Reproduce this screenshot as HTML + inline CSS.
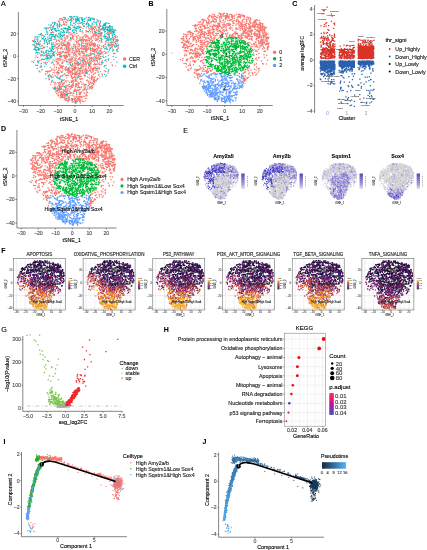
<!DOCTYPE html>
<html><head><meta charset="utf-8"><style>
html,body{margin:0;padding:0;background:#fff;}
svg{display:block;will-change:transform;filter:blur(0.25px);font-family:"Liberation Sans",sans-serif;}
</style></head><body>
<svg width="427" height="550" viewBox="0 0 427 550">
<rect width="427" height="550" fill="#fff"/>
<text x="1.1" y="6.0" font-size="7.2" fill="#000" stroke="#000" stroke-width="0.12">A</text><path transform="scale(.1)" d="M895 175h0m-299 15h0m4 13h0m7-17h0m16 5h0m0 13h0m15-6h0m9-2h0m2-6h0m13 4h0m11 11h0m9 3h0m30-23h0m2 11h0m7 11h0m17-26h0m22 9h0m0 4h0m33 5h0m28-1h0m118-5h0m5-7h0m147 48h0m-89-4h0m-7 7h0m-15-13h0m-96 10h0m-11-7h0m-112-14h0m-45 0h0m-47 15h0m-8-8h0m-3 3h0m-3-5h0m-10 20h0m-7-22h0m-40 7h0m-1 13h0m-3-15h0m0 18h0m0-14h0m-6-12h0m-5-3h0m-58 20h0m2 36h0m64-8h0m4-13h0m3 22h0m16-14h0m14-7h0m8-5h0m7 6h0m5 0h0m20 0h0m36 11h0m50-10h0m17 20h0m19-5h0m14 6h0m24-27h0m4 16h0m1 3h0m7-1h0m3 4h0m28 0h0m15-15h0m3 4h0m13 3h0m5 13h0m13-4h0m0-9h0m20-7h0m14 17h0m10-8h0m14 4h0m20-5h0m5 5h0m5-5h0m51 5h0m63 15h0m-16 14h0m-1-2h0m-79 3h0m-3-6h0m-1 8h0m-16-3h0m-14-14h0m-4 14h0m-23 0h0m-9-12h0m-4-2h0m-5 22h0m-4-29h0m-16 22h0m-8-3h0m0-10h0m-3 1h0m-1 12h0m-1 3h0m-9-4h0m-11-8h0m-5 4h0m-59-4h0m-20-8h0m-13 6h0m-6-8h0m-51 23h0m-32-15h0m-1 9h0m-13-14h0m-11 19h0m-44-16h0m-42-9h0m-114 12h0m24 41h0m14 4h0m6-11h0m25-11h0m14-2h0m20-1h0m50 17h0m31 6h0m1-11h0m19-4h0m19 16h0m31-2h0m30-8h0m29-6h0m12 5h0m20 12h0m32-7h0m2-16h0m4 9h0m3-2h0m7 5h0m20-13h0m7 12h0m19-15h0m1 11h0m0 8h0m2 7h0m18-12h0m8 7h0m16-19h0m20 11h0m11-12h0m0 14h0m11 11h0m1-26h0m7 25h0m58 0h0m26 3h0m4-18h0m0 16h0m16-19h0m21 10h0m13-16h0m4 55h0m-22-26h0m-13 26h0m-20-23h0m-4-3h0m-6 24h0m-1-16h0m-7-8h0m-5 14h0m-8-3h0m-10-8h0m-45 6h0m-2-3h0m-6 15h0m-1 6h0m-2-17h0m-2 2h0m-3 6h0m0-6h0m-4-9h0m0 7h0m-1-6h0m-8 24h0m-3-23h0m-1 5h0m-5 19h0m-7-22h0m-5 17h0m-3-7h0m-7 8h0m-4-18h0m-6 18h0m-1-12h0m-1 4h0m0 0h0m-12 1h0m-3-7h0m-30-10h0m-37 28h0m-1-11h0m-13-2h0m-2 11h0m-66-2h0m-1 3h0m-20-26h0m-14 10h0m-16-12h0m-6 23h0m-2 2h0m-6-15h0m-9 6h0m-3 2h0m-8-18h0m-7 29h0m-2-18h0m-18 16h0m-23-10h0m-3-2h0m-3 9h0m-6 4h0m-4-3h0m-27-9h0m-8 4h0m-33-5h0m-12 4h0m-22 5h0m-15-24h0m-38 14h0m-44 10h0m-2 2h0m-8-6h0m-21-6h0m-49 45h0m23-19h0m5 8h0m33-9h0m22 5h0m38-3h0m43 8h0m9-10h0m18-2h0m74 22h0m24-9h0m4-9h0m15 9h0m7-18h0m8 0h0m1 13h0m0 5h0m29-5h0m15 2h0m2 7h0m2-22h0m4 24h0m3-12h0m3-13h0m3 0h0m24 3h0m0-3h0m5 1h0m3 14h0m3 8h0m27-13h0m2 10h0m1-3h0m0 4h0m20-13h0m1 11h0m8-2h0m5-15h0m20 9h0m7-9h0m11-3h0m6 1h0m1 14h0m4 7h0m8-1h0m2 0h0m15-11h0m0 16h0m3-8h0m1-3h0m8-15h0m6 3h0m5-1h0m1 16h0m18 4h0m6-17h0m7 23h0m11 0h0m4-10h0m1-11h0m11 4h0m4-1h0m5 16h0m8-1h0m5-17h0m17-2h0m12-5h0m13 18h0m4-17h0m1 2h0m10 4h0m7 4h0m14-9h0m1 0h0m32 11h0m6 15h0m6-9h0m5-2h0m5-14h0m6 2h0m5 7h0m26 30h0m-20 11h0m-1-13h0m-8-2h0m-6-6h0m-38 23h0m-20-26h0m-7 15h0m-2-5h0m-1 4h0m-10 0h0m-13 9h0m-45 5h0m-4-1h0m-13-11h0m-12-15h0m-11 4h0m-4 9h0m-2-10h0m-11 10h0m-8-13h0m-25 12h0m0 3h0m-8 7h0m-2-21h0m-5 2h0m-10 16h0m-3-1h0m-1-10h0m-11 3h0m-8-3h0m-5 11h0m-4-10h0m0 5h0m-4-5h0m-6 9h0m-1 5h0m0-9h0m-4-9h0m-6 0h0m-6-5h0m-3 15h0m0 4h0m-2 4h0m-4-18h0m-3 4h0m-1-5h0m0-2h0m-7 0h0m-1 3h0m-1 23h0m0-21h0m-1 8h0m-2-10h0m-6 13h0m-10-19h0m-2 13h0m-5-2h0m-4 5h0m-4 12h0m-3-12h0m0 1h0m-15 5h0m0-19h0m-14 17h0m-14-16h0m-25-2h0m-3 15h0m-10-11h0m-11 11h0m-15 12h0m-17-25h0m-2 17h0m0-20h0m-1 18h0m-6 2h0m-5-9h0m-17 6h0m-1-17h0m-11 5h0m0-3h0m-4 1h0m-18 11h0m-3-1h0m-8-3h0m-13 1h0m-1-1h0m-1 14h0m0 0h0m-15-18h0m-1 0h0m-35 7h0m-12 1h0m-8 6h0m-36-13h0m-12 10h0m-27-17h0m-20 24h0m-21-9h0m-32-15h0m-20 16h0m43 35h0m21-16h0m15 15h0m59-20h0m57 20h0m12-15h0m16 23h0m2-23h0m5 22h0m5-3h0m7-3h0m8-2h0m2-4h0m14 2h0m4 11h0m15-20h0m0 13h0m2-19h0m1 0h0m10 9h0m11 12h0m0-15h0m4 19h0m7-5h0m6-4h0m19-9h0m3 18h0m2-1h0m4-13h0m1 6h0m1 3h0m1-9h0m0-6h0m1 12h0m2 4h0m0-17h0m7 7h0m1 15h0m5-18h0m51 13h0m16-5h0m1-14h0m11-2h0m2 25h0m8-5h0m2-6h0m24 6h0m4-8h0m1 3h0m7-9h0m11 3h0m18 3h0m5 13h0m2-13h0m3-1h0m5 0h0m3 0h0m2 11h0m1-3h0m7-16h0m9 16h0m6-5h0m3-8h0m2 17h0m2 3h0m5-28h0m5 20h0m0 3h0m3-9h0m4-6h0m2 4h0m6 14h0m3 1h0m0-16h0m4 13h0m5-5h0m4-7h0m3 13h0m5-8h0m34-18h0m33 0h0m31 22h0m9-20h0m1-1h0m16 7h0m5 2h0m17 9h0m12-15h0m10 24h0m1-2h0m3-3h0m0-19h0m6 19h0m0 3h0m2-26h0m3 25h0m9-23h0m37 35h0m-2 17h0m-2-20h0m0 3h0m-7 2h0m-5-9h0m0 5h0m-5 10h0m-1-10h0m-10 17h0m-27-10h0m0-2h0m-4-7h0m-5-2h0m-4 23h0m0-5h0m-6-17h0m-7 3h0m-8 12h0m-7-14h0m-43 8h0m-3 13h0m-3-15h0m-17 6h0m-19-14h0m-1 27h0m-1-26h0m-4 25h0m-10-12h0m-1 5h0m-3 8h0m-1-28h0m-4 10h0m-1-5h0m-18-4h0m0 10h0m-2 1h0m-4 5h0m-2-9h0m-4-8h0m0 9h0m-5 1h0m-10-8h0m0 26h0m-16-22h0m-3 5h0m-12-5h0m-2-6h0m-5 27h0m-1 0h0m0-6h0m-11-13h0m-5 10h0m-7-4h0m-2 0h0m-3 13h0m-3-5h0m0-15h0m-8 16h0m-1 3h0m-5-21h0m-4 7h0m-2-3h0m-12 1h0m-6 15h0m-3-13h0m-20-2h0m-10 9h0m-14-6h0m-3 4h0m-14 6h0m-2 1h0m-1-17h0m-13 2h0m-6 8h0m-16 2h0m-17-19h0m-4 4h0m-7 22h0m0-7h0m-1 1h0m-8-11h0m-3-9h0m-3 21h0m-8-16h0m-1 13h0m-2-16h0m-1 22h0m-1-24h0m-5 11h0m-3-10h0m-3 1h0m-7 4h0m-13 3h0m-1-8h0m-3 4h0m-6 24h0m-2-6h0m-1-19h0m-1 19h0m0 6h0m-21-22h0m-9 6h0m-2-3h0m-7 11h0m-15 2h0m-11-8h0m-11-5h0m-8 8h0m-10 3h0m-5-5h0m-69 4h0m-10 9h0m-14-24h0m-7 5h0m-51 12h0m-20-12h0m-8 34h0m49 3h0m3 9h0m7-18h0m27-3h0m1-3h0m94 3h0m30-2h0m21 5h0m1-8h0m1 11h0m3 0h0m13-7h0m17 6h0m1-10h0m7 6h0m14 7h0m18-12h0m2 10h0m13 7h0m1 3h0m3-21h0m6 7h0m6 11h0m2 11h0m2-2h0m2-8h0m0-18h0m1 20h0m0-19h0m5-1h0m1 16h0m5-16h0m2 27h0m6-9h0m2-10h0m15-6h0m2 19h0m4-14h0m8-5h0m6 22h0m16-20h0m2-5h0m2 15h0m6 3h0m11-14h0m3 16h0m2-13h0m2 11h0m7 7h0m6-9h0m4-10h0m5-5h0m7 6h0m16-1h0m0 6h0m8-11h0m3 14h0m4-3h0m3 0h0m7 3h0m2-1h0m0 15h0m1-24h0m1 23h0m2-6h0m3-17h0m0-5h0m3 23h0m1-6h0m2 8h0m0-4h0m0-5h0m2-7h0m7 6h0m1 1h0m2-9h0m2-4h0m4 5h0m1 2h0m1-5h0m0 6h0m1-8h0m16 15h0m0-18h0m0 22h0m1-8h0m2 11h0m11-20h0m5 13h0m0 3h0m1-11h0m3 13h0m8-1h0m1-12h0m8 4h0m1 3h0m0-2h0m5 14h0m4-12h0m2 9h0m5 2h0m1-21h0m9 1h0m2 8h0m4 6h0m8-22h0m15 24h0m1 4h0m3-18h0m0 18h0m4-4h0m45-22h0m9-2h0m63 8h0m6 6h0m4 4h0m0 4h0m39-4h0m1-10h0m4-1h0m-3 28h0m-6 3h0m-22 14h0m-10 5h0m-6-4h0m-63-4h0m-12-7h0m-16-8h0m-15 11h0m-9 4h0m-2-11h0m0 9h0m-4 10h0m-8-2h0m-1-20h0m-2 19h0m-5-2h0m-7-16h0m-6 22h0m-5-3h0m-3 4h0m-6-12h0m-2-12h0m-1 11h0m-4 0h0m-14-15h0m-4 19h0m-2-15h0m-5 24h0m-6-29h0m-3 4h0m-3-3h0m-1 25h0m-13 3h0m-3-18h0m-1 11h0m-5 4h0m-37-16h0m-4-9h0m-4 5h0m-12 18h0m-5-21h0m-3 5h0m-3 16h0m-7-20h0m-2 11h0m-1 3h0m-1-6h0m-3 0h0m-6-10h0m-7 19h0m-9 1h0m-3 7h0m-6-22h0m-5 18h0m-8-19h0m-8 7h0m-2-12h0m-7 8h0m-2-7h0m-4 23h0m-1 0h0m-5-7h0m-1 0h0m-4-10h0m-1 18h0m-1-4h0m-14-12h0m-5 11h0m-10-7h0m-19-8h0m-1 21h0m-6-23h0m-1 15h0m-2-7h0m-11 5h0m-5 2h0m-2-7h0m-5-9h0m0 12h0m-9 4h0m-4-2h0m-8-3h0m-4-9h0m-15 17h0m-12-12h0m0 12h0m-2 6h0m-4-12h0m-8-4h0m-12 2h0m-17 9h0m-12-22h0m-14 21h0m-79-12h0m-21 14h0m-20-8h0m-57 33h0m43-9h0m5 10h0m54-5h0m4 4h0m1-14h0m51 16h0m17-7h0m8-4h0m29 0h0m0 4h0m6-10h0m2-4h0m8 4h0m7-3h0m3 24h0m1-21h0m0 10h0m1 12h0m0-4h0m1-1h0m1-10h0m4 14h0m6-3h0m1-3h0m4 3h0m13-9h0m0 3h0m1 1h0m11 10h0m1-11h0m3-4h0m2 13h0m2-8h0m6 0h0m4-9h0m8 10h0m0-5h0m2 10h0m2 5h0m12-25h0m4 11h0m5-9h0m6 2h0m35-4h0m6 11h0m20 0h0m4-4h0m7 13h0m20-18h0m6 6h0m4 1h0m28 4h0m5 2h0m1 0h0m6-11h0m8 12h0m11-2h0m2 9h0m15-5h0m0-12h0m10 8h0m5-16h0m7 16h0m11-9h0m4-3h0m21-5h0m8 26h0m10-8h0m8 0h0m8-5h0m13 7h0m3-3h0m5-16h0m2 10h0m3-3h0m3 15h0m7 3h0m2-25h0m23 9h0m3 18h0m52-14h0m54 42h0m-55-5h0m-46-17h0m-5-4h0m-32 14h0m-8 9h0m-11-13h0m-2 9h0m0-15h0m-1 8h0m-1 3h0m-2 4h0m-5-3h0m-6-15h0m-4 11h0m-8-9h0m-3 26h0m-17-7h0m0 5h0m-2-24h0m-6 12h0m-1-1h0m-3 4h0m-8 2h0m-1-13h0m-2 8h0m-1 6h0m-6-4h0m-5-2h0m-1-12h0m-1 16h0m-6 6h0m-19-7h0m-8-9h0m-3 12h0m-13-15h0m-3 16h0m0 0h0m-7 0h0m0 1h0m-1-6h0m-5-17h0m-4 22h0m-8-9h0m-1-12h0m-17 5h0m0-5h0m-5 21h0m0-16h0m0-3h0m-3 9h0m-10 5h0m-1 8h0m-20-13h0m-5-12h0m-5 25h0m-4-9h0m-10-13h0m-9 24h0m-1-27h0m-5 13h0m-3 4h0m-5 8h0m-2-25h0m-4 19h0m-7 9h0m0-6h0m-6-22h0m-7 19h0m-24-13h0m-1-5h0m-2-1h0m-3 5h0m-2 5h0m-2 6h0m-5-13h0m-4 7h0m-24 19h0m-11-25h0m-4 21h0m-2-5h0m-4-2h0m-8-5h0m-6 11h0m-2-4h0m-8 3h0m-5-8h0m-12 6h0m-1 5h0m-83-16h0m-17-9h0m-22 27h0m-60-27h0m-3 2h0m-19 3h0m-14 27h0m50 4h0m19-5h0m28 22h0m3 4h0m13-5h0m3 5h0m16-2h0m16-16h0m52-1h0m18 2h0m3 3h0m5-1h0m1 2h0m3 11h0m3 1h0m2-5h0m9 6h0m2-25h0m12 3h0m23 13h0m0 6h0m9-3h0m6-21h0m11 6h0m14 3h0m6 5h0m3 1h0m10 4h0m14 7h0m0-21h0m3 5h0m2 15h0m9-15h0m2 12h0m1-13h0m14 5h0m19-9h0m1 21h0m5-18h0m7 2h0m9 4h0m3-4h0m4 1h0m4 9h0m2 3h0m22-15h0m1-9h0m17 9h0m6 13h0m1-14h0m2 11h0m0 2h0m2-2h0m1-13h0m9 1h0m4 8h0m1-9h0m9 20h0m0-12h0m6 6h0m14-1h0m8 9h0m10-18h0m3 19h0m0-15h0m1-1h0m0 3h0m4-1h0m12 4h0m1-15h0m13 10h0m6-8h0m2-2h0m8 4h0m17 0h0m1-8h0m10 8h0m4 10h0m17 8h0m6-26h0m15 23h0m2 0h0m9-19h0m42 10h0m43 12h0m48 32h0m-33 0h0m-3-8h0m-61 2h0m-41-19h0m-4 11h0m-16 3h0m-8-5h0m-1 3h0m-10-8h0m-4 3h0m-13 2h0m-10 5h0m-5-6h0m-2-1h0m-2-7h0m-2-3h0m-8 16h0m-25-14h0m-1 8h0m-5-6h0m-6 15h0m-6-4h0m-5-6h0m-2-5h0m-15-2h0m-8 16h0m0-4h0m-8-4h0m0-9h0m-8 17h0m-9-17h0m-5 18h0m-1-16h0m-3 10h0m-6 7h0m-11 2h0m-4-21h0m-6 16h0m-5-11h0m-2 6h0m-4-10h0m-3 15h0m-2 0h0m-1 7h0m-3-7h0m0 0h0m-2 11h0m-5-7h0m-1-19h0m-2 12h0m-8-5h0m-4-7h0m-1 4h0m-3 15h0m-2 2h0m0-19h0m-4 24h0m-4-19h0m-1-6h0m-12 25h0m-5-12h0m-2-5h0m-7 14h0m-12-5h0m-3-14h0m-2 12h0m-75-15h0m-5 26h0m-4-28h0m-1 22h0m-17-10h0m-4 11h0m-12-16h0m-12 4h0m-27 8h0m-134 5h0m4 16h0m88 5h0m16 13h0m21 0h0m5-18h0m17-3h0m6 8h0m20 3h0m5 6h0m2-4h0m10-19h0m0 17h0m5-14h0m1-2h0m6-1h0m0 15h0m4 4h0m2-3h0m3-2h0m4 12h0m1-23h0m4-1h0m4-1h0m12 18h0m7-5h0m2 7h0m4-16h0m16 11h0m3 9h0m3-9h0m8 11h0m2-18h0m15 8h0m3 3h0m1-22h0m12 3h0m0 1h0m6 18h0m1-3h0m6 5h0m2-5h0m0 10h0m2-10h0m2 4h0m1-13h0m5 17h0m2-24h0m4 13h0m4-2h0m1 10h0m17 5h0m2-13h0m5 13h0m16-5h0m6-11h0m5 13h0m1-24h0m3 16h0m2-17h0m1 15h0m12-7h0m1-1h0m2-7h0m17 7h0m2 16h0m2 4h0m6-26h0m23 10h0m3 11h0m3-22h0m5-1h0m5 6h0m2-2h0m1 24h0m2-26h0m6 10h0m7 11h0m7 2h0m1 4h0m10-4h0m1-8h0m3 10h0m3-6h0m1-20h0m11 19h0m0-7h0m11 10h0m5-17h0m4 21h0m14-12h0m0 7h0m3-3h0m91 35h0m-41-7h0m-38 9h0m-14-20h0m-11 22h0m-13-14h0m-13 2h0m-20-6h0m-2 10h0m-6-6h0m-5-9h0m-12 20h0m-4-10h0m-5-8h0m-6 7h0m-8 9h0m-12-11h0m-9 0h0m-1-12h0m-5 4h0m-8 11h0m-2-5h0m-1 3h0m-1 3h0m-2 12h0m-12-26h0m-4 10h0m-2 11h0m-1-9h0m-1 14h0m-6-13h0m-13 7h0m-3-12h0m-5 5h0m-8-11h0m0 15h0m-2-18h0m-12 16h0m-5 9h0m-3-5h0m-14-13h0m-8 11h0m-5-16h0m-9 9h0m-3 2h0m0-7h0m-5-7h0m-2 8h0m0 19h0m-1-15h0m-10 11h0m-2 2h0m-2 1h0m-2-6h0m-3 4h0m-7-1h0m-1-22h0m0 14h0m-5-7h0m-5 4h0m-4 9h0m-6-5h0m-2-8h0m-11-1h0m0-3h0m-11 3h0m-21 11h0m-13 8h0m-3 2h0m-12-15h0m-16-4h0m-1 7h0m-11 13h0m-10-27h0m-16 12h0m-6-1h0m-21-2h0m-9 3h0m-10 8h0m-10-4h0m-1 10h0m-12-5h0m-1 4h0m-4-2h0m-10-3h0m-6 1h0m-34-19h0m-8 7h0m-21 7h0m-4 3h0m10 9h0m54 18h0m4 8h0m15-15h0m23 16h0m30 1h0m6-25h0m15 5h0m18-5h0m7 13h0m3-12h0m1 25h0m11-11h0m0-13h0m6 4h0m21-5h0m24 24h0m2-2h0m6-10h0m13 13h0m13-25h0m0-3h0m14 13h0m3-14h0m0 11h0m4-7h0m8-3h0m2 23h0m1-20h0m9 5h0m12 2h0m1 1h0m0 3h0m0 9h0m1-5h0m4-6h0m6 3h0m7 4h0m4-11h0m1 16h0m3 4h0m1-17h0m1-11h0m5 26h0m0-9h0m0-14h0m1 4h0m1 16h0m1 3h0m4-3h0m2-21h0m2 16h0m9-4h0m2 1h0m8 12h0m2-18h0m2 16h0m2-2h0m3-7h0m1-16h0m1 7h0m1 7h0m0 12h0m16-15h0m1 2h0m10-7h0m8 3h0m1 1h0m15 7h0m4-18h0m4 12h0m6-6h0m5-2h0m1 6h0m3 8h0m18 9h0m16-26h0m4 8h0m14-9h0m5 28h0m2-3h0m7-7h0m10-11h0m2 6h0m37 12h0m30-8h0m3 10h0m58-17h0m-25 33h0m-58 6h0m-15-17h0m-31 17h0m-5 5h0m-15-1h0m-3 1h0m-3-10h0m-10-8h0m-1 13h0m-1 10h0m-22-5h0m-16-7h0m-22-14h0m-4 11h0m-2-8h0m-2-5h0m-4 0h0m-2 2h0m-28 12h0m-11-1h0m-12 7h0m-1-11h0m-1 3h0m-1-8h0m-5 19h0m-9-14h0m0-2h0m-23 4h0m-5 8h0m-9 8h0m-7-2h0m-10-13h0m-3 6h0m0 3h0m-1-21h0m-2 11h0m-1-10h0m-28 1h0m-6-1h0m-7 3h0m-2 23h0m-9-26h0m0 6h0m-37-5h0m-3 3h0m-12 6h0m-8 8h0m-22 7h0m-6-3h0m-15-16h0m-8-5h0m-13 15h0m-13 5h0m-6-3h0m-8-8h0m-23-8h0m-3 16h0m-1-17h0m7 37h0m7 7h0m89-13h0m14 0h0m0 12h0m1-1h0m18 6h0m10-3h0m8 3h0m10-3h0m14 9h0m21 0h0m38-26h0m4 24h0m3-16h0m10 15h0m16-10h0m2-14h0m1 18h0m14-1h0m27-9h0m8 5h0m0 2h0m5-12h0m9 8h0m7-5h0m42 20h0m8-7h0m7 9h0m16-26h0m16 15h0m2-12h0m3-5h0m4 8h0m10 19h0m2-15h0m3 1h0m2 2h0m4 1h0m0-7h0m0 5h0m6 11h0m13-1h0m9-10h0m2-9h0m9 1h0m-36 39h0m-3-8h0m-3-5h0m-6 6h0m-1 16h0m-9-5h0m-2 2h0m-6 7h0m-8-14h0m-5-2h0m-3-11h0m0 28h0m-8-6h0m-7-12h0m-3 1h0m-49 14h0m-13-18h0m-14-1h0m-1 1h0m-11 17h0m-9 2h0m-1-9h0m-5-8h0m-13 18h0m0-28h0m-2 28h0m-4-28h0m-3 0h0m-8 1h0m-11 10h0m-8 12h0m0-13h0m0-1h0m-3-5h0m-2-1h0m-10 11h0m-1-12h0m-17 9h0m-1 3h0m-33-6h0m-2-1h0m-1-5h0m-17 10h0m-2 12h0m-12-3h0m0 5h0m-12-18h0m-4 1h0m-1 12h0m-1-2h0m-15-4h0m-2-1h0m-8 9h0m-1 3h0m-2-5h0m-5-8h0m-18 14h0m-9-16h0m-1 10h0m-13-8h0m-19-13h0m-5 12h0m-7 24h0m39 3h0m5 19h0m5 1h0m22-1h0m10-13h0m8 3h0m3-15h0m0 4h0m3 15h0m2 3h0m2-23h0m2 23h0m10 1h0m8-22h0m2 13h0m4 5h0m2 0h0m2-22h0m19 28h0m4-2h0m2-10h0m1 7h0m0-6h0m6 11h0m8-12h0m6-5h0m1 4h0m9 12h0m2-25h0m2 21h0m3 5h0m4-4h0m8-5h0m1 3h0m1 2h0m4-11h0m4-3h0m2-6h0m3 9h0m1 2h0m3 6h0m0-6h0m1 8h0m4-7h0m1-14h0m20-2h0m0 9h0m5 1h0m2 13h0m7-12h0m5-8h0m9-3h0m0 17h0m5 8h0m25 2h0m5-25h0m1 2h0m19 24h0m3-23h0m3 6h0m5 5h0m6-12h0m5 3h0m31-5h0m1 4h0m8 20h0m13 3h0m7-5h0m2-9h0m0 6h0m5-2h0m8-13h0m3 0h0m-11 29h0m-7 13h0m-4-4h0m-5-14h0m-8 10h0m-3-3h0m-6 14h0m-15-3h0m-3 0h0m-3-17h0m-9 28h0m0-4h0m-8-4h0m-2-20h0m-1-1h0m-1 5h0m-5 24h0m-2-16h0m-2 6h0m-1-2h0m-2 6h0m-12 5h0m-14-21h0m-1-4h0m-12 22h0m-2-3h0m-1-18h0m-8-2h0m-6 1h0m-4 4h0m-5-1h0m-22 16h0m-1-21h0m-7 20h0m-20-17h0m-7-3h0m-5 6h0m-7 13h0m-2-3h0m-24-3h0m-7 7h0m-1 2h0m-13-2h0m0-14h0m-3 4h0m-4-5h0m0 3h0m-1-4h0m0 23h0m0-21h0m-19 19h0m-3-3h0m-15-6h0m-3-11h0m0 2h0m-1 16h0m-2-23h0m-9 17h0m-1-18h0m-4 9h0m-1 3h0m-1-8h0m0 16h0m-6 7h0m-2-5h0m-6 0h0m0-4h0m-2-3h0m-3-13h0m-11 12h0m-3 13h0m-1-16h0m-3-3h0m0 11h0m-5 1h0m-3-16h0m-2 22h0m-4-10h0m-7-1h0m-3-8h0m23 43h0m14-13h0m3 12h0m5-1h0m1-15h0m1 1h0m13 19h0m3-21h0m0-2h0m1 13h0m11 14h0m3-13h0m10 6h0m10 9h0m3-26h0m3 19h0m0-12h0m9-3h0m7 10h0m5 4h0m3-18h0m6 26h0m1-16h0m7 2h0m1-6h0m1-1h0m16-8h0m6 15h0m11 9h0m5 3h0m23-8h0m4-15h0m6 11h0m2-6h0m1-2h0m6 7h0m6-5h0m4-4h0m0-3h0m7-2h0m9 4h0m5 1h0m0 2h0m6 20h0m10-3h0m4-2h0m8-2h0m17-10h0m33 11h0m7-1h0m4 6h0m-4 30h0m-7-16h0m-2 9h0m-8 2h0m-7-21h0m-8 1h0m-32 8h0m-2-6h0m-1-2h0m-3 0h0m-1 13h0m-8 2h0m-1-14h0m-24 15h0m-2-8h0m-1 0h0m-29-4h0m-4 24h0m-9-8h0m-1-20h0m-14 3h0m-5 19h0m-7-18h0m-7-1h0m-6 2h0m-5-4h0m-1 11h0m-1 12h0m-1-14h0m-4 9h0m-5-3h0m-3 7h0m-4-14h0m-11 0h0m0 16h0m-3-8h0m-1-15h0m-1 4h0m-2-3h0m-1 0h0m-3 12h0m-7 0h0m-1 0h0m-1 1h0m0 1h0m-3 7h0m-3-5h0m-3-11h0m-5-6h0m-2 7h0m-1 12h0m0-20h0m-2 22h0m-7-4h0m-16 6h0m-2-16h0m-3 14h0m-12-17h0m-3-4h0m20 28h0m16 17h0m6-17h0m3 11h0m1-11h0m5 1h0m4 13h0m5-1h0m3-1h0m3-13h0m14 15h0m1 6h0m1-13h0m0 7h0m4 14h0m0-25h0m3 21h0m6-24h0m4 22h0m4 2h0m9-24h0m4 7h0m5 11h0m4-7h0m1 10h0m5-11h0m20 13h0m10 3h0m19-17h0m2 19h0m8-5h0m3-2h0m2-5h0m3-10h0m12 20h0m0-1h0m1-1h0m1-18h0m5 16h0m3-13h0m7-6h0m1 25h0m4-21h0m1-5h0m3 13h0m0-11h0m10-1h0m8 8h0m1-5h0m0 10h0m14-16h0m14 4h0m5 19h0m14-1h0m1-23h0m-11 48h0m-19 6h0m-11-2h0m-5-4h0m-12-10h0m-7 13h0m-2 6h0m-1-12h0m-1 8h0m-1-23h0m-1 24h0m-7-10h0m0-14h0m-4 6h0m-8 17h0m-6-4h0m-1-13h0m-5 4h0m-4 17h0m-3-1h0m-4-9h0m-4-10h0m-5 10h0m-7-16h0m-2 5h0m-1 23h0m-12-15h0m-6-7h0m0-1h0m-1 11h0m-19-12h0m-9 7h0m-2-9h0m-2 4h0m-4 13h0m-1 7h0m-6-14h0m-11-1h0m-3-5h0m-3 5h0m-7-4h0m74 22h0m27 10h0m1 0h0m0 0h0m5-10h0m3 6h0m1 5h0m42-3h0m1 3h0" stroke="#F8766D" stroke-width="13.5" stroke-linecap="round" fill="none"/><path transform="scale(.1)" d="M885 175h0m-20-2h0m-55 4h0m-16 2h0m-17-10h0m-10-1h0m-17-5h0m-9 1h0m-2 2h0m-15 12h0m-6-9h0m-7-6h0m-1 5h0m-1 2h0m-12-1h0m-1-3h0m-45 9h0m-14 0h0m-20 13h0m6 9h0m28-15h0m31 7h0m13 17h0m6-6h0m2 2h0m8-5h0m6-9h0m19 7h0m19-6h0m0-1h0m3 16h0m8-5h0m1-6h0m2-5h0m3 8h0m1 0h0m1 4h0m0 2h0m0-20h0m1 17h0m3 6h0m5-16h0m0 9h0m7 7h0m27-7h0m3-14h0m1-4h0m3 11h0m1 13h0m7-8h0m12-5h0m5-7h0m32 11h0m1 5h0m6 4h0m8-5h0m3-7h0m6-9h0m1 21h0m1-4h0m11-20h0m8 10h0m7-1h0m5-3h0m3 10h0m30 1h0m7 11h0m21 0h0m89 26h0m-18-1h0m-8-6h0m-4 2h0m-10 7h0m-42-18h0m-1-3h0m-21-4h0m-20 7h0m-6 11h0m-18-5h0m0-13h0m-17 20h0m-49-20h0m-5 28h0m-3-6h0m-20-19h0m-5 19h0m-12-20h0m-2 26h0m-7-15h0m-6 4h0m-10 1h0m-6 4h0m-6-18h0m-11 20h0m-16-19h0m-7 11h0m-2-17h0m-16 20h0m-1 4h0m-2 1h0m-31-12h0m-1 15h0m-69-12h0m-64 13h0m-13-8h0m-7-5h0m-6 12h0m-1-1h0m-5-16h0m-13 7h0m0 0h0m-38 21h0m19 6h0m5-8h0m22 20h0m2-14h0m9-7h0m24 9h0m3 5h0m1-14h0m17 13h0m2-11h0m6-1h0m15 10h0m46-6h0m24 11h0m5 3h0m20-22h0m14 12h0m18 3h0m30 11h0m11-7h0m60 0h0m18-20h0m3 2h0m22 25h0m1-28h0m2 16h0m2-11h0m21 19h0m10-22h0m1-2h0m43 1h0m1 0h0m30 0h0m3 17h0m26 3h0m10-8h0m2-2h0m1-11h0m2 18h0m3-5h0m1-9h0m1-4h0m10 11h0m1-9h0m22 26h0m13 0h0m2 0h0m2-13h0m1-1h0m4 7h0m0-6h0m2 9h0m16 2h0m4-4h0m15 31h0m-13 4h0m-2-14h0m-6 13h0m-10-1h0m-2-6h0m-3-17h0m-3 3h0m-1 18h0m-9-17h0m-11 1h0m-1 15h0m-1-11h0m-9 15h0m-5-25h0m-5-1h0m-3 8h0m-2 15h0m-1-9h0m-9 9h0m-1 4h0m0 0h0m-2-25h0m-1 13h0m-10-12h0m-2 14h0m-9 0h0m-23-9h0m-5 19h0m-5-24h0m-38 22h0m-10-11h0m-7-11h0m-66 4h0m-57 21h0m-1-6h0m-9-21h0m-14 13h0m-16 0h0m-2 0h0m-7-5h0m-11-8h0m0 6h0m-10 21h0m-3-26h0m-29 16h0m-2 4h0m-1-20h0m-7 20h0m-1-21h0m-3 20h0m-4-15h0m-2 16h0m-10-8h0m-7 3h0m-9 2h0m0-11h0m-11 6h0m-1 1h0m-18 4h0m-13-2h0m-3 4h0m-31-9h0m-4-12h0m-18 12h0m-4 6h0m-7-4h0m-6 1h0m-1 7h0m-12-16h0m-4 15h0m-13-1h0m-2-19h0m-3 18h0m-12-17h0m-23 6h0m-5 6h0m-5 9h0m-5-14h0m-12 1h0m22 32h0m3 15h0m3-20h0m1 21h0m19-23h0m21 18h0m2-22h0m22 21h0m16-20h0m6 3h0m3 10h0m4-8h0m16-3h0m11 1h0m15 21h0m1-11h0m16 10h0m8-19h0m4-4h0m0 14h0m1 8h0m8-2h0m0-2h0m22 5h0m1-15h0m7-10h0m6 25h0m41-23h0m3 8h0m18 11h0m8-22h0m10 3h0m61 7h0m62 7h0m67 10h0m1-11h0m10 9h0m15-17h0m7 11h0m34 10h0m18-27h0m6 4h0m2 14h0m11-4h0m19-9h0m4-5h0m2 6h0m7 2h0m3-10h0m2 8h0m2 4h0m0 4h0m5-13h0m7 10h0m12-11h0m2 26h0m1-14h0m7 3h0m3 3h0m8-10h0m2 14h0m0-22h0m14 2h0m-9 41h0m-5 2h0m-8-12h0m-9 19h0m-3-7h0m-9-17h0m-25 19h0m-2-2h0m-8-1h0m-30-2h0m-6 14h0m-32-5h0m-5-19h0m-66 2h0m-168-3h0m-141 17h0m-14 4h0m-7-17h0m-5 11h0m-12-16h0m-4 9h0m0-6h0m-14 24h0m-15-9h0m-4 9h0m-21-15h0m-9 0h0m-5 2h0m-8-3h0m-6 2h0m-9 3h0m-18-17h0m-20 12h0m-46-8h0m-2 15h0m-2-12h0m-3 7h0m-17-2h0m-38 27h0m11-1h0m30-3h0m31 20h0m9-4h0m10-16h0m4-5h0m10 26h0m34-5h0m2-22h0m8 20h0m9 6h0m4-5h0m2-18h0m4 3h0m15-3h0m12 1h0m1 13h0m5-13h0m4 19h0m17-15h0m16 10h0m0-14h0m4 17h0m12-16h0m5 8h0m0 6h0m16-13h0m80 18h0m303 0h0m34-16h0m5 15h0m0-17h0m6-2h0m11 23h0m2-5h0m14 7h0m9-17h0m5 0h0m5 12h0m16 3h0m12-19h0m28 10h0m18-9h0m5 29h0m-3 12h0m-7-13h0m-16 16h0m-19-11h0m-2-6h0m-4 2h0m-19 1h0m0 1h0m-3-1h0m-18 6h0m0-11h0m-9 1h0m-3-4h0m-14 17h0m-41-17h0m-3 6h0m-5 9h0m-205-6h0m-211 15h0m-60-22h0m-25-1h0m-10 11h0m-13 12h0m-2-16h0m-13-8h0m-11 27h0m0-11h0m0 0h0m-18 11h0m-2-14h0m0-11h0m-4 3h0m-32 14h0m-28-20h0m-2 22h0m-8-19h0m-15 22h0m-11-12h0m-4 9h0m-6 3h0m-4 34h0m12-1h0m1-1h0m5-19h0m14 4h0m8 3h0m9 8h0m0-1h0m7-9h0m3 13h0m3-4h0m4 5h0m46-10h0m4-16h0m29 23h0m0-15h0m2 3h0m15 4h0m5-7h0m17 20h0m4-19h0m6 16h0m11-5h0m106-20h0m96 22h0m62 2h0m258 0h0m25 2h0m10 1h0m9-22h0m15 15h0m5-13h0m35 5h0m1 6h0m2-7h0m14-1h0m13 18h0m-23 15h0m-18-2h0m-4-12h0m-20 23h0m-29-22h0m-30 15h0m-25-9h0m-197 3h0m-23-4h0m-62 13h0m-214-2h0m-13-2h0m-7 4h0m-23 9h0m-25-11h0m-36 5h0m-35-11h0m-24 14h0m-14-14h0m-3-4h0m-1 18h0m-7-4h0m-4 10h0m0 11h0m4-12h0m4 20h0m5 4h0m7-7h0m14 0h0m3-15h0m7 7h0m17-7h0m2 3h0m53 21h0m2-3h0m1 4h0m14-6h0m19-17h0m6 15h0m9 3h0m5-6h0m5-14h0m9 10h0m42 17h0m90-20h0m64-1h0m176-2h0m113 0h0m28 2h0m17 2h0m10 2h0m21 8h0m4-18h0m7 1h0m61 22h0m0-9h0m-43 14h0m-41 8h0m-31 14h0m-64-6h0m-192-11h0m-173 2h0m-82 5h0m-7 9h0m0 0h0m-1-13h0m-10 19h0m0-26h0m-1 0h0m-10 8h0m-12 20h0m-1-26h0m-14 3h0m-2 18h0m-16-3h0m-4-21h0m-6 13h0m-17 6h0m-7-11h0m-13-7h0m-7 5h0m-1-4h0m-15 19h0m-16-8h0m-13-1h0m-2 3h0m-10 4h0m21 12h0m41 6h0m4 5h0m1-4h0m12 10h0m13-6h0m2-4h0m13 11h0m11 8h0m3-15h0m3-2h0m4 1h0m8 4h0m3 2h0m7 11h0m2-6h0m8-5h0m9 4h0m10-18h0m1 10h0m5-5h0m4 3h0m2 8h0m59 7h0m75-2h0m75-18h0m112 3h0m41 4h0m41-7h0m63-6h0m12 26h0m37 1h0m74-2h0m27 8h0m-75 19h0m-25 4h0m-50-12h0m-16-2h0m-44 3h0m-36-11h0m-225 23h0m-19-4h0m-139 3h0m-15-19h0m-11-5h0m-5 15h0m-11 1h0m-2-12h0m-12 3h0m-2 8h0m-4 12h0m-9-14h0m-13 8h0m-17-4h0m-10 6h0m-99 18h0m16 11h0m41-14h0m1 11h0m3-7h0m1 13h0m140-7h0m5 1h0m140-3h0m119 10h0m21 1h0m14-24h0m56 1h0m96 2h0m44 14h0m10-1h0m3 5h0m20-21h0m33-5h0m86 20h0m-120 37h0m-93-13h0m-70 7h0m-2-12h0m-45-1h0m-66-3h0m-46 4h0m-21 11h0m-25-9h0m-146-1h0m-20-9h0m-54 11h0m-5-6h0m-43-1h0m-36 18h0m-5 0h0m-14-1h0m14 32h0m29-12h0m12-7h0m35 1h0m305 11h0m46 7h0m161 3h0m81-22h0m20 18h0m27 16h0m-6 0h0m-25 16h0m-76 4h0m-8-29h0m-105 24h0m-123-16h0m-57-4h0m-10-4h0m-20 11h0m-80 19h0m42 1h0m240 5h0m2-1h0m183 18h0m20 8h0m-42 10h0m-235 7h0m-30 9h0m-136-16h0m-57 9h0m-53-5h0m-12-11h0m-2 24h0m-13-12h0m-25 20h0m128-4h0m12 0h0m15 18h0m14 6h0m144-26h0m188 31h0m-343 6h0m-5 1h0m-87-8h0m118 55h0m114-4h0m103-15h0m21 9h0m11 14h0m-99 30h0m-186-9h0m-19 0h0m-43-7h0m26 26h0m196 13h0m-102 25h0m-8 1h0m-40-11h0m16 35h0m36 12h0m56 8h0m27 30h0m7 0h0" stroke="#00BFC4" stroke-width="13.5" stroke-linecap="round" fill="none"/><line x1="18.40" y1="12.00" x2="18.40" y2="105.50" stroke="#333333" stroke-width="0.6"/><line x1="18.40" y1="105.50" x2="123.70" y2="105.50" stroke="#333333" stroke-width="0.6"/><line x1="16.90" y1="33.70" x2="18.40" y2="33.70" stroke="#333333" stroke-width="0.55"/><text x="16.2" y="35.6" font-size="5.2" fill="#4D4D4D" stroke="#4D4D4D" stroke-width="0.12" text-anchor="end">20</text><line x1="16.90" y1="56.20" x2="18.40" y2="56.20" stroke="#333333" stroke-width="0.55"/><text x="16.2" y="58.1" font-size="5.2" fill="#4D4D4D" stroke="#4D4D4D" stroke-width="0.12" text-anchor="end">0</text><line x1="16.90" y1="78.70" x2="18.40" y2="78.70" stroke="#333333" stroke-width="0.55"/><text x="16.2" y="80.5" font-size="5.2" fill="#4D4D4D" stroke="#4D4D4D" stroke-width="0.12" text-anchor="end">−20</text><line x1="16.90" y1="101.20" x2="18.40" y2="101.20" stroke="#333333" stroke-width="0.55"/><text x="16.2" y="103.0" font-size="5.2" fill="#4D4D4D" stroke="#4D4D4D" stroke-width="0.12" text-anchor="end">−40</text><line x1="23.40" y1="105.50" x2="23.40" y2="107.00" stroke="#333333" stroke-width="0.55"/><text x="23.4" y="112.9" font-size="5.2" fill="#4D4D4D" stroke="#4D4D4D" stroke-width="0.12" text-anchor="middle">−30</text><line x1="40.60" y1="105.50" x2="40.60" y2="107.00" stroke="#333333" stroke-width="0.55"/><text x="40.6" y="112.9" font-size="5.2" fill="#4D4D4D" stroke="#4D4D4D" stroke-width="0.12" text-anchor="middle">−20</text><line x1="57.80" y1="105.50" x2="57.80" y2="107.00" stroke="#333333" stroke-width="0.55"/><text x="57.8" y="112.9" font-size="5.2" fill="#4D4D4D" stroke="#4D4D4D" stroke-width="0.12" text-anchor="middle">−10</text><line x1="75.00" y1="105.50" x2="75.00" y2="107.00" stroke="#333333" stroke-width="0.55"/><text x="75.0" y="112.9" font-size="5.2" fill="#4D4D4D" stroke="#4D4D4D" stroke-width="0.12" text-anchor="middle">0</text><line x1="92.20" y1="105.50" x2="92.20" y2="107.00" stroke="#333333" stroke-width="0.55"/><text x="92.2" y="112.9" font-size="5.2" fill="#4D4D4D" stroke="#4D4D4D" stroke-width="0.12" text-anchor="middle">10</text><line x1="109.40" y1="105.50" x2="109.40" y2="107.00" stroke="#333333" stroke-width="0.55"/><text x="109.4" y="112.9" font-size="5.2" fill="#4D4D4D" stroke="#4D4D4D" stroke-width="0.12" text-anchor="middle">20</text><text x="69.0" y="121.2" font-size="5.3" fill="#000" stroke="#000" stroke-width="0.12" text-anchor="middle">tSNE_1</text><text x="7.2" y="58.0" font-size="5.3" fill="#000" stroke="#000" stroke-width="0.12" text-anchor="middle" transform="rotate(-90 7.2 58.0)">tSNE_2</text><circle cx="124.60" cy="59.10" r="1.75" fill="#F8766D"/><circle cx="124.60" cy="66.20" r="1.75" fill="#00BFC4"/><text x="129.0" y="61.0" font-size="5.3" fill="#1a1a1a" stroke="#1a1a1a" stroke-width="0.12">CER</text><text x="129.0" y="68.1" font-size="5.3" fill="#1a1a1a" stroke="#1a1a1a" stroke-width="0.12">Ctrl</text><text x="148.6" y="6.4" font-size="7.0" fill="#000" stroke="#000" stroke-width="0.08" font-weight="bold">B</text><path transform="scale(.1)" d="M2127 142h0m18 4h0m46-13h0m1 3h0m11 6h0m4-8h0m0 0h0m5 7h0m10 4h0m15-10h0m2-1h0m5-1h0m23 4h0m10 1h0m17 10h0m15-2h0m11 3h0m45-7h0m20 3h0m11-2h0m23 5h0m81 30h0m-19-2h0m-12-7h0m-25-12h0m0 9h0m-2 13h0m-1-18h0m-5-7h0m-1 5h0m-9 1h0m-18-8h0m-2 16h0m0 9h0m-11-16h0m0 6h0m-8 6h0m-6-6h0m-1-4h0m-33-7h0m-3 3h0m-14 4h0m-6-3h0m-2 12h0m-3-7h0m-2-12h0m-4 16h0m-22-2h0m-1 11h0m-8-13h0m-4-8h0m-4 13h0m0 5h0m-3-23h0m-1 20h0m-1-8h0m0 6h0m0-6h0m-3-8h0m-2 7h0m-4 6h0m-1-5h0m-5-7h0m0 18h0m-3-17h0m-2 1h0m-15-9h0m-2 13h0m-14 13h0m-6-11h0m-2-6h0m-3-5h0m-2 10h0m-9 7h0m-2-1h0m-2 7h0m-12-22h0m-7 22h0m-6-5h0m-12-8h0m-11-14h0m-2 11h0m-1 3h0m-10 6h0m-13-7h0m-1 11h0m-1-7h0m-6-7h0m-14-8h0m-2 18h0m-7-8h0m-68 38h0m0 2h0m1-1h0m8-9h0m8 17h0m6-13h0m6 3h0m14 9h0m15-28h0m2 4h0m6 9h0m1 0h0m3 16h0m1-15h0m2 14h0m37-10h0m1-12h0m7 23h0m9-21h0m5 4h0m6-1h0m6 10h0m34 8h0m2-15h0m13-12h0m18 23h0m4 0h0m2-4h0m17-20h0m3 15h0m1-12h0m5 2h0m16 19h0m10-20h0m7 19h0m10-7h0m5 0h0m9-3h0m6-11h0m16 22h0m1-22h0m22 20h0m6-6h0m2-16h0m11 25h0m39 3h0m3-10h0m14-3h0m23 3h0m3-9h0m16 4h0m4-12h0m11 25h0m7-7h0m5-11h0m1-2h0m43 18h0m9-4h0m7-4h0m6 6h0m18 5h0m2-4h0m33 34h0m-5 0h0m-13-1h0m-4-2h0m-2-7h0m-3 1h0m-2-2h0m-35 7h0m-4-8h0m0-8h0m-9-5h0m-2 3h0m-1 12h0m-2 1h0m-4-19h0m-1 12h0m-2 6h0m-11 4h0m-18-5h0m-2 6h0m-6-2h0m-1-15h0m-2 12h0m-16 6h0m-13-22h0m-2 2h0m-2 18h0m-10 7h0m-12-19h0m-22 6h0m-1-8h0m-3 16h0m-7 3h0m-8-12h0m-12-9h0m-1 12h0m-1-6h0m-3-3h0m-2-9h0m-14 28h0m-3-26h0m-2 3h0m-3-2h0m-21 23h0m-3-1h0m-1-4h0m-4-4h0m-3 3h0m-1-14h0m-4-4h0m-36 23h0m-6 0h0m-11 4h0m-20-21h0m-12 11h0m-21-4h0m-13-11h0m-7 15h0m-12 7h0m-8-3h0m-15-18h0m-8 5h0m-13 0h0m-5-3h0m-9-4h0m-10 2h0m-8 13h0m-2-6h0m-15 15h0m-3-19h0m0 21h0m-2-24h0m-1 5h0m-5 11h0m-1-6h0m-13 4h0m-1-10h0m-2 6h0m-29-13h0m0 4h0m-8 9h0m-24-7h0m-6 7h0m-15-5h0m-52 36h0m16-3h0m1 14h0m11-7h0m0-12h0m15 7h0m10-10h0m16 19h0m0 0h0m1-19h0m11 23h0m6-27h0m2 7h0m9-8h0m1 20h0m1 2h0m10-5h0m2 7h0m6-8h0m21-14h0m4 12h0m28 10h0m5-4h0m16 5h0m9-15h0m6 10h0m2-2h0m10-7h0m1 11h0m11-2h0m6-5h0m9 11h0m2-15h0m4 12h0m2-16h0m1-4h0m3 22h0m5 0h0m0-19h0m3 17h0m3-10h0m4 11h0m24-17h0m4 21h0m8-17h0m2-8h0m5 26h0m6-16h0m5 1h0m5 3h0m2-16h0m15 17h0m9-11h0m4-1h0m1 6h0m6-11h0m4 5h0m0 23h0m25-13h0m30-7h0m25-9h0m7 19h0m2-6h0m12-12h0m0 21h0m9-11h0m1 16h0m0-1h0m2-17h0m2 14h0m6-17h0m3 20h0m6-9h0m9-13h0m3 23h0m10-15h0m1-1h0m8 10h0m20-15h0m7 18h0m3-14h0m2-1h0m10 14h0m13-2h0m4 6h0m1-5h0m3-14h0m0 13h0m4 5h0m5-9h0m6 9h0m0-23h0m10 15h0m1 9h0m2-17h0m5-5h0m5-1h0m4 25h0m8-4h0m1-23h0m0 5h0m1 6h0m11-4h0m3-8h0m5 2h0m3 8h0m0-5h0m2 21h0m2-4h0m1 5h0m2-7h0m2 5h0m9 2h0m7-19h0m1 9h0m12 6h0m23 12h0m-4-2h0m-11 18h0m-1-20h0m0 12h0m-9 9h0m-4-2h0m-5-2h0m0-17h0m-1 9h0m-3-6h0m-14 8h0m0 14h0m0-11h0m-6-6h0m-6 7h0m-1-9h0m-1 6h0m-1-11h0m-2 11h0m-9-5h0m-3-1h0m-1 0h0m-4 19h0m-20-7h0m-9 6h0m-4-20h0m-2-6h0m-2 5h0m0-3h0m-23 25h0m-6-23h0m-9 13h0m-3-14h0m-8-1h0m-2 13h0m0 8h0m-11-11h0m-11-5h0m-4 21h0m-10-6h0m0-2h0m-3-18h0m-8 16h0m-16 8h0m-1-23h0m-1 13h0m-1 6h0m-18-6h0m-9-9h0m-14 14h0m-9 0h0m-6-7h0m-1-2h0m-6-5h0m-2 16h0m-39-12h0m-14 9h0m-3-18h0m-9 10h0m-29 8h0m-6-14h0m-17 22h0m-7 1h0m-3-27h0m-12 12h0m-1-9h0m-33 8h0m-8-13h0m-2 28h0m-3-24h0m-8 8h0m-1 4h0m-1 13h0m-19-5h0m-3 4h0m-6-8h0m-4 0h0m-1-14h0m0 23h0m-6-21h0m-4 19h0m-20-7h0m-13-12h0m-9-1h0m0 2h0m-17-6h0m-1 9h0m-9 5h0m0-10h0m-5 0h0m-1 3h0m-19 18h0m-6-7h0m-15-17h0m-3 24h0m-4 0h0m-12-16h0m-21 1h0m-5 16h0m-4-13h0m-80 33h0m11-1h0m5 1h0m9-9h0m0 4h0m1 14h0m10-4h0m11 5h0m26-14h0m14-13h0m5 14h0m4-8h0m15 13h0m12-2h0m1 4h0m3-19h0m11-2h0m1 21h0m3-7h0m1 11h0m8-9h0m18 2h0m7 6h0m3-4h0m24-14h0m2 8h0m6-12h0m0 20h0m9-3h0m2-18h0m1 20h0m2-14h0m8 20h0m13-6h0m5 6h0m6-1h0m5-10h0m3 0h0m23-17h0m17 14h0m11-11h0m8 17h0m2-19h0m3 18h0m7-4h0m12 10h0m5-23h0m15 13h0m15-11h0m10 1h0m58-3h0m22 18h0m13-2h0m40-17h0m30 10h0m4 12h0m5-16h0m5 13h0m4 1h0m0-8h0m3-14h0m2 9h0m13 13h0m2 7h0m8-18h0m7 1h0m3-2h0m9-1h0m2-2h0m3 4h0m2 8h0m2-4h0m2 0h0m1-7h0m1 8h0m2 7h0m1-22h0m1 27h0m7-17h0m3 0h0m0-8h0m27 17h0m16-16h0m9 11h0m8 6h0m2-3h0m1 2h0m1-17h0m5 18h0m6-8h0m1 14h0m3-21h0m3-5h0m2 7h0m9-3h0m10 15h0m1-19h0m14 9h0m3 12h0m0-18h0m2-3h0m5 18h0m29 22h0m-14 7h0m-1-18h0m-2 22h0m-5-10h0m-7-4h0m-3 15h0m-6 1h0m-10-14h0m-1 10h0m-1-20h0m-2 0h0m-25 29h0m-3-11h0m-3-7h0m-3 8h0m-2-12h0m-12 11h0m-5-5h0m-4 13h0m-7-19h0m-1 0h0m-3 16h0m-4-10h0m-5-1h0m-3 15h0m-2-20h0m-1-6h0m-3 9h0m-7 0h0m-17 3h0m-7-12h0m-14 16h0m-4 0h0m-3-15h0m-5 22h0m-4-22h0m-1 12h0m-19-13h0m0 9h0m-10 17h0m-1-26h0m-15 6h0m-1 16h0m-5-13h0m-7-8h0m-6 22h0m-4-4h0m-1-8h0m-1 15h0m-17-2h0m0 2h0m-8 2h0m-6-6h0m-1-18h0m-3-1h0m-12-1h0m-2 8h0m-6 7h0m-7-16h0m-14 5h0m-6 15h0m-6-8h0m-3 11h0m-18-2h0m-1 0h0m0 4h0m-5-10h0m-18-15h0m-1-2h0m-8 22h0m-8-15h0m-4 4h0m-1-6h0m-22 2h0m-2-4h0m-4 15h0m-8-18h0m0 6h0m-3 19h0m0 3h0m-14 1h0m-3-7h0m-16-18h0m-13 17h0m0 3h0m-1-19h0m-3-1h0m-8 0h0m-5 24h0m-16-10h0m-2 5h0m-5-20h0m-9 8h0m-19 9h0m0 2h0m-5-15h0m-12 16h0m-3-18h0m-4 22h0m-11-23h0m-3 11h0m-17 13h0m-1-26h0m-2 7h0m-4 12h0m-1-14h0m-7 5h0m-4-4h0m-12 6h0m-8-3h0m-1 13h0m-2-15h0m-1 14h0m-14 3h0m-9-21h0m-20 12h0m-27-10h0m-6 4h0m-2 9h0m-5 8h0m-1-26h0m-16 11h0m-23-1h0m-12 14h0m-9-11h0m-10 0h0m-14-4h0m-23 44h0m18-5h0m2-14h0m4-2h0m22 4h0m6 20h0m1-25h0m1 16h0m23 10h0m5-1h0m12-18h0m2-8h0m21 8h0m2 10h0m2-11h0m3 17h0m9-21h0m3 9h0m2 10h0m2 1h0m9-20h0m15-4h0m1 14h0m7 13h0m5-7h0m2 2h0m8-19h0m3 7h0m2 9h0m23-13h0m14 6h0m2-1h0m12 7h0m3-1h0m16 2h0m5 3h0m5-3h0m17-11h0m2 3h0m4-8h0m0 3h0m7 3h0m3 15h0m18-4h0m5 7h0m4 1h0m2-3h0m1-17h0m0-2h0m32 15h0m17-12h0m10-5h0m14-2h0m11 7h0m31-3h0m4-7h0m28 5h0m17 5h0m3 3h0m0 1h0m2-5h0m2-1h0m6 4h0m3 0h0m10-6h0m7 6h0m4-1h0m14 7h0m5-4h0m8 1h0m7 1h0m11 0h0m2 10h0m2-2h0m11-14h0m5 0h0m2 16h0m7-4h0m1-6h0m25-8h0m9 9h0m6-15h0m2 6h0m6 16h0m2-12h0m3-11h0m11 4h0m10 19h0m3-23h0m9 2h0m2 0h0m5 19h0m3-9h0m2-6h0m39 22h0m5-5h0m2-21h0m6 17h0m5-10h0m3 3h0m2 7h0m0-12h0m1 15h0m3-8h0m1-7h0m4 9h0m2-12h0m15 10h0m3-1h0m2 3h0m4-16h0m15 12h0m1 2h0m1-12h0m2 17h0m13-12h0m9 20h0m0-16h0m10 5h0m0 12h0m5-18h0m8 15h0m0-12h0m5 4h0m-13 32h0m-11 1h0m-2 5h0m-2-8h0m-5-7h0m-10 18h0m-6-19h0m-3 19h0m-7-22h0m-8 10h0m-2 9h0m-1-23h0m-1 9h0m-11 14h0m-1-16h0m-20 7h0m-3-2h0m-18-8h0m-1-1h0m-39 3h0m-11-4h0m-2-2h0m-21 1h0m-35 21h0m-10-4h0m-313-12h0m-5 8h0m-7 1h0m-10-9h0m-2-2h0m-5 9h0m-1 13h0m-10-28h0m-10 24h0m-12 3h0m0-7h0m-11-21h0m0 29h0m-2-28h0m-14 11h0m-22 3h0m-11 12h0m-4-12h0m-17 1h0m-6 8h0m-5-23h0m-13 18h0m-2-6h0m-12-5h0m-1-6h0m-17 5h0m-3-4h0m0 18h0m-38 4h0m-14-12h0m-6 8h0m-8 6h0m-5 2h0m-1-7h0m-10-2h0m-9-19h0m-6 14h0m-9-15h0m-7 1h0m-1 34h0m11 1h0m2-2h0m8 15h0m2 10h0m7-14h0m2 5h0m19-19h0m8 2h0m4-3h0m6 2h0m4 16h0m15 2h0m7-8h0m26 14h0m25-24h0m1 24h0m39-21h0m7 19h0m1 4h0m1-24h0m0 21h0m7 0h0m4-24h0m3 25h0m4 1h0m0-10h0m8-11h0m7 15h0m4-18h0m3-1h0m1 26h0m24-9h0m3 1h0m7-3h0m5-9h0m390 0h0m18 1h0m1 0h0m19 16h0m17-9h0m1 2h0m8 3h0m7-21h0m7 2h0m2 20h0m27-10h0m0-11h0m3 28h0m4-20h0m1-4h0m6 8h0m6-1h0m10-1h0m0 15h0m4-18h0m5-5h0m0 15h0m2 2h0m0-18h0m1-2h0m7 7h0m5-3h0m7 14h0m17-4h0m1 9h0m0 0h0m4-11h0m1-3h0m4 8h0m7 2h0m2-4h0m4-6h0m0 2h0m-2 20h0m0 16h0m-7-3h0m-1 10h0m-5-1h0m-17-22h0m-15 28h0m-3-3h0m-6-10h0m-6-15h0m-11-1h0m-8 10h0m-5-1h0m-5 19h0m-20-6h0m-9-4h0m-1-11h0m-11 6h0m-5 4h0m-11-16h0m-19 14h0m-17 4h0m-8-13h0m-427-5h0m-4 20h0m-2-10h0m-1 9h0m-2-4h0m-21-3h0m-15 10h0m-6-11h0m-9 12h0m-2-9h0m-20-3h0m-2-4h0m-59 0h0m-4-8h0m-7 12h0m-2 3h0m-15-3h0m-2 0h0m-11 5h0m-7 0h0m-3 9h0m-6-19h0m-1 18h0m-3-24h0m-12 25h0m-2-26h0m-6 4h0m-4 25h0m-4-18h0m-5 2h0m-1 7h0m-7 3h0m17 35h0m9-26h0m3 22h0m1 2h0m12 0h0m9-22h0m25 8h0m2 2h0m4 11h0m4-11h0m10 3h0m7 12h0m18-9h0m0 4h0m5-13h0m1-8h0m3-1h0m1 26h0m0-23h0m13-2h0m6 13h0m15-3h0m5-12h0m9 18h0m1-17h0m6 10h0m3-1h0m8 7h0m1 11h0m11-8h0m6-14h0m490 17h0m15-9h0m17 9h0m24-8h0m41-6h0m16-8h0m29 0h0m5 15h0m2-4h0m-24 19h0m-8 4h0m-7-4h0m-51 23h0m-17-23h0m-17 1h0m-21 17h0m-477-15h0m-20 16h0m-1 8h0m-7-8h0m0-19h0m-1 16h0m-1 7h0m-2 0h0m0-25h0m-1 10h0m-8-4h0m-14 22h0m-13-16h0m-11 13h0m-5-5h0m-1-2h0m-1-12h0m-4 19h0m-7 4h0m-5-12h0m-4 10h0m-1 1h0m-11-9h0m-5 7h0m-4-25h0m-6 27h0m-12-10h0m-5 0h0m0 3h0m-13-1h0m-12-20h0m-17 8h0m-21 40h0m6-17h0m11 13h0m5-4h0m32-10h0m19 28h0m32-4h0m1-14h0m13 11h0m0 8h0m1-19h0m5 11h0m7-6h0m10-15h0m7 9h0m1 3h0m0-9h0m12 13h0m5-14h0m0 0h0m524 8h0m4 1h0m1 2h0m25-7h0m75 1h0m27 6h0m-22 23h0m-55-2h0m-2 3h0m0 2h0m-24 0h0m-11 11h0m-502 6h0m0-26h0m-3 8h0m-13 16h0m-16-19h0m-27-4h0m-10 23h0m-3-23h0m-20 6h0m-25 0h0m-10 4h0m-17-5h0m-7 9h0m-22 7h0m-8 5h0m-4-3h0m-37-9h0m-24 10h0m18 10h0m41-1h0m6 6h0m32 10h0m27-10h0m2 2h0m12-5h0m1 13h0m5 5h0m0-13h0m13-2h0m44 4h0m5-9h0m10-1h0m4 22h0m507-19h0m1 0h0m37-7h0m45 9h0m60-7h0m-10 37h0m-33 2h0m-7-6h0m-60 3h0m-16 4h0m-5 9h0m-488 5h0m-5-4h0m-13 5h0m0-22h0m-101 13h0m-34 8h0m-1-7h0m-3-10h0m-14 16h0m-20-16h0m-7-4h0m-17 1h0m21 33h0m52 11h0m79-20h0m13 13h0m5 14h0m17-13h0m28 2h0m19-13h0m2 20h0m8-16h0m12 19h0m393-5h0m76-12h0m16 15h0m9 1h0m-1 18h0m-7 16h0m-22-18h0m-16-9h0m-35 9h0m-27 3h0m-1 3h0m-31 3h0m-337-3h0m-7 6h0m-1-8h0m-3 0h0m-19 9h0m-6-4h0m-2-17h0m-8 15h0m-3 3h0m-1-7h0m-8 5h0m-16-17h0m0 20h0m-7-22h0m-9 19h0m-25-18h0m-9 6h0m-10-2h0m-2 10h0m-9-3h0m0-6h0m-5 8h0m-3 13h0m-10-21h0m-2 3h0m-46-9h0m-15 16h0m-6-11h0m-4 2h0m66 28h0m6 9h0m17 5h0m8 1h0m12-6h0m2 8h0m6 6h0m70-25h0m14 1h0m55 10h0m8-10h0m292 9h0m9-9h0m14-4h0m26 19h0m12-9h0m28-4h0m2 7h0m23-7h0m21 11h0m-11 13h0m-30 1h0m-27 6h0m-18 18h0m-10-1h0m-19-17h0m-4 2h0m-6 19h0m-13-15h0m-428-10h0m-12 15h0m-13-15h0m-1 22h0m-5-18h0m-23 16h0m35 14h0m448 10h0m2 10h0m0-27h0m5 5h0m0-2h0m0 0h0m5 21h0m0-3h0m0-18h0m5 11h0m11 6h0m0-9h0m14-9h0m-26 30h0m-9 24h0m-1 0h0m-6-12h0m-434 10h0" stroke="#F8766D" stroke-width="15" stroke-linecap="round" fill="none"/><path transform="scale(.1)" d="M2206 383h0m43 2h0m26-3h0m3-2h0m5-1h0m6-3h0m4 5h0m14 3h0m0-10h0m6 6h0m11-2h0m5 11h0m6-7h0m0 4h0m19 2h0m0-10h0m2 6h0m9-4h0m3 8h0m67 18h0m-11 4h0m-2-2h0m-4 4h0m-10-14h0m-10 7h0m-3 6h0m-13-11h0m-8 19h0m-2-7h0m-4-1h0m-3-2h0m-8 5h0m-2-1h0m-20-3h0m-14-6h0m-2 12h0m-2-6h0m-3-13h0m-4 20h0m-25-2h0m-3 3h0m-5-19h0m0-5h0m-12 25h0m-4-15h0m-1-14h0m-68 15h0m-3 7h0m-9 3h0m0-12h0m-3 10h0m-1 4h0m-1-6h0m0-5h0m0 12h0m-7-14h0m-1-9h0m-21 17h0m-6 7h0m-29 12h0m6 2h0m2-6h0m2 8h0m6-15h0m5 6h0m3 10h0m12-7h0m0 0h0m5 8h0m3-9h0m3 0h0m0 18h0m1-15h0m10-6h0m3 1h0m0 2h0m2 8h0m6-16h0m2 27h0m4 2h0m4-16h0m1-9h0m3 6h0m19 16h0m17 1h0m2-25h0m3 14h0m10-13h0m5 26h0m1-17h0m0 14h0m12 2h0m5-8h0m11-14h0m4 20h0m11-24h0m1 14h0m18-1h0m1 6h0m8-1h0m12-1h0m4 1h0m2-2h0m1-5h0m14 5h0m4-12h0m3 18h0m0-3h0m10 4h0m2-23h0m2 13h0m16-14h0m4 4h0m2 8h0m6-7h0m2 2h0m1 13h0m4-8h0m4-11h0m1-2h0m11 8h0m3-3h0m4 1h0m3 11h0m3-15h0m0-2h0m1 4h0m1 13h0m3 0h0m2-16h0m2 21h0m7-3h0m0 4h0m1-12h0m16 3h0m0 4h0m10 4h0m7 12h0m-4 4h0m-4-7h0m-2 7h0m-8 17h0m-3-7h0m-9-1h0m-7 8h0m-4 2h0m-2-4h0m0 1h0m-8-8h0m-12 11h0m-1-21h0m-1 11h0m-7-1h0m-9 7h0m-3 4h0m0-15h0m-2-5h0m-15 3h0m0 11h0m-1-15h0m-1 13h0m0-18h0m-1 3h0m0 6h0m-1 8h0m-5-5h0m-2 4h0m-2 7h0m0 0h0m-6-7h0m-3 12h0m0-5h0m-1 0h0m-2-14h0m-3 6h0m-3-9h0m-2 19h0m-1-25h0m0 15h0m-4 9h0m-5-5h0m-1-18h0m0 2h0m-5 16h0m-3 2h0m-3-14h0m-9 13h0m-1-5h0m-7-15h0m-8 14h0m-7-9h0m-5 8h0m-3 12h0m-12 2h0m-4 0h0m-2-13h0m-3-1h0m-12 15h0m-4-21h0m-5 17h0m-1-11h0m-5-14h0m-19 12h0m-3 3h0m-2 2h0m-6-1h0m-17 2h0m-4 10h0m-7-18h0m-1 16h0m-2-24h0m-2 8h0m-5-1h0m-1 20h0m0-18h0m-2 17h0m-6-3h0m-1-25h0m-4 14h0m-3 5h0m-2-12h0m-1-6h0m-1 27h0m-4 0h0m-13-19h0m0 11h0m-20 4h0m-9-23h0m0 9h0m-1-9h0m-2 10h0m-3 3h0m-6 4h0m-1-8h0m-18 5h0m-10 21h0m2 15h0m14 3h0m9 2h0m7-4h0m11-4h0m12-4h0m8 14h0m8 0h0m4 1h0m6-14h0m0 7h0m5 0h0m2 6h0m6-1h0m7-16h0m4 12h0m2-16h0m3 6h0m1 13h0m4-12h0m7-4h0m14 14h0m11-22h0m4 18h0m14-16h0m2 16h0m5 6h0m11-7h0m3-6h0m8 11h0m1-13h0m6 5h0m12-1h0m3-9h0m8 9h0m18-3h0m7 10h0m2-1h0m2 5h0m1-10h0m10 2h0m5-5h0m12-5h0m2 0h0m3 7h0m2-13h0m0 8h0m6-4h0m0 15h0m2-21h0m40 4h0m2 17h0m1-17h0m16-2h0m2 11h0m0-5h0m3 3h0m0-8h0m5-1h0m8 11h0m8 0h0m4-6h0m2 1h0m4 1h0m1 17h0m3 2h0m1-13h0m4 13h0m9-27h0m10 13h0m3 11h0m12-20h0m0 9h0m2-8h0m2-2h0m3-1h0m7 22h0m2 3h0m1-12h0m-7 21h0m-1 4h0m-1-1h0m-8-6h0m-1-1h0m-5-1h0m-1 16h0m0 5h0m-3-13h0m-5 16h0m-2-20h0m-7 1h0m-5 5h0m-2 13h0m-13 4h0m-12-9h0m-4-19h0m-6 9h0m-3 0h0m-9-6h0m-10 12h0m-3 0h0m-3-13h0m0 3h0m-6 15h0m-2-17h0m-4 20h0m-3-13h0m-8 13h0m-7-6h0m-18 4h0m-2 3h0m-13-21h0m-7 13h0m-6-10h0m-4 21h0m-4-3h0m-5-25h0m-19 0h0m-2 21h0m-4 3h0m-3-19h0m-2 5h0m-1 6h0m-9-10h0m-16 14h0m-6 8h0m-9-24h0m-2 13h0m-1-9h0m-4-8h0m-4 6h0m-3-6h0m0 24h0m-6-12h0m-13-11h0m-25 17h0m-2 0h0m-4-13h0m-2 19h0m-6-15h0m-14 16h0m-4 4h0m-5-10h0m-1 8h0m-9 0h0m-3-2h0m-3 1h0m-13-1h0m-1 2h0m0 2h0m-11-26h0m-6 25h0m-7-25h0m-3 4h0m-2 17h0m-3-8h0m-3 11h0m-2-17h0m-7 5h0m-7-9h0m-1 8h0m-8 7h0m-1 3h0m2 32h0m10 3h0m11-2h0m6-23h0m1-1h0m0 24h0m1-20h0m1 1h0m3-4h0m1 2h0m5 9h0m0-11h0m4 1h0m24 4h0m8-4h0m2 17h0m2-7h0m5 10h0m2-2h0m0-7h0m1-5h0m6 2h0m1 6h0m5-13h0m2 2h0m4-2h0m19 4h0m21 0h0m4 19h0m4-4h0m5-11h0m11 3h0m19-8h0m6 15h0m5-19h0m16 24h0m11-4h0m0-11h0m2 3h0m6-4h0m1 4h0m14-3h0m1 9h0m11-12h0m4-11h0m15 17h0m5-15h0m8 7h0m4 11h0m15-19h0m21 28h0m1-15h0m1 11h0m4 2h0m8-8h0m1 6h0m1-9h0m11 10h0m1-2h0m8-8h0m11-8h0m2 19h0m6-8h0m2-18h0m7 23h0m2-11h0m14 14h0m1-4h0m0-7h0m4 7h0m1-19h0m7 19h0m10-21h0m3 22h0m3-14h0m3 17h0m11-19h0m4 37h0m-28-4h0m-3-7h0m-15-1h0m0-3h0m-5 21h0m-2-19h0m-3 17h0m-5-4h0m-3 6h0m-10-10h0m-7 8h0m-9-9h0m0 7h0m-2-15h0m-2 13h0m-2 11h0m-11-26h0m-7 14h0m-1-12h0m-1 2h0m-7 22h0m-4 0h0m-1 3h0m-3-1h0m-1-6h0m-3-15h0m-15 22h0m-2-14h0m-2-15h0m-13 5h0m-4 20h0m-8-5h0m-1 7h0m-2-21h0m-2-1h0m-3 0h0m-1 14h0m-3-12h0m-2-6h0m-5 14h0m-2-13h0m0 18h0m-6-4h0m-1 3h0m-19-6h0m-1 11h0m-3-20h0m-15-1h0m-8 25h0m-5-8h0m-5 8h0m-11-4h0m-2 0h0m-3-18h0m-2-6h0m-4 19h0m-15-10h0m-2 17h0m-14-19h0m-1 14h0m-3 4h0m-2-24h0m-6 5h0m-1 6h0m-5 12h0m-1-6h0m-7-10h0m-1-8h0m-17 29h0m-1-1h0m0-24h0m-10 21h0m-13-4h0m-10-10h0m-17 1h0m-15-3h0m-1-5h0m-8 15h0m-8 0h0m-6-10h0m-7-5h0m-6 23h0m-2 0h0m-7 0h0m8 10h0m2 18h0m4-20h0m1 7h0m4 8h0m5-9h0m12 12h0m19-8h0m5 2h0m1-8h0m1-9h0m8 5h0m39-3h0m11-1h0m3 25h0m14-17h0m3-2h0m0 22h0m3-7h0m8-16h0m14 20h0m1-4h0m3 5h0m16-8h0m1 3h0m3-12h0m5 4h0m6 3h0m0 1h0m2 2h0m10 7h0m3-8h0m1-4h0m3-7h0m4-4h0m1 7h0m8 4h0m4 13h0m1-10h0m9-5h0m4 0h0m18-9h0m2-4h0m0 27h0m0-22h0m3-5h0m2 18h0m4-5h0m1 8h0m15-7h0m1 9h0m4-15h0m4 17h0m4-24h0m6 16h0m12 4h0m2-10h0m0 7h0m4 4h0m6 7h0m6-16h0m3 6h0m7 0h0m2 6h0m3-23h0m28 13h0m3 0h0m4 11h0m0-2h0m15 2h0m11-24h0m4 19h0m2-1h0m12 5h0m2 2h0m1-21h0m22-1h0m2-1h0m2 14h0m0-13h0m-2 25h0m-15 0h0m-13 29h0m-17-7h0m-18-22h0m0 3h0m-1 23h0m-10-9h0m-12-16h0m-22 26h0m-7-10h0m-4 1h0m-2 2h0m-2-17h0m-5 10h0m-5 2h0m-1 10h0m0-20h0m-26 8h0m-1-12h0m-10 21h0m-5-19h0m-12-1h0m-1 16h0m0 1h0m-1 6h0m-10-23h0m-2 17h0m-8-5h0m-2-6h0m-1 20h0m-7-28h0m-18 10h0m0-8h0m-1 2h0m-3-4h0m0 3h0m-4 10h0m-1-9h0m-12 22h0m-8-19h0m-3 21h0m-3-11h0m0-9h0m-3 5h0m-1 13h0m-15-15h0m-5 8h0m0-2h0m-9-9h0m-5 5h0m-9-10h0m0 1h0m-9 20h0m-15 5h0m-16-6h0m-8 5h0m-19-11h0m-4 0h0m-6 1h0m-8-5h0m-4 3h0m-4-9h0m-3 10h0m-2 5h0m-6-7h0m-11-9h0m0 30h0m15-4h0m9-1h0m1 5h0m6-4h0m1 3h0m4 7h0m22-6h0m1 16h0m7 0h0m2-16h0m0 21h0m1-8h0m10 3h0m11-3h0m1-6h0m2 14h0m3-24h0m1 17h0m3 4h0m1 5h0m2-17h0m3 6h0m16-16h0m2 6h0m8 8h0m0 10h0m0 3h0m7-1h0m2 1h0m1-4h0m1-19h0m1 0h0m6-3h0m2 13h0m0-7h0m3 7h0m1-14h0m0 21h0m1-14h0m3 3h0m4-9h0m3 23h0m4-15h0m18-1h0m4-10h0m7 18h0m0-6h0m3 10h0m6 6h0m1-22h0m1 2h0m2 13h0m12-10h0m2-6h0m6-3h0m7 25h0m7-11h0m12 11h0m3-4h0m5-12h0m4 3h0m1 4h0m5-5h0m2 16h0m10-1h0m13-18h0m14 12h0m0-7h0m4 14h0m12-19h0m4 10h0m3 8h0m5-12h0m0-6h0m8 12h0m1-10h0m2-11h0m3 11h0m2-9h0m15 3h0m1 4h0m6 1h0m5 18h0m4-14h0m5-3h0m12-9h0m0 2h0m-41 27h0m-21 6h0m-1 7h0m-18 6h0m-4-6h0m0-3h0m-17-12h0m-7 8h0m-15 10h0m-2 2h0m0-13h0m-5 13h0m-3 9h0m0-10h0m-5-3h0m-7-15h0m0 2h0m-5 9h0m-7 15h0m0 0h0m-5-5h0m-5-11h0m-2 1h0m-1-11h0m-5 27h0m-1 1h0m0-29h0m-14 6h0m-4 18h0m-3-8h0m-5 8h0m-4-17h0m-16-7h0m-4 11h0m-1-5h0m-2 12h0m-7 6h0m-1-7h0m-4 1h0m-4 9h0m-3-3h0m-4-19h0m-11 24h0m-9-1h0m-1-14h0m-9-8h0m-2 18h0m-4-14h0m-1-1h0m-3 9h0m-1-10h0m-2 8h0m-1-6h0m-6-2h0m-2 11h0m-4-4h0m-2 8h0m-1 4h0m-8-18h0m-6-9h0m-1 22h0m-1-3h0m-43-17h0m75 42h0m8 5h0m7-1h0m8-16h0m4-2h0m0 10h0m1-4h0m4-4h0m10 4h0m9 4h0m2 7h0m4-10h0m2 3h0m1 4h0m1-2h0m5-1h0m5-6h0m1 20h0m2 2h0m6-23h0m3-3h0m1 24h0m3-1h0m2-8h0m5-4h0m1-8h0m0 10h0m4-14h0m4 13h0m40 7h0m0 0h0m3-1h0m2 4h0m6-20h0m0 16h0m19-19h0m4 1h0m19 14h0" stroke="#00BA38" stroke-width="15" stroke-linecap="round" fill="none"/><path transform="scale(.1)" d="M2014 735h0m23 4h0m8 4h0m24-9h0m30 15h0m12-8h0m2-2h0m20-1h0m18 1h0m1 8h0m1-12h0m12 7h0m5-1h0m6 0h0m30 5h0m36 1h0m173-3h0m15-9h0m-1 26h0m-4-7h0m-3 25h0m-5-10h0m-1-16h0m-1 14h0m0 9h0m-18-6h0m-6-10h0m-19-6h0m-25-3h0m-24 22h0m-9 5h0m-3-24h0m-7 21h0m-3-22h0m-1 26h0m-8-4h0m-4-24h0m-1 4h0m-3-1h0m-6 8h0m-8 6h0m-16-7h0m-4 8h0m-11-10h0m-4 4h0m-12 14h0m0-12h0m-8 4h0m-3-7h0m-2-9h0m0 3h0m-49 12h0m-44-18h0m-24 20h0m-2 1h0m-2-16h0m-9 15h0m-4 1h0m-10-7h0m-1-2h0m-5-3h0m-33-4h0m-15 7h0m-7-2h0m4 38h0m7 1h0m73-17h0m3 2h0m13 21h0m3-19h0m3 20h0m0 1h0m0-21h0m9 9h0m0-6h0m8 0h0m11-3h0m14 17h0m0-8h0m1 7h0m0 7h0m22-10h0m36 3h0m5-7h0m1 7h0m5-1h0m2 5h0m0 2h0m8-18h0m13-8h0m2 19h0m5-11h0m2 11h0m4-3h0m6 0h0m0-15h0m7 23h0m28-21h0m2 19h0m4 4h0m12-4h0m48-11h0m7-4h0m4 5h0m22 4h0m15-15h0m10 35h0m-1 2h0m-7 9h0m-8-17h0m-6-2h0m-2 19h0m-10 2h0m-1 3h0m0-9h0m-4-12h0m-7-2h0m-19 24h0m-1 0h0m-6 0h0m-11 0h0m-10-11h0m-13 9h0m-2 1h0m-23-10h0m-11 2h0m0 5h0m-2-14h0m-8 17h0m-7-7h0m-1 12h0m-4-11h0m-5 9h0m-6-2h0m-1-4h0m-15-3h0m-2-18h0m-8 15h0m-7 9h0m-8-23h0m-16 0h0m-1 2h0m-5 17h0m-50-5h0m-1-11h0m-6 14h0m-6-1h0m-2-7h0m-2 12h0m-12-22h0m-2 10h0m0-1h0m-8 16h0m-7-3h0m-1 6h0m-3-24h0m-2 0h0m-4 12h0m-1-2h0m-7-5h0m-2-9h0m-17 18h0m-10-17h0m-1 9h0m-13-7h0m-25 0h0m18 53h0m13-3h0m0-22h0m4 16h0m8 1h0m3 10h0m12-4h0m6-6h0m11-14h0m3 18h0m4-16h0m5 18h0m2-13h0m5 3h0m2 4h0m1 4h0m4 5h0m4-10h0m9-6h0m3 0h0m8 0h0m11 6h0m5 7h0m1 1h0m0 2h0m0 1h0m3-11h0m2 10h0m0-22h0m1 11h0m1 2h0m1-10h0m5 12h0m9-14h0m8-5h0m1 6h0m10 13h0m3-8h0m1 5h0m6-1h0m7-6h0m3-1h0m2 7h0m2-14h0m1 20h0m3-20h0m5 2h0m1 23h0m1-24h0m2 2h0m1 8h0m0-1h0m7-6h0m16 15h0m5-9h0m6 2h0m11 13h0m9-2h0m0 3h0m3-22h0m4 17h0m2-10h0m8 13h0m12-5h0m3-3h0m26 0h0m5-18h0m5 6h0m3 18h0m2 0h0m2-5h0m16 4h0m10-19h0m12 11h0m7 3h0m0 11h0m11-6h0m1-2h0m10-5h0m2-6h0m2-6h0m1 5h0m2 14h0m-6 14h0m-5-3h0m-11-1h0m-13 10h0m-14-3h0m-6 0h0m-9 7h0m-1 2h0m-10-6h0m-4 6h0m-7-15h0m-3 5h0m-1-1h0m-2 9h0m-9 4h0m-16-19h0m-12 13h0m-1 4h0m-6 0h0m-14 8h0m-10-3h0m-4 0h0m-6 4h0m-8-17h0m-3 17h0m-6-15h0m-6 13h0m-24-26h0m-8 9h0m0 4h0m-19 7h0m-11-16h0m-4 24h0m-1-12h0m-3-3h0m-10 11h0m-3-14h0m-1-10h0m-5 19h0m-7 9h0m-11-5h0m-4-9h0m-1 1h0m-17-6h0m-1-9h0m-1 13h0m-2-2h0m-10 1h0m-6 11h0m0-21h0m0 8h0m0-6h0m-1 18h0m-3-13h0m-2 8h0m-2-4h0m-6-2h0m0 14h0m-3 1h0m0-17h0m-2-3h0m-8 22h0m-4-21h0m-5 14h0m-1-17h0m-3 8h0m-5-3h0m-3-7h0m-4 15h0m-4-7h0m-5-5h0m18 34h0m15 15h0m5-20h0m1 8h0m3-5h0m16 10h0m4-11h0m9 12h0m5 7h0m2-19h0m3 18h0m4-13h0m11 11h0m6-6h0m0-13h0m5 22h0m2 2h0m6 1h0m7-16h0m3 4h0m8 8h0m2-20h0m9-3h0m0 6h0m2 16h0m5 4h0m6-2h0m8 3h0m4-21h0m8 8h0m1 12h0m3-5h0m13 1h0m11-12h0m1 17h0m9-20h0m1-5h0m11 2h0m6-4h0m6 28h0m2-14h0m15-15h0m0 2h0m7 24h0m1-3h0m6-7h0m4 7h0m2 2h0m2 1h0m2-13h0m10-1h0m13-9h0m8 22h0m13 0h0m15-9h0m6-1h0m3 5h0m-2 26h0m-5 4h0m-3-7h0m-4-12h0m-6 15h0m-9 9h0m-14 2h0m-11 1h0m-10 1h0m-3-27h0m-7 26h0m-2-22h0m-4 20h0m-4-16h0m-2 14h0m-22-14h0m-2 19h0m-3-27h0m-34 24h0m-8-8h0m-19-3h0m-27 10h0m0-22h0m-1 15h0m-4-14h0m-2 6h0m-2 0h0m-5 3h0m-3-3h0m0 8h0m0 10h0m-3-23h0m-8 23h0m-2 0h0m0-7h0m-3-19h0m-2 7h0m-1-7h0m-5 10h0m-7-3h0m0 14h0m-2-12h0m-2-4h0m-2 4h0m-2 7h0m-3-7h0m-1-10h0m-2 26h0m0-24h0m-6 0h0m-3 21h0m0-5h0m0-2h0m-1 8h0m-7-10h0m-15 2h0m-2 7h0m-3-10h0m-1-14h0m-11 1h0m30 40h0m14-6h0m10 5h0m1-2h0m6-3h0m5-1h0m12 5h0m1 3h0m0-2h0m2 10h0m4 0h0m10-2h0m5 3h0m1-6h0m15-14h0m3 9h0m1 17h0m4-23h0m2 15h0m7 8h0m0-21h0m17 11h0m10 9h0m3-4h0m6 5h0m4-4h0m6-19h0m5 19h0m4-7h0m3 0h0m1-5h0m14 17h0m3-8h0m1-1h0m2-16h0m1 16h0m4-3h0m5-11h0m3 17h0m6-1h0m0-21h0m4 26h0m2-17h0m17-6h0m4 8h0m32 6h0m12 2h0m-6 23h0m-22 8h0m-10-2h0m-5-7h0m-12-10h0m-6 14h0m-2-4h0m-5 7h0m0-1h0m0 5h0m-6-13h0m-5-7h0m-10 17h0m-8-8h0m-1-8h0m-5 22h0m-2-5h0m-1 2h0m-3 3h0m-4-22h0m-1 10h0m-4 14h0m-1-18h0m-11 15h0m-12 1h0m-2-18h0m-3-2h0m-1-5h0m-2 14h0m-29-10h0m-5-4h0m-5 14h0m-1 10h0m-3-20h0m-14 0h0m-3 1h0m0-5h0m-8 4h0m103 33h0m1-3h0m0-1h0m6 3h0m2-5h0m44 4h0m2 1h0" stroke="#619CFF" stroke-width="15" stroke-linecap="round" fill="none"/><path transform="scale(.1)" d="M1718 531h0" stroke="#F8766D" stroke-width="12.5" stroke-linecap="round" fill="none"/><line x1="166.80" y1="9.00" x2="166.80" y2="105.50" stroke="#333333" stroke-width="0.6"/><line x1="166.80" y1="105.50" x2="272.70" y2="105.50" stroke="#333333" stroke-width="0.6"/><line x1="165.30" y1="31.10" x2="166.80" y2="31.10" stroke="#333333" stroke-width="0.55"/><text x="164.6" y="32.9" font-size="5.2" fill="#4D4D4D" stroke="#4D4D4D" stroke-width="0.12" text-anchor="end">20</text><line x1="165.30" y1="54.30" x2="166.80" y2="54.30" stroke="#333333" stroke-width="0.55"/><text x="164.6" y="56.1" font-size="5.2" fill="#4D4D4D" stroke="#4D4D4D" stroke-width="0.12" text-anchor="end">0</text><line x1="165.30" y1="77.50" x2="166.80" y2="77.50" stroke="#333333" stroke-width="0.55"/><text x="164.6" y="79.3" font-size="5.2" fill="#4D4D4D" stroke="#4D4D4D" stroke-width="0.12" text-anchor="end">−20</text><line x1="165.30" y1="100.70" x2="166.80" y2="100.70" stroke="#333333" stroke-width="0.55"/><text x="164.6" y="102.5" font-size="5.2" fill="#4D4D4D" stroke="#4D4D4D" stroke-width="0.12" text-anchor="end">−40</text><line x1="171.80" y1="105.50" x2="171.80" y2="107.00" stroke="#333333" stroke-width="0.55"/><text x="171.8" y="112.9" font-size="5.2" fill="#4D4D4D" stroke="#4D4D4D" stroke-width="0.12" text-anchor="middle">−30</text><line x1="189.40" y1="105.50" x2="189.40" y2="107.00" stroke="#333333" stroke-width="0.55"/><text x="189.4" y="112.9" font-size="5.2" fill="#4D4D4D" stroke="#4D4D4D" stroke-width="0.12" text-anchor="middle">−20</text><line x1="207.00" y1="105.50" x2="207.00" y2="107.00" stroke="#333333" stroke-width="0.55"/><text x="207.0" y="112.9" font-size="5.2" fill="#4D4D4D" stroke="#4D4D4D" stroke-width="0.12" text-anchor="middle">−10</text><line x1="224.60" y1="105.50" x2="224.60" y2="107.00" stroke="#333333" stroke-width="0.55"/><text x="224.6" y="112.9" font-size="5.2" fill="#4D4D4D" stroke="#4D4D4D" stroke-width="0.12" text-anchor="middle">0</text><line x1="242.20" y1="105.50" x2="242.20" y2="107.00" stroke="#333333" stroke-width="0.55"/><text x="242.2" y="112.9" font-size="5.2" fill="#4D4D4D" stroke="#4D4D4D" stroke-width="0.12" text-anchor="middle">10</text><line x1="259.80" y1="105.50" x2="259.80" y2="107.00" stroke="#333333" stroke-width="0.55"/><text x="259.8" y="112.9" font-size="5.2" fill="#4D4D4D" stroke="#4D4D4D" stroke-width="0.12" text-anchor="middle">20</text><text x="220.0" y="119.6" font-size="5.3" fill="#000" stroke="#000" stroke-width="0.12" text-anchor="middle">tSNE_1</text><text x="154.5" y="57.0" font-size="5.3" fill="#000" stroke="#000" stroke-width="0.12" text-anchor="middle" transform="rotate(-90 154.5 57.0)">tSNE_2</text><circle cx="274.60" cy="52.20" r="1.75" fill="#F8766D"/><text x="279.3" y="54.1" font-size="5.3" fill="#1a1a1a" stroke="#1a1a1a" stroke-width="0.12">0</text><circle cx="274.60" cy="58.80" r="1.75" fill="#00BA38"/><text x="279.3" y="60.7" font-size="5.3" fill="#1a1a1a" stroke="#1a1a1a" stroke-width="0.12">1</text><circle cx="274.60" cy="65.40" r="1.75" fill="#619CFF"/><text x="279.3" y="67.3" font-size="5.3" fill="#1a1a1a" stroke="#1a1a1a" stroke-width="0.12">2</text><text x="221.8" y="37.6" font-size="4.6" fill="#333" stroke="#333" stroke-width="0.12" text-anchor="middle">0</text><text x="226.9" y="56.7" font-size="4.6" fill="#222" stroke="#222" stroke-width="0.12" text-anchor="middle">1</text><text x="224.6" y="89.6" font-size="4.6" fill="#222" stroke="#222" stroke-width="0.12" text-anchor="middle">2</text><text x="1.0" y="130.8" font-size="7.0" fill="#000" stroke="#000" stroke-width="0.08" font-weight="bold">D</text><path transform="scale(.1)" d="M669 1343h0m2 0h0m14-1h0m2 2h0m1 5h0m26-4h0m2-4h0m7-2h0m20 9h0m10-1h0m186 32h0m-22-14h0m-2 10h0m-4-5h0m-3-6h0m-4 3h0m-5 1h0m-10-11h0m-10 3h0m-4 19h0m-6-3h0m-3-2h0m0-23h0m-7 4h0m-4 18h0m-2 3h0m-18-24h0m-15 11h0m-3 5h0m-11 7h0m-10-4h0m-1-13h0m0 15h0m-4-14h0m-2 19h0m-8-23h0m-12 1h0m-3 20h0m-9 2h0m-4-10h0m-3 11h0m-4-16h0m-1 12h0m-1-9h0m0 5h0m-7-1h0m-1 3h0m-6-6h0m-3 1h0m-1 0h0m-14-7h0m-5 12h0m-10-16h0m-7 11h0m-3-6h0m0 13h0m-4 0h0m-2-23h0m-6 26h0m-2 1h0m-17-14h0m-20 7h0m-8-17h0m-4 2h0m-3 17h0m-1-3h0m-7 7h0m-3-24h0m-10 16h0m-1 6h0m-8-6h0m-13-7h0m-8 7h0m-66 39h0m1-1h0m8-8h0m10 7h0m35-15h0m7 0h0m2 13h0m1-1h0m3-2h0m2-21h0m26 4h0m11 10h0m0 14h0m18-9h0m3 2h0m5 0h0m7 6h0m4-27h0m6 7h0m16-4h0m11 20h0m12-11h0m2-8h0m34 6h0m4-7h0m1 11h0m0 11h0m5-11h0m1-15h0m6 0h0m2 0h0m5 4h0m11 2h0m1 9h0m13 13h0m7 0h0m10-6h0m1-21h0m3 10h0m18 1h0m29 1h0m1 16h0m17-27h0m13 1h0m33 21h0m4-16h0m16 19h0m9-5h0m12-1h0m1-14h0m5 4h0m13-3h0m1 21h0m5-12h0m1-1h0m56 13h0m36 30h0m-2-2h0m-4-22h0m-3 1h0m-21-4h0m-9 2h0m-1 13h0m-4 6h0m-6-17h0m-3 6h0m-1 6h0m-1 11h0m-1-2h0m-4-15h0m0 12h0m-2 1h0m-38-11h0m-1 15h0m-4-22h0m-25 7h0m-2 0h0m-26 4h0m-14-17h0m-3 27h0m-1-17h0m-1 4h0m-15 14h0m-16-5h0m0-5h0m-1-1h0m-4-6h0m-3-7h0m-11 6h0m-3-9h0m0 13h0m-2 1h0m-22-11h0m-11 22h0m-1-12h0m-5-5h0m-26-5h0m-18 3h0m-26 10h0m-12-17h0m-2 4h0m-6 1h0m-12 22h0m-10-11h0m-6 10h0m-4-16h0m-31 5h0m-12 7h0m-8-2h0m-4-12h0m-3 7h0m-8-4h0m-9 6h0m-11 7h0m-1 2h0m-15-8h0m0-13h0m-2 6h0m0 5h0m-2 5h0m-4 7h0m-14-9h0m-2 9h0m-4-21h0m0 16h0m-13-22h0m-9 8h0m-2 7h0m-3-9h0m-4 19h0m-10-27h0m-17 17h0m-4 8h0m-15-3h0m-49 35h0m15-5h0m14-1h0m9 4h0m15-9h0m12 0h0m19-7h0m3 9h0m6-8h0m5 18h0m4-1h0m11 0h0m21-14h0m1 12h0m9-24h0m9 8h0m3-2h0m37 14h0m10 8h0m10-4h0m16 3h0m9-26h0m0 19h0m7-10h0m1 2h0m1 5h0m10-2h0m5 9h0m23-9h0m12 6h0m0-21h0m4 12h0m11 10h0m6 5h0m2-1h0m4-17h0m0 2h0m12 16h0m2-22h0m5 0h0m3 11h0m3 0h0m1 6h0m9-10h0m1 3h0m25 9h0m2-24h0m4 4h0m0-3h0m5 5h0m17 13h0m8-13h0m17 4h0m2-11h0m2 29h0m4-1h0m12-15h0m4-3h0m6 12h0m3-16h0m0 15h0m8-3h0m6 9h0m11-12h0m9-4h0m1 10h0m1 1h0m9-19h0m14 2h0m4 9h0m12 10h0m0-3h0m6-21h0m5 6h0m1-5h0m17 3h0m1 12h0m12 12h0m3-11h0m7 10h0m3-6h0m6-5h0m2-9h0m5 8h0m10 13h0m1-10h0m3-8h0m7 11h0m6-10h0m3-11h0m1 11h0m3-5h0m1 13h0m2 4h0m3-16h0m13 0h0m5 21h0m2-8h0m1-12h0m29 41h0m0-2h0m-13-1h0m-1 8h0m-5-17h0m-11 6h0m-2 9h0m-3-8h0m-6-5h0m-7 18h0m0 1h0m-1-15h0m0-7h0m-1-1h0m0 0h0m-4 3h0m-1 10h0m-5 10h0m0-7h0m0 7h0m-3-15h0m-1 11h0m-8-2h0m-1-5h0m-6 4h0m-1-13h0m-9 3h0m-14 0h0m-9 10h0m-1-12h0m-1-4h0m-2 9h0m0 1h0m-8-9h0m-3-5h0m-2 0h0m-2 7h0m-5-7h0m-7 16h0m-6-11h0m-5 23h0m-1-14h0m-7-3h0m-2 15h0m-2-19h0m-9 15h0m-12-4h0m-2-17h0m-13 10h0m-5-1h0m-4 18h0m-12-25h0m-5 25h0m-2-12h0m-5-17h0m-1 5h0m-2 4h0m-6-5h0m-2 25h0m-11-10h0m-26 4h0m-1 3h0m-4-7h0m-41 3h0m-15 6h0m-1-21h0m-2 6h0m-6 10h0m-36-5h0m-11-7h0m-13 0h0m-2 2h0m-10 12h0m-2-10h0m-14-10h0m-8 3h0m0-6h0m-7 4h0m-3-1h0m-3 17h0m-2-18h0m-3 5h0m-6 5h0m-5 10h0m-4 4h0m-3-27h0m-7 1h0m-13-2h0m-5 15h0m-9 6h0m0-16h0m-18-2h0m-3 3h0m-16 13h0m-6-3h0m-2 2h0m-16-1h0m0 3h0m-7 0h0m-6 1h0m-2-4h0m0-11h0m-14-1h0m-16 4h0m-6 6h0m-5-13h0m-4 4h0m-12 16h0m-20 3h0m-7-23h0m0 25h0m-5-19h0m-73 51h0m9-1h0m12-1h0m5-3h0m41 3h0m14-15h0m2 3h0m3 12h0m3-8h0m27-10h0m5 1h0m2 7h0m11-1h0m2 13h0m2-25h0m5 3h0m25-7h0m28 19h0m2 9h0m2-11h0m15-2h0m0-14h0m1 21h0m18-12h0m10-5h0m1 5h0m3-6h0m6 6h0m4-5h0m18 6h0m2 3h0m10-3h0m7 17h0m11-13h0m8 0h0m10 12h0m14-13h0m6-3h0m5-4h0m6 21h0m14-9h0m4-18h0m4 16h0m58-1h0m30-13h0m14-2h0m11 1h0m17 11h0m22-9h0m1 4h0m5 17h0m9-5h0m10-15h0m1 7h0m1 17h0m2-27h0m0 20h0m9-14h0m10 19h0m10-3h0m4-20h0m0 17h0m8 1h0m3-4h0m1 7h0m6-4h0m1 8h0m1-1h0m0-15h0m8-2h0m2 9h0m2 7h0m3-13h0m22-7h0m9-5h0m10 16h0m8 8h0m3-19h0m9 8h0m11 10h0m2-7h0m2-8h0m5 8h0m4-8h0m3 5h0m12-15h0m1 11h0m6-9h0m2 2h0m1 17h0m6-20h0m1 14h0m1-5h0m31 44h0m-12-13h0m-4 17h0m-6-4h0m-3-24h0m-3 18h0m-2-16h0m-12 23h0m-5-14h0m-3 0h0m-3-8h0m-24 6h0m-4 12h0m-1 0h0m-2 8h0m-1-25h0m-2-3h0m-4 3h0m0-4h0m-2 28h0m-7-7h0m-9 0h0m-4 0h0m-4 3h0m-6-22h0m-2 18h0m0 2h0m-4-5h0m-3 6h0m-8 2h0m-16 1h0m-4-13h0m-1-7h0m-3 5h0m-5-11h0m-1 4h0m-6 24h0m-1 1h0m-4-13h0m-8 9h0m-2-10h0m-10-6h0m-4-7h0m-4 11h0m-3 11h0m-9-12h0m-1-6h0m-4-2h0m-7-1h0m-2 19h0m-7-1h0m-2-6h0m-13 11h0m-32-7h0m-6-3h0m-10-4h0m-1 8h0m-3-18h0m-11 9h0m0-9h0m-11 16h0m-13 9h0m-41-16h0m-6 5h0m-12 4h0m-4 4h0m-1-5h0m-25-1h0m-3-1h0m-6-4h0m-1-5h0m-1 12h0m-16-18h0m-4 3h0m-13 9h0m-15 5h0m-6-6h0m-4 3h0m-20-15h0m0 3h0m-6 8h0m-5 3h0m-1-4h0m-6-6h0m-2 17h0m-10-12h0m-10 11h0m0-14h0m-1-4h0m-10 5h0m-3 12h0m-15-5h0m-2 11h0m-7-21h0m-8 1h0m-1 9h0m-4 6h0m-3-18h0m-3 18h0m-5 5h0m-7-3h0m-3-22h0m-4 6h0m-2 19h0m-5-20h0m-1 15h0m-5-2h0m-6-19h0m-3 3h0m-6 0h0m-7 15h0m-18 11h0m-26-9h0m-6 5h0m-7-14h0m-5 2h0m-6-9h0m-8 20h0m-6-16h0m-4-6h0m-11 23h0m-19 3h0m-23-4h0m-4 26h0m5-3h0m8-17h0m10 20h0m10-1h0m1-13h0m34 16h0m7-6h0m10-7h0m1-9h0m4 27h0m5-8h0m12-2h0m2 10h0m17-8h0m13-7h0m12-2h0m10 13h0m0-6h0m4-8h0m2-6h0m21 15h0m11-16h0m1 24h0m2 0h0m4-18h0m31 1h0m8-2h0m12 18h0m0-19h0m4-4h0m0 22h0m2-9h0m3 5h0m4 1h0m22-15h0m4-4h0m8 19h0m1 2h0m4-13h0m16-5h0m2 3h0m22 15h0m2-20h0m6 11h0m5 4h0m7-12h0m2 6h0m4 1h0m7-10h0m2 22h0m32-4h0m2-19h0m2 12h0m25-14h0m1 18h0m4-14h0m1 4h0m0 0h0m11 17h0m3 0h0m0 1h0m2-5h0m1-14h0m4 17h0m2 2h0m2-23h0m4 21h0m5-2h0m5 0h0m8 5h0m4-27h0m8 29h0m7-1h0m6-2h0m3-20h0m8 5h0m4-1h0m0 16h0m3-17h0m13 15h0m3-11h0m4-7h0m1 16h0m0-13h0m15-4h0m15 16h0m5-13h0m11 10h0m5 4h0m5 4h0m3-11h0m4-11h0m4 16h0m17-7h0m9 0h0m0 0h0m6 11h0m3-3h0m28-12h0m10-5h0m6 8h0m7-1h0m6 10h0m2 4h0m2 3h0m1-9h0m4 2h0m4-1h0m5-20h0m5 14h0m3 14h0m6 0h0m3 0h0m0-15h0m12-11h0m2 24h0m2-10h0m2 12h0m8-20h0m7-2h0m3 14h0m7 7h0m3-23h0m11 21h0m10 0h0m1 10h0m-3 6h0m-11 0h0m-3-8h0m-8 7h0m-8 15h0m-12-1h0m-3-23h0m-8 21h0m-8 5h0m-3-13h0m0 10h0m-14 0h0m-12-21h0m-4 2h0m-2-1h0m-5 25h0m-4-25h0m-10 18h0m-1-2h0m-1-15h0m0 8h0m-41 7h0m-6-15h0m0 12h0m-2 2h0m-15-11h0m-6 11h0m-18-13h0m-14-5h0m-31-1h0m-3 5h0m-3 4h0m-21-2h0m0 1h0m-13-8h0m-197 7h0m-31 2h0m-4 2h0m-3 2h0m-5-13h0m-2 19h0m-12-11h0m-13 15h0m-1 0h0m-1 5h0m-12-13h0m-9-11h0m-2 1h0m-7-5h0m-14 14h0m0-1h0m-1-11h0m-1-1h0m-15 25h0m-20 2h0m-13 0h0m-5-25h0m-8 4h0m-3-3h0m-7 6h0m-3 6h0m-4-16h0m-12 27h0m-11-20h0m0 15h0m-1-5h0m-1-13h0m-16 6h0m-1 10h0m0-3h0m0-12h0m-37 8h0m-8 0h0m-8 13h0m-14-13h0m0-11h0m-23 15h0m-8-17h0m-7 14h0m-6 3h0m-3-11h0m-2 42h0m13 1h0m4 1h0m3-18h0m14 27h0m3-25h0m6 3h0m1 5h0m6 1h0m1 1h0m7-10h0m3 7h0m1 7h0m8 0h0m4-8h0m21 15h0m17-17h0m32 5h0m5-7h0m14 0h0m7-6h0m12 20h0m10-6h0m2 5h0m9-5h0m15 6h0m11-1h0m2-5h0m7-2h0m10-7h0m1 9h0m11-7h0m4 22h0m4-9h0m13-8h0m13-10h0m8-1h0m307 2h0m8 3h0m28 14h0m17 0h0m1 5h0m37 4h0m15-15h0m6 3h0m27-17h0m0 25h0m1-7h0m5 3h0m0-4h0m10 9h0m1-1h0m0-18h0m12 16h0m2-11h0m1 11h0m4-3h0m4-4h0m4-4h0m2 6h0m2-4h0m6 5h0m0-5h0m15-8h0m2 2h0m2-3h0m5 21h0m4-3h0m2 2h0m3-23h0m9 24h0m2 2h0m3-6h0m-5 26h0m-4-16h0m-5-2h0m-11 8h0m0-3h0m-8 10h0m-7-12h0m-21 2h0m-1-3h0m-2 13h0m-7 1h0m-2-5h0m-6 14h0m-8-1h0m-9-12h0m-26 11h0m-1-17h0m-8 18h0m-13-19h0m-1 14h0m-4-17h0m-17 27h0m-3-23h0m-19 17h0m-406-18h0m-4-2h0m-1 14h0m-10 10h0m-9-14h0m-11 11h0m0-16h0m-9-4h0m-1 7h0m-6-1h0m-8-2h0m-1 18h0m-5-15h0m0 3h0m-1-8h0m-19 22h0m-3-7h0m-20-11h0m-30-1h0m-9 12h0m-3-4h0m-8 9h0m-11-23h0m-4 26h0m-1-2h0m-9-24h0m-14 22h0m-8-7h0m-9-4h0m-6-11h0m-1 14h0m-10-5h0m-1 12h0m-3-23h0m-1 24h0m-9 11h0m11 0h0m6 11h0m9 4h0m3-13h0m12 5h0m10 0h0m1-11h0m0 18h0m10-19h0m10 26h0m13-2h0m2-25h0m37 16h0m1 8h0m2-10h0m2 6h0m14-5h0m4 13h0m15-3h0m5-9h0m5-1h0m6-15h0m2 25h0m2-14h0m2 15h0m11-21h0m16 19h0m19-23h0m2 3h0m2 5h0m424-6h0m36 25h0m8-26h0m17 2h0m10 0h0m20 11h0m29 11h0m4-24h0m2 8h0m3 4h0m3 5h0m28-1h0m2-10h0m7 4h0m1-11h0m1 27h0m3-27h0m-6 31h0m-23 17h0m-10 3h0m-6-4h0m-53-16h0m-10 16h0m-10-9h0m-8 9h0m-27-7h0m-453 7h0m-23-9h0m-3 6h0m-2 4h0m-4-6h0m-2-7h0m-1 22h0m-6-7h0m-11-17h0m-14 22h0m-18-7h0m-15-5h0m-7-7h0m-1 0h0m-16 9h0m-1 4h0m-9-20h0m-13 11h0m-3-10h0m-17 16h0m-18 8h0m-1-17h0m-11-1h0m-2 4h0m-12 3h0m8 31h0m13 14h0m5-4h0m23-20h0m7 12h0m8-11h0m3 2h0m5-2h0m6 8h0m13-4h0m1-6h0m15 6h0m0 5h0m0 12h0m3-24h0m2 14h0m8 9h0m4-18h0m2-2h0m0 1h0m9 7h0m4 3h0m10 7h0m2-4h0m7-3h0m6-1h0m4 2h0m9-8h0m4-6h0m1 10h0m1-9h0m4 9h0m4-8h0m477 1h0m4 18h0m1 3h0m27-5h0m21-10h0m50 11h0m25 6h0m-18 25h0m-54 0h0m-1-4h0m0-3h0m-23 7h0m-21-25h0m-475 24h0m0-6h0m-33 4h0m-11-17h0m-11-5h0m-2 16h0m-12-1h0m-5-12h0m-9 5h0m0-1h0m-2 9h0m-8 8h0m-6-12h0m-14 11h0m-11 3h0m-7-9h0m-8 8h0m-62-19h0m-36 38h0m15 10h0m8-18h0m34 4h0m3 13h0m0-7h0m3 12h0m6-22h0m22-3h0m27 23h0m1 2h0m12-4h0m4 4h0m17 0h0m18-19h0m29 12h0m8 4h0m15-16h0m14 2h0m463 14h0m3-1h0m19-17h0m18 10h0m45 12h0m56-9h0m-13 36h0m-31 3h0m-3-6h0m-61 1h0m-15 3h0m-496-6h0m-8-7h0m-21-11h0m-54 11h0m-2-7h0m-44 0h0m-3 19h0m-33 0h0m-6-2h0m-13 0h0m16 32h0m26-13h0m14-6h0m2 8h0m31-9h0m56 12h0m39-5h0m15-4h0m8 8h0m17 2h0m7 7h0m446-19h0m19 21h0m25 15h0m-6-4h0m-37 10h0m-53-6h0m-384 5h0m-17-9h0m-1 13h0m-21-14h0m-13 13h0m-8-6h0m-2-11h0m-16 11h0m-7-14h0m-3 17h0m-13 6h0m-10-1h0m-13 2h0m-15 2h0m-3 2h0m-32-20h0m-8 7h0m-24 8h0m-1-1h0m6 12h0m53 15h0m20-3h0m2-15h0m5 0h0m11 1h0m43 5h0m13 4h0m20-3h0m3 11h0m2-11h0m1-5h0m4 3h0m10 16h0m0-15h0m8 5h0m14-8h0m4-4h0m1 12h0m4-5h0m27 13h0m291 4h0m8-15h0m7 7h0m23-13h0m3 1h0m27-4h0m13 24h0m22 0h0m13-25h0m24 17h0m3-15h0m-22 37h0m-9 13h0m-29-4h0m-1-18h0m-22 25h0m-8-25h0m-10 6h0m-32 21h0m-18-26h0m-288 1h0m-127 22h0m-7-5h0m-4-9h0m-4-6h0m-9 20h0m-4-14h0m-3 15h0m0-15h0m-21-5h0m3 35h0m26 6h0m5 10h0m5-22h0m426-2h0m7 19h0m0 3h0m2 0h0m2 1h0m0-7h0m2 2h0m7-19h0m22 19h0m1-9h0m10 4h0m-21 18h0m-4 6h0m-11-5h0m-1 20h0m-4-13h0m-2 4h0m-9-9h0m0 11h0m-418 30h0m419-14h0m3 17h0m2-2h0" stroke="#F8766D" stroke-width="15" stroke-linecap="round" fill="none"/><path transform="scale(.1)" d="M879 1612h0m-9 7h0m-17-3h0m-12-13h0m-5-10h0m-6 4h0m-2-3h0m-2 8h0m-15-9h0m-3 7h0m-2 4h0m-6-14h0m-4 29h0m-6-10h0m-1-13h0m-9 2h0m-1-8h0m-9 3h0m-6-3h0m-4 2h0m-5 17h0m-2 4h0m0-20h0m0 2h0m-15 20h0m-2-11h0m-11-4h0m-41-5h0m-9 24h0m-27-8h0m-57 34h0m11-1h0m8-8h0m5 1h0m0 12h0m3-14h0m7-6h0m2 16h0m0-3h0m10 1h0m1 4h0m2-4h0m4-23h0m3 17h0m2 1h0m1 1h0m4-12h0m1-4h0m0 9h0m1-1h0m1-10h0m1 8h0m1 3h0m0-12h0m7 7h0m2 17h0m1-3h0m4 0h0m37-7h0m11 2h0m5 13h0m12-18h0m15 7h0m5-5h0m3-5h0m12 7h0m13-2h0m1 13h0m5-21h0m2 5h0m15-6h0m5 24h0m13-21h0m1 22h0m3-22h0m2 12h0m5-16h0m2 2h0m6 0h0m0 8h0m4 0h0m14 1h0m2 5h0m3-12h0m2 18h0m5-6h0m2 3h0m1 6h0m6-15h0m3 1h0m2-8h0m3-4h0m3 3h0m4 19h0m1-6h0m2-16h0m1 17h0m6-2h0m2 1h0m0-6h0m7 2h0m7 8h0m16 7h0m1 0h0m19 18h0m-5 4h0m-4-9h0m-1-7h0m-2 18h0m-25-20h0m-1 3h0m-5 2h0m-1-8h0m-5 1h0m-6 3h0m-11 17h0m-15-16h0m-4 23h0m-2-6h0m-12 4h0m0-14h0m-1 6h0m-1-1h0m0 8h0m-9 2h0m-1 2h0m-6-28h0m-1 9h0m-6-6h0m-1 20h0m-3 4h0m0-18h0m-1 13h0m-5 5h0m-2-12h0m-5 0h0m-3 3h0m-4-13h0m0-1h0m-6-4h0m-2 24h0m-9-24h0m-5 15h0m-7-14h0m-3 27h0m-5-6h0m-5 3h0m-3-24h0m-7 9h0m-13 16h0m-4-25h0m-3 11h0m-11 10h0m-1-14h0m-4 7h0m0-2h0m-1 14h0m-14-26h0m-3 6h0m0 16h0m-15 3h0m-2-17h0m-25 13h0m-2-9h0m-1 1h0m-1 10h0m-2-14h0m0 11h0m-4 1h0m-3-22h0m-5 13h0m-6-5h0m-3 13h0m-1-3h0m-8-18h0m-11 22h0m-16-22h0m-6-1h0m-1 22h0m-3 2h0m-2-11h0m0 3h0m-3 12h0m-5-5h0m-31 31h0m12-23h0m16 5h0m23 2h0m19-4h0m11 8h0m0-2h0m8-6h0m1-2h0m8 9h0m3 13h0m1-12h0m2 0h0m0 9h0m10-12h0m0 20h0m4-6h0m7-10h0m3-10h0m14 14h0m4-15h0m7 0h0m9 14h0m15 10h0m0-16h0m9 5h0m2 11h0m8 3h0m5-28h0m1 12h0m5-3h0m3 10h0m8-12h0m15 20h0m14-27h0m0 28h0m1-22h0m12 2h0m2-3h0m5-1h0m6 2h0m2 18h0m0 1h0m2-10h0m1-6h0m0 15h0m7-4h0m1-12h0m1 5h0m0-5h0m2 6h0m1-12h0m5 4h0m2 3h0m8-7h0m1 0h0m1 2h0m18 12h0m1-7h0m1 1h0m0 6h0m11-16h0m4 13h0m2-2h0m2-9h0m0 23h0m0-4h0m2 3h0m0-7h0m6 1h0m4-18h0m3 10h0m0 17h0m5-16h0m1-2h0m0 18h0m5-16h0m2 13h0m1-3h0m4-22h0m1 24h0m5 4h0m2-28h0m4 11h0m4 7h0m9 11h0m15-9h0m0 7h0m1-7h0m4 2h0m2-5h0m13 26h0m-5-13h0m-2 12h0m-3 9h0m-1 8h0m-1-3h0m-6-6h0m-1-1h0m-6-4h0m-5 11h0m-1-12h0m-4 9h0m-4-3h0m-8 9h0m-6-19h0m0 2h0m-10 0h0m-10 2h0m-8 10h0m-5 2h0m-8-4h0m-15 2h0m-1-19h0m-1 12h0m-7 2h0m-5 6h0m-28-21h0m-14-4h0m-8 17h0m-9-17h0m-1 3h0m0 19h0m-12-11h0m0 5h0m-1-11h0m-4 4h0m-13 7h0m-8 4h0m-2-20h0m-2 26h0m-7-25h0m-3 20h0m-15-12h0m-11-6h0m-3 17h0m-2 0h0m-3-6h0m-2-1h0m-3-9h0m-2 14h0m-2 4h0m-5 7h0m-9-25h0m-1 10h0m-12-5h0m-19 11h0m-7-20h0m-2 12h0m-1-4h0m-2 18h0m-8-11h0m-10-1h0m-1-8h0m-3-6h0m-2 11h0m-8 4h0m-1-3h0m-7-2h0m-8-8h0m-11-1h0m-2 18h0m-11-13h0m-1 12h0m-1 6h0m-5-15h0m-4 16h0m-4-15h0m-13 13h0m-1-16h0m-1 22h0m-7 8h0m2 1h0m17-7h0m8 13h0m1 6h0m1-20h0m1 21h0m2 4h0m0-5h0m2-10h0m0 11h0m3 3h0m2-2h0m4-8h0m4 8h0m14-9h0m1-3h0m0 6h0m7 11h0m3-18h0m3 12h0m2-9h0m1 3h0m9-3h0m3-10h0m1 26h0m3-17h0m2 0h0m2 11h0m1-2h0m4-1h0m16-8h0m4-7h0m2 21h0m2-23h0m15 26h0m13 0h0m12-14h0m10-13h0m5 25h0m9-14h0m1-5h0m6 17h0m19-22h0m6 26h0m2-21h0m3 0h0m4 22h0m13-1h0m9-16h0m2 15h0m3-13h0m2-2h0m9-8h0m9 11h0m8 8h0m3-13h0m2-1h0m11 7h0m3-13h0m5 10h0m12-1h0m2 17h0m4-19h0m8-5h0m2-2h0m29 3h0m3 18h0m11-9h0m2-2h0m6 15h0m4-16h0m13 5h0m3-3h0m8-6h0m2-4h0m2 15h0m10 4h0m10 2h0m5 34h0m-14-17h0m-5 2h0m-7 9h0m-6-16h0m-9 4h0m-2 9h0m0-17h0m-1 4h0m0 8h0m0-2h0m-10 5h0m-5-8h0m-11-6h0m-2 24h0m-1-15h0m-12 13h0m-3-7h0m-2-19h0m-7 12h0m0 0h0m-5 2h0m-7 0h0m0 4h0m-1-12h0m-1-3h0m-3 17h0m-4-7h0m-3-2h0m-4 7h0m-4 5h0m-19-5h0m-9-11h0m-4 15h0m-14-18h0m-1 17h0m-3-2h0m-2 1h0m-3-3h0m-1 8h0m-9-6h0m-10-11h0m-15-5h0m-2 16h0m-3-15h0m-1 6h0m-10 5h0m-3 8h0m-22-10h0m-9 11h0m-1-6h0m-12-15h0m-9 22h0m-3-11h0m-7 4h0m-3 7h0m-6-10h0m-4 6h0m-1 7h0m-17 0h0m0-9h0m-18 0h0m-1-14h0m-3-5h0m-5 2h0m-3 5h0m-1 6h0m-7-11h0m0 5h0m-23 21h0m-13-25h0m-4 23h0m-2-9h0m-5-4h0m-5 0h0m-10 12h0m-3-9h0m-6 5h0m-4-10h0m-9 32h0m6 2h0m1-1h0m0 12h0m6 3h0m0-7h0m7 6h0m3-23h0m13 1h0m24 11h0m0 8h0m7-5h0m9-20h0m7 6h0m15 3h0m6 6h0m0 5h0m2-3h0m9 1h0m14-11h0m1 1h0m1 19h0m3-1h0m10-16h0m2 13h0m3-14h0m14 7h0m16-12h0m8 5h0m4 0h0m8 5h0m7-5h0m3 5h0m4 8h0m2 2h0m3 3h0m18-16h0m1-10h0m17-1h0m2 5h0m1 17h0m4-3h0m0-12h0m2 15h0m1-17h0m0 15h0m10-15h0m4 10h0m2-8h0m11 6h0m1 12h0m2-4h0m13-6h0m2-11h0m8 23h0m10-12h0m3 3h0m0-10h0m3 2h0m3 3h0m10-9h0m1 17h0m14-6h0m2-12h0m6-2h0m6 6h0m17 2h0m2-7h0m9 5h0m0 0h0m5 10h0m16 9h0m4-26h0m18 21h0m1 0h0m3 1h0m0 11h0m-2 15h0m-16-3h0m-8 0h0m-5 0h0m-9-5h0m-1-1h0m-14 6h0m-7 0h0m-2 3h0m-6-7h0m-1-9h0m0 12h0m-5-13h0m-9 17h0m-23-12h0m-2 4h0m-5-7h0m-4-3h0m-2 18h0m-2-3h0m-5-6h0m-2 0h0m0 13h0m-6-14h0m-10-3h0m-8 15h0m-2-6h0m-9-7h0m0-4h0m-7 16h0m-6-18h0m-3 7h0m-2 11h0m-1-15h0m-6 10h0m-2 7h0m-12 4h0m-6-22h0m-1-3h0m-6 16h0m-6-11h0m-2 9h0m-1-14h0m-6 20h0m-1 6h0m-1-6h0m-2-3h0m-1 1h0m-5 2h0m-1-16h0m-2 2h0m-2 9h0m-5-7h0m-3-3h0m-4 19h0m0-21h0m-2-1h0m-5 27h0m0-5h0m-5-18h0m0-6h0m0 11h0m-13 17h0m-4-12h0m-2-7h0m-1 4h0m-9 11h0m-9-2h0m-3-1h0m-1-13h0m-3 10h0m-20-5h0m-53-10h0m-8-2h0m-3 24h0m-16-14h0m-6 14h0m-7-16h0m-16 3h0m25 40h0m8-20h0m3 20h0m4-18h0m0 6h0m8 10h0m1 5h0m1-21h0m4-4h0m2 23h0m0-2h0m5-18h0m4 2h0m5 4h0m11 17h0m7-7h0m1 8h0m5-17h0m16 11h0m6 1h0m8-10h0m16 9h0m3-21h0m0 25h0m11-20h0m4 2h0m2 16h0m1 3h0m8 2h0m2-9h0m1 9h0m2-5h0m2-11h0m3-7h0m2 13h0m2-1h0m4 10h0m7-11h0m12-15h0m6 17h0m15 9h0m2-3h0m10-10h0m4-10h0m1 19h0m3-5h0m0-15h0m12 10h0m1-9h0m0 6h0m17-2h0m12-7h0m24 11h0m2-8h0m2 23h0m5-24h0m5 4h0m1 1h0m3-5h0m9 14h0m5 10h0m9-1h0m13 2h0m0-7h0m5 1h0m0-19h0m9 10h0m3 10h0m15-14h0m7 19h0m10-12h0m0 9h0m2-1h0m-19 8h0m-5 16h0m-2-18h0m-4 0h0m-9 20h0m-15-10h0m-3-10h0m-1 26h0m-5-22h0m-2 12h0m-5-8h0m-12 19h0m-4-7h0m-1-17h0m-5 6h0m-7 9h0m-5 9h0m-13-11h0m-5-1h0m-1 11h0m-7-21h0m0-3h0m-3 1h0m-4-3h0m-4 21h0m0-7h0m-2 4h0m0 2h0m-12-15h0m-7 23h0m0-14h0m-4 6h0m-5-3h0m-6-15h0m-7 24h0m-3-14h0m-4 6h0m-10-7h0m0 15h0m-1-20h0m-3-6h0m-8 0h0m-1 19h0m-5 10h0m-2-1h0m-15-15h0m-1-13h0m-5 24h0m-3-13h0m-2-7h0m-2 2h0m-8 10h0m0-2h0m-1 2h0m-7-13h0m-1 9h0m-1 2h0m-9 13h0m-2-1h0m-5-2h0m-8-18h0m-2-3h0m-4 18h0m-1-14h0m-2 4h0m-3 3h0m-3 10h0m-2-21h0m0 1h0m-8 15h0m-1-8h0m-12 1h0m0-3h0m-2 8h0m-5-8h0m-23 13h0m0-21h0m40 36h0m3 2h0m15 11h0m1-15h0m0 11h0m5-11h0m1-5h0m6 0h0m1 5h0m5 1h0m0-5h0m7 14h0m8-14h0m5 15h0m1 4h0m1-1h0m1 3h0m3-3h0m1 3h0m9 2h0m3-11h0m5 4h0m3-11h0m3 17h0m1-10h0m2 16h0m1-22h0m5 22h0m2-23h0m5 17h0m5-1h0m2-3h0m12-4h0m2-8h0m1 14h0m5-2h0m2-4h0m16 1h0m2 2h0m5-14h0m2 7h0m10 6h0m1-4h0m6-12h0m9 21h0m2-11h0m1-7h0m4 13h0m3-10h0m4 3h0m2 8h0m2-9h0m2 13h0m34-18h0m3 10h0m17-8h0m-33 28h0m-42 3h0m-6 5h0m-4-4h0m-1 0h0m-3 2h0m-39-7h0m-5 2h0m0-3h0m-5 3h0m-3 11h0m-1-2h0m-12 2h0m-3-2h0m-8-11h0m-1 0h0m-9-1h0m-3-2h0m-22 0h0m-11 7h0m-6-1h0m-6-3h0" stroke="#00BA38" stroke-width="15" stroke-linecap="round" fill="none"/><path transform="scale(.1)" d="M902 1954h0m-5 17h0m-8-10h0m-1 15h0m-26 2h0m-17-4h0m-23-3h0m-36-1h0m-11 4h0m-11 4h0m-3-1h0m0-7h0m-40-1h0m-5 9h0m-28-7h0m-2 5h0m-2-6h0m-30-10h0m-2-3h0m-7 2h0m-11 7h0m-2-5h0m0-7h0m-19 3h0m-15 10h0m-1-7h0m-1 2h0m-16 7h0m-6 7h0m-21-24h0m-10 25h0m-10-15h0m-12-4h0m-11 17h0m-9-21h0m-10 25h0m6 1h0m49 0h0m5 5h0m7 6h0m4-1h0m10 12h0m1-8h0m0 8h0m1-13h0m15 20h0m0-1h0m10-2h0m20-1h0m26-20h0m43-4h0m3 8h0m6 8h0m2-11h0m13-1h0m9 17h0m7-15h0m1 21h0m1-25h0m10 22h0m6-17h0m10-4h0m11 11h0m8 12h0m1-7h0m1-7h0m14 7h0m5-5h0m47 12h0m25-18h0m16-3h0m1 17h0m0-7h0m3-10h0m4 12h0m10-17h0m-6 57h0m-15-7h0m-8-14h0m0 14h0m-17 1h0m-4 2h0m-2-18h0m-12-2h0m-47 13h0m-10 2h0m-3-3h0m-20 12h0m-9-10h0m-9-7h0m-5 0h0m-4 1h0m-6-3h0m-15 11h0m-2-20h0m-6 20h0m-1-1h0m-1-10h0m-2-4h0m0 4h0m-9 14h0m0-9h0m-19 10h0m0-1h0m-17-14h0m-17 9h0m-1-3h0m-4-5h0m-1-4h0m-10 18h0m-10-24h0m-10 4h0m-8 13h0m-1-2h0m-2 4h0m-2-6h0m-15 11h0m-4 0h0m-12-1h0m-30 0h0m-3 6h0m-11-7h0m-10-14h0m-9 0h0m-2 14h0m27 27h0m20-9h0m18-7h0m5 3h0m1-1h0m0 21h0m10-8h0m1-4h0m7 2h0m6-16h0m1 0h0m11 13h0m3-10h0m2 26h0m3-23h0m6 3h0m2-5h0m20 24h0m0-1h0m13-1h0m7-1h0m3-4h0m10-10h0m20 14h0m6-10h0m1 6h0m3 3h0m2 4h0m3-23h0m0 20h0m7-16h0m16 3h0m1 6h0m7 0h0m1-9h0m6-3h0m1 15h0m6-9h0m9-5h0m0 21h0m2-20h0m8-1h0m24 8h0m0 0h0m13-10h0m9 8h0m2 9h0m7 5h0m3-12h0m8 2h0m2-3h0m17 11h0m11-14h0m2 6h0m0-14h0m8 7h0m16 0h0m4-9h0m1 24h0m3 20h0m-1-13h0m-2 5h0m-2-6h0m-3 28h0m-3-20h0m-2 5h0m-6 9h0m-5-3h0m-3-10h0m-5-1h0m-21 5h0m-17-5h0m-2 7h0m-1 2h0m-6 8h0m-10-18h0m-21 15h0m0-9h0m-1-5h0m-12 10h0m-10-15h0m-5 10h0m-2 2h0m-3 4h0m-7-1h0m-8-15h0m-10-2h0m-4 9h0m-15-11h0m-6 3h0m-2 3h0m-5 12h0m-6-4h0m-2 5h0m-4-14h0m0-2h0m0-1h0m-3 26h0m-6-21h0m-3 2h0m-6-4h0m-1 4h0m-11 14h0m-12-14h0m-8-1h0m-2 15h0m-2-6h0m-1-8h0m0 0h0m-2 10h0m-1-2h0m-1 3h0m0 1h0m-7-12h0m-9-7h0m-7 1h0m-11 5h0m-2 20h0m0-9h0m-4-8h0m-1 10h0m-3-12h0m-3-5h0m-3-4h0m-3 13h0m-1 10h0m-2 6h0m0-4h0m-2-25h0m-3 15h0m-10 14h0m-2-19h0m-3 17h0m-1-12h0m-10 12h0m-4-7h0m0 5h0m-3-13h0m-8-1h0m-1 3h0m-1 8h0m-12 4h0m-1-6h0m7 10h0m6 7h0m6-5h0m3-1h0m4 12h0m8 6h0m5 6h0m7-22h0m0 12h0m0 1h0m6-7h0m0-4h0m6 13h0m0-15h0m2 10h0m2 13h0m5-22h0m8-2h0m2 4h0m2 22h0m18-24h0m3 19h0m0-15h0m1 9h0m8 3h0m10-6h0m3-11h0m2 16h0m8 8h0m6-3h0m0-19h0m2 18h0m0-15h0m1 18h0m16-14h0m4 16h0m10-26h0m34 17h0m7-14h0m1 21h0m3-7h0m1 9h0m4-24h0m6 18h0m2 0h0m4-6h0m4 1h0m8-1h0m5 3h0m0 2h0m9-11h0m5-4h0m4 6h0m25-1h0m1 14h0m9-18h0m3-5h0m0-1h0m8 10h0m7-4h0m6 7h0m2-5h0m10-8h0m5 2h0m11 4h0m31-5h0m-48 40h0m-3-4h0m-6-3h0m-5 21h0m-10-11h0m-11 1h0m-25-8h0m-8 16h0m0-5h0m-1-16h0m-2 15h0m-1-1h0m-2-7h0m-5 4h0m-3 4h0m-21-10h0m-6 15h0m-1 0h0m-16-23h0m-10 2h0m-3 17h0m-14-1h0m-5-6h0m-6 8h0m-1-13h0m-12 15h0m-6-1h0m-10-1h0m-1 6h0m-2-10h0m-11-1h0m-9-8h0m0 20h0m-2-26h0m-6 23h0m-4-3h0m-3 4h0m0-8h0m0 3h0m-7-11h0m-7 7h0m-9 7h0m0-20h0m0 20h0m-7-7h0m-1 10h0m0-12h0m-4-4h0m-12 0h0m-9 13h0m-7-21h0m-4 3h0m-6 17h0m-1-2h0m-14-17h0m31 37h0m1 9h0m1-7h0m15-3h0m8 8h0m0-8h0m1-1h0m0 21h0m1-10h0m6 0h0m3-13h0m3 6h0m1-11h0m4-1h0m1 4h0m2 25h0m1-27h0m0 14h0m6-14h0m5 0h0m4 8h0m1 13h0m5 0h0m6-20h0m0 9h0m3-9h0m0 18h0m6-17h0m0 0h0m4-4h0m5 12h0m2 7h0m6 4h0m3 5h0m11 0h0m3-21h0m18 3h0m11 8h0m12 8h0m19-4h0m5-17h0m8 18h0m9 2h0m5-6h0m1-16h0m4 19h0m2 2h0m1-22h0m1 19h0m14 0h0m5 6h0m4-4h0m9-3h0m16-1h0m6-10h0m10-6h0m3 12h0m3-4h0m-4 31h0m-12-3h0m-34-2h0m-10 18h0m-7-22h0m-3 16h0m-5-4h0m-2 1h0m-6 11h0m-4-19h0m-6 9h0m0-6h0m-2 2h0m-3 10h0m-4 4h0m-10-24h0m-2 7h0m-4 2h0m0 13h0m-3-10h0m-8 3h0m-2 4h0m-10-8h0m-2 7h0m-6 2h0m-1 2h0m-2-13h0m-15 10h0m-6-11h0m-8 9h0m-2-14h0m-1 17h0m-15-13h0m-2 5h0m-3-6h0m-1 20h0m-2-4h0m-6-13h0m-4 16h0m-2-14h0m-2-8h0m-2-5h0m0 3h0m-15-3h0m-7 0h0m0 0h0m-24 1h0m61 28h0m15 1h0m2 17h0m3-12h0m9-5h0m28 7h0m5-4h0m2 14h0m10 0h0m9-13h0m5 23h0m3-4h0m0 5h0m3-23h0m2 13h0m3-6h0m0 5h0m1 11h0m1-1h0m0-6h0m9-16h0m6 5h0m15-6h0m3 9h0m3-1h0m2 0h0m1-7h0m1 20h0m1-17h0m15-1h0m11 1h0m7 6h0m19-8h0m-51 25h0m-51 1h0" stroke="#619CFF" stroke-width="15" stroke-linecap="round" fill="none"/><line x1="16.90" y1="130.00" x2="16.90" y2="228.00" stroke="#333333" stroke-width="0.6"/><line x1="16.90" y1="228.00" x2="116.60" y2="228.00" stroke="#333333" stroke-width="0.6"/><line x1="15.40" y1="152.30" x2="16.90" y2="152.30" stroke="#333333" stroke-width="0.55"/><text x="14.7" y="154.2" font-size="5.2" fill="#4D4D4D" stroke="#4D4D4D" stroke-width="0.12" text-anchor="end">20</text><line x1="15.40" y1="175.90" x2="16.90" y2="175.90" stroke="#333333" stroke-width="0.55"/><text x="14.7" y="177.8" font-size="5.2" fill="#4D4D4D" stroke="#4D4D4D" stroke-width="0.12" text-anchor="end">0</text><line x1="15.40" y1="199.50" x2="16.90" y2="199.50" stroke="#333333" stroke-width="0.55"/><text x="14.7" y="201.3" font-size="5.2" fill="#4D4D4D" stroke="#4D4D4D" stroke-width="0.12" text-anchor="end">−20</text><line x1="15.40" y1="223.10" x2="16.90" y2="223.10" stroke="#333333" stroke-width="0.55"/><text x="14.7" y="224.9" font-size="5.2" fill="#4D4D4D" stroke="#4D4D4D" stroke-width="0.12" text-anchor="end">−40</text><line x1="21.30" y1="228.00" x2="21.30" y2="229.50" stroke="#333333" stroke-width="0.55"/><text x="21.3" y="235.4" font-size="5.2" fill="#4D4D4D" stroke="#4D4D4D" stroke-width="0.12" text-anchor="middle">−30</text><line x1="38.30" y1="228.00" x2="38.30" y2="229.50" stroke="#333333" stroke-width="0.55"/><text x="38.3" y="235.4" font-size="5.2" fill="#4D4D4D" stroke="#4D4D4D" stroke-width="0.12" text-anchor="middle">−20</text><line x1="55.30" y1="228.00" x2="55.30" y2="229.50" stroke="#333333" stroke-width="0.55"/><text x="55.3" y="235.4" font-size="5.2" fill="#4D4D4D" stroke="#4D4D4D" stroke-width="0.12" text-anchor="middle">−10</text><line x1="72.30" y1="228.00" x2="72.30" y2="229.50" stroke="#333333" stroke-width="0.55"/><text x="72.3" y="235.4" font-size="5.2" fill="#4D4D4D" stroke="#4D4D4D" stroke-width="0.12" text-anchor="middle">0</text><line x1="89.30" y1="228.00" x2="89.30" y2="229.50" stroke="#333333" stroke-width="0.55"/><text x="89.3" y="235.4" font-size="5.2" fill="#4D4D4D" stroke="#4D4D4D" stroke-width="0.12" text-anchor="middle">10</text><line x1="106.30" y1="228.00" x2="106.30" y2="229.50" stroke="#333333" stroke-width="0.55"/><text x="106.3" y="235.4" font-size="5.2" fill="#4D4D4D" stroke="#4D4D4D" stroke-width="0.12" text-anchor="middle">20</text><text x="71.6" y="241.6" font-size="5.3" fill="#000" stroke="#000" stroke-width="0.12" text-anchor="middle">tSNE_1</text><text x="7.4" y="176.7" font-size="5.3" fill="#000" stroke="#000" stroke-width="0.12" text-anchor="middle" transform="rotate(-90 7.4 176.7)">tSNE_2</text><text x="78.2" y="152.7" font-size="5.3" fill="#111" stroke="#111" stroke-width="0.12" text-anchor="middle">High Amy2a/b</text><text x="78.2" y="178.4" font-size="5.3" fill="#111" stroke="#111" stroke-width="0.12" text-anchor="middle">High Sqstm1&Low Sox4</text><text x="73.6" y="210.7" font-size="5.3" fill="#111" stroke="#111" stroke-width="0.12" text-anchor="middle">High Sqstm1&High Sox4</text><circle cx="122.00" cy="179.40" r="1.60" fill="#F8766D"/><text x="127.2" y="181.3" font-size="5.35" fill="#1a1a1a" stroke="#1a1a1a" stroke-width="0.12">High Amy2a/b</text><circle cx="122.00" cy="185.95" r="1.60" fill="#00BA38"/><text x="127.2" y="187.9" font-size="5.35" fill="#1a1a1a" stroke="#1a1a1a" stroke-width="0.12">High Sqstm1&Low Sox4</text><circle cx="122.00" cy="192.50" r="1.60" fill="#619CFF"/><text x="127.2" y="194.4" font-size="5.35" fill="#1a1a1a" stroke="#1a1a1a" stroke-width="0.12">High Sqstm1&High Sox4</text><text x="292.3" y="6.4" font-size="7.0" fill="#000" stroke="#000" stroke-width="0.08" font-weight="bold">C</text><line x1="314.60" y1="5.00" x2="314.60" y2="113.00" stroke="#333333" stroke-width="0.6"/><line x1="313.30" y1="9.00" x2="314.60" y2="9.00" stroke="#333333" stroke-width="0.5"/><text x="312.6" y="10.7" font-size="5.2" fill="#4D4D4D" stroke="#4D4D4D" stroke-width="0.12" text-anchor="end">4</text><line x1="313.30" y1="34.50" x2="314.60" y2="34.50" stroke="#333333" stroke-width="0.5"/><text x="312.6" y="36.2" font-size="5.2" fill="#4D4D4D" stroke="#4D4D4D" stroke-width="0.12" text-anchor="end">2</text><line x1="313.30" y1="60.00" x2="314.60" y2="60.00" stroke="#333333" stroke-width="0.5"/><text x="312.6" y="61.7" font-size="5.2" fill="#4D4D4D" stroke="#4D4D4D" stroke-width="0.12" text-anchor="end">0</text><line x1="313.30" y1="85.50" x2="314.60" y2="85.50" stroke="#333333" stroke-width="0.5"/><text x="312.6" y="87.2" font-size="5.2" fill="#4D4D4D" stroke="#4D4D4D" stroke-width="0.12" text-anchor="end">−2</text><line x1="313.30" y1="111.00" x2="314.60" y2="111.00" stroke="#333333" stroke-width="0.5"/><text x="312.6" y="112.7" font-size="5.2" fill="#4D4D4D" stroke="#4D4D4D" stroke-width="0.12" text-anchor="end">−4</text><text x="304.0" y="53.3" font-size="4.9" fill="#000" stroke="#000" stroke-width="0.12" text-anchor="middle" transform="rotate(-90 304.0 53.3)">average log2FC</text><path transform="scale(.1)" d="M3271 72h0m-27 36h0m-12-4h0m-2 35h0m83 1h0m8 22h0m25 68h0m-7 5h0m-24-21h0m-50 13h0m-7 9h0m-48 22h0m31 9h0m3-20h0m17 13h0m25-4h0m60-7h0m-10 35h0m-56 11h0m-41 29h0m36 2h0m15-22h0m55 46h0m-1-9h0m-25 16h0m-20-7h0m-2-2h0m-21 10h0m-12-27h0m-22 4h0m-28-1h0m-9 46h0m10-2h0m2-13h0m10 17h0m9-19h0m1 17h0m4 6h0m2-7h0m5 7h0m2-5h0m9-9h0m6 17h0m4-3h0m10 0h0m1-7h0m0-3h0m1 9h0m37-11h0m9 6h0m6 7h0m9-26h0m6 12h0m391 30h0m-16 7h0m-15-5h0m-1 5h0m-10 4h0m-16-14h0m0 6h0m-3 4h0m-21-8h0m-5 10h0m-12-10h0m-9 8h0m0 5h0m-8-12h0m-16-3h0m-16-3h0m-2-2h0m-6-1h0m-1 14h0m-235 3h0m-7 1h0m-6-8h0m-7-1h0m-6 0h0m0-12h0m-1 11h0m-6 13h0m-2 4h0m-1-6h0m-2 0h0m-18-12h0m-3-3h0m-5-6h0m-7 16h0m-11-8h0m-19-8h0m-3 6h0m-2 9h0m-8 11h0m-8-14h0m-21 17h0m5 1h0m19 0h0m0-2h0m2 20h0m2 2h0m1 1h0m2-18h0m3 14h0m14-1h0m13-13h0m1 12h0m3 11h0m0-2h0m5-14h0m1 1h0m7 3h0m14 2h0m2-15h0m1 17h0m3-20h0m0 19h0m0-8h0m1 17h0m25 0h0m2-11h0m5 4h0m14 1h0m233 3h0m2-5h0m2 8h0m3-15h0m19 4h0m1 8h0m17-20h0m0-1h0m1 6h0m9 15h0m5-23h0m4 5h0m2 2h0m9-8h0m3 6h0m1-4h0m1 20h0m20-1h0m12-6h0m2 7h0m2 3h0m1-9h0m3-3h0m2-5h0m12-2h0m7 15h0m16 26h0m-1 5h0m-3-12h0m0 2h0m0 4h0m-1 5h0m-1 7h0m0-19h0m-1 19h0m-1-17h0m-5 10h0m-2 4h0m0-9h0m0-1h0m-1 13h0m-2-4h0m-1-21h0m-1 24h0m-1-13h0m0 8h0m-2-9h0m0 7h0m-1 6h0m0-5h0m-2 2h0m0-10h0m0 14h0m-1-12h0m-1-15h0m-1 18h0m-1-6h0m-1-3h0m0-1h0m-2 12h0m0-6h0m-2 11h0m-8-6h0m-5-8h0m0 7h0m0 3h0m-1-12h0m-1 11h0m-1-13h0m-1 19h0m-3 1h0m-2-12h0m-1 7h0m0 1h0m0 1h0m-3 4h0m-2-13h0m-1 5h0m0 0h0m-1 3h0m-3 0h0m0-11h0m0 16h0m-4-10h0m0-9h0m-2 18h0m0-15h0m-3 12h0m-1-23h0m0 10h0m-4 14h0m0 2h0m-2-19h0m-1 17h0m-2-12h0m-1 5h0m-2-6h0m0 6h0m0 7h0m-3-7h0m-2 5h0m-1-4h0m0-3h0m-2 12h0m-2-14h0m-1-1h0m-3-1h0m-2 3h0m-2 9h0m0-13h0m-1 16h0m0-6h0m-1-12h0m-2 16h0m0-6h0m-4-9h0m-1 13h0m0 1h0m-1-10h0m-1-3h0m-1 14h0m-1-5h0m0 0h0m-1 5h0m-4-14h0m-4 1h0m-1-12h0m-1 28h0m0-6h0m-1-3h0m0 3h0m-1-4h0m0 9h0m0-10h0m-1-5h0m-3-10h0m0 9h0m-1 1h0m-1 1h0m-1 2h0m-2 5h0m0 0h0m-2-1h0m-1 4h0m-2 4h0m0-6h0m0 4h0m-3-11h0m0-11h0m-2 9h0m-1 14h0m-1-5h0m-1-5h0m0 1h0m-1 6h0m-38 0h0m-10 2h0m-1-23h0m-31 14h0m-31-13h0m-6 5h0m-24-8h0m-37 9h0m-53 2h0m-4 5h0m-4 1h0m-8 11h0m0-19h0m-7-8h0m-2 6h0m-5 10h0m-12 11h0m-2-24h0m-1 16h0m-8-11h0m-2 12h0m-1-5h0m-6-7h0m-3 13h0m-8-16h0m-5-4h0m0-2h0m-12 24h0m-46-14h0m-3-10h0m-1 21h0m0 23h0m12 0h0m2 6h0m2-20h0m1 15h0m4 11h0m0 1h0m4-28h0m1 11h0m2 7h0m1 8h0m1-19h0m8 2h0m0 9h0m3-15h0m2 25h0m4 0h0m0 1h0m1-15h0m0-8h0m2 2h0m7 1h0m2 19h0m5 0h0m0-4h0m2-13h0m0-4h0m4 16h0m1-8h0m7 0h0m0 1h0m4 12h0m1-15h0m2 15h0m0-5h0m2-8h0m3-1h0m4 5h0m3-8h0m1-10h0m2 21h0m2-2h0m1-8h0m1 4h0m1 3h0m1-14h0m1 13h0m2-6h0m2 11h0m2-2h0m1-17h0m7 9h0m1 13h0m1-13h0m1 5h0m3-1h0m2 9h0m2-1h0m3-5h0m4-11h0m46 8h0m3 3h0m2 5h0m0-6h0m13 3h0m0 4h0m1-20h0m2 21h0m2-9h0m7 3h0m6 5h0m7-5h0m3 1h0m1-10h0m3 12h0m3-19h0m5 10h0m12-1h0m9-2h0m4 7h0m1 3h0m1-7h0m0 10h0m3-5h0m4 8h0m0-1h0m2-2h0m7-9h0m3-7h0m11 11h0m1-5h0m4 6h0m1 4h0m5-1h0m0-5h0m3-6h0m0 2h0m3-2h0m5-7h0m4 18h0m11 4h0m36 0h0m0-19h0m0 13h0m1-8h0m0 2h0m0 1h0m0 10h0m1 0h0m1-5h0m0 7h0m2-28h0m0 28h0m1-18h0m1 15h0m0-16h0m1-4h0m0 12h0m0 4h0m2-17h0m0 3h0m1 9h0m1-15h0m1 22h0m0-21h0m1-1h0m1 5h0m0-2h0m2-2h0m0 3h0m1 3h0m0 0h0m1 6h0m0 5h0m1 9h0m2-17h0m0-11h0m0 16h0m0-9h0m1-6h0m1 11h0m0-1h0m1 7h0m0 2h0m1-14h0m0 13h0m1-7h0m3-12h0m0 14h0m1-13h0m1 23h0m0-7h0m1 2h0m1-12h0m1 6h0m1 6h0m0-18h0m1 0h0m0 25h0m1-3h0m2-9h0m1-9h0m1 13h0m1 8h0m0-13h0m2-7h0m0 17h0m1-3h0m2-11h0m2 13h0m2-9h0m0 4h0m0-10h0m1 9h0m2 8h0m1-10h0m0 2h0m1 1h0m0-16h0m0 17h0m0-9h0m1 17h0m0-20h0m1 11h0m1-3h0m1 4h0m1-6h0m1 16h0m0-8h0m0-4h0m0-6h0m1 5h0m0 2h0m0-1h0m3 1h0m0 5h0m0 1h0m1-15h0m4-3h0m0 19h0m1-22h0m1-2h0m1 27h0m1-11h0m0-10h0m1 19h0m0-1h0m1-25h0m0 24h0m1 4h0m3-23h0m0 16h0m0-7h0m1 10h0m1-16h0m3 20h0m1-25h0m0 5h0m1 10h0m0-11h0m1 18h0m0-7h0m0 5h0m1-7h0m0-13h0m1 19h0m2-20h0m1-2h0m3 20h0m3-5h0m0-7h0m0 17h0m0-12h0m1 12h0m0-5h0m1-6h0m0 10h0m2 5h0m0-1h0m1-22h0m0-5h0m1 10h0m1-4h0m2 1h0m0 0h0m0-3h0m5-3h0m0 22h0m1-2h0m0-21h0m1 11h0m0 11h0m1 6h0m0-24h0m0 23h0m2-10h0m0-8h0m0 14h0m1 3h0m0-7h0m0 0h0m1-8h0m0-1h0m0-11h0m1 13h0m0 13h0m2-18h0m1 8h0m1-4h0m0 10h0m1 4h0m0-17h0m1 4h0m0 6h0m2 3h0m0-9h0m0 2h0m3 12h0m1-3h0m0-20h0m1 14h0m2-12h0m1 17h0m0 6h0m0-13h0m1 8h0m0-24h0m1 22h0m1-4h0m1 2h0m1-16h0m0 13h0m0-17h0m0 20h0m1 5h0m0-2h0m0-12h0m1-6h0m0 3h0m1 16h0m1-13h0m1 9h0m0-9h0m2 6h0m0-4h0m2 4h0m2-10h0m2 1h0m-3 40h0m-1-12h0m-1 21h0m0-6h0m-1-1h0m0 6h0m-1-15h0m-3 17h0m-1-12h0m0 5h0m-4-4h0m-1 8h0m-2-10h0m0 9h0m0 1h0m-1-18h0m-1 7h0m-2 12h0m-1-24h0m-1 7h0m0 18h0m0-12h0m-1 0h0m-1-15h0m-1 22h0m-1-2h0m-1-12h0m0 14h0m0-16h0m-1 6h0m0-6h0m-1-1h0m0 9h0m-1 12h0m0-2h0m-3-11h0m0-3h0m-1 4h0m-1-6h0m-1 15h0m0 1h0m0-15h0m0 19h0m0-17h0m0 13h0m-1-13h0m-1-8h0m-1 13h0m0 4h0m-1 6h0m0-22h0m-1 12h0m-2 2h0m-1-14h0m-1 2h0m0 5h0m0 16h0m0-27h0m-1 24h0m-2-8h0m-3-14h0m0 19h0m0 6h0m-1-21h0m-1 3h0m0-3h0m-1 1h0m0-2h0m-1 6h0m0-2h0m0 3h0m0 10h0m-2 1h0m0-1h0m-1-22h0m0 7h0m0 14h0m0-1h0m-1-15h0m0 13h0m0-10h0m-1-3h0m0 23h0m0-19h0m-2-3h0m-1 6h0m-1 9h0m-1-3h0m-1 2h0m-1-9h0m0 9h0m-1-10h0m0-9h0m-2 15h0m-2-15h0m-1 17h0m-1-2h0m-2-10h0m0-5h0m-1 23h0m-1-19h0m0-1h0m-2-3h0m-1 16h0m0 3h0m-2-5h0m0-12h0m-1 14h0m0 6h0m-1-20h0m-1-3h0m0 29h0m0-7h0m-1 1h0m0-1h0m-7 0h0m-4-15h0m-1 8h0m-1 5h0m0-3h0m0-7h0m0 13h0m-2-23h0m-1 17h0m0 6h0m-1-11h0m-1 5h0m-1 12h0m-1-18h0m0 1h0m0 15h0m0-10h0m-1 8h0m0-25h0m0 28h0m0-1h0m-3 1h0m-1 1h0m0-3h0m0-23h0m-1 9h0m0-9h0m-1 15h0m0-13h0m-1-3h0m-1 14h0m0-9h0m-1 9h0m-1-6h0m0 19h0m-1-15h0m-3 6h0m0-16h0m-1 4h0m-1 0h0m-2-1h0m0-6h0m-1 28h0m-1-14h0m0 8h0m-1 3h0m-1 3h0m-1-16h0m-1-2h0m-1-11h0m-1 18h0m0 11h0m0-26h0m-1 23h0m-1-2h0m-1 2h0m-2-20h0m-1-3h0m0 10h0m-1-4h0m0-9h0m-1 17h0m0 3h0m-1 1h0m0-6h0m-2 9h0m0-8h0m-1 1h0m0-14h0m0 26h0m-1-11h0m0-11h0m0 9h0m-1-11h0m0 5h0m0 11h0m-1 0h0m0 5h0m-1-14h0m0-4h0m0 20h0m0-14h0m-1-11h0m0 1h0m0 12h0m-1-12h0m0 12h0m-1 6h0m-2-10h0m0 7h0m-37-10h0m0 0h0m-3 14h0m-1-15h0m0 0h0m-4 2h0m-3-8h0m-2 15h0m-1-3h0m-2-12h0m-1 12h0m-2 12h0m-3-20h0m-3 5h0m-1 5h0m-3-2h0m-3-2h0m-1-1h0m-1 5h0m-5 5h0m-8-9h0m-3 3h0m-6 1h0m-6 1h0m0 7h0m-1-18h0m-3 21h0m-3-14h0m0 11h0m-5 4h0m-2-13h0m-6-10h0m-1 19h0m-4-13h0m0 7h0m0 3h0m-1-13h0m0 13h0m-7-14h0m0 9h0m-8 7h0m0-4h0m0-12h0m-3-5h0m-3 14h0m-1 1h0m0 10h0m-1-3h0m-2 3h0m0-2h0m-2-7h0m-1-12h0m-1 18h0m-4-23h0m-2 13h0m-1 7h0m-9-15h0m-1 2h0m-2 3h0m-2 3h0m-2-4h0m-10 3h0m-2-3h0m0 8h0m-44-10h0m-4 17h0m0-11h0m-3-2h0m-7-8h0m-2 13h0m-1-15h0m-3 7h0m0 4h0m-3 1h0m-5 14h0m-1-23h0m-1 24h0m-4-16h0m-1-12h0m-1 22h0m-1-8h0m-1 13h0m-1-10h0m-4 6h0m0-22h0m0 7h0m-6 15h0m0-21h0m-2-2h0m-2 9h0m-1 3h0m0-1h0m-2-11h0m0 8h0m-2 16h0m-9-5h0m0-19h0m-1 3h0m-4 21h0m-2 2h0m-1-24h0m-1-2h0m-3 11h0m-1-9h0m0 7h0m-1-10h0m-6 22h0m-4 1h0m0-9h0m-7-3h0m-2 1h0m-1-3h0m-6 9h0m-2 5h0m-6-15h0m0 5h0m-2-8h0m-3 13h0m-2-15h0m-4 7h0m-3 15h0m-1-15h0m-4 5h0m-1 9h0m-4 4h0m-1-7h0m0 7h0m-1-1h0m-2 30h0m0-26h0m2 24h0m4 0h0m2-15h0m4-10h0m1 8h0m2 2h0m1 0h0m16-7h0m1 6h0m3 4h0m8 9h0m1-8h0m3-4h0m4-3h0m0 7h0m0 8h0m1-13h0m0 10h0m2-19h0m1 7h0m4 16h0m12 0h0m3-7h0m0 7h0m1-3h0m0-11h0m2 7h0m3-13h0m3 9h0m0-8h0m3 4h0m0 20h0m3-19h0m0 2h0m5 2h0m4 8h0m0-21h0m3 27h0m7-16h0m3 0h0m0 8h0m1-19h0m4 14h0m7 3h0m2 4h0m8 4h0m3-3h0m1-16h0m4 0h0m2 20h0m41-10h0m1 1h0m2 5h0m0-13h0m0 7h0m2-1h0m3-15h0m1 17h0m6 10h0m3-7h0m1-5h0m1 13h0m5-20h0m3 1h0m2 1h0m0 6h0m3-11h0m3-2h0m0 26h0m1-15h0m10-10h0m4 16h0m0 6h0m1-23h0m0 23h0m3-9h0m0 10h0m0-5h0m1-11h0m0-3h0m5 20h0m1-2h0m5 0h0m5-7h0m2-12h0m0 15h0m2-5h0m3-10h0m2-7h0m1 5h0m0 9h0m0-12h0m1 19h0m1-16h0m1 0h0m1 24h0m7-19h0m4 9h0m2-9h0m0 2h0m1-1h0m1 2h0m4-8h0m0 4h0m6 17h0m3-11h0m7 11h0m0-17h0m1 12h0m1-9h0m1-10h0m5 9h0m0-10h0m1 20h0m2-2h0m1 3h0m2-2h0m1-8h0m3 8h0m1-9h0m4 18h0m5-11h0m1 3h0m2 6h0m0-7h0m2-3h0m37-14h0m1 8h0m2-5h0m0 0h0m1 19h0m1 2h0m0-21h0m1 10h0m0 5h0m0-15h0m1-2h0m0 0h0m1 25h0m0 0h0m1-7h0m0 6h0m0-12h0m0-14h0m1 27h0m0-19h0m1 9h0m1-18h0m1 6h0m1 9h0m2-10h0m0-2h0m1-3h0m0 3h0m1 6h0m2 18h0m0-3h0m0 0h0m0-19h0m3 23h0m0-27h0m3 21h0m0-20h0m1 4h0m0 1h0m1 5h0m0-7h0m1 18h0m1-9h0m1 6h0m1-1h0m0-8h0m0 5h0m2-14h0m0 9h0m0-4h0m0 9h0m1-4h0m0 16h0m2-12h0m1 9h0m1 0h0m2-25h0m1 21h0m1-18h0m1 8h0m1-2h0m0 7h0m0-4h0m1 13h0m1 2h0m2-15h0m0-10h0m0 5h0m1 8h0m1 4h0m1-17h0m0 18h0m1-16h0m0 13h0m2-3h0m1-13h0m0 22h0m1-2h0m1-10h0m1 1h0m0 1h0m0 10h0m0-14h0m2 10h0m0-9h0m0 13h0m0 4h0m1-2h0m0-8h0m0-12h0m0 5h0m0 14h0m1-6h0m2 9h0m0-14h0m0 6h0m0 4h0m4-22h0m1 3h0m0-4h0m1 24h0m0 3h0m0-5h0m0-23h0m2 26h0m0 2h0m0-18h0m0 19h0m1-17h0m0 5h0m0 12h0m0-20h0m0 17h0m1-10h0m1-15h0m0 18h0m1 0h0m0-19h0m1 14h0m0-9h0m2 24h0m1-21h0m0-8h0m2 13h0m0 14h0m0-21h0m1 15h0m0 7h0m3-18h0m0-2h0m1 15h0m0-1h0m1-7h0m0 13h0m0-6h0m2-7h0m0-6h0m0-7h0m0 11h0m1-4h0m0 5h0m2-3h0m0 3h0m0 9h0m1-8h0m0-7h0m1 5h0m1 10h0m0 0h0m1-4h0m0-2h0m0 0h0m2-6h0m3 0h0m0 12h0m0-20h0m0 7h0m1-4h0m1-5h0m1 18h0m2 0h0m3 10h0m0 0h0m1-18h0m0 3h0m1-4h0m1-4h0m2 6h0m1 7h0m2-15h0m0 20h0m0-14h0m1-9h0m0 22h0m1-1h0m0-20h0m1 15h0m0-15h0m0 18h0m1-11h0m0-6h0m1 9h0m1 9h0m1-19h0m2 8h0m0 1h0m1 12h0m1-9h0m0 4h0m2-10h0m1 13h0m1 0h0m1-18h0m1 2h0m0 17h0m0 3h0m1-13h0m1 10h0m1-16h0m0 20h0m0-20h0m0 11h0m0-4h0m1 6h0m0-2h0m0-9h0m1 18h0m1-16h0m1 13h0m0 2h0m1-21h0m0 0h0m0 5h0m1 1h0m0 12h0m0-20h0m1 21h0m0 5h0m0-28h0m1 10h0m0-2h0m0 12h0m1-2h0m3 3h0m0 0h0m1-17h0m3 5h0m1 25h0m0 2h0m-1-2h0m-1 3h0m0 1h0m-2 3h0m-2-11h0m-4 8h0m-7 9h0m-2-2h0m-1-13h0m0 4h0m-1 11h0m-1-6h0m-1-3h0m0 5h0m-2-6h0m-1 5h0m-1-5h0m-2-6h0m0 11h0m0-1h0m0 4h0m-2-12h0m0 13h0m-1-12h0m-1 6h0m-1-2h0m0-7h0m-2-1h0m-1 3h0m0-2h0m-3 3h0m-1 5h0m0 2h0m-2-8h0m-1 10h0m-1 0h0m0-4h0m-4-7h0m-2-2h0m-1 8h0m-1-3h0m-1 3h0m0-2h0m-1 6h0m0-8h0m-6 13h0m0-1h0m0-15h0m0 3h0m-1 6h0m-1-6h0m0 12h0m-1-11h0m-1-4h0m-1 3h0m-1-1h0m0 8h0m0 4h0m0-14h0m-6 11h0m-3-6h0m-1 5h0m-1 2h0m-1-9h0m-2 2h0m-1 2h0m0 4h0m-1-4h0m-3 3h0m0-8h0m-1 5h0m-1 1h0m0-5h0m-2-3h0m-2 6h0m-1-3h0m-2 13h0m-1-7h0m-2 4h0m-1-9h0m-1-5h0m0 1h0m0 11h0m-3-12h0m0 4h0m-1-2h0m0 3h0m0 12h0m0-12h0m-1-5h0m0 17h0m-1-4h0m-2-13h0m-1 8h0m0 3h0m-2-5h0m0-6h0m-1 5h0m0 9h0m-1-7h0m0 2h0m-2-4h0m-1-4h0m0-1h0m0 17h0m-1-15h0m0 11h0m-1 4h0m-1-5h0m-2-5h0m-1 7h0m-1-4h0m-3-5h0m-1 2h0m-2-7h0m0 10h0m0-2h0m-1 1h0m-1-5h0m-2 13h0m-1-8h0m0 4h0m0-8h0m-9-4h0m-3 3h0m-1 9h0m-1-2h0m-3-4h0m0 7h0m0-6h0m0-7h0m-1 9h0m-1 4h0m-1-13h0m-3 11h0m-39-12h0m-6 5h0m-4-4h0m-1 16h0m-9-10h0m-10 9h0m-9-6h0m-1-5h0m-1 11h0m-4-12h0m-1-1h0m-1 10h0m0-13h0m-1 14h0m-3-9h0m-2 2h0m-2 0h0m-7 0h0m-3 6h0m-2-13h0m-2 2h0m-2 14h0m0-7h0m-4 6h0m-2-2h0m-3-6h0m-1-2h0m-6 0h0m-5 1h0m-4-2h0m0 13h0m-14-6h0m-17 4h0m-1-8h0m0 5h0m-7-6h0m-4 5h0m-1-1h0m-4-5h0m-2 2h0m-3 1h0m-48 1h0m0 0h0m-8-7h0m-7 7h0m-6 1h0m-1-6h0m-4-2h0m-10 11h0m0-5h0m-4-3h0m-5 11h0m-3-3h0m-10-13h0m-4 16h0m0-16h0m-7 15h0m-5 1h0m-10-16h0m-1 8h0m-3 9h0m-4-14h0m-2 7h0m-11 2h0m-6-2h0m-1 4h0m-3-7h0m-3 1h0m-11 8h0m-3-15h0m-1 0h0m0 9h0m-5-5h0" stroke="#D93327" stroke-width="12.5" stroke-linecap="square" fill="none"/><path transform="scale(.1)" d="M3203 621h0m0-7h0m1 1h0m2 4h0m0-10h0m0 14h0m2 6h0m1-8h0m1-6h0m1 7h0m0-3h0m1 7h0m0 0h0m2-5h0m1 5h0m0-15h0m0 12h0m2-3h0m1-1h0m2-4h0m1-4h0m1 3h0m0 1h0m2 2h0m1 9h0m1-9h0m1-3h0m0-1h0m0 6h0m1-3h0m0 12h0m1-6h0m0 3h0m0-6h0m3-1h0m0 1h0m0-8h0m1 4h0m3 2h0m2 3h0m1-10h0m0 4h0m2-2h0m0 3h0m1-4h0m4 10h0m1-12h0m0 20h0m2-5h0m0-11h0m1 4h0m1-3h0m0 3h0m0 10h0m1-2h0m0-9h0m0 5h0m1-2h0m1-2h0m0 11h0m3-5h0m0-7h0m0 12h0m1-13h0m2 10h0m0-14h0m0 17h0m1-7h0m2 2h0m0-5h0m4 7h0m1-7h0m1-4h0m2-2h0m2 0h0m1 16h0m1-4h0m0-6h0m1-3h0m0-2h0m2-1h0m0 7h0m1 2h0m1 1h0m0-5h0m1 7h0m1-13h0m3 18h0m0-12h0m3-8h0m0 4h0m3 5h0m0 7h0m2-11h0m0 10h0m0-8h0m0-5h0m1 13h0m0-7h0m1-2h0m0-2h0m3 2h0m1-4h0m1 17h0m0-9h0m0-9h0m1 15h0m1-2h0m2-4h0m1 5h0m0-13h0m1 3h0m1 9h0m1-1h0m0 4h0m1-14h0m1 12h0m1-13h0m4 7h0m0 8h0m3 0h0m2-8h0m1-9h0m2 16h0m0-8h0m0 12h0m0 0h0m4-6h0m1-9h0m1 2h0m0 10h0m0-1h0m0 4h0m0-10h0m1-9h0m4 5h0m0-3h0m1 7h0m2 0h0m1 7h0m0 1h0m1-14h0m5-3h0m1 9h0m0 1h0m1-3h0m45 1h0m1 4h0m1 5h0m0-13h0m0 4h0m3 9h0m1-2h0m1-13h0m0 8h0m0-8h0m1 10h0m1 0h0m1 6h0m0-8h0m0 8h0m2-19h0m0 2h0m1 17h0m4-3h0m0-4h0m1-4h0m1 8h0m0-1h0m0-13h0m1 14h0m2-15h0m1 14h0m1 2h0m1-4h0m1-3h0m1-4h0m2 4h0m0 10h0m1-1h0m0-4h0m0-5h0m3 3h0m1-13h0m2 7h0m1 10h0m1-11h0m0 11h0m0 3h0m1 0h0m0-11h0m1 8h0m1 2h0m0-3h0m1 2h0m0-3h0m1-8h0m0 12h0m0-4h0m1-5h0m0 5h0m1-10h0m2 9h0m1-13h0m0 11h0m2 8h0m3-18h0m4 12h0m2-3h0m2 9h0m1-3h0m0-12h0m0 14h0m3-1h0m0-16h0m1 11h0m1-5h0m0 10h0m1-6h0m1-6h0m2 4h0m2 6h0m2 4h0m1-8h0m2-7h0m2 4h0m3 8h0m2-6h0m0-4h0m1 5h0m1 3h0m2-9h0m3-3h0m3-3h0m2 8h0m0-3h0m1 11h0m1-14h0m0 5h0m2 4h0m1-11h0m0 2h0m0 14h0m3-13h0m0 5h0m2 8h0m1-6h0m0 1h0m1 7h0m0-13h0m1-4h0m0 16h0m1 2h0m0-4h0m1-12h0m2 2h0m1 15h0m0-10h0m2 9h0m2-5h0m0-9h0m1-1h0m1 7h0m2-3h0m1 7h0m0-3h0m0-11h0m3 3h0m0-1h0m2 5h0m0 1h0m1-4h0m1 7h0m0-11h0m1 12h0m0 1h0m2 1h0m0-4h0m0-3h0m2-3h0m1 8h0m1 5h0m2-17h0m0 3h0m0-3h0m1-1h0m0 4h0m0 14h0m2-16h0m0 0h0m2 7h0m1 3h0m0-11h0m1 6h0m0 13h0m1-5h0m0-13h0m0 11h0m2-1h0m0-8h0m1-3h0m1 15h0m0-15h0m1 2h0m0 0h0m2 3h0m37 5h0m1-10h0m2 5h0m2-3h0m0 6h0m2 11h0m1-12h0m1-3h0m0 1h0m0 6h0m1-7h0m0 2h0m2 5h0m1-4h0m0-4h0m0-3h0m1 3h0m1 9h0m3-12h0m3 3h0m2 5h0m2 5h0m1 1h0m1-2h0m0-6h0m1 13h0m4-10h0m2-6h0m0 4h0m1-2h0m0 10h0m2 3h0m0 0h0m1 1h0m4-20h0m0 11h0m2 6h0m0 1h0m3-1h0m4-10h0m1 6h0m0 1h0m0-3h0m3-5h0m0-5h0m0 7h0m2-7h0m3 19h0m0-13h0m1 7h0m0-5h0m1 11h0m0-3h0m2-3h0m1 1h0m2-10h0m0-3h0m0 10h0m1-2h0m0-3h0m0 2h0m1 10h0m0 0h0m0 1h0m1-17h0m0 0h0m0 12h0m1-6h0m1 10h0m2-12h0m1-5h0m0 12h0m1-2h0m1-8h0m1 15h0m0-3h0m1-15h0m1 9h0m1-3h0m0 3h0m0 0h0m1-6h0m0 4h0m1 7h0m2-12h0m0 6h0m1 3h0m0-6h0m0 4h0m0-6h0m1 6h0m0-2h0m0-8h0m1 9h0m2 7h0m1-10h0m0 10h0m0-3h0m2-12h0m0 19h0m1-17h0m1 2h0m1 15h0m0-10h0m1 5h0m2 1h0m0-11h0m1-4h0m1 4h0m1 13h0m1-4h0m0 6h0m1-8h0m1-12h0m2 1h0m0 3h0m1 1h0m1 6h0m0-3h0m0-4h0m0 7h0m1-11h0m0 6h0m0-3h0m0 4h0m0-4h0m1 17h0m0-19h0m0 10h0m1-9h0m0 9h0m0-3h0m0 9h0m1 0h0m1 2h0m2 0h0m0-12h0m2 13h0m1-1h0m2-16h0m0 7h0m1-6h0m1 6h0m1-6h0m0 13h0m1 0h0m0-7h0m1 5h0m0-7h0m1 11h0m1-7h0m2-8h0m0 6h0m2 0h0m0 3h0m3 5h0m1-3h0m1 0h0m1-9h0m0-4h0m3 5h0m0 0h0m1 4h0m2 0h0m1-2h0m0-6h0m1-1h0m1 11h0m2 7h0m0-13h0m1 4h0m1 6h0m0 2h0m0-2h0m0 2h0m2 1h0m2 13h0m0-11h0m-2 5h0m0-5h0m-3 3h0m0-3h0m-1 2h0m0 9h0m-2-11h0m-1 2h0m-1 8h0m0 0h0m-5-11h0m0 2h0m-1-1h0m0 1h0m0-2h0m-1 10h0m-3-3h0m0 14h0m-1-9h0m-1 0h0m0 4h0m-1-13h0m-2 4h0m-1-4h0m-4-1h0m-1 5h0m0 4h0m-3-3h0m-1-2h0m0 3h0m-2-1h0m0-5h0m-1 4h0m-1 5h0m0 15h0m-3-12h0m0 0h0m-1-8h0m0 1h0m-5-7h0m-1 4h0m0-4h0m0 11h0m-2-3h0m-1 10h0m-1-10h0m-1-5h0m0-1h0m0 26h0m-1-26h0m-1 5h0m0 11h0m-2-9h0m-1-8h0m-1 7h0m-2 1h0m-1-7h0m-1 5h0m0 3h0m-1-11h0m0 12h0m-1-2h0m0-6h0m-1 1h0m-1 3h0m0 4h0m-1-9h0m0 5h0m-1-2h0m-1 2h0m-2 1h0m-1-5h0m-1 14h0m-1-8h0m0-6h0m-1 2h0m0 6h0m-1-4h0m-1-6h0m0-1h0m-1-1h0m-1 7h0m0 12h0m-1 0h0m-3-11h0m-1 14h0m-1-19h0m-3 14h0m-1-17h0m-1 2h0m-1 4h0m-2 5h0m0 0h0m-1-10h0m-2 10h0m-1 0h0m0-3h0m-2-5h0m0-2h0m0 6h0m0 12h0m-2-12h0m-1 0h0m0 13h0m-2-18h0m-1 1h0m-1-3h0m-1 12h0m0-10h0m-1 7h0m0-8h0m0 8h0m0 8h0m-2-9h0m0-5h0m0 4h0m-1 0h0m0 1h0m0 1h0m-2-3h0m-10-4h0m0 19h0m-2-16h0m0-1h0m0 4h0m-1-1h0m0 2h0m-1 2h0m0-1h0m0-7h0m0 25h0m-1-13h0m-1-5h0m-3-6h0m-1 6h0m-1 11h0m-3-5h0m-2-5h0m-2-10h0m-2 3h0m-3 2h0m0 8h0m-3-14h0m0 1h0m0 11h0m-3-4h0m-1-4h0m-1-3h0m-37 28h0m-1-20h0m0-1h0m0 7h0m-2 7h0m0-11h0m-1-1h0m-1 13h0m0 6h0m0-28h0m0 0h0m-1 1h0m-1 18h0m-1-4h0m0 6h0m-2-2h0m-1-14h0m-1 3h0m0-5h0m0 12h0m-1-6h0m0-1h0m-1 7h0m-1 3h0m0 9h0m-1-7h0m0-5h0m-1 12h0m0 1h0m-1-26h0m-1 19h0m0-21h0m-3 2h0m-1 1h0m-1 17h0m0-15h0m-1 17h0m0-3h0m0-13h0m0 21h0m-1-6h0m-1 1h0m-1-9h0m0-3h0m-1 4h0m-1-5h0m-1-6h0m0 24h0m0-19h0m-1 12h0m0-13h0m-1 4h0m0 14h0m-1-8h0m-2-12h0m0 15h0m0-4h0m-1-9h0m-4-3h0m0 23h0m0-11h0m0-15h0m0 5h0m-1 11h0m-1-2h0m-1-16h0m-1 14h0m0 5h0m0 4h0m0-1h0m-2-10h0m0 15h0m0-16h0m-3-5h0m0-1h0m-4 24h0m0-21h0m-1 8h0m0-14h0m0 4h0m-2 20h0m-1 0h0m0-15h0m-1 17h0m0 1h0m-1-27h0m-1 24h0m-1-9h0m0 12h0m-1-16h0m-1 0h0m0-11h0m-2-1h0m0 9h0m0 12h0m-1-21h0m-3 13h0m-2-7h0m0 13h0m0-4h0m-1-4h0m0-8h0m-1 15h0m-1 4h0m0-22h0m0 3h0m0 20h0m-1-15h0m-1-6h0m0-1h0m0 14h0m-1 3h0m-1 7h0m-1 1h0m0-5h0m-1-17h0m-1 23h0m0-10h0m0 3h0m-2-15h0m-1-6h0m0 0h0m0 12h0m-1 7h0m-2-19h0m0 8h0m-3 13h0m-1-4h0m0 12h0m-1-9h0m0-13h0m-1 21h0m0-15h0m-1 7h0m0-10h0m0 16h0m-1-25h0m0 4h0m0 17h0m-1 7h0m-1-28h0m0 14h0m-1 8h0m-3-4h0m0-4h0m0-13h0m-1 12h0m0 3h0m-2-4h0m0-4h0m-1-3h0m0-6h0m-5 18h0m-1-5h0m0-5h0m0 15h0m0-21h0m-1-1h0m-1 18h0m0 10h0m-1-12h0m0 1h0m0 1h0m0-3h0m-1 4h0m0 7h0m-1-15h0m0 12h0m-1-7h0m0 6h0m0-23h0m-1 3h0m-1 24h0m-1-6h0m-5-5h0m-1-14h0m-4 16h0m-2 10h0m0-20h0m-1 3h0m0-9h0m0 13h0m-2-9h0m0 2h0m-1-4h0m-1 20h0m-1-20h0m-1 21h0m0-5h0m0-17h0m0 20h0m-2-21h0m-1 12h0m0-8h0m-3 17h0m-1-19h0m0 1h0m0 21h0m0-3h0m-2-5h0m0-10h0m-1-5h0m0 21h0m-1-9h0m-1-8h0m0 0h0m0 15h0m-1 6h0m0-24h0m-1 13h0m0-1h0m-1-15h0m-41 21h0m0-8h0m0 2h0m-1 5h0m0 1h0m0 6h0m-1-12h0m0-3h0m0 8h0m-1-2h0m0 7h0m-1 3h0m-1-11h0m-1-7h0m0-5h0m-1 23h0m0-7h0m0 2h0m-2-13h0m-1 14h0m0 2h0m-3-16h0m-1-10h0m0 15h0m-3-7h0m0 1h0m-2-7h0m0 19h0m0 2h0m-1-1h0m-1 5h0m0-6h0m0-3h0m0-4h0m-2-5h0m0 4h0m-1 6h0m0-4h0m0-7h0m0 19h0m-1-17h0m0 15h0m0-10h0m0-16h0m-1 23h0m0-2h0m0-4h0m-1 0h0m0-11h0m-3 14h0m0-1h0m0-4h0m-1 1h0m-2 9h0m0-9h0m-1 13h0m-1-14h0m-2 6h0m-1-13h0m-1 0h0m0 6h0m-3-11h0m-1 0h0m0-3h0m0 14h0m-1-1h0m-1-12h0m-2 15h0m0-8h0m-3 8h0m0 13h0m0-18h0m0 10h0m-1-5h0m0 4h0m0 1h0m-1-18h0m-1 17h0m0 1h0m-1 6h0m0-4h0m-1-13h0m0-3h0m-1 10h0m0 3h0m-1-3h0m-1-12h0m0 3h0m-1-1h0m0 14h0m-1 1h0m-1-9h0m-1 13h0m-2-13h0m0-4h0m-2-4h0m0-5h0m0 2h0m-2 21h0m-4-16h0m-1 19h0m-1 0h0m-1-23h0m-1 0h0m-1 4h0m-1 13h0m-1 8h0m0-2h0m0-24h0m0 9h0m-1 11h0m0-15h0m0 14h0m0-3h0m-1-12h0m0 20h0m-1 0h0m-1-7h0m0 3h0m0-19h0m0 7h0m0 9h0m-1 0h0m0 6h0m-1 4h0m-1-1h0m0 0h0m-1-4h0m-1-17h0m-2 10h0m0-15h0m0 22h0m-1 0h0m-1-18h0m0 18h0m0-2h0m-2-8h0m-2 15h0m-1-28h0m-1-1h0m-1 16h0m0 3h0m-1 10h0m-2-4h0m-1-6h0m-1 2h0m-1-8h0m0 2h0m0-8h0m-1 1h0m-1 16h0m0 5h0m-1-17h0m-1 4h0m-4-9h0m0 20h0m-1-2h0m-1-24h0m-1 1h0m-1 26h0m0-3h0m-2-11h0m-1 1h0m-1-8h0m-1 18h0m0-24h0m-1 18h0m-1-10h0m-1 20h0m-1-6h0m0-15h0m-1 1h0m-1 5h0m-1 10h0m-1 5h0m0-15h0m-1 1h0m-1-9h0m0 16h0m-1-6h0m-1 9h0m-2-17h0m0-8h0m0 27h0m-2-10h0m0-13h0m-1 9h0m-1 15h0m0-14h0m0 7h0m-2-6h0m0 7h0m-1-5h0m0 6h0m-3-19h0m-1 50h0m3-11h0m0 11h0m2 1h0m1 1h0m1-12h0m4 1h0m0-11h0m0 16h0m1 6h0m2-22h0m0 24h0m1-6h0m0-3h0m1-12h0m0 14h0m1-13h0m1 13h0m0-10h0m0 2h0m0-11h0m1 8h0m1-5h0m0 7h0m1 8h0m0-16h0m2 7h0m0 4h0m0 5h0m0-12h0m0 6h0m0-10h0m1 6h0m1-6h0m0 21h0m1 2h0m2-9h0m0-5h0m0 15h0m1-9h0m0-16h0m1-1h0m0 26h0m2-8h0m1-7h0m0 14h0m1-24h0m1 23h0m0-17h0m1 5h0m0 8h0m1-9h0m1 12h0m0-20h0m1 12h0m0 6h0m0-21h0m2 17h0m0-18h0m1 21h0m0-15h0m1 18h0m2-18h0m0 5h0m1-2h0m1 10h0m0-18h0m0 25h0m3-1h0m1-15h0m0-5h0m0 7h0m1-2h0m1 14h0m0-9h0m1-1h0m0-8h0m1 0h0m0 20h0m3-12h0m0-8h0m0 11h0m3-5h0m0 12h0m1-21h0m0 11h0m1 2h0m1-8h0m1 12h0m0-16h0m1 18h0m0 2h0m0-1h0m0-14h0m0 1h0m0 2h0m0-2h0m1-10h0m0 4h0m0 4h0m2-6h0m0 24h0m1-2h0m0-14h0m1 5h0m3-5h0m0 16h0m3-10h0m0 3h0m1-20h0m0 21h0m1-17h0m0 12h0m0-2h0m1 9h0m2-10h0m1 7h0m1 6h0m0-15h0m0 16h0m1-11h0m0-2h0m3 4h0m0-14h0m1 7h0m0-1h0m3 7h0m2-14h0m5 16h0m0 4h0m3-2h0m0-15h0m0 18h0m1-10h0m1-13h0m3 11h0m0 4h0m0-15h0m1 15h0m1 11h0m1-6h0m2-3h0m2-6h0m1-5h0m1-4h0m1 23h0m0-7h0m1-2h0m0-14h0m0 24h0m1-9h0m0-13h0m1-5h0m0 25h0m1-6h0m0 7h0m1-16h0m2 2h0m0-3h0m2 13h0m0-12h0m1-1h0m3-1h0m1 9h0m2-14h0m1 9h0m1-8h0m0 6h0m1-2h0m0 12h0m0-19h0m0 12h0m1-10h0m0-1h0m2 22h0m0-16h0m0 9h0m1 5h0m1-1h0m0-20h0m1 15h0m0 10h0m0-18h0m1 17h0m0-2h0m2-1h0m0-2h0m2-15h0m0 1h0m0 12h0m0 3h0m45-20h0m10-1h0m3 4h0m1-1h0m5 12h0m3-9h0m0 8h0m2-1h0m1 12h0m4-22h0m1 15h0m1-17h0m0 11h0m2-12h0m0 24h0m1-24h0m3 3h0m5 14h0m2-12h0m1-3h0m1-2h0m2 15h0m5-12h0m5-1h0m4-1h0m2 0h0m3 27h0m1-11h0m2-13h0m2 21h0m1-24h0m6 0h0m2 3h0m4-2h0m1 0h0m2 3h0m1 12h0m5-17h0m2 2h0m1 1h0m1-2h0m10 27h0m0-7h0m6-19h0m1 3h0m4 11h0m2 11h0m2-24h0m1 0h0m4 17h0m2-13h0m2-5h0m6 15h0m5-15h0m0 8h0m5-10h0m1 9h0m1 5h0m37 1h0m14 13h0m3-10h0m3-18h0m21 13h0m6-1h0m1 3h0m2-13h0m2 4h0m8-6h0m1 5h0m4 20h0m2-20h0m8 1h0m2 2h0m1 9h0m30-17h0m4 7h0m2 15h0m3-5h0m1 10h0m28-2h0m3 26h0m-1-9h0m-31-12h0m-50 2h0m-18 14h0m-15 4h0m-25-13h0m-65 0h0m-3 14h0m-4-3h0m-5-16h0m-6 3h0m-7 1h0m-1 15h0m-10-12h0m-4-6h0m-6 1h0m0 8h0m-13 15h0m-7-13h0m0 0h0m-1-3h0m-3-9h0m-3 12h0m-4-9h0m-2 14h0m-2-11h0m-3 13h0m-5 0h0m-3 6h0m-10-4h0m-1-11h0m-11 10h0m-6 6h0m-13-15h0m-43-10h0m-8 26h0m-1-12h0m-1-13h0m-2 8h0m-6-1h0m-5-2h0m-5 5h0m0 8h0m0-15h0m-1 6h0m-6 12h0m-3-3h0m-1 2h0m0-20h0m0 10h0m-4 6h0m-6-1h0m0 2h0m0-13h0m-4 1h0m-2 7h0m-1 10h0m0-4h0m-2-12h0m-3 17h0m-9-11h0m-1 4h0m-1-3h0m0 5h0m-2-21h0m-1 26h0m-8-18h0m-10-2h0m-4-1h0m0 11h0m-3 10h0m-2-11h0m-1-9h0m-1 13h0m-1-16h0m-1 10h0m0-9h0m-1-5h0m-2 17h0m-1-10h0m-5 1h0m-5 3h0m0-2h0m-7-1h0m0 3h0m-6-10h0m-2 2h0m-1 5h0m-4 5h0m-4 8h0m3 23h0m4 13h0m2-10h0m4 12h0m4-14h0m1 7h0m11-12h0m8 19h0m1 0h0m6-10h0m10-19h0m2 0h0m6 7h0m3-1h0m7 4h0m5 17h0m0-18h0m0 7h0m2 7h0m1 4h0m12-26h0m7 11h0m0 6h0m1-7h0m2 1h0m0 15h0m4-2h0m6-11h0m4 11h0m5 4h0m1-14h0m3 12h0m5-21h0m2-4h0m0 8h0m1 3h0m2-3h0m4-10h0m1 0h0m0 21h0m46-20h0m17 6h0m12 1h0m13 0h0m31-8h0m58 18h0m22-2h0m1 2h0m75 5h0m89-13h0m-15 35h0m-21 5h0m-20 2h0m-119-12h0m-45 6h0m-60 4h0m-12-15h0m-7 0h0m-96-3h0m-16-1h0m-6 5h0m-2 9h0m-17-10h0m-23-5h0m-3 4h0m0-1h0m0 2h0m-11 11h0m-33 22h0m6 9h0m46-10h0m26 3h0m10-8h0m26 13h0m21 0h0m102-15h0m84 16h0m75-5h0m90 14h0m17-12h0m4 2h0m28 24h0m-77 0h0m-52 9h0m-114-7h0m-52-1h0m-35-9h0m-4 13h0m0 6h0m-83-12h0m-6 5h0m-10-1h0m-21-12h0m-3 25h0m20 9h0m39-2h0m141 13h0m6 12h0m29-14h0m5 14h0m60-13h0m7-5h0m27 16h0m26-25h0m63 17h0m35 37h0m-127-13h0m-83-8h0m-117 6h0m-4-6h0m-2 17h0m0-9h0m-9 31h0m23-6h0m11-3h0m41 13h0m35-10h0m161-2h0m21 3h0m10 15h0m11-21h0m19 3h0m-15 51h0m-16-18h0m-17 17h0m-83-9h0m-52 6h0m-86 18h0m17 19h0m7-11h0m153 3h0m59-14h0m10 19h0m15-17h0m16 25h0m-8-3h0m-12 29h0m-117-29h0m-56 23h0m-27-12h0m-14 7h0m-28-11h0m-18 7h0m-66-10h0m22 27h0m0 8h0m64 7h0m141-13h0m47 14h0m1-13h0m33 4h0m-156 35h0m-28-12h0m-13 4h0" stroke="#2A5FAD" stroke-width="12.5" stroke-linecap="square" fill="none"/><text x="327.6" y="115.0" font-size="4.7" fill="#A8A8D8" stroke="#A8A8D8" stroke-width="0.12" text-anchor="middle">0</text><text x="346.8" y="115.0" font-size="4.7" fill="#A8A8D8" stroke="#A8A8D8" stroke-width="0.12" text-anchor="middle">1</text><text x="366.0" y="115.0" font-size="4.7" fill="#A8A8D8" stroke="#A8A8D8" stroke-width="0.12" text-anchor="middle">2</text><text x="346.8" y="119.5" font-size="5.3" fill="#000" stroke="#000" stroke-width="0.12" text-anchor="middle">Cluster</text><text x="385.4" y="41.8" font-size="5.6" fill="#000" stroke="#000" stroke-width="0.12">thr_signi</text><circle cx="389.70" cy="49.00" r="0.95" fill="#D93327"/><text x="395.3" y="51.0" font-size="5.35" fill="#1a1a1a" stroke="#1a1a1a" stroke-width="0.12">Up_Highly</text><circle cx="389.70" cy="56.50" r="0.95" fill="#2A5FAD"/><text x="395.3" y="58.5" font-size="5.35" fill="#1a1a1a" stroke="#1a1a1a" stroke-width="0.12">Down_Highly</text><circle cx="389.70" cy="64.00" r="0.95" fill="#000"/><text x="395.3" y="66.0" font-size="5.35" fill="#1a1a1a" stroke="#1a1a1a" stroke-width="0.12">Up_Lowly</text><circle cx="389.70" cy="71.50" r="0.95" fill="#000"/><text x="395.3" y="73.5" font-size="5.35" fill="#1a1a1a" stroke="#1a1a1a" stroke-width="0.12">Down_Lowly</text><text x="321.3" y="9.6" font-size="2.4" fill="#505050" stroke="#505050" stroke-width="0.08">Pnlip</text><text x="330.1" y="11.7" font-size="2.4" fill="#505050" stroke="#505050" stroke-width="0.08">Serpini1</text><text x="317.1" y="14.1" font-size="2.4" fill="#505050" stroke="#505050" stroke-width="0.08">Pnliprp</text><text x="326.2" y="15.6" font-size="2.4" fill="#505050" stroke="#505050" stroke-width="0.08">Amy2a5</text><text x="317.5" y="20.1" font-size="2.4" fill="#505050" stroke="#505050" stroke-width="0.08">Amy2a3</text><text x="358.2" y="37.1" font-size="2.4" fill="#505050" stroke="#505050" stroke-width="0.08">Scd1</text><text x="366.6" y="38.0" font-size="2.4" fill="#505050" stroke="#505050" stroke-width="0.08">Cyp2e1</text><text x="349.2" y="41.9" font-size="2.4" fill="#505050" stroke="#505050" stroke-width="0.08">Pnlip</text><text x="366.0" y="42.9" font-size="2.4" fill="#505050" stroke="#505050" stroke-width="0.08">Try4</text><text x="346.0" y="46.1" font-size="2.4" fill="#505050" stroke="#505050" stroke-width="0.08">Pnliprp1</text><text x="336.0" y="49.8" font-size="2.4" fill="#505050" stroke="#505050" stroke-width="0.08">Gp2 Cela1</text><text x="325.7" y="76.5" font-size="2.4" fill="#505050" stroke="#505050" stroke-width="0.08">Cela3b Cpb1</text><text x="321.6" y="81.9" font-size="2.4" fill="#505050" stroke="#505050" stroke-width="0.08">Dusp1 Ctrb1</text><text x="329.8" y="83.9" font-size="2.4" fill="#505050" stroke="#505050" stroke-width="0.08">Cpa1</text><text x="355.2" y="91.3" font-size="2.4" fill="#505050" stroke="#505050" stroke-width="0.08">Scd1</text><text x="337.1" y="99.5" font-size="2.4" fill="#505050" stroke="#505050" stroke-width="0.08">Amy2b</text><text x="350.2" y="97.4" font-size="2.4" fill="#505050" stroke="#505050" stroke-width="0.08">Amy2a5</text><text x="365.8" y="98.7" font-size="2.4" fill="#505050" stroke="#505050" stroke-width="0.08">Serpina3</text><text x="344.5" y="101.1" font-size="2.4" fill="#505050" stroke="#505050" stroke-width="0.08">Reg1</text><text x="338.0" y="104.4" font-size="2.4" fill="#505050" stroke="#505050" stroke-width="0.08">Serpini1</text><text x="360.1" y="102.8" font-size="2.4" fill="#505050" stroke="#505050" stroke-width="0.08">Pnlip</text><text x="360.9" y="106.0" font-size="2.4" fill="#505050" stroke="#505050" stroke-width="0.08">Pnliprp1</text><text x="337.1" y="108.5" font-size="2.4" fill="#505050" stroke="#505050" stroke-width="0.08">Ptf1a</text><text x="183.2" y="132.8" font-size="7.0" fill="#000" stroke="#000" stroke-width="0.12">E</text><path transform="scale(.1)" d="M2154 1641h0m4 0h0m2 7h0m12-7h0m6 4h0m1 2h0m7-6h0m15-8h0m5 16h0m4-8h0m2 3h0m8-3h0m4 5h0m4 3h0m1-1h0m6-6h0m8-5h0m3 1h0m4 0h0m0 0h0m3 3h0m5-1h0m11 0h0m1 1h0m5 3h0m17-3h0m61 36h0m-1 0h0m-6-11h0m-4-2h0m-3-3h0m0 16h0m-13-19h0m-1 12h0m0 2h0m0-5h0m-5-6h0m-4 13h0m0-14h0m-2 15h0m0-9h0m-4-5h0m-9 4h0m0 11h0m-9-2h0m-6-19h0m-1 15h0m-1 0h0m-1-1h0m-2 8h0m-4 1h0m-1-8h0m-1-4h0m-3-2h0m-6-10h0m-2 20h0m-4 4h0m0-20h0m-1-8h0m-6 8h0m0 20h0m-7-13h0m0 4h0m-3-18h0m-1 10h0m-3 17h0m-6-5h0m-5-7h0m0-4h0m-2-8h0m-1 25h0m-6-12h0m-6 5h0m-2 6h0m-7-20h0m-31 0h0m0 10h0m-5 1h0m-9-1h0m-1 9h0m-7-23h0m0 6h0m-12-4h0m-5 22h0m-2-23h0m-75 53h0m9-5h0m1-7h0m0 11h0m9 0h0m19-11h0m5 11h0m14-21h0m6-4h0m0 10h0m12 1h0m14-5h0m0 20h0m3-13h0m8-12h0m4 10h0m2-5h0m2-7h0m11 0h0m1 9h0m5-4h0m3-2h0m7 0h0m10 7h0m1-3h0m1 18h0m3 3h0m1-27h0m3 13h0m3-8h0m14-7h0m1 19h0m2 1h0m1-7h0m9-4h0m8-2h0m7 4h0m4-4h0m1 16h0m4-20h0m2 8h0m1 11h0m0-21h0m8 7h0m1 10h0m1-14h0m4 21h0m1-19h0m0 23h0m1-20h0m1 6h0m2-15h0m4 10h0m1 16h0m7-23h0m1 16h0m0 1h0m2-8h0m5 12h0m1 4h0m3 0h0m5-4h0m1-12h0m5 15h0m0-18h0m5 19h0m6-18h0m2 11h0m1 1h0m1-4h0m4-17h0m4 6h0m3 0h0m1 6h0m1 16h0m3-1h0m0-18h0m3 3h0m3 1h0m0 5h0m2 10h0m2-17h0m0 12h0m1-18h0m3 23h0m0-7h0m2-1h0m9 31h0m-2 6h0m-1-4h0m-3-24h0m-5 9h0m-4 3h0m-3-8h0m0 5h0m-2-5h0m-1-1h0m-3-3h0m-2 7h0m-1-6h0m-1 6h0m-6 12h0m-2-12h0m-5 17h0m-3-21h0m-1 20h0m-1-12h0m-1-11h0m-2 7h0m-7 13h0m-1-2h0m0-14h0m-4 10h0m0-1h0m-5-1h0m-1 13h0m-1-10h0m-1-4h0m-2-1h0m-1 15h0m-5-20h0m-3 16h0m-4-10h0m-1 4h0m-10 4h0m-2-2h0m-3-11h0m-3 22h0m0-8h0m-1-6h0m-2-3h0m-5-2h0m-1 19h0m-6-8h0m-1-5h0m-1 1h0m-5-6h0m-2 17h0m-2-6h0m-6 1h0m-1-14h0m-4 0h0m-4 18h0m-1 3h0m0-7h0m-7-10h0m-3-3h0m-3-9h0m-2 4h0m-3 11h0m-7 0h0m0-1h0m0 12h0m-14-21h0m-1 24h0m-16-25h0m-14 3h0m-8 8h0m-10-2h0m-12 12h0m-5-15h0m0 7h0m-4-7h0m-6 8h0m-7 7h0m-3-19h0m-13 16h0m-4 7h0m-2-15h0m-15-13h0m-5 0h0m-3 2h0m-5 26h0m-11-1h0m-10 22h0m4-1h0m1 7h0m0-8h0m23-14h0m11 17h0m12-5h0m12-5h0m14-7h0m2 23h0m10-20h0m8 12h0m7 1h0m11 4h0m10 1h0m0-17h0m2 18h0m1-19h0m1 15h0m1 5h0m1-2h0m1 4h0m4-1h0m2-8h0m0 5h0m0-8h0m4 8h0m0-8h0m1-17h0m2 22h0m1-7h0m1 3h0m3-2h0m1-10h0m2 22h0m1-3h0m3-14h0m0 6h0m9 2h0m1 8h0m6-10h0m0-16h0m3 4h0m1 21h0m0-12h0m0 13h0m0-25h0m1 11h0m0-10h0m2-1h0m0 12h0m1-6h0m0 3h0m0 4h0m1-2h0m0-4h0m3 8h0m7-6h0m1 8h0m1 8h0m0-23h0m1 22h0m2-26h0m8 25h0m3-3h0m2-12h0m1 2h0m1 13h0m2-3h0m0-14h0m0 13h0m1-17h0m0 19h0m0-4h0m1-18h0m1 4h0m0 18h0m2 6h0m1-4h0m1-17h0m0-8h0m1 11h0m0-1h0m2-5h0m0 6h0m1 7h0m1 3h0m1-11h0m0 2h0m2 6h0m1-5h0m2 2h0m0 8h0m1-15h0m0 2h0m1 14h0m0-8h0m0-16h0m2 18h0m1-8h0m1 18h0m1-15h0m0-2h0m3-9h0m0 2h0m0 13h0m0 6h0m4 6h0m1-10h0m0-2h0m1 11h0m1-12h0m2-4h0m0-2h0m2 15h0m2-10h0m0 14h0m2-15h0m1 13h0m5-9h0m2 10h0m3-27h0m3 12h0m3-8h0m2 22h0m1-5h0m0-4h0m9-4h0m12-13h0m0 18h0m2 6h0m5-3h0m2-11h0m5 0h0m0 3h0m2 14h0m3-19h0m3 4h0m2-4h0m1 20h0m3-24h0m2-5h0m12 24h0m1-7h0m-6 27h0m0-4h0m-2-7h0m-7 5h0m-1-5h0m0 1h0m-1 0h0m-4 25h0m-4-28h0m-3 16h0m0 0h0m-1-3h0m-3-12h0m-4 3h0m-3-5h0m-1 24h0m-3-18h0m-2-2h0m-1 5h0m-6 19h0m-4-15h0m-3 9h0m-5-5h0m-3 9h0m-2-5h0m-1-9h0m0 11h0m-1-16h0m0 21h0m-1-23h0m0 5h0m-1 11h0m0-1h0m-5-12h0m-1 5h0m-1-6h0m-3 1h0m-1 7h0m0 13h0m-2-1h0m-4-24h0m0 23h0m-2-10h0m-1-11h0m0 8h0m-5 13h0m-1-21h0m-6 1h0m0-6h0m0 1h0m-1 9h0m-1 16h0m-1 0h0m-3-24h0m-2 20h0m-2 2h0m-2-20h0m-1 9h0m-1 13h0m0 3h0m0-3h0m-3-3h0m-1-17h0m-4 2h0m-3 14h0m0-12h0m-3-2h0m-3 11h0m0-5h0m-1-11h0m0 25h0m-1-28h0m0 9h0m-1 7h0m-1 11h0m-5-7h0m0-12h0m-1 2h0m-2 1h0m-2 7h0m0-14h0m-6 8h0m0 17h0m-3-20h0m-2 13h0m0-4h0m-4-17h0m-2 12h0m0 9h0m0-18h0m-3 6h0m-1-6h0m0 7h0m-1 8h0m-2 5h0m0-15h0m-1 19h0m0-8h0m-2-11h0m-2 5h0m0-1h0m-2 7h0m0 5h0m-1 3h0m-2-14h0m0 10h0m0-21h0m-1 6h0m-2 9h0m0 0h0m-1-17h0m-5-1h0m-1 19h0m-2-10h0m-5 7h0m-1 6h0m0-5h0m-1 5h0m-1-9h0m-2-1h0m0-9h0m0 16h0m-1-11h0m-1 10h0m-1 11h0m-2-5h0m0-20h0m-1 8h0m-1-11h0m0 8h0m-2 2h0m-1-9h0m-1 13h0m-2 4h0m-1-19h0m0 8h0m-1 21h0m-1-20h0m-3 16h0m0-1h0m-3-21h0m-1 8h0m-1 8h0m-1-2h0m0-13h0m-3 15h0m-1 5h0m-2 4h0m-2-19h0m0 2h0m0 9h0m0 0h0m-1 8h0m-1-11h0m0 5h0m-2 4h0m0 0h0m-2-3h0m-8-1h0m-3-4h0m-1 1h0m-1 2h0m-7 7h0m-17-11h0m-9 7h0m-15 2h0m-22-26h0m-4 12h0m-5 10h0m-5 0h0m3 14h0m44 8h0m19 11h0m17-9h0m6 5h0m5 2h0m1-22h0m2 6h0m1 0h0m3 18h0m0-17h0m0 6h0m0 6h0m0 2h0m1 1h0m1-18h0m0 22h0m2-21h0m1-2h0m1 6h0m0 17h0m2-23h0m2-4h0m0 10h0m0-9h0m2 8h0m1 0h0m2 4h0m1 13h0m0-1h0m0-16h0m2 19h0m2-5h0m2-7h0m1 6h0m5-10h0m1-4h0m1 13h0m3-21h0m0 24h0m1-22h0m0 3h0m1 11h0m1-16h0m1 6h0m3 10h0m3 1h0m0-5h0m1-7h0m7 18h0m2-21h0m0 5h0m2 11h0m1-15h0m0 25h0m1-6h0m1 4h0m0-2h0m1-5h0m0 10h0m1-13h0m1-2h0m0 13h0m1-6h0m3-21h0m1 21h0m1 3h0m4-18h0m1 0h0m1 11h0m1-7h0m2-2h0m1 20h0m0-8h0m2 9h0m0-6h0m1-4h0m0 10h0m4-21h0m5-3h0m1 4h0m2 0h0m1 2h0m1-4h0m0 17h0m1-11h0m0 13h0m3-13h0m0-12h0m0 19h0m1 2h0m0-8h0m0 4h0m0-10h0m1 11h0m2 4h0m1-12h0m6-2h0m0 14h0m0-6h0m1 4h0m2-7h0m0-4h0m8 9h0m1 9h0m0-3h0m1-8h0m1 1h0m3-18h0m1 15h0m1 2h0m2-6h0m0 10h0m2-19h0m0 21h0m0-15h0m2 13h0m0-2h0m1-10h0m0 12h0m2-2h0m3 6h0m1 0h0m1-5h0m2 8h0m1 0h0m0-16h0m1-5h0m0 8h0m1 4h0m0 5h0m1 4h0m0-27h0m0 5h0m3 4h0m2 8h0m0-6h0m0-8h0m3-4h0m0 15h0m0-8h0m2 22h0m3-26h0m0 24h0m2 1h0m0-22h0m1 1h0m0 8h0m2 11h0m0-26h0m1 25h0m2 4h0m0-25h0m2 17h0m7-6h0m4 13h0m7-28h0m4 14h0m13-7h0m13 21h0m2-10h0m13 2h0m-15 10h0m-6 26h0m-1-19h0m-2 19h0m-17-8h0m-2 2h0m-3-5h0m-17-10h0m-7 4h0m-2-1h0m-1 11h0m-2-10h0m-1 12h0m-3 1h0m0-9h0m0 16h0m-2 0h0m-3-18h0m-3-9h0m0 6h0m-1 11h0m-2 0h0m-5-17h0m-2-2h0m-1 27h0m-1-22h0m-2 6h0m-2 5h0m0-8h0m-2-1h0m0 19h0m-4-8h0m-1 3h0m0-14h0m-1 15h0m-1 2h0m-2 1h0m-1-10h0m-1-14h0m0 27h0m-1-11h0m-1-16h0m-1 22h0m0-15h0m-1 14h0m-1 0h0m-3-8h0m-1-13h0m-1 23h0m0-6h0m-2-3h0m0-5h0m0-4h0m0 2h0m-1-6h0m-4 21h0m-1-19h0m0 24h0m-3-26h0m-1 16h0m0 8h0m0-17h0m-2 2h0m-1-9h0m-1 18h0m-1 9h0m-2-13h0m0 6h0m-1-22h0m0 23h0m0-7h0m-1-6h0m-1-4h0m0-5h0m0 7h0m-2 6h0m-3-12h0m0 25h0m-1 2h0m-1-9h0m-2-16h0m0 16h0m-1-5h0m-1 4h0m-1-18h0m-1 15h0m0-5h0m-3 1h0m-4 2h0m0 5h0m-4 9h0m0-20h0m-2 1h0m0 1h0m0 13h0m-2-18h0m0-4h0m-1 15h0m-1-2h0m-1 9h0m-5-10h0m-2-13h0m0 26h0m0-16h0m-3 15h0m0-4h0m-1-15h0m-1 19h0m-4 2h0m0 2h0m-4-18h0m0 11h0m-3-11h0m-3 9h0m-4-8h0m0 17h0m-1-2h0m-2-26h0m-3 7h0m-1 1h0m-1 15h0m-1-13h0m-3 9h0m-1-1h0m-4-4h0m0-13h0m-4 7h0m-3-4h0m0-2h0m0 2h0m-3 16h0m-11-2h0m-38-13h0m-8 10h0m-18-14h0m35 36h0m2 6h0m18 6h0m5-1h0m13 10h0m7 0h0m4-11h0m2-10h0m0 2h0m1 19h0m2-12h0m3 10h0m1-2h0m9-20h0m4-5h0m1 6h0m3 13h0m0-11h0m0 17h0m1-3h0m0 5h0m1-27h0m2 19h0m7-12h0m1 9h0m1-6h0m8 14h0m0-7h0m2-14h0m1 14h0m1-9h0m1 17h0m4-23h0m1 7h0m0-2h0m0 22h0m1-21h0m0 5h0m2 2h0m0-10h0m6 15h0m0-6h0m0-4h0m2-4h0m0 4h0m1 6h0m0 4h0m0-20h0m1 9h0m1 14h0m0 6h0m0-4h0m0-22h0m2 9h0m0-11h0m1 20h0m2-4h0m2-1h0m2-12h0m0 15h0m1-6h0m0 11h0m1 4h0m1-19h0m1-8h0m0 8h0m8 1h0m1-8h0m1-1h0m3 13h0m2 5h0m1-3h0m2 8h0m0-10h0m1-8h0m2 2h0m1-3h0m1 1h0m0 15h0m1-4h0m6-6h0m3 5h0m1-14h0m0 11h0m2-1h0m4-11h0m0 12h0m2-5h0m1 2h0m1-9h0m0 3h0m1 7h0m2 10h0m1-17h0m0 10h0m2-13h0m1 11h0m2-4h0m1-6h0m0 12h0m4 13h0m2-24h0m5 26h0m11-18h0m11-6h0m2 1h0m2-3h0m1 0h0m-36 38h0m-6-7h0m-1 3h0m0 6h0m-2 11h0m-1-7h0m0 1h0m-2-18h0m-5 7h0m0 13h0m-3 5h0m-1-12h0m-2 9h0m0-16h0m-6 0h0m-1 6h0m0-1h0m-1-5h0m-2 15h0m-3-18h0m0 3h0m0 6h0m-3 9h0m-3-8h0m-1 9h0m-5 5h0m-3-27h0m-2 5h0m-2 14h0m0-7h0m-1-1h0m-1 16h0m-2-21h0m-3 4h0m-1 1h0m0-11h0m-2 17h0m-1-12h0m-1 7h0m0 11h0m-1-21h0m0 16h0m0-2h0m0 11h0m0-6h0m-3-10h0m-4-10h0m-3 14h0m-1 7h0m-3-1h0m0-14h0m-1 2h0m-2 0h0m-5 7h0m-1 1h0m-1 7h0m-3-20h0m-2 12h0m-8 1h0m-3-3h0m-1 3h0m-3-3h0m-1 10h0m-1 5h0m-1-17h0m-2-6h0m-2 13h0m-3-14h0m0 14h0m0-17h0m-4 24h0m-2-20h0m0 5h0m0 1h0m-1-6h0m-1 0h0m-2 15h0m-1-18h0m-1 13h0m0-11h0m-1 20h0m-1-20h0m-1 14h0m-1 4h0m-1-10h0m-11 16h0m-1-1h0m-2-16h0m-10 17h0m-2-27h0m0 1h0m-4 24h0m-4 0h0m-17-24h0m28 42h0m0 1h0m1 2h0m1 5h0m3-14h0m1 7h0m1-8h0m1 2h0m0 15h0m3-15h0m1 19h0m0 0h0m2-5h0m3-23h0m1 13h0m1-3h0m1-2h0m0 5h0m2-3h0m0-8h0m1 15h0m1-3h0m1-15h0m1 18h0m1-6h0m1-4h0m2 6h0m0 12h0m1-23h0m8 5h0m0 21h0m7-8h0m0-7h0m4-14h0m1 16h0m1 12h0m0-9h0m1 7h0m2-21h0m1 5h0m3 19h0m1-10h0m11-11h0m1-3h0m2 9h0m4-8h0m1 22h0m0-3h0m3-11h0m0 13h0m0 2h0m5-13h0m3 7h0m0-17h0m1-5h0m1-1h0m0 8h0m1-6h0m1 25h0m1-15h0m3-3h0m0 17h0m0-24h0m2 16h0m1 11h0m1-16h0m3 5h0m1-3h0m0-12h0m4-1h0m0 4h0m1-6h0m2 26h0m2-25h0m3 27h0m1-24h0m0 3h0m1 10h0m1-4h0m1 10h0m3-8h0m2 6h0m1-20h0m2 27h0m4-18h0m4-9h0m5 6h0m1 22h0m2-6h0m7-15h0m-8 23h0m-5 4h0m-11 15h0m-1-18h0m-1 9h0m-3 0h0m0 14h0m-6-25h0m-5 4h0m-3 18h0m0-4h0m0 3h0m0 3h0m-3-21h0m-1 11h0m-2-1h0m-1-10h0m0 4h0m-1-6h0m-1 20h0m-1-21h0m-1 17h0m-1 0h0m-4 4h0m-3-13h0m-1 8h0m0-1h0m-1-13h0m-4 21h0m0-17h0m-2 15h0m0-14h0m-1-7h0m-1 1h0m-2 24h0m0-22h0m-2 22h0m0-5h0m-2-11h0m0 12h0m-1 0h0m-3 4h0m0-11h0m-1-3h0m-3 2h0m-3 15h0m0-23h0m0 8h0m-3 15h0m0-1h0m-3-5h0m0-2h0m-1-9h0m-2 14h0m0 0h0m0-11h0m-3 5h0m-1-13h0m-1 3h0m-2-2h0m-1 11h0m0-3h0m-1 10h0m-1 0h0m-1-15h0m-1 7h0m-1-15h0m0 11h0m-2 10h0m-1-3h0m-1-5h0m0-6h0m-1 9h0m0-14h0m-1-1h0m-2 1h0m-3 9h0m0 2h0m0-2h0m-1-5h0m-4-2h0m0-6h0m-4 5h0m-1 0h0m0 11h0m-2-4h0m-1 3h0m-1-9h0m-2-2h0m52 37h0m2-10h0m2 13h0m5-1h0m10 2h0m5-13h0m0-2h0m7 5h0m1-2h0m2-1h0m2 7h0m1-5h0m1-1h0m5 0h0m6 2h0m4 2h0" stroke="#D3D3D3" stroke-width="12" stroke-linecap="round" fill="none"/><path transform="scale(.1)" d="M2171 1646h0m44-12h0m138 36h0m-58-10h0m-2 7h0m-6 10h0m-16-1h0m-16-6h0m-29-6h0m-2 12h0m-12-23h0m-10 25h0m-5 1h0m-23-5h0m-15-4h0m53 15h0m5 5h0m18-1h0m59-9h0m47 22h0m4 0h0m30 20h0m-4 3h0m-17-6h0m-2-5h0m-2 0h0m-2 20h0m-2-9h0m-1 8h0m-1-18h0m-3 2h0m-6 14h0m-18-21h0m-31 13h0m-19-2h0m-1 13h0m-7-22h0m-47 10h0m-9-8h0m-90 7h0m-73 47h0m35-16h0m183 5h0m52-10h0m17-4h0m22-3h0m10 8h0m8 8h0m11 4h0m-17 17h0m-3 13h0m-27-10h0m-282 5h0m173 65h0m-71-4h0m130 38h0m16-12h0m33 0h0m-43 25h0m-57 2h0m-17 3h0m-17 28h0" stroke="#C6C3DA" stroke-width="12" stroke-linecap="round" fill="none"/><path transform="scale(.1)" d="M2167 1639h0m4 6h0m35 3h0m121 14h0m-26-3h0m-3-9h0m-5 24h0m-21-11h0m-35-13h0m-2 25h0m-20-14h0m-2 18h0m-15-15h0m-15 4h0m-29-17h0m26 42h0m34 12h0m9-17h0m34-7h0m28 28h0m9-13h0m16 6h0m8-21h0m6 3h0m5-3h0m1 28h0m22-15h0m27 31h0m-5 14h0m-11-23h0m-9 9h0m-44-13h0m-21-1h0m-8 3h0m-1-1h0m-8 6h0m-12 10h0m0 6h0m-142-6h0m-62 0h0m-3 28h0m11 2h0m81 5h0m32-3h0m5-8h0m13 12h0m19 0h0m12-8h0m15-6h0m36-3h0m23 7h0m4 3h0m8 6h0m10-23h0m2 15h0m23 4h0m11-5h0m6-7h0m9-3h0m1 18h0m6-11h0m-2 26h0m-19 9h0m-3-3h0m-201-7h0m-7-5h0m-13 22h0m-13-9h0m-21-3h0m-2-7h0m74 39h0m138-8h0m-118 43h0m-3-2h0m-29 3h0m-27 1h0m-18-1h0m101 32h0m72-3h0m-5 37h0m-108-3h0m-18-3h0m-26-7h0m-2 19h0m100 10h0m4 8h0m-5 29h0m0 3h0m-25-20h0m-12 13h0m13 18h0" stroke="#B9B3E0" stroke-width="12" stroke-linecap="round" fill="none"/><path transform="scale(.1)" d="M2176 1635h0m64 5h0m95 34h0m-7-8h0m-22-13h0m-25 25h0m0-2h0m-7-16h0m-9 17h0m-4-5h0m-11-14h0m-10 11h0m-23 7h0m-15-6h0m-4-5h0m-12 11h0m-13-1h0m-6-23h0m-14 14h0m-29-2h0m-7 20h0m9 25h0m44-25h0m31 23h0m71-24h0m10 21h0m10 5h0m13-8h0m19 2h0m4-2h0m0-14h0m15 3h0m15 5h0m21 31h0m-46-2h0m-4-5h0m-30-6h0m0 0h0m-17 20h0m-4-15h0m-9 6h0m-5 0h0m0 5h0m-11-7h0m-29 16h0m-1-19h0m-19-1h0m-15 4h0m-19-9h0m-34-3h0m-21 21h0m-27-6h0m-29 1h0m21 16h0m16 24h0m45-2h0m26-14h0m8-7h0m0 24h0m58-15h0m3 1h0m10 7h0m28 3h0m31-18h0m1-5h0m2 22h0m6-12h0m22 5h0m10 10h0m18-15h0m16-4h0m-3 27h0m-28-2h0m-6 11h0m-7-8h0m-27 9h0m-55 13h0m-13-24h0m-17 12h0m-59 9h0m-19 2h0m-20-11h0m-71 23h0m69 5h0m4-10h0m50 4h0m41-6h0m16 19h0m21 8h0m80-1h0m8-6h0m19 4h0m-43 14h0m-7 2h0m-31-10h0m-15 13h0m-105-4h0m-32-4h0m88 49h0m76-12h0m12 25h0m-168 38h0m50-14h0m50 12h0m26 22h0m-6-5h0m-6 7h0m-47 7h0m-55-11h0m55 33h0m43-3h0" stroke="#A49CDC" stroke-width="12" stroke-linecap="round" fill="none"/><path transform="scale(.1)" d="M2180 1637h0m7 7h0m69-1h0m67 27h0m-6-2h0m-6-3h0m-8 5h0m-41-17h0m-45 23h0m-10-15h0m-12-9h0m-5 0h0m-28 5h0m-4 15h0m-13 1h0m-28-9h0m-17 37h0m2-10h0m17 7h0m14-2h0m3 12h0m4-1h0m9-16h0m10 5h0m25-16h0m5 11h0m10-2h0m21 17h0m12-21h0m13 9h0m27-6h0m5 17h0m4 4h0m11-18h0m14 7h0m4 11h0m6-5h0m12-12h0m16-2h0m12 19h0m13 7h0m-9 5h0m-9 2h0m-20-5h0m-2-5h0m-3 12h0m-8-15h0m-15 1h0m-29 13h0m-1 2h0m-56-1h0m-39-1h0m-32-12h0m-21 20h0m-6-3h0m-12-9h0m-9-10h0m-16 4h0m-16-1h0m-11 51h0m3 3h0m2-7h0m9 7h0m4-24h0m3 7h0m6 17h0m6-27h0m32 4h0m12-2h0m44-2h0m51 0h0m8 5h0m0 7h0m29 3h0m17 0h0m5 2h0m0-7h0m38 16h0m15-21h0m4 2h0m17 20h0m1-20h0m2-6h0m8 19h0m5 4h0m4-13h0m-2 36h0m-73-13h0m-7 4h0m-128 11h0m-35-1h0m-14 8h0m-32-23h0m-2 8h0m-18 0h0m-21 0h0m0-3h0m66 25h0m14-2h0m157 16h0m16 11h0m5-1h0m71-24h0m-148 36h0m-48 11h0m-50-7h0m-60-10h0m-8 3h0m-9 12h0m41 25h0m19 16h0m33-7h0m3-11h0m1-10h0m22 28h0m12-21h0m20-4h0m8 14h0m77 20h0m-8 4h0m-51 13h0m-16 0h0m-8 2h0m-48 22h0m83-15h0m9 9h0m-94 43h0m-5-5h0m31 12h0m25 0h0" stroke="#8F84D8" stroke-width="12" stroke-linecap="round" fill="none"/><path transform="scale(.1)" d="M2203 1639h0m1-4h0m12-1h0m31 0h0m59 40h0m-17-5h0m-80 4h0m-14-3h0m-1 6h0m-6-20h0m-13-4h0m-27 5h0m-5 1h0m-1 13h0m-24-1h0m-38 14h0m16 18h0m34-19h0m18 23h0m12-16h0m4 18h0m5-16h0m0 0h0m22 15h0m11 0h0m6-23h0m13 0h0m4 10h0m2-1h0m13-6h0m89 4h0m-11 33h0m-133-14h0m-107 24h0m-19-22h0m-11 14h0m28 25h0m7 7h0m27 11h0m31-16h0m2-5h0m42 11h0m9-15h0m151 10h0m26-6h0m-36 34h0m-185 8h0m-14 2h0m-28-13h0m-38 8h0m-18-12h0m-2 3h0m44 51h0m3-28h0m18 9h0m9 7h0m7-5h0m2 8h0m1 7h0m197-4h0m-245 41h0m5 6h0m37 0h0m17 2h0m18 1h0m124 0h0m-118 74h0m43 27h0m-54 0h0" stroke="#776CD2" stroke-width="12" stroke-linecap="round" fill="none"/><path transform="scale(.1)" d="M2225 1636h0m12 5h0m8 8h0m-17 24h0m-8 4h0m-14-4h0m-36-19h0m-3 18h0m-18 2h0m-18-18h0m-1 4h0m-10 5h0m-3-4h0m-1 14h0m-34 7h0m7 17h0m34 4h0m6-17h0m14 21h0m17-20h0m4 3h0m5 2h0m24 1h0m11-7h0m28 17h0m25-4h0m24-13h0m8 4h0m38-1h0m-36 25h0m-60 7h0m-66 6h0m-37 5h0m-5-9h0m-10 10h0m-17-16h0m-25 20h0m-5-17h0m-1 19h0m-25 29h0m70-21h0m2-3h0m3 17h0m52-17h0m138 14h0m64-1h0m-245 31h0m-4-8h0m-8 17h0m-26-11h0m-4 31h0m9-3h0m13 7h0m26 15h0m-59 36h0m60-10h0m166 36h0" stroke="#5F55CC" stroke-width="12" stroke-linecap="round" fill="none"/><path transform="scale(.1)" d="M2191 1640h0m58 39h0m-3-15h0m-9 7h0m-17-19h0m-24 13h0m-28-5h0m-4-7h0m-79 28h0m38 11h0m3-3h0m23 13h0m0-17h0m4 24h0m35-26h0m0 14h0m2 0h0m5-16h0m13 21h0m107 12h0m-66 5h0m-5-3h0m-8 9h0m-3-14h0m-20 2h0m-14-3h0m-7 0h0m0 12h0m-18-11h0m-16 2h0m-5 11h0m-43 6h0m-10-11h0m-12-5h0m-5 2h0m-8 6h0m-3 12h0m-19-14h0m-6 26h0m2-5h0m4 16h0m43-13h0m282 1h0m-237 25h0m-47 27h0m-1-2h0m-20-11h0m-13 3h0m41 23h0m33-10h0m-49 35h0m29 46h0m31-15h0m33 9h0m-75 23h0" stroke="#4A42C5" stroke-width="12" stroke-linecap="round" fill="none"/><path transform="scale(.1)" d="M2139 1648h0m66-16h0m17 8h0m25 2h0m-12 8h0m-22 27h0m-65-17h0m-30 43h0m7-4h0m10-16h0m4 26h0m1-1h0m18-4h0m7-5h0m1-1h0m17 1h0m7 1h0m32-11h0m12-9h0m11 46h0m-12-12h0m-4-3h0m-9 10h0m-10 6h0m-6-5h0m-21 2h0m-15 7h0m-19-17h0m-22 1h0m-17 9h0m-3 9h0m-6-1h0m-2-11h0m-9 4h0m-3 11h0m-6-4h0m-15 2h0m-7-13h0m12 42h0m29-6h0m15 1h0m18 18h0m-17 18h0m-10-7h0m-12 11h0m-50-28h0m60 34h0m3 9h0m17-10h0m10 16h0m0 16h0m-6 24h0m-20-28h0m-28 24h0m5 32h0m13-14h0m34-11h0m14 7h0" stroke="#3430BE" stroke-width="12" stroke-linecap="round" fill="none"/><text x="223.5" y="158.1" font-size="5.4" fill="#000" stroke="#000" stroke-width="0.08" text-anchor="middle" font-weight="bold">Amy2a5</text><text x="221.4" y="204.0" font-size="2.6" fill="#333" stroke="#333" stroke-width="0.08" text-anchor="middle">tSNE_1</text><text x="199.1" y="181.0" font-size="2.6" fill="#333" stroke="#333" stroke-width="0.08" text-anchor="middle" transform="rotate(-90 199.1 181.0)">tSNE_2</text><rect x="241.30" y="173.60" width="3.30" height="1.00" fill="#1E1EA0" stroke="none" stroke-width="0.5"/><rect x="241.30" y="174.55" width="3.30" height="1.00" fill="#2A28A5" stroke="none" stroke-width="0.5"/><rect x="241.30" y="175.50" width="3.30" height="1.00" fill="#3733AA" stroke="none" stroke-width="0.5"/><rect x="241.30" y="176.45" width="3.30" height="1.00" fill="#433DAF" stroke="none" stroke-width="0.5"/><rect x="241.30" y="177.40" width="3.30" height="1.00" fill="#4F48B4" stroke="none" stroke-width="0.5"/><rect x="241.30" y="178.35" width="3.30" height="1.00" fill="#5B52B9" stroke="none" stroke-width="0.5"/><rect x="241.30" y="179.30" width="3.30" height="1.00" fill="#685CBE" stroke="none" stroke-width="0.5"/><rect x="241.30" y="180.25" width="3.30" height="1.00" fill="#7467C3" stroke="none" stroke-width="0.5"/><rect x="241.30" y="181.20" width="3.30" height="1.00" fill="#8073C9" stroke="none" stroke-width="0.5"/><rect x="241.30" y="182.15" width="3.30" height="1.00" fill="#8D81CE" stroke="none" stroke-width="0.5"/><rect x="241.30" y="183.10" width="3.30" height="1.00" fill="#9A8FD3" stroke="none" stroke-width="0.5"/><rect x="241.30" y="184.05" width="3.30" height="1.00" fill="#A79DD9" stroke="none" stroke-width="0.5"/><rect x="241.30" y="185.00" width="3.30" height="1.00" fill="#B4AADE" stroke="none" stroke-width="0.5"/><rect x="241.30" y="185.95" width="3.30" height="1.00" fill="#C0B8E3" stroke="none" stroke-width="0.5"/><rect x="241.30" y="186.90" width="3.30" height="1.00" fill="#CDC6E9" stroke="none" stroke-width="0.5"/><rect x="241.30" y="187.85" width="3.30" height="1.00" fill="#DAD4EE" stroke="none" stroke-width="0.5"/><text x="247.6" y="181.2" font-size="2.3" fill="#666" stroke="#666" stroke-width="0.04" text-anchor="middle" transform="rotate(-90 247.6 181.2)">0 1 2 3 4 5</text><path transform="scale(.1)" d="M2737 1642h0m15 2h0m0 2h0m3-7h0m7-1h0m9 5h0m1 0h0m20 3h0m5-10h0m4 5h0m7-5h0m10 7h0m4 5h0m1-6h0m3-4h0m1 0h0m2-2h0m8 6h0m4-1h0m10-3h0m8 6h0m15-3h0m5 8h0m60 22h0m-6 6h0m-9-14h0m-2 12h0m-11-9h0m-3 7h0m-1-3h0m0 0h0m-5-12h0m-2 16h0m0-4h0m-7-4h0m0-4h0m-10 14h0m-8-1h0m-3-6h0m-3 9h0m-4-1h0m0-1h0m-5 0h0m-2-16h0m0 7h0m-5-4h0m-5 11h0m-2-22h0m-3 20h0m-2-14h0m-7 2h0m-2 19h0m-2-15h0m-4-11h0m-2 24h0m-6-5h0m0-20h0m-6 14h0m-4 10h0m-5-24h0m-1 26h0m-2-3h0m-6 2h0m-1-2h0m-2-25h0m-1 10h0m-2-2h0m-3 21h0m0-8h0m-6-5h0m-3-12h0m-1 22h0m-5-20h0m-14 2h0m0 14h0m-5-11h0m-2 9h0m-9 8h0m0-9h0m-2-19h0m-6 4h0m0 2h0m-1 5h0m-17-9h0m-1 4h0m-8 7h0m-4 2h0m-37 20h0m4-5h0m29 6h0m2-3h0m9 7h0m1 17h0m7-16h0m1 7h0m2-14h0m2 25h0m19-26h0m2 13h0m1-4h0m9 0h0m1-2h0m4-7h0m4 9h0m13 2h0m3-10h0m4 7h0m2 2h0m3 11h0m6 5h0m7-21h0m4-4h0m3 25h0m7-10h0m7-9h0m12-4h0m9 13h0m13-13h0m5 2h0m3-2h0m0-2h0m1-4h0m1 6h0m1 23h0m1-2h0m1-17h0m4 7h0m3-5h0m1-1h0m1 16h0m1-10h0m13 2h0m4 3h0m8-22h0m3 8h0m3 15h0m2 5h0m1-27h0m2 26h0m2 1h0m3-7h0m6 0h0m0-20h0m2 10h0m11-4h0m0 22h0m1-16h0m3 3h0m2 0h0m0 3h0m0 9h0m4-17h0m4 11h0m9 25h0m-1 8h0m-1-14h0m0 17h0m-6-12h0m-1 12h0m-6-16h0m-2-8h0m0 6h0m-1-6h0m-5-2h0m-2 12h0m0-3h0m-2-7h0m0 20h0m-4-2h0m0-4h0m-3-15h0m-1 2h0m-6 17h0m0 0h0m-3-7h0m-5-14h0m-2 14h0m-5-9h0m0 15h0m-1-7h0m0-13h0m-3 11h0m-9 5h0m-2-17h0m-6 2h0m-2 1h0m0 18h0m-5-4h0m-2-13h0m-9 18h0m-1-17h0m0 4h0m-1-5h0m-2-3h0m-2 11h0m-1 17h0m0-13h0m0 5h0m-1-3h0m-1-5h0m-2 0h0m-3 0h0m0-4h0m-2 17h0m-1-13h0m-1 6h0m-2 10h0m-2-15h0m-1 4h0m-2-17h0m-5 11h0m-2 10h0m-7 0h0m-2-13h0m-4 19h0m-5 1h0m0-4h0m-7-16h0m-3 2h0m0 18h0m-6-13h0m0-3h0m-8 15h0m-5-18h0m-14 2h0m-5 3h0m0 14h0m-21-28h0m-17 1h0m-9-2h0m-11 10h0m-1 12h0m-1-11h0m0 2h0m-10 10h0m-13 0h0m-2-23h0m-4 22h0m-7 4h0m-3-21h0m-5-3h0m-3 12h0m-13-13h0m-5 14h0m-5-3h0m-14 39h0m0 8h0m4-10h0m3 7h0m8-9h0m6-17h0m4 0h0m8 22h0m4-10h0m12 3h0m7 12h0m8-13h0m11 8h0m4-18h0m1 23h0m8-19h0m5-3h0m10 9h0m2 12h0m11-2h0m7 0h0m0-14h0m2-1h0m3 19h0m2-3h0m0-2h0m3 5h0m3-2h0m0-5h0m0-20h0m0 26h0m2-7h0m0 5h0m1-9h0m4 9h0m3-4h0m0-1h0m1 0h0m0-4h0m3 0h0m1-10h0m2-3h0m0-1h0m1 23h0m2-16h0m0 17h0m0 2h0m1-10h0m10 0h0m5-18h0m1 17h0m3 10h0m1-4h0m0 1h0m0-20h0m0-2h0m1-1h0m0 12h0m1-7h0m2 3h0m1 5h0m0-6h0m0 4h0m0 3h0m4 2h0m7 4h0m0-9h0m1-1h0m0 15h0m1-22h0m5 6h0m6 17h0m2-4h0m0-2h0m1-11h0m3 15h0m1-4h0m1-18h0m0 3h0m0 16h0m2-5h0m0-15h0m2 16h0m0 7h0m1-18h0m0 16h0m1-16h0m3 7h0m1-5h0m0 3h0m1-7h0m0 15h0m1-2h0m1-8h0m1 0h0m2 9h0m1 2h0m1-5h0m1-2h0m1 11h0m0-2h0m1-7h0m0-16h0m1 9h0m0 17h0m1-18h0m1 11h0m1-8h0m1 4h0m0-2h0m2-11h0m1 21h0m3 4h0m0-10h0m0 12h0m1-20h0m1 7h0m1-4h0m2-2h0m3 13h0m1-7h0m2 13h0m1-15h0m2 3h0m3 1h0m1 0h0m0 8h0m0-10h0m0-11h0m1-4h0m6 10h0m4 0h0m1 5h0m1 10h0m3-26h0m3 27h0m3-15h0m1-9h0m8 13h0m1-16h0m0 18h0m4 7h0m2-19h0m0 3h0m4 12h0m0 3h0m0-13h0m1 8h0m2-19h0m3 15h0m1-4h0m1 18h0m4-22h0m2 1h0m0 2h0m1-3h0m3 22h0m3-26h0m0 13h0m1-1h0m5-10h0m0-4h0m3 21h0m4-9h0m0 7h0m0-9h0m2 13h0m-3 16h0m-7-8h0m0 8h0m-6-3h0m-1-5h0m-5 5h0m-1 14h0m-2-8h0m-3 6h0m-6-15h0m-5 1h0m-5-1h0m-4 7h0m-5 16h0m-1 1h0m-15-8h0m0 6h0m-1-20h0m-1 5h0m0 9h0m0 7h0m-1-8h0m-1-15h0m0 7h0m-2-9h0m-2 16h0m-2-10h0m-1 4h0m-2-5h0m-3 3h0m-1 6h0m0 13h0m-3-4h0m-2-22h0m-1 10h0m0 12h0m-1-11h0m0-9h0m-4 22h0m-2-22h0m-4-2h0m-2 8h0m-1-11h0m-1 5h0m-1 22h0m-3 0h0m-1-26h0m-1 22h0m-5 1h0m0 5h0m0-16h0m0-9h0m-2 25h0m-1-5h0m-3-24h0m-1 6h0m-3 22h0m-2-7h0m-1-12h0m-4-5h0m-1 16h0m0-13h0m-2 9h0m0-16h0m0 9h0m0 19h0m-1-24h0m0 24h0m-1-13h0m-7-5h0m-1 10h0m-1-4h0m0-4h0m-3-9h0m-5 10h0m0 15h0m-2-13h0m-3 3h0m-4-17h0m-2 19h0m-1-17h0m-1 8h0m-2 2h0m-1-10h0m-2 21h0m0-6h0m-1 10h0m0-6h0m0-11h0m-3 0h0m-1 8h0m0-5h0m0 1h0m-2 14h0m-1-5h0m-1-21h0m-1 11h0m-1 4h0m-1-7h0m-1-11h0m-4 18h0m-2-18h0m-3 10h0m-4 6h0m-1 3h0m-2 2h0m-1-1h0m0-17h0m-2 11h0m0 4h0m-1 10h0m-1-17h0m-2 14h0m-2-21h0m-1 18h0m0-20h0m0 10h0m0-3h0m-1 1h0m-2 12h0m-2-7h0m-1-7h0m-1-8h0m0 29h0m-2-22h0m-3-2h0m-1 19h0m-3-14h0m0 10h0m0-17h0m-2 14h0m0 2h0m-1-18h0m0 17h0m-1-14h0m-1 20h0m-1 3h0m-2-7h0m-1-7h0m-1-4h0m-1 12h0m0 5h0m0-2h0m-1-7h0m-1 8h0m0 1h0m-1-4h0m-3 3h0m-9-7h0m0-6h0m-4 4h0m-10 11h0m-5-16h0m-6 1h0m-7 17h0m-33-14h0m-13-5h0m-6 24h0m55-4h0m17 2h0m9 3h0m10-5h0m3 5h0m0-3h0m2 21h0m2-13h0m0 13h0m1 1h0m0-18h0m0 9h0m0 6h0m1 8h0m2-2h0m1-27h0m1 9h0m1-1h0m0-6h0m2 10h0m0-10h0m1 3h0m2 5h0m2-2h0m2 16h0m0-15h0m1 20h0m2-1h0m2-13h0m1 9h0m4-2h0m2-13h0m0 1h0m2 13h0m0 0h0m2-22h0m2 2h0m2 14h0m1-11h0m4 9h0m0-12h0m1 16h0m1-13h0m9 2h0m2-4h0m1 19h0m1-23h0m0 25h0m1-7h0m1 6h0m0-6h0m0 10h0m1-1h0m0-1h0m0-9h0m1 0h0m3 2h0m1-19h0m0 24h0m8-18h0m2 10h0m0-7h0m1 20h0m1-11h0m0-10h0m1 19h0m0-4h0m2 6h0m0-28h0m1 19h0m0 8h0m6-19h0m3 1h0m1-5h0m1 4h0m2 1h0m1 14h0m0-12h0m2 16h0m0-7h0m2-10h0m0 7h0m0-10h0m1 5h0m0 8h0m0-7h0m0 5h0m2-1h0m1 6h0m0-14h0m7 14h0m2-3h0m0-10h0m2 2h0m3 13h0m1 3h0m3-12h0m0 4h0m2 5h0m1-6h0m5-3h0m0 4h0m1-8h0m1-4h0m2 10h0m0-9h0m1 8h0m1-16h0m0 7h0m0 12h0m6 5h0m1 3h0m1-4h0m1 4h0m1-23h0m0 15h0m0-1h0m1 7h0m0-11h0m1-2h0m0-7h0m1-4h0m0 23h0m2 0h0m0-15h0m3 2h0m2 4h0m1-17h0m0 5h0m0 1h0m1 7h0m2 16h0m3 0h0m1-27h0m0 25h0m0-22h0m1 9h0m1 14h0m0-21h0m2 18h0m0 2h0m2-26h0m2 27h0m1-21h0m0-2h0m1 16h0m6-6h0m16 12h0m10-6h0m2-16h0m15-5h0m0 31h0m-8 6h0m-2 20h0m-20-5h0m-3-10h0m-17-7h0m-6 3h0m-4 1h0m-2-2h0m0 12h0m-2 4h0m-2 6h0m-1-18h0m-1 13h0m-1 5h0m-3-20h0m0-1h0m-1-6h0m-1 17h0m-3 1h0m-6-15h0m0-3h0m-2 22h0m-3-18h0m-2 1h0m0 10h0m0-8h0m-1 18h0m-4-5h0m0-10h0m-1-4h0m-1 10h0m0 5h0m-1-2h0m-1 6h0m-2 1h0m-1-14h0m-3 3h0m0-16h0m-1 19h0m0-13h0m-2 14h0m-2 0h0m-2-8h0m-1-12h0m-1 23h0m0-5h0m0-18h0m-1 7h0m-1 6h0m0-9h0m-2 7h0m-2 12h0m-1-20h0m-1-2h0m-1 18h0m0 8h0m-1-19h0m-1 17h0m-2-14h0m-1 9h0m-3 7h0m0-5h0m-1-7h0m0-6h0m-1-10h0m0 24h0m-1-15h0m-1-3h0m0 10h0m-1-5h0m0-10h0m0 12h0m-3-11h0m0 20h0m-2 6h0m0-9h0m-3 1h0m-1-17h0m0 24h0m-2-13h0m0-2h0m-1 8h0m-1-5h0m0-4h0m-7 4h0m-3 10h0m-1-16h0m-1 14h0m-1-19h0m0 5h0m0 0h0m-1-7h0m-1 14h0m-1 8h0m0-10h0m-4 6h0m-1-3h0m0-3h0m-3-13h0m-1 25h0m-1-15h0m0-6h0m-2 13h0m-1 7h0m-3-4h0m0 8h0m-2-3h0m-3-13h0m-2 8h0m-2 0h0m0-10h0m-4 16h0m-1-15h0m0 15h0m-4-15h0m0-9h0m-3 6h0m-1 10h0m0-11h0m-1 16h0m-2-13h0m-1 9h0m-2-1h0m-2-2h0m-1-16h0m-1 14h0m-3-4h0m-5-8h0m-1 3h0m-4 16h0m-6-10h0m-4 6h0m-54 22h0m42 19h0m2-10h0m1 0h0m8 1h0m11 9h0m12-13h0m1 8h0m1 3h0m0-19h0m1 0h0m1 10h0m4 10h0m1-5h0m10-17h0m4-5h0m3 27h0m0-9h0m1-12h0m0 20h0m0-2h0m2-23h0m0 22h0m1-5h0m4-5h0m2-9h0m2 11h0m1-6h0m2-1h0m5 9h0m2 6h0m1-21h0m1 15h0m1-9h0m1 18h0m2-24h0m2 1h0m0 2h0m0 22h0m1-17h0m0 0h0m2-4h0m1-3h0m1 12h0m3 2h0m1 3h0m0-7h0m0-2h0m2 9h0m1-15h0m1 2h0m0 2h0m0-7h0m0 18h0m1 1h0m2 6h0m0-15h0m1 10h0m0-1h0m0-22h0m0 25h0m0-23h0m3 14h0m1 1h0m2-13h0m1 14h0m1 7h0m1-13h0m1 16h0m0-26h0m0 9h0m2 0h0m8-8h0m2 0h0m3 11h0m0 5h0m2-3h0m2-2h0m0 12h0m1-19h0m2-2h0m1 3h0m1-3h0m3 12h0m4-8h0m3 4h0m0 2h0m1-11h0m3 9h0m2-10h0m0 10h0m2-5h0m2 2h0m2-7h0m0 4h0m0 4h0m2 10h0m1-19h0m1 0h0m4 7h0m2 4h0m0-8h0m3 24h0m3-27h0m14 9h0m15-7h0m1 1h0m1-1h0m-27 33h0m-5 1h0m-3 0h0m-7-5h0m-3 7h0m-1 8h0m0-2h0m-1 7h0m0-23h0m-5 19h0m-2 8h0m0-21h0m-1 5h0m-3-4h0m-2 14h0m-5-9h0m-1-1h0m-1-5h0m-2 22h0m0-9h0m-2-13h0m-1-4h0m0 12h0m-3 6h0m-4 4h0m-2-12h0m-3 15h0m-2-27h0m-2 4h0m-1 9h0m-2-5h0m0 10h0m-2 8h0m0-15h0m-1 13h0m-3-18h0m-2 3h0m-1 0h0m0-9h0m0 18h0m-2-5h0m-1 7h0m0-2h0m-1-14h0m0 23h0m0-6h0m0 1h0m0-15h0m-2 6h0m-3-13h0m0 26h0m-2-16h0m-1 5h0m-3 5h0m-1 7h0m-1-4h0m-2-15h0m0 0h0m-2 1h0m-3 7h0m-4-1h0m-1 8h0m-2-21h0m-4 14h0m-6 1h0m-3 0h0m0-2h0m-6 0h0m0 14h0m0-17h0m-2 11h0m-3-6h0m-1 0h0m-1-14h0m-3 1h0m-3 3h0m0 5h0m-1-3h0m-1 9h0m-1-11h0m-1 0h0m-1-4h0m-1 18h0m-1-2h0m-1 6h0m0-5h0m-2-14h0m0-2h0m-2 18h0m-4 7h0m-11-19h0m0 4h0m-9-13h0m-3-1h0m-5 25h0m-14-15h0m21 37h0m1-4h0m1 7h0m1-19h0m1 24h0m4-14h0m1 6h0m0-11h0m1 4h0m0-8h0m1 22h0m1-24h0m1 29h0m2-14h0m0-7h0m0 16h0m1-23h0m0 28h0m4-20h0m1 2h0m0 4h0m2-13h0m0 15h0m2-4h0m1-12h0m2 14h0m0 4h0m3-6h0m0 10h0m0-19h0m0 6h0m4 8h0m0-4h0m5 14h0m4-1h0m3-6h0m5-5h0m1 3h0m1-18h0m1 27h0m0-2h0m2-20h0m1 3h0m3 20h0m1-9h0m4-18h0m6 1h0m1 4h0m0 4h0m2 2h0m6-9h0m2 8h0m0 11h0m1 5h0m3 0h0m3-13h0m2-9h0m0-4h0m1 23h0m1-16h0m1-7h0m0-2h0m3 28h0m1-20h0m0 18h0m1-15h0m1 17h0m0-25h0m2 26h0m1-16h0m4-2h0m0-6h0m1 8h0m0 6h0m3 2h0m0-21h0m1 13h0m0-11h0m1 24h0m2-24h0m4 26h0m1-26h0m0 27h0m0-13h0m2-4h0m0 12h0m1-17h0m3 8h0m0 6h0m3-10h0m4 1h0m1 16h0m4-24h0m6 25h0m1-22h0m0 16h0m10-16h0m-8 24h0m-6 3h0m-1 2h0m-8 11h0m-4-15h0m0 8h0m0-4h0m-4 3h0m0 14h0m-9-19h0m-2 20h0m-3-3h0m0-5h0m-1 5h0m-2 2h0m-1-10h0m0 1h0m0-12h0m-1 7h0m-2-4h0m-1-4h0m-2 18h0m0-2h0m0 4h0m-8-5h0m0-1h0m0 14h0m0-22h0m-2-4h0m-2 3h0m-1 16h0m-2-21h0m-1 20h0m0-13h0m0-6h0m-4 3h0m-1 22h0m-1-3h0m0-9h0m0-10h0m-1 4h0m-1 11h0m-1 1h0m-3 6h0m0-13h0m-2-1h0m-2 0h0m-1 5h0m-2-12h0m0 5h0m-1 17h0m-3 1h0m-1-7h0m-1-1h0m-2-4h0m-1-6h0m0 14h0m-1 1h0m-2-9h0m-2-7h0m0-3h0m-1 13h0m0-5h0m-1-7h0m-1 17h0m-5-1h0m0-14h0m-1-9h0m-2 16h0m0 1h0m-1-10h0m-1 11h0m0-16h0m-1 2h0m-2-2h0m-1 24h0m-1-2h0m-1-17h0m-1 7h0m0-1h0m0-2h0m-4 8h0m-1-12h0m0-4h0m-3 10h0m-1-11h0m0 1h0m-2 10h0m-1-4h0m-2-2h0m-2-6h0m45 30h0m6 8h0m3-9h0m2 11h0m5 1h0m6-11h0m0 6h0m1-4h0m3 11h0m5-11h0m5 3h0m5-5h0m2 9h0m1-6h0m0-3h0m3 2h0m2 0h0m10 4h0m3-7h0" stroke="#D3D3D3" stroke-width="12" stroke-linecap="round" fill="none"/><path transform="scale(.1)" d="M2758 1647h0m2-13h0m72 2h0m76 21h0m-17-3h0m-5 6h0m-3 4h0m-17 8h0m-13 5h0m-13-9h0m-29 5h0m-9-7h0m-46 2h0m-3-12h0m-7-2h0m-4 15h0m3 19h0m1 2h0m47 6h0m13-7h0m35-5h0m3 1h0m4 7h0m34-10h0m6 20h0m29-3h0m16-5h0m3 16h0m-12 6h0m-11 1h0m-2-1h0m-10 10h0m-8-15h0m-5 23h0m-11-14h0m-7 0h0m-5 15h0m-51-14h0m-116-1h0m54 46h0m66-23h0m73 16h0m4-12h0m53 4h0m12 12h0m3-16h0m-16 26h0m-10 13h0m-12-4h0m-1 13h0m-8-12h0m-70 11h0m-70 29h0m139-10h0m-225 18h0m-26 25h0m209 23h0m27-15h0m-105 111h0m-42-2h0" stroke="#C6C3DA" stroke-width="12" stroke-linecap="round" fill="none"/><path transform="scale(.1)" d="M2774 1638h0m10-6h0m4 2h0m23 14h0m31-7h0m94 35h0m-39-11h0m0-5h0m-9 14h0m-3-5h0m-15-14h0m-2 13h0m-20-13h0m-11 23h0m-1-18h0m-89-7h0m-20 7h0m-23 22h0m24 27h0m15-17h0m24-11h0m4 9h0m15 1h0m9-8h0m8 6h0m57 15h0m39 1h0m1-2h0m3 6h0m5-26h0m1 7h0m11 6h0m8-10h0m17 19h0m3 3h0m14 24h0m-10-16h0m-2 2h0m-4-1h0m-2 4h0m-29 14h0m-13-25h0m-6 3h0m0 11h0m-32 4h0m-9-11h0m-7 17h0m-5-5h0m-92 1h0m-59-7h0m-31 8h0m-30 9h0m7 17h0m12-14h0m45 1h0m105 10h0m15 11h0m5-13h0m13-1h0m33 8h0m5 1h0m26-16h0m12 13h0m31-1h0m5 10h0m2-17h0m7-2h0m-17 39h0m-6-14h0m-39 8h0m-144-9h0m-3 17h0m-77-6h0m-30 26h0m99 6h0m83-14h0m13 17h0m36-2h0m21 10h0m68-6h0m-191 36h0m-55-17h0m112 32h0m39 5h0m3-1h0m10 0h0m-6 27h0m-7 3h0m-135-14h0m2 44h0m18-5h0m40 18h0m49 1h0m-25 22h0m-27 1h0m-34-3h0" stroke="#B9B3E0" stroke-width="12" stroke-linecap="round" fill="none"/><path transform="scale(.1)" d="M2740 1642h0m3 4h0m41-8h0m25 10h0m109 25h0m-22 3h0m-20-2h0m-8-8h0m-25-15h0m-15 13h0m-14-4h0m-5 17h0m-13-23h0m-1 18h0m-7 0h0m-5-9h0m-17 4h0m-27 5h0m-22 5h0m-16-14h0m-27 37h0m56 6h0m19-23h0m21 2h0m2 12h0m18-13h0m17 9h0m2-13h0m38 5h0m3-5h0m9 16h0m9 8h0m18-12h0m3 13h0m4 4h0m16-10h0m7-10h0m11-2h0m3 15h0m8 23h0m-1-9h0m-3 0h0m-19 3h0m-11 9h0m-23-14h0m-39 11h0m-5-6h0m-9 6h0m-10 7h0m0-6h0m-45-2h0m-35-2h0m-53-3h0m-49 44h0m24-13h0m59 9h0m8-11h0m38 3h0m42 6h0m32 6h0m5-11h0m37 15h0m63-26h0m7 19h0m9 13h0m-16 15h0m-25-9h0m-19 8h0m-19-12h0m-74 4h0m-4 11h0m-24 4h0m-3-8h0m-18 1h0m-2-7h0m-41 7h0m-31 0h0m-12-14h0m-19 13h0m24 43h0m10-7h0m19-4h0m2 5h0m3-23h0m6 7h0m41 0h0m3-6h0m6 11h0m22 12h0m72-5h0m84 2h0m3 2h0m-32 25h0m-22-8h0m-37 4h0m-70 5h0m-141-14h0m82 29h0m70 13h0m38 6h0m76-11h0m-46 45h0m-23-22h0m-90-1h0m-7 23h0m-15-15h0m21 31h0m55 4h0m19-10h0m-23 46h0m-53-9h0m-16-12h0m91 34h0" stroke="#A49CDC" stroke-width="12" stroke-linecap="round" fill="none"/><path transform="scale(.1)" d="M2722 1648h0m65-12h0m4 12h0m12-9h0m27 4h0m22 0h0m73 23h0m-15-5h0m-31-3h0m-5 7h0m-5 13h0m-10-8h0m-4-5h0m-30-3h0m-29 15h0m-1-1h0m-16 1h0m-2-5h0m-4-21h0m-18 22h0m-22-8h0m-73 44h0m23-8h0m0 3h0m20-12h0m47 5h0m12-9h0m11 16h0m30 2h0m9 3h0m1-15h0m31 9h0m39-5h0m0 2h0m16-7h0m13-2h0m24 15h0m12-21h0m8 24h0m-21 2h0m-3 5h0m-3 11h0m-11-14h0m-8 6h0m-15-7h0m-31-2h0m-21 26h0m-8 2h0m-27-18h0m-48-7h0m-4-1h0m-16 12h0m-31 1h0m-28-2h0m-4-6h0m-25-4h0m-2 6h0m-9-5h0m-14 55h0m3-23h0m52 9h0m84 3h0m23 11h0m11-26h0m56 4h0m2 2h0m5-5h0m6 12h0m25 9h0m70-21h0m-44 32h0m-3-2h0m-13 17h0m-58 5h0m-8-20h0m-19 2h0m-20 6h0m-59 12h0m-35-6h0m-1 1h0m-6 4h0m-16-20h0m-3 22h0m-4-2h0m-17-11h0m-26-6h0m39 36h0m32 2h0m29-15h0m64 4h0m37 4h0m12 20h0m8-7h0m51 6h0m38-1h0m16-22h0m-55 34h0m-89-8h0m-147 6h0m78 37h0m6-10h0m112 20h0m16-12h0m12 24h0m-75 31h0m-47 53h0" stroke="#8F84D8" stroke-width="12" stroke-linecap="round" fill="none"/><path transform="scale(.1)" d="M2792 1641h0m37 7h0m100 19h0m-82 8h0m-25-4h0m-6 7h0m-7-14h0m-57 7h0m-30-16h0m-21 15h0m-1-11h0m-21 38h0m23 2h0m3 4h0m7-17h0m2-4h0m29 5h0m24 14h0m16 5h0m6-25h0m8 23h0m18-21h0m8 3h0m31-5h0m10 25h0m7-16h0m2 19h0m4-1h0m13 0h0m23-22h0m1 7h0m15-5h0m4 6h0m8 18h0m-48 24h0m0-17h0m-3 0h0m-76-6h0m-4 25h0m-17-15h0m-30 2h0m-5 14h0m-42-3h0m-7-20h0m-7 11h0m-1 1h0m-6 7h0m-3-20h0m-38 22h0m-3-25h0m-11 17h0m3 31h0m50 8h0m58-17h0m68 2h0m81 8h0m39 6h0m5-16h0m17 6h0m0 31h0m-14-15h0m-23-1h0m-210 7h0m-7 8h0m-6-9h0m-47 2h0m17 35h0m13-5h0m3 13h0m1-21h0m4 13h0m16-3h0m48 2h0m181 44h0m-226 1h0m0 11h0m2-10h0m15 11h0m2-4h0m5 4h0m130 31h0m-109 12h0" stroke="#776CD2" stroke-width="12" stroke-linecap="round" fill="none"/><path transform="scale(.1)" d="M2800 1634h0m22 6h0m9 1h0m77 27h0m-64 10h0m-15-10h0m-12 2h0m-6-15h0m-16 9h0m-37-9h0m-12 0h0m-35 5h0m-14 16h0m-47 32h0m33-19h0m57 16h0m9-5h0m3-18h0m13 5h0m11 21h0m9 1h0m3-23h0m9 2h0m12 6h0m4 5h0m16-4h0m23 6h0m26-20h0m74 20h0m10 23h0m-143-10h0m-17 5h0m-3-4h0m-2 0h0m-8 10h0m-1-12h0m-21-3h0m-21 8h0m-46 14h0m-9 2h0m-17-10h0m-2-11h0m-3 14h0m-15 6h0m-12-13h0m-12 8h0m28 16h0m4 18h0m2-5h0m1 10h0m6-26h0m26 15h0m27 12h0m1-3h0m2-8h0m22-12h0m141-1h0m41 12h0m27 27h0m-49-1h0m-197 9h0m-77-16h0m-4 7h0m66 29h0m18 0h0m2 11h0m2-1h0m197 3h0m-184 35h0m-15-24h0m-17 13h0m-47-15h0m17 29h0m11 8h0m0 2h0m35-9h0m148 7h0m14 18h0" stroke="#5F55CC" stroke-width="12" stroke-linecap="round" fill="none"/><path transform="scale(.1)" d="M2812 1648h0m5 29h0m-37-11h0m-48-9h0m-3 15h0m-88 35h0m57-2h0m8-11h0m18 11h0m3-17h0m7-2h0m18 5h0m29 17h0m11-8h0m-1 24h0m-4-4h0m-47-8h0m-7 0h0m-5 12h0m-36-2h0m-19 17h0m-24-6h0m-1 26h0m16-17h0m16 2h0m13 5h0m9 48h0m-27-3h0m-7-9h0m-12 12h0m-29-6h0m38 26h0m56 34h0m-6-14h0m-70-7h0m22 56h0m10-10h0m5-1h0m-4 17h0" stroke="#4A42C5" stroke-width="12" stroke-linecap="round" fill="none"/><path transform="scale(.1)" d="M2750 1637h0m13 11h0m37 29h0m-32 0h0m-36-2h0m-7-2h0m-76 30h0m2-6h0m6 12h0m6-24h0m18 16h0m25-4h0m16 12h0m2 0h0m3-3h0m4-16h0m2 13h0m2-10h0m3 16h0m17 0h0m14-27h0m2 15h0m3-2h0m2-13h0m38 23h0m10-16h0m16 1h0m-8 27h0m-5-2h0m-6 3h0m-28 10h0m-16-12h0m-30 12h0m-39 3h0m-8-4h0m-9 3h0m-17-6h0m-14 9h0m-27 6h0m-8 30h0m2-11h0m8 11h0m5-2h0m15-1h0m3-15h0m41-7h0m17 52h0m-17 2h0m-10-11h0m-55 0h0m-1-7h0m-12 13h0m88 9h0m7 25h0m1-8h0m4 18h0m-49 0h0m-9 11h0m-26 2h0m40 21h0m20 48h0" stroke="#3430BE" stroke-width="12" stroke-linecap="round" fill="none"/><text x="281.7" y="158.1" font-size="5.4" fill="#000" stroke="#000" stroke-width="0.08" text-anchor="middle" font-weight="bold">Amy2b</text><text x="279.7" y="204.0" font-size="2.6" fill="#333" stroke="#333" stroke-width="0.08" text-anchor="middle">tSNE_1</text><text x="257.4" y="181.0" font-size="2.6" fill="#333" stroke="#333" stroke-width="0.08" text-anchor="middle" transform="rotate(-90 257.4 181.0)">tSNE_2</text><rect x="299.60" y="173.60" width="3.30" height="1.00" fill="#1E1EA0" stroke="none" stroke-width="0.5"/><rect x="299.60" y="174.55" width="3.30" height="1.00" fill="#2A28A5" stroke="none" stroke-width="0.5"/><rect x="299.60" y="175.50" width="3.30" height="1.00" fill="#3733AA" stroke="none" stroke-width="0.5"/><rect x="299.60" y="176.45" width="3.30" height="1.00" fill="#433DAF" stroke="none" stroke-width="0.5"/><rect x="299.60" y="177.40" width="3.30" height="1.00" fill="#4F48B4" stroke="none" stroke-width="0.5"/><rect x="299.60" y="178.35" width="3.30" height="1.00" fill="#5B52B9" stroke="none" stroke-width="0.5"/><rect x="299.60" y="179.30" width="3.30" height="1.00" fill="#685CBE" stroke="none" stroke-width="0.5"/><rect x="299.60" y="180.25" width="3.30" height="1.00" fill="#7467C3" stroke="none" stroke-width="0.5"/><rect x="299.60" y="181.20" width="3.30" height="1.00" fill="#8073C9" stroke="none" stroke-width="0.5"/><rect x="299.60" y="182.15" width="3.30" height="1.00" fill="#8D81CE" stroke="none" stroke-width="0.5"/><rect x="299.60" y="183.10" width="3.30" height="1.00" fill="#9A8FD3" stroke="none" stroke-width="0.5"/><rect x="299.60" y="184.05" width="3.30" height="1.00" fill="#A79DD9" stroke="none" stroke-width="0.5"/><rect x="299.60" y="185.00" width="3.30" height="1.00" fill="#B4AADE" stroke="none" stroke-width="0.5"/><rect x="299.60" y="185.95" width="3.30" height="1.00" fill="#C0B8E3" stroke="none" stroke-width="0.5"/><rect x="299.60" y="186.90" width="3.30" height="1.00" fill="#CDC6E9" stroke="none" stroke-width="0.5"/><rect x="299.60" y="187.85" width="3.30" height="1.00" fill="#DAD4EE" stroke="none" stroke-width="0.5"/><text x="305.9" y="181.2" font-size="2.3" fill="#666" stroke="#666" stroke-width="0.04" text-anchor="middle" transform="rotate(-90 305.9 181.2)">0 1 2 3 4 5</text><path transform="scale(.1)" d="M3337 1639h0m4 9h0m7-8h0m5 6h0m7-12h0m1 5h0m10 4h0m3-5h0m11-6h0m1 8h0m2-5h0m0-1h0m3 14h0m2-3h0m4-10h0m3-2h0m5 7h0m6 8h0m10-6h0m2 0h0m0 7h0m1-13h0m3 2h0m1 3h0m2-7h0m5 7h0m6 2h0m1-4h0m17 5h0m16-3h0m62 30h0m-2 4h0m-3 3h0m-3-11h0m-4-2h0m-2-3h0m-3 12h0m-10-6h0m-1 4h0m0-14h0m0 4h0m-1 5h0m-6-6h0m-2 12h0m-1-2h0m-3-7h0m-1 11h0m-3-15h0m-4 15h0m-4-9h0m0-6h0m0 15h0m-4-18h0m-6 9h0m-1 1h0m-3 12h0m-1-11h0m-1-14h0m0 15h0m-1 7h0m-2-4h0m-2 5h0m-1 1h0m-4-17h0m0 10h0m-1-5h0m-2-2h0m-1 10h0m-1-9h0m-5-11h0m0 21h0m-1-2h0m-2-20h0m-1 3h0m0-5h0m-1 21h0m-5-12h0m-2 18h0m-3-20h0m-4-8h0m0 20h0m-3-17h0m-1 8h0m-2 17h0m-1-8h0m-2 0h0m-1 1h0m0-21h0m-4 27h0m-2-15h0m-2 11h0m-1-7h0m0 13h0m-1-24h0m0 9h0m-1 10h0m0 5h0m-6-14h0m0 14h0m-1-27h0m-2 23h0m0 0h0m-3 1h0m0-14h0m-4 13h0m-1-14h0m-3 10h0m-2-11h0m-1 13h0m-1 5h0m-2-15h0m-1 2h0m-1 1h0m-4-11h0m-3-4h0m-3 25h0m-1-18h0m-4 10h0m-6-13h0m-1 17h0m-4 2h0m-2-1h0m0-14h0m-2 10h0m-1-15h0m-1 0h0m-2 3h0m-5 13h0m-1 7h0m0-4h0m-2-22h0m-3 3h0m-1 21h0m0-11h0m-1-3h0m0-3h0m-2-1h0m-9-2h0m-6 24h0m-3-27h0m-1 8h0m-6 4h0m-3 1h0m-1 6h0m-2-12h0m0 5h0m-4 11h0m-55 33h0m8 1h0m1-11h0m0 4h0m10 7h0m1-24h0m2-2h0m4-3h0m5 19h0m7-3h0m3 6h0m1-11h0m0 18h0m15-4h0m1-22h0m0 4h0m3-5h0m0 10h0m3 10h0m2-5h0m0-4h0m4 14h0m2-21h0m0-4h0m1 9h0m2 5h0m5 13h0m2 0h0m5-3h0m0-19h0m1 21h0m2-3h0m0-2h0m1-16h0m0 3h0m1 5h0m7-13h0m1 15h0m2-7h0m2-4h0m0 5h0m1-1h0m2 10h0m3-8h0m0 7h0m3-15h0m0 8h0m4-12h0m2 9h0m1 5h0m2-9h0m4 16h0m0-21h0m0 28h0m3-23h0m1 5h0m0 6h0m1 2h0m2-3h0m0 11h0m1-12h0m0-11h0m4-1h0m3 25h0m0 1h0m1-15h0m2 12h0m1 4h0m0-19h0m1-5h0m4-4h0m2 21h0m1-8h0m2 12h0m1-23h0m0-3h0m2 10h0m5-7h0m0 25h0m0-17h0m1 0h0m1 2h0m6 16h0m1-9h0m1-1h0m1-5h0m1-14h0m4 9h0m3-2h0m8-6h0m3 4h0m5-2h0m2 15h0m2-13h0m5-2h0m2-2h0m1 21h0m0-11h0m2-8h0m3 2h0m5 12h0m0 9h0m0-19h0m1-1h0m2 0h0m0 21h0m1 2h0m0-20h0m0 15h0m2 4h0m1-19h0m2 7h0m2-6h0m0 1h0m1 18h0m0-18h0m4 6h0m0 11h0m0-2h0m6-6h0m0-18h0m1 19h0m4-3h0m1 3h0m0 4h0m2 3h0m2-5h0m0 4h0m1 1h0m4-7h0m0 5h0m2-12h0m3-14h0m1 28h0m0-20h0m3 16h0m2 4h0m1-18h0m1 9h0m0-14h0m1 6h0m0-11h0m0 12h0m3 17h0m2-8h0m2-3h0m6 3h0m1-11h0m2-3h0m1 16h0m1-16h0m0 1h0m2 7h0m1 0h0m2 12h0m4-16h0m0 4h0m3-2h0m0 8h0m2 6h0m2-16h0m0 15h0m3 1h0m1-6h0m1-2h0m12 32h0m0-6h0m-2 2h0m-3-4h0m-1 15h0m0-4h0m0 5h0m-3-14h0m-3-9h0m-1 1h0m-1 21h0m-3-15h0m-2-9h0m-1-1h0m-1 5h0m0-6h0m-6 12h0m0-9h0m-1-5h0m0 2h0m-1 10h0m0-3h0m-2-6h0m0 20h0m0-18h0m-4 19h0m0-5h0m-2-11h0m-7 15h0m-1-18h0m-1 9h0m0 8h0m-2-12h0m-2-2h0m-2-6h0m-1 9h0m-5 9h0m-1-2h0m0-13h0m-2 24h0m-3-13h0m0-4h0m-3-9h0m-1-1h0m-1 24h0m-3-15h0m0-2h0m-4-9h0m-5 3h0m0 0h0m-1 1h0m-3 5h0m-3 7h0m-1-11h0m-3 7h0m-5 12h0m-2-7h0m0-15h0m0 4h0m-1-1h0m0 4h0m-1-8h0m-3 11h0m-2 5h0m-1 1h0m-2-6h0m-4-4h0m-1 8h0m-1 9h0m-2-5h0m-2-6h0m-2-13h0m-1 16h0m0 7h0m0-3h0m-5-10h0m0 1h0m-4-4h0m-5 12h0m-2-13h0m0 2h0m-4-1h0m-1 21h0m0-13h0m-3-13h0m-1-1h0m-1 9h0m-8-3h0m0 3h0m-1 16h0m-1-27h0m-2 11h0m-2 5h0m-4-4h0m-4 2h0m-1 3h0m0-2h0m-5-5h0m-1 2h0m0-9h0m-8 3h0m-13 8h0m-6-11h0m-3-2h0m0 0h0m-7 15h0m-4-16h0m0 8h0m-3-7h0m-3 13h0m-3-14h0m-5 3h0m-3 10h0m-6-13h0m-3 0h0m-9 10h0m0 5h0m0 6h0m-1-16h0m-1 19h0m-2-13h0m-4 6h0m-1 0h0m-2 6h0m-1-6h0m0-7h0m-1 13h0m-1 3h0m-4-19h0m-1 4h0m0 10h0m0-10h0m-1 14h0m-6-12h0m-5 8h0m0-12h0m-5 6h0m-1 13h0m0-14h0m-3-12h0m0 15h0m-2-10h0m-6-5h0m0 19h0m-2 0h0m0-10h0m-1-11h0m-4 28h0m-2-5h0m-2-20h0m-1 20h0m0-13h0m-7 0h0m-1-8h0m-2 17h0m-8 10h0m-1-13h0m-8 43h0m4-10h0m1 0h0m3 6h0m4-8h0m0 0h0m1 7h0m4 2h0m7-8h0m6-15h0m1 21h0m2-2h0m1-18h0m3 18h0m0-11h0m0 2h0m4-13h0m0 15h0m8-15h0m2 15h0m4-11h0m0 23h0m5-11h0m4-3h0m5 14h0m1-22h0m0 5h0m6 8h0m0-11h0m3-2h0m9 5h0m4-6h0m10 8h0m1 17h0m2-19h0m0 8h0m25 5h0m2 3h0m2 2h0m4-9h0m0-17h0m1 13h0m3-2h0m0 13h0m0-8h0m1-18h0m2 20h0m2-3h0m5 7h0m0-10h0m1-14h0m3 19h0m11 8h0m5-12h0m3 10h0m3-24h0m1 22h0m0-13h0m0-6h0m1 10h0m2 0h0m3 2h0m8-12h0m1 5h0m1 5h0m0 11h0m0-4h0m1-10h0m10 16h0m7-6h0m3 3h0m0-23h0m3 4h0m0 10h0m1 12h0m3-17h0m0-2h0m1 3h0m3 0h0m1 9h0m4-15h0m2 21h0m1 3h0m0-7h0m0-14h0m1 9h0m0-6h0m1 15h0m3-13h0m2 4h0m4 3h0m0-2h0m0 11h0m2-11h0m0-8h0m5 14h0m4-11h0m0 4h0m1-1h0m4 0h0m2 2h0m0 10h0m1-11h0m0-15h0m0 2h0m4 18h0m0-18h0m2 21h0m1-13h0m2-8h0m1 5h0m1 9h0m1 4h0m1 5h0m6-9h0m2-4h0m0-10h0m8 13h0m3 1h0m1-17h0m2 3h0m0 20h0m2-14h0m2 14h0m1-2h0m1-7h0m0 4h0m1-8h0m4 5h0m3 13h0m1-2h0m4-12h0m0-7h0m2 1h0m1-6h0m0 21h0m1 4h0m2-18h0m2 6h0m1 0h0m2 4h0m1-13h0m1-1h0m2 16h0m4 0h0m0-2h0m0-11h0m1 8h0m1-4h0m1 11h0m-1 24h0m0-10h0m-1-5h0m-3 12h0m-2-6h0m-9-5h0m-1 3h0m-3 2h0m-7 8h0m-1-2h0m-3-13h0m-3 2h0m-4 8h0m0-7h0m-2 18h0m-3-19h0m-1 0h0m-3 8h0m-1-4h0m-4 18h0m-5-12h0m-5 8h0m-6-10h0m0 10h0m-1 4h0m-2-16h0m0 10h0m0 9h0m-4 0h0m-3-16h0m0-4h0m-2 0h0m-4 1h0m-1 5h0m0 12h0m-1-2h0m-5-22h0m-2 22h0m-10-22h0m-2 8h0m-1 16h0m-6-7h0m-5 3h0m0-20h0m-5 4h0m-3 21h0m-3-7h0m-9 6h0m-2-17h0m-4-4h0m-4 13h0m-2-15h0m-1 12h0m-4 12h0m-2-14h0m-1-1h0m-6 8h0m-1-6h0m-1-11h0m-1 18h0m-6-10h0m-1 11h0m-1 5h0m0-9h0m-5-7h0m-1 9h0m-4-3h0m-2-7h0m-5 5h0m-10 1h0m-2-4h0m-3-10h0m-2 22h0m0-16h0m-3 0h0m-1 12h0m0-9h0m-3 10h0m0-22h0m-3 0h0m-1 17h0m0-11h0m-1 0h0m-5 18h0m0-20h0m-3-1h0m-1 17h0m-1-16h0m-1 14h0m-1 0h0m-6 9h0m-2-7h0m0 1h0m-3 5h0m0-1h0m-4-7h0m-1 6h0m-2-17h0m-7 14h0m0-3h0m0-5h0m0 5h0m-2 5h0m0-8h0m-3-5h0m-1 19h0m-1-5h0m-6 4h0m-3-17h0m-3 4h0m-4 3h0m0-3h0m-4-7h0m-2 20h0m-1 1h0m-1-5h0m-2-22h0m0 23h0m-4-9h0m-13 9h0m-1-12h0m-3 4h0m-1-6h0m-8 6h0m-8-16h0m-1 6h0m0 3h0m-2 6h0m-1-5h0m0-4h0m-6 14h0m-3-21h0m-2 22h0m4 14h0m11 2h0m29 10h0m6-3h0m1-1h0m7-14h0m6 9h0m4 13h0m0 3h0m3-9h0m5-4h0m2-10h0m6 2h0m1 11h0m0-1h0m4 7h0m6-9h0m0 8h0m2 8h0m1-21h0m4 13h0m4-14h0m1-3h0m4 7h0m2 0h0m1-10h0m2 9h0m4 19h0m4-11h0m4 4h0m1-9h0m4 11h0m1-7h0m2-10h0m1-2h0m5 13h0m2 2h0m1-13h0m8 1h0m1 18h0m1-22h0m1 24h0m3-9h0m1 8h0m1-11h0m3 1h0m11-9h0m1 1h0m5 12h0m1-20h0m9 3h0m4 4h0m2 4h0m1 2h0m1 6h0m1 1h0m0-11h0m1 3h0m0 10h0m0-3h0m2-19h0m1 19h0m0-9h0m17 14h0m1-7h0m7 1h0m4 5h0m1-4h0m3-1h0m0-10h0m0 14h0m9 6h0m0-22h0m1 23h0m0-17h0m1-7h0m1 21h0m0-5h0m0 4h0m7-25h0m1 15h0m6 12h0m1-22h0m1 24h0m2-14h0m3 11h0m2 2h0m1-25h0m1 3h0m4 9h0m6 14h0m6-28h0m4 24h0m1-14h0m2 15h0m11-4h0m13-22h0m1 27h0m15-7h0m3-16h0m-18 27h0m-5 26h0m-1-19h0m-1 18h0m-19-7h0m-3 2h0m-5-6h0m-13-6h0m-8 1h0m-3 0h0m-2 10h0m-6-9h0m-5-9h0m-3 15h0m0 4h0m-4 8h0m-2-28h0m-4 23h0m-3-10h0m-3-8h0m-2 20h0m-4-6h0m-1-20h0m-1 25h0m-2-11h0m-1 13h0m-3-6h0m-1-4h0m-4 5h0m-3-9h0m0 7h0m-1-12h0m-1 6h0m0-8h0m-2 5h0m-9 17h0m0-17h0m-2-9h0m-1 27h0m-2-15h0m0 9h0m-1-13h0m-3 0h0m-6 18h0m-2 0h0m0-6h0m-2-7h0m-2-4h0m-1 6h0m-8 2h0m-3 8h0m-1-18h0m0 0h0m-4 5h0m0 12h0m-3-5h0m-3-8h0m-4-3h0m-6 17h0m-2-8h0m-5-9h0m-8 1h0m0 17h0m-2-27h0m-5 19h0m-5-8h0m-7 2h0m-3-4h0m-3-4h0m-2 15h0m-1-14h0m-3 14h0m-1-15h0m-1 0h0m-4 1h0m0 21h0m-2-9h0m-11 0h0m-8-18h0m-21 5h0m0 1h0m-7 17h0m-9-19h0m-7 0h0m-3-4h0m-6 16h0m15 22h0m16 18h0m7-18h0m1 4h0m4-3h0m1 4h0m15 6h0m16-9h0m1-10h0m5 27h0m7-23h0m1 6h0m5-1h0m0 14h0m1-16h0m0 1h0m14 5h0m1-9h0m4 1h0m2-5h0m1 7h0m2 14h0m1 5h0m2-9h0m1-3h0m4-9h0m3 11h0m19-7h0m1-3h0m1 3h0m3 4h0m0-8h0m2 13h0m3-10h0m2-3h0m0 9h0m1 8h0m0 2h0m1 3h0m0-17h0m1 15h0m2-23h0m3 13h0m3 3h0m1-17h0m1 26h0m0-17h0m2 1h0m1-2h0m8-7h0m7 13h0m4-10h0m4 16h0m1-18h0m4 7h0m5 4h0m6-4h0m9-1h0m2 3h0m3-9h0m1 12h0m2-1h0m0 14h0m2-9h0m4-6h0m2-1h0m0 15h0m22-23h0m3 1h0m2-3h0m1-2h0m5 9h0m-32 27h0m-10 3h0m0-2h0m-4 2h0m0 16h0m-4-2h0m-2-6h0m-2-17h0m-6 7h0m-6 15h0m-6-9h0m-1-3h0m-1 8h0m-2-17h0m0 11h0m-3 7h0m-13-19h0m-3 10h0m-4-3h0m-2-2h0m-4 4h0m-4-8h0m0 16h0m0 0h0m-2-1h0m-4 8h0m-1-25h0m-4 17h0m0 3h0m-5-13h0m0-1h0m-11-3h0m-3 11h0m-7 5h0m-6-3h0m-2 12h0m-2-15h0m0 0h0m-2 11h0m-3-7h0m0-12h0m-3 14h0m-4 6h0m-1-12h0m-3-3h0m-5 8h0m-34 7h0m-15-18h0m-6-6h0m19 29h0m9 15h0m1 5h0m3 2h0m3-7h0m0-7h0m0-7h0m2 9h0m4 5h0m2 9h0m4-11h0m1-3h0m3-9h0m1 12h0m1 0h0m0 5h0m5 7h0m2-20h0m7 2h0m6 12h0m1-4h0m1-14h0m5 16h0m1 8h0m3-22h0m1 9h0m5 7h0m2-17h0m7 7h0m3 6h0m5 13h0m5 1h0m3-14h0m3-15h0m3 8h0m3 20h0m6-13h0m3-10h0m1 14h0m5-16h0m0-2h0m1 12h0m6-8h0m1 12h0m1-10h0m1 18h0m1-13h0m3 3h0m4 11h0m4-17h0m2 18h0m10 2h0m0 1h0m-3 4h0m-15 6h0m-3 14h0m-7-24h0m-4 4h0m-2 18h0m-6-1h0m-1 1h0m-2-14h0m-3 7h0m-1 3h0m-2 4h0m-6-7h0m-1 1h0m-2-12h0m-1 18h0m-3-22h0m-1 21h0m-1-21h0m-3 3h0m-1 8h0m-1 9h0m-3 3h0m-8-11h0m0-1h0m-6 9h0m0 8h0m-1-3h0m-1-25h0m0 12h0m-2 12h0m-7-5h0m-3 5h0m-1-21h0m-4 17h0m0-12h0m-4-3h0m-1-1h0m-3 11h0m0 1h0m0 10h0m-1-12h0m-1-4h0m-3-4h0m-3-2h0m-2 10h0m-1-9h0m-2 9h0m0-2h0m-5-9h0m66 35h0m18-3h0m2-2h0m18 5h0" stroke="#D3D3D3" stroke-width="12" stroke-linecap="round" fill="none"/><path transform="scale(.1)" d="M3364 1647h0m6-3h0m40 5h0m42-5h0m71 31h0m-16-8h0m-11 0h0m-10 5h0m-11 2h0m-80 3h0m-18 0h0m-20-19h0m-1 10h0m-3-13h0m-28 17h0m17 17h0m11 4h0m15-10h0m47 2h0m10 5h0m17 14h0m35-23h0m10 11h0m21-9h0m29 5h0m13-1h0m-5 35h0m-8-11h0m-1 7h0m-19 15h0m-23-9h0m-1 2h0m-12 4h0m-32 5h0m-20-8h0m-13 11h0m-7 0h0m-2-17h0m-7-8h0m-8 12h0m0 11h0m-18-15h0m-3 3h0m-8 2h0m-55-4h0m-23 10h0m-1-13h0m-41 18h0m-6-15h0m-6 25h0m14 12h0m57 8h0m22-2h0m27 1h0m11-6h0m9 0h0m0 9h0m3-22h0m4 21h0m16-28h0m16 17h0m46 1h0m0-18h0m8 3h0m30 5h0m51-1h0m-2 38h0m-2 0h0m0 6h0m-3-3h0m-13-18h0m-5 10h0m-27-3h0m-4-3h0m-61 0h0m0-4h0m-3 3h0m-7 5h0m-40-6h0m-15 20h0m-7-11h0m0 17h0m-8-14h0m-6 15h0m-4-5h0m-6 1h0m-1-6h0m-14 4h0m-90-23h0m78 48h0m19 11h0m5-2h0m3-21h0m8 3h0m18-6h0m25 25h0m19 1h0m0-1h0m18-26h0m25 18h0m10-11h0m22 10h0m12 9h0m4 9h0m-35-1h0m-12 14h0m-7-14h0m-7 17h0m-8 0h0m-3 6h0m-7-6h0m-5-15h0m0 3h0m0 4h0m-5-13h0m-23 21h0m-13-3h0m-3 4h0m-2 2h0m-14 2h0m-14-10h0m-70 0h0m4 15h0m44-1h0m15 14h0m5-16h0m1 10h0m55-4h0m10 1h0m12 17h0m21-19h0m16 7h0m6-11h0m4 9h0m1-8h0m31 36h0m-48-2h0m-19 20h0m-12 0h0m-10-5h0m-10 5h0m-35-3h0m-38 5h0m2 12h0m7-1h0m0-8h0m15 18h0m75-14h0m3-4h0m1 24h0m3 4h0m24 5h0m-31 13h0m-39-5h0m-7 14h0m-19-8h0m-1-6h0m-21-9h0m-10-3h0" stroke="#C6C3DA" stroke-width="12" stroke-linecap="round" fill="none"/><path transform="scale(.1)" d="M3353 1644h0m8 3h0m30-7h0m18 7h0m9-3h0m15-9h0m18 4h0m17 40h0m-40-14h0m-34 7h0m-15 5h0m-2-4h0m-55-23h0m-42 50h0m3 6h0m17-9h0m8-6h0m14 16h0m19-3h0m8-21h0m25 26h0m8-20h0m8-6h0m1 25h0m19-13h0m6 10h0m46-25h0m39 29h0m14 0h0m1-17h0m23 17h0m7 7h0m-19-2h0m0 12h0m-24-14h0m-13 22h0m-24-4h0m-25-1h0m-8 1h0m-38-15h0m-77 22h0m-44 1h0m-23-24h0m-4-3h0m-5 15h0m-7 12h0m-11 23h0m43 7h0m54-9h0m18 4h0m18 3h0m2-1h0m32-5h0m8-4h0m0-13h0m3 6h0m1 7h0m2-6h0m2 5h0m8-4h0m18-1h0m5-2h0m10 7h0m1 4h0m8 1h0m5-3h0m7 10h0m4-15h0m67-5h0m8 4h0m1-7h0m6 27h0m-6 2h0m-1 1h0m-31 1h0m-24 7h0m-2-8h0m-25 3h0m-6-2h0m-5 21h0m-2-24h0m-7 22h0m-2 0h0m-8-14h0m-34 6h0m-9-6h0m0-8h0m-4 23h0m-4-13h0m0 11h0m-5-19h0m-2 10h0m-18 6h0m-2-2h0m-2-1h0m-23-15h0m-3 25h0m-5-11h0m-1-6h0m-22 18h0m-32-16h0m40 21h0m5 20h0m1-1h0m3-19h0m11 6h0m33-5h0m15-4h0m5 26h0m0 1h0m3-6h0m1-19h0m8 14h0m12-7h0m10 17h0m4-11h0m3 8h0m6 2h0m2-18h0m23 2h0m14 4h0m8-1h0m0-8h0m7-4h0m11 20h0m53 4h0m-68 28h0m-2 6h0m-16-24h0m-9 13h0m-7-9h0m-22-5h0m-1-2h0m-7 9h0m-7-8h0m-7 25h0m-9-16h0m-4 3h0m-4-5h0m-7 6h0m-9 10h0m0-22h0m-11 20h0m-24-2h0m-2-19h0m-10 2h0m-46-4h0m4 46h0m53 12h0m1-11h0m5 7h0m16 0h0m3-23h0m10 6h0m11 10h0m4 10h0m3-24h0m9 14h0m1-1h0m11 1h0m15-8h0m9 15h0m25-14h0m9 14h0m8-22h0m16 10h0m-17 28h0m-10-7h0m-1 9h0m-9 8h0m-18-12h0m-8 6h0m-18-13h0m-18 22h0m-11-6h0m-15-2h0m-24-8h0m-1 0h0m-5 11h0m-19-7h0m0 0h0m-12-11h0m19 58h0m8-27h0m0 15h0m5-4h0m11 16h0m33-18h0m10 4h0m8-7h0m10 18h0m1 4h0m1-12h0m0 12h0m25 6h0m-21 9h0m-16 15h0m-11-14h0m-8 12h0m-5-10h0m-12-17h0m-5 16h0m-3 10h0m-7-7h0m-12-17h0m-9 5h0m43 27h0m9 9h0m22-11h0m15 2h0m16-2h0" stroke="#B9B3E0" stroke-width="12" stroke-linecap="round" fill="none"/><path transform="scale(.1)" d="M3340 1642h0m15-3h0m35 9h0m17-12h0m83 16h0m-14 22h0m-32 3h0m-4-9h0m-11-3h0m-103-7h0m-11-3h0m5 30h0m109 10h0m89 4h0m35 12h0m-22 28h0m-8-24h0m-15 10h0m-4-2h0m-49-4h0m-1 4h0m-4-2h0m-33 11h0m-1 4h0m-57 2h0m-8-7h0m-14-8h0m-9-11h0m-82 29h0m52 20h0m50-13h0m1-4h0m3 23h0m15-7h0m10 6h0m1-22h0m2 6h0m19 16h0m3-23h0m31 6h0m10 3h0m4-7h0m3 14h0m4-5h0m9-2h0m5 4h0m12 13h0m56-18h0m27-4h0m1-1h0m-76 44h0m-40 9h0m-6-29h0m-4 7h0m-10 8h0m-2 0h0m-45 12h0m-11-18h0m-9 8h0m-11-14h0m-1 7h0m-14 0h0m-12 12h0m-3 0h0m-9-1h0m0 8h0m-83-17h0m87 18h0m9 27h0m0-17h0m0-4h0m0 10h0m10-14h0m25 14h0m10-3h0m18 9h0m13-13h0m1 8h0m1 12h0m10-21h0m7 17h0m15-5h0m0-3h0m2-2h0m3 12h0m13-5h0m1-8h0m6 6h0m5 7h0m0 0h0m1-2h0m2-3h0m18 6h0m44-23h0m-48 33h0m-5 14h0m-22-13h0m-6 5h0m-1 10h0m-7-24h0m-11 0h0m-10 18h0m-8-2h0m-7 4h0m-3-2h0m-1-14h0m-6 12h0m-12-13h0m-1 3h0m-28 16h0m-6-10h0m-5-4h0m-9 9h0m-33 34h0m55 8h0m17-19h0m15 18h0m2-22h0m6 4h0m14-5h0m20 7h0m8-4h0m13 3h0m16-2h0m-6 37h0m-11 10h0m-31-21h0m-2 12h0m-12-12h0m-5 8h0m-4-3h0m-47-6h0m-4 16h0m-8-16h0m-3 1h0m-3 17h0m-7 7h0m-16 0h0m10 27h0m12-12h0m9 1h0m14 12h0m39-1h0m9-24h0m7-1h0m1 9h0m9 11h0m18-8h0m2-13h0m17 23h0m7-14h0m-30 31h0m-13 11h0m-5-8h0m-21-4h0m-6 12h0m0 4h0m-1-1h0m-26-7h0m-11 7h0m42 10h0m22 2h0m14-2h0" stroke="#A49CDC" stroke-width="12" stroke-linecap="round" fill="none"/><path transform="scale(.1)" d="M3432 1639h0m47 9h0m28 22h0m-9-11h0m-101-6h0m-55 17h0m-13 2h0m111 19h0m84-10h0m-64 44h0m-200 25h0m69 14h0m18 0h0m1-18h0m69 19h0m13-3h0m5 3h0m1-5h0m3-17h0m1 15h0m3 5h0m8-13h0m4 7h0m4-17h0m0 9h0m7 13h0m41 5h0m37-14h0m-52 35h0m-20-4h0m-6 13h0m-19-16h0m-2 16h0m0 0h0m-16-19h0m-1 11h0m-22-8h0m-7-10h0m-9 9h0m-7 5h0m-4 10h0m-2-8h0m-18 12h0m-34-1h0m-6 7h0m3 19h0m16-9h0m5 7h0m9 0h0m1-15h0m36 17h0m5-19h0m6 24h0m1-6h0m14-11h0m18 17h0m21-29h0m16 18h0m4-7h0m6-2h0m5-2h0m16 33h0m-27 18h0m-2-18h0m0-2h0m-35 14h0m-27-20h0m-39-1h0m-30 22h0m-28-11h0m-16 45h0m80-10h0m1 5h0m27 1h0m20-21h0m3 19h0m2-6h0m8-1h0m10-11h0m7 5h0m4-3h0m-11 36h0m-10-6h0m-24 19h0m-13 2h0m-15-17h0m-5 7h0m-4 7h0m-42-17h0m0 19h0m-3-13h0m-5-12h0m-12 40h0m22-2h0m23 11h0m20-14h0m19 20h0m15-12h0m0 0h0m14-10h0m7 18h0m12-19h0m3 5h0m-40 26h0m-1-3h0m-12 9h0m-4-2h0m-16 9h0m-10 5h0m-4-5h0m-6-7h0m-1-2h0m-7 8h0m-6 12h0m-8-8h0m38 22h0m5-9h0m4 13h0m6-12h0m5 10h0m16-13h0m2 9h0" stroke="#8F84D8" stroke-width="12" stroke-linecap="round" fill="none"/><path transform="scale(.1)" d="M3402 1640h0m-6 46h0m51 53h0m-97 11h0m11 15h0m58-21h0m6 7h0m6 11h0m33-16h0m16 22h0m21 19h0m-21-10h0m-6 9h0m-122-10h0m-66 27h0m38 18h0m15 3h0m1 5h0m15-29h0m24 18h0m55-9h0m35-7h0m11 27h0m-35 23h0m-6-21h0m-66 17h0m-3 10h0m-15-16h0m-13-2h0m-35 40h0m31 8h0m17-9h0m44 2h0m1-1h0m60 0h0m3-19h0m0 38h0m-13-3h0m-22 15h0m-14-11h0m-12 3h0m-61-7h0m-34-4h0m-1 42h0m81 10h0m2-19h0m13-3h0m4 9h0m31 38h0m-1-17h0m-19 19h0m-9-1h0m-14 4h0m-5-21h0m-16 4h0m-4 21h0m-9-22h0m-15-4h0m71 31h0" stroke="#776CD2" stroke-width="12" stroke-linecap="round" fill="none"/><path transform="scale(.1)" d="M3513 1715h0m-39 37h0m-1 23h0m-58 6h0m-34 41h0m163-4h0m-133 36h0m-33 11h0m5 4h0m18-7h0m6 37h0m-5 14h0m-53-21h0m65 59h0m-63 7h0" stroke="#5F55CC" stroke-width="12" stroke-linecap="round" fill="none"/><path transform="scale(.1)" d="M3437 1739h0m-110 42h0m116 39h0m46 6h0m-152 83h0" stroke="#4A42C5" stroke-width="12" stroke-linecap="round" fill="none"/><text x="341.3" y="158.1" font-size="5.4" fill="#000" stroke="#000" stroke-width="0.08" text-anchor="middle" font-weight="bold">Sqstm1</text><text x="339.7" y="204.0" font-size="2.6" fill="#333" stroke="#333" stroke-width="0.08" text-anchor="middle">tSNE_1</text><text x="317.4" y="181.0" font-size="2.6" fill="#333" stroke="#333" stroke-width="0.08" text-anchor="middle" transform="rotate(-90 317.4 181.0)">tSNE_2</text><rect x="359.60" y="173.60" width="3.30" height="1.00" fill="#1E1EA0" stroke="none" stroke-width="0.5"/><rect x="359.60" y="174.55" width="3.30" height="1.00" fill="#2A28A5" stroke="none" stroke-width="0.5"/><rect x="359.60" y="175.50" width="3.30" height="1.00" fill="#3733AA" stroke="none" stroke-width="0.5"/><rect x="359.60" y="176.45" width="3.30" height="1.00" fill="#433DAF" stroke="none" stroke-width="0.5"/><rect x="359.60" y="177.40" width="3.30" height="1.00" fill="#4F48B4" stroke="none" stroke-width="0.5"/><rect x="359.60" y="178.35" width="3.30" height="1.00" fill="#5B52B9" stroke="none" stroke-width="0.5"/><rect x="359.60" y="179.30" width="3.30" height="1.00" fill="#685CBE" stroke="none" stroke-width="0.5"/><rect x="359.60" y="180.25" width="3.30" height="1.00" fill="#7467C3" stroke="none" stroke-width="0.5"/><rect x="359.60" y="181.20" width="3.30" height="1.00" fill="#8073C9" stroke="none" stroke-width="0.5"/><rect x="359.60" y="182.15" width="3.30" height="1.00" fill="#8D81CE" stroke="none" stroke-width="0.5"/><rect x="359.60" y="183.10" width="3.30" height="1.00" fill="#9A8FD3" stroke="none" stroke-width="0.5"/><rect x="359.60" y="184.05" width="3.30" height="1.00" fill="#A79DD9" stroke="none" stroke-width="0.5"/><rect x="359.60" y="185.00" width="3.30" height="1.00" fill="#B4AADE" stroke="none" stroke-width="0.5"/><rect x="359.60" y="185.95" width="3.30" height="1.00" fill="#C0B8E3" stroke="none" stroke-width="0.5"/><rect x="359.60" y="186.90" width="3.30" height="1.00" fill="#CDC6E9" stroke="none" stroke-width="0.5"/><rect x="359.60" y="187.85" width="3.30" height="1.00" fill="#DAD4EE" stroke="none" stroke-width="0.5"/><text x="365.9" y="181.2" font-size="2.3" fill="#666" stroke="#666" stroke-width="0.04" text-anchor="middle" transform="rotate(-90 365.9 181.2)">0 1 2 3 4 5</text><path transform="scale(.1)" d="M3892 1649h0m16-9h0m2 9h0m1-6h0m2 3h0m8-7h0m2 6h0m3-1h0m6-10h0m1 15h0m7-8h0m14-9h0m2 6h0m2-4h0m2-1h0m1 14h0m0-1h0m3-4h0m6-5h0m1-3h0m3 7h0m0-1h0m4-2h0m2 9h0m1 0h0m3 0h0m5-2h0m0 4h0m2 0h0m2-9h0m2-4h0m0 6h0m3-4h0m1 10h0m1-4h0m2-9h0m0-1h0m2 4h0m4 2h0m2 4h0m3-4h0m8 1h0m2-3h0m8 7h0m16-4h0m61 31h0m-2 3h0m-2 4h0m-4-12h0m-4-3h0m-3 2h0m-1 11h0m-2-3h0m-9-11h0m-1 7h0m0-4h0m0 3h0m-1-10h0m-1 9h0m0 4h0m-5-12h0m-3 14h0m-1-5h0m0-4h0m-2-7h0m-1 17h0m-1-9h0m-2-5h0m-1-10h0m-2 25h0m-3-15h0m-1 8h0m-1-3h0m-2 9h0m-3-17h0m-1-8h0m-1 24h0m-1-1h0m-2-3h0m-4 7h0m-2-9h0m0 4h0m0 5h0m0-11h0m-1-12h0m-2 22h0m-1-1h0m-1 4h0m-2-2h0m-3-16h0m0 10h0m-1-7h0m-3-2h0m-1 13h0m0-11h0m-4 9h0m0-19h0m0 23h0m-4-25h0m-1 19h0m0 7h0m0-28h0m-1 8h0m-5 10h0m0-11h0m-1 20h0m-5-20h0m-1 22h0m-1-13h0m-1-3h0m-1 6h0m-3-6h0m0-11h0m-3 24h0m0-5h0m-4-2h0m0 8h0m-1-4h0m-4-13h0m-1 13h0m-1-17h0m-1 11h0m0 12h0m0-14h0m-1 12h0m-2-3h0m-3-7h0m-1 9h0m0-23h0m-2 24h0m-1-2h0m-2-13h0m-3 16h0m0 1h0m0-26h0m-1 26h0m0-6h0m-4 0h0m-1-13h0m-3 1h0m-2 18h0m0-7h0m-2-7h0m-2-1h0m0 14h0m-1-8h0m-1-4h0m-3 11h0m-1-24h0m-3 5h0m-3 19h0m-3-9h0m-7-15h0m0 19h0m-1-15h0m-1 12h0m-3 4h0m0-18h0m-1 4h0m-1 13h0m-2-19h0m-3 2h0m0 3h0m-4 20h0m0-8h0m-1-2h0m-1 4h0m-6-7h0m0-5h0m0-3h0m-1 18h0m0-21h0m-2 20h0m0-19h0m-4 4h0m-2 13h0m-2-15h0m-7 22h0m-3-18h0m0-6h0m0 0h0m-7 9h0m-3-6h0m0 6h0m-1-1h0m-1 7h0m-4 4h0m-56 35h0m9-2h0m0-5h0m2-4h0m10-15h0m1 0h0m4-2h0m5 18h0m6-4h0m2 8h0m3-12h0m1 9h0m1 5h0m13-20h0m2 12h0m1-15h0m0 0h0m0 8h0m6 0h0m0 12h0m1-3h0m0-6h0m2 14h0m2-20h0m1-3h0m2 9h0m0 6h0m4-13h0m2 22h0m3 1h0m0-4h0m4 3h0m0-19h0m2 14h0m0-2h0m1 7h0m2-17h0m1-5h0m0 9h0m6-13h0m0 24h0m2-17h0m0 8h0m1-5h0m1-2h0m2-1h0m0-2h0m3-5h0m1 15h0m2-2h0m2-12h0m0 6h0m1 20h0m5-28h0m1 7h0m2-2h0m0 6h0m3 9h0m1 7h0m0-26h0m1 0h0m1 2h0m1 12h0m2 1h0m0-4h0m1 11h0m1-10h0m1 4h0m1 11h0m0-27h0m1 2h0m4 25h0m1-18h0m1 17h0m0-16h0m2 11h0m0 5h0m2-19h0m2-3h0m1-4h0m1 2h0m0 25h0m3-15h0m2-7h0m1 19h0m1-23h0m1 5h0m3-5h0m1 25h0m1-17h0m1-2h0m2 5h0m3 15h0m2-11h0m0 3h0m3-15h0m0 7h0m1 11h0m2-23h0m1 9h0m2-1h0m3 1h0m5 7h0m5-11h0m4 6h0m1-8h0m2 17h0m2 2h0m2-18h0m1-2h0m3 10h0m1-13h0m2 20h0m1-17h0m1 5h0m5 7h0m2 11h0m0-18h0m1-5h0m1 24h0m1 1h0m0-20h0m1-1h0m1 18h0m2-15h0m1 0h0m2 5h0m2-4h0m2 17h0m1-11h0m0-7h0m1-9h0m0 26h0m6-9h0m0 2h0m0-17h0m3 8h0m1 10h0m2-3h0m1 5h0m2 0h0m0 3h0m7-2h0m1 5h0m0-7h0m1-8h0m1-13h0m3 6h0m3 17h0m0-21h0m1 25h0m2-9h0m0-9h0m0-8h0m0 10h0m1-1h0m1-4h0m1 4h0m3 9h0m1 1h0m2-4h0m5-14h0m1 19h0m0-13h0m3 0h0m0 13h0m1-17h0m0 1h0m3 8h0m1 1h0m2 11h0m1-19h0m1 20h0m1-14h0m2 2h0m0 0h0m3 5h0m0 9h0m2-3h0m2-15h0m0-5h0m2 21h0m1-5h0m0 0h0m2 7h0m10 24h0m0-8h0m-3-4h0m-1 17h0m-1 1h0m-1-4h0m-4-19h0m-1 8h0m-2-7h0m-2 21h0m-2-18h0m-1-3h0m-1 5h0m0-9h0m-2 0h0m0-2h0m-1 7h0m-2-6h0m-1 12h0m-2-8h0m-1-6h0m0 5h0m0 4h0m-1-3h0m0-4h0m-1 12h0m-2 9h0m-1 0h0m0-7h0m0-11h0m-2 12h0m-3-12h0m0 0h0m-1 3h0m-6 16h0m0-3h0m0-18h0m-2 9h0m-1-12h0m-1 15h0m-1-8h0m-1-5h0m-2 11h0m-1-4h0m-3 12h0m-1-4h0m-2-17h0m0 2h0m-1 3h0m-1 10h0m0 0h0m-3-4h0m-1-6h0m-3 6h0m-1 4h0m0-13h0m0-1h0m-2 9h0m0 1h0m-4 14h0m-1-25h0m-4 5h0m-1-1h0m0 0h0m-2 16h0m-2-10h0m0 7h0m-3-17h0m-1 5h0m-4 6h0m-3-11h0m-2 17h0m0 3h0m-1-17h0m-1 3h0m0 0h0m0 1h0m-3 7h0m-1 4h0m-1-5h0m0 2h0m-1 5h0m-1 9h0m-1-22h0m-2 5h0m-1 0h0m-1-4h0m-1 16h0m0-9h0m-1 11h0m-1-7h0m-4-3h0m0-2h0m-1 11h0m0-7h0m-1 2h0m-1-20h0m-3 10h0m-1 2h0m-2 15h0m-1-18h0m-2 12h0m-3-15h0m0 16h0m0-7h0m-3-7h0m-3 0h0m-5 8h0m-1 12h0m0-3h0m0-24h0m-1 4h0m-1 7h0m-5 16h0m0-16h0m-2-3h0m-1 1h0m0 18h0m-3-27h0m-1 10h0m-2 4h0m-1-12h0m-2 10h0m-2-9h0m-1 12h0m0-3h0m-3 0h0m-1 1h0m0 13h0m-2-18h0m0-7h0m-2 8h0m-7-5h0m-3 7h0m-4 1h0m-5 16h0m-1-16h0m-6 1h0m-2-9h0m-3-2h0m-3 15h0m-3-3h0m-4-14h0m-1 7h0m-4-6h0m-1 11h0m-2 1h0m-1-13h0m-5 3h0m-2 11h0m-1-12h0m-5-3h0m-3 1h0m-2 25h0m-7-15h0m-1 5h0m-1 7h0m-1 0h0m0-17h0m-1 5h0m0 1h0m-4 7h0m-1 0h0m-2 4h0m-1-4h0m-1 4h0m0-12h0m-4 15h0m-1-15h0m0 9h0m0-8h0m-2 13h0m-1-21h0m-5 6h0m0 12h0m-3-11h0m-1-10h0m-2 21h0m-3-15h0m-1 20h0m-1-12h0m-1 12h0m0-13h0m-1-10h0m0 25h0m-4-12h0m-1-11h0m-4-4h0m0 20h0m-2 1h0m-2-12h0m-1-11h0m0 0h0m-3 27h0m-1-2h0m-2-24h0m-1 9h0m-2-10h0m0 2h0m-1 21h0m-4 5h0m-2-26h0m0 8h0m0 6h0m-3 3h0m-2-8h0m-2 15h0m-4 3h0m-1-12h0m-7 35h0m0 6h0m2 0h0m3-11h0m0 4h0m1 5h0m2-22h0m4 14h0m1 7h0m1-7h0m4 7h0m1-4h0m4-20h0m2 16h0m4 8h0m1-23h0m2 19h0m2-20h0m2 10h0m0 0h0m3 10h0m1-20h0m2 26h0m0-11h0m9 0h0m4-12h0m1 22h0m4-11h0m2-3h0m7 15h0m1-19h0m2-3h0m3 13h0m0 3h0m1-14h0m4-1h0m0 20h0m8-17h0m3-5h0m5 16h0m3 4h0m2 5h0m1-17h0m1-3h0m0 9h0m4 7h0m9-1h0m6 1h0m3-15h0m2-1h0m0 2h0m1-7h0m0 24h0m2-6h0m1 5h0m1 0h0m1 1h0m3-2h0m0-25h0m0 25h0m1-5h0m0 4h0m2-3h0m0-5h0m1-5h0m2 5h0m1 10h0m3-6h0m0-5h0m1 3h0m3-3h0m1-10h0m4-3h0m1 23h0m0 1h0m2-11h0m8 4h0m1 8h0m4-12h0m2-16h0m2 16h0m0 7h0m2 1h0m0 4h0m0-23h0m1-3h0m0 11h0m0-10h0m1 7h0m0-7h0m2 6h0m1 0h0m0 5h0m1 1h0m1-1h0m2 3h0m1 0h0m6-6h0m1-1h0m0 15h0m0-5h0m0 4h0m0-19h0m2 5h0m1-6h0m0 9h0m0-13h0m3 8h0m5 20h0m3-16h0m0 9h0m1 3h0m2-16h0m1 12h0m1 2h0m0-15h0m0 19h0m2-24h0m1 1h0m0 20h0m0-16h0m1 11h0m1 10h0m0-4h0m0 3h0m2-11h0m3-6h0m1 0h0m0 5h0m0-14h0m3 17h0m0-6h0m0 9h0m1-9h0m4-5h0m0 9h0m0-3h0m1 11h0m0-4h0m1-10h0m1 7h0m0 0h0m0 12h0m0-5h0m1-24h0m0 11h0m0-3h0m1 19h0m2-13h0m1-10h0m0 9h0m0-1h0m2-10h0m0 20h0m1-5h0m1-1h0m1 6h0m1 7h0m0-14h0m1 12h0m0-18h0m1 9h0m1-6h0m1 1h0m3 12h0m1-11h0m2 15h0m2-13h0m2 0h0m3 1h0m0 0h0m1 12h0m1-12h0m4 5h0m0-20h0m2 7h0m0 15h0m0-14h0m3 1h0m1-7h0m1 12h0m0 9h0m2-2h0m2-22h0m7 1h0m8 13h0m2 4h0m1-19h0m3 3h0m0 4h0m1 18h0m4-4h0m0 4h0m0-5h0m1-8h0m1 3h0m1-15h0m3 13h0m2-2h0m1 18h0m3-20h0m2 7h0m0 8h0m0-15h0m1 3h0m1-10h0m0 5h0m0 5h0m2 17h0m1-26h0m0 9h0m0-2h0m2 7h0m2 3h0m1-12h0m2-2h0m4 16h0m1-10h0m0 12h0m1-13h0m1-7h0m0 4h0m1 15h0m0-8h0m0 5h0m-1 26h0m0-8h0m0-4h0m-5 10h0m0-5h0m-1-7h0m-8 5h0m-1-4h0m0 0h0m-1 1h0m-2 13h0m-1-9h0m-1 4h0m0 8h0m-3-4h0m-2-16h0m-2 15h0m-2-15h0m-1 1h0m-7 1h0m0 8h0m0-6h0m-2 19h0m-3-18h0m-1-3h0m-1 10h0m0-5h0m-4 4h0m0 18h0m-6-14h0m-4 6h0m-5-4h0m-3 4h0m0 4h0m-1-5h0m-1-7h0m-1-9h0m0 7h0m-1 0h0m0 18h0m-1-9h0m-1-17h0m-1 15h0m-2-6h0m-1-5h0m-3 0h0m0-7h0m-2 15h0m0-6h0m-1-1h0m-1 19h0m-1 2h0m0-3h0m-4-23h0m0 23h0m-1-19h0m-1 8h0m0 0h0m-4 12h0m-2-19h0m-6-3h0m0 5h0m0-10h0m-3 28h0m-4-5h0m0 3h0m-2-23h0m-2 23h0m-2-22h0m-1 21h0m0-12h0m-1 16h0m0-2h0m-3-5h0m0-15h0m-4 21h0m-1-17h0m-1-5h0m-2 15h0m-3-13h0m-2-5h0m-1 16h0m0-8h0m-1 3h0m0 13h0m-1-11h0m0-15h0m0 27h0m-1-25h0m-4 4h0m-4 3h0m0 9h0m-1-8h0m-3-9h0m-3 27h0m-4-15h0m0 0h0m-1-5h0m-2 8h0m-2 2h0m0-18h0m-3 13h0m0 8h0m-1-20h0m-3 0h0m-1 9h0m-1 1h0m-1 17h0m0-3h0m-1-3h0m0-4h0m-1-9h0m-3 2h0m-1 7h0m0-5h0m-1 11h0m-2 4h0m0-14h0m-1 9h0m-1-19h0m-1 4h0m-1-8h0m0 12h0m-1 5h0m-4-17h0m0 17h0m-4-8h0m-4 5h0m-2 4h0m-3 1h0m0-8h0m-2-9h0m0 25h0m-1-16h0m0-4h0m-1 8h0m0 1h0m-1 6h0m-2-13h0m0 0h0m-2 10h0m0-15h0m-2 17h0m0-12h0m-1-8h0m0 13h0m-2 3h0m0-18h0m-1 8h0m-1 20h0m-1-22h0m-5 20h0m0-19h0m-1 19h0m0-25h0m-2 9h0m-1 10h0m-1 0h0m-1-15h0m-1 11h0m0 8h0m0-24h0m-1 27h0m0-7h0m-4-1h0m-1-8h0m0 12h0m-1-15h0m-1 9h0m0 11h0m-1-2h0m-1-3h0m-2 3h0m-1-9h0m-1 6h0m0 2h0m-1-18h0m-3 16h0m-4-5h0m-2 2h0m0-1h0m0-6h0m-2 3h0m-1 6h0m-3-14h0m0 19h0m-2 0h0m-1-3h0m-4 3h0m-3-16h0m-2 6h0m-6 1h0m0-5h0m-3-6h0m-3 22h0m0 0h0m-2-28h0m0 25h0m-2 0h0m-4-15h0m-2 5h0m-10-2h0m0 12h0m-3-15h0m0 6h0m-12-2h0m-7-11h0m-1-4h0m-2 8h0m0 8h0m-1-3h0m-4-12h0m-3 21h0m-4 1h0m4 12h0m42 11h0m4-3h0m3 1h0m6-13h0m5 8h0m2-5h0m3 19h0m9-21h0m1 7h0m6-4h0m0 12h0m1 1h0m0-4h0m3 7h0m2-19h0m0-2h0m4 0h0m0 18h0m1 8h0m1-15h0m0-5h0m0 14h0m0 3h0m1-20h0m1 4h0m3 1h0m1 17h0m0-4h0m0 3h0m1-18h0m0 8h0m0 9h0m1 4h0m2-27h0m2 27h0m1-20h0m0 3h0m0-8h0m2 8h0m0-9h0m0 3h0m1 6h0m0-8h0m4 13h0m0-6h0m0 0h0m1 14h0m1 5h0m4-1h0m0-12h0m0 7h0m4 1h0m4-11h0m2 9h0m1-12h0m2-8h0m0 22h0m0-9h0m2-10h0m1 1h0m1-4h0m1 5h0m1 9h0m1-11h0m4 13h0m0-3h0m0-8h0m2 23h0m6-6h0m2-20h0m0 4h0m0 18h0m1-3h0m1-4h0m0-15h0m2 24h0m1-3h0m0-4h0m0-4h0m1 0h0m0 11h0m0 2h0m4-26h0m0 19h0m2 1h0m5-5h0m1-13h0m1 2h0m3 2h0m1 11h0m0 3h0m2 4h0m0 1h0m1-9h0m0-18h0m5 8h0m4 0h0m0-4h0m2 5h0m4-2h0m0 12h0m0 6h0m0 1h0m0-16h0m1 3h0m1 6h0m1-19h0m1 20h0m0-4h0m0 3h0m0-13h0m1 7h0m0 5h0m2-10h0m1 14h0m4 2h0m1-9h0m3 3h0m1-4h0m0-4h0m3 15h0m1 3h0m4-8h0m1 3h0m1-8h0m0 3h0m4-19h0m2 17h0m0-1h0m0 4h0m3-11h0m0 1h0m1 10h0m0 2h0m1-22h0m1 18h0m1-11h0m1 13h0m1-1h0m3 8h0m2-1h0m0 3h0m1-8h0m1-15h0m1 22h0m0-11h0m0 10h0m1-22h0m1 22h0m0-15h0m1-11h0m0 15h0m3-5h0m1 8h0m0-5h0m3-9h0m1 8h0m1-6h0m3 22h0m2-28h0m0 6h0m0 20h0m1-1h0m0-22h0m1 11h0m2 10h0m0 2h0m1-2h0m0-24h0m2 3h0m2 15h0m0-12h0m6 8h0m15 9h0m28 4h0m0-8h0m-6 37h0m-1-20h0m-2 19h0m-17-5h0m-3-1h0m-21-14h0m-2-6h0m-5 8h0m-2 12h0m-3-20h0m-1 8h0m-1 13h0m0-10h0m-3 11h0m0 7h0m-2-20h0m-3-8h0m0 7h0m-1 10h0m-2-18h0m0 20h0m-7-17h0m0-1h0m-3 23h0m-1-18h0m-2 5h0m-1-5h0m-1 9h0m-4-9h0m0 6h0m-1 8h0m0-3h0m-3 3h0m-1-21h0m0 25h0m-3-10h0m0 12h0m-1-26h0m-1 16h0m-1 5h0m0-16h0m-2 16h0m0-1h0m-3 3h0m0-24h0m0 14h0m-3 1h0m-1 4h0m0-13h0m-1 4h0m0-4h0m0-4h0m-3 20h0m-2-17h0m-2 14h0m0-19h0m-2 26h0m0-17h0m-1 0h0m-2 12h0m-1-20h0m-3 9h0m0 4h0m0 15h0m0-7h0m-1-8h0m0-13h0m-2 22h0m0-12h0m-1-4h0m0 2h0m-1-6h0m0 11h0m-2-10h0m0 25h0m-1-9h0m-1 7h0m0-9h0m-2-18h0m-2 3h0m0 24h0m0-6h0m-1-21h0m0 18h0m-1-3h0m-1 0h0m0-4h0m-3 0h0m-6 4h0m0 5h0m-2 6h0m-1-18h0m-1-2h0m0 3h0m0 15h0m-1-14h0m0-9h0m-1 23h0m-1-8h0m-2-3h0m-1 6h0m-2-7h0m-2 6h0m-1-6h0m-1 15h0m-1-24h0m-2 18h0m-2 6h0m-1-1h0m-2-6h0m0 7h0m-3 0h0m-3-14h0m-3-3h0m-3 17h0m-4-17h0m0 17h0m-2-16h0m0-10h0m-2 19h0m-2 4h0m-1-15h0m-1 1h0m-3 11h0m0-3h0m-3-2h0m0-14h0m-3 14h0m-2-6h0m-4-6h0m-1 0h0m-1 17h0m0-18h0m-5 2h0m0 17h0m-3-15h0m-1 0h0m-1 5h0m0 16h0m-2-10h0m-12 1h0m-6-19h0m-15 0h0m-6 5h0m-2 2h0m-5 10h0m0 9h0m-12-23h0m-6-1h0m-1 4h0m-8 12h0m18 22h0m13 15h0m2-23h0m6 13h0m4-1h0m1 0h0m0-6h0m15 20h0m2-8h0m3 1h0m10-11h0m1-9h0m3 0h0m14 4h0m2 2h0m0 3h0m1-2h0m0 20h0m1-17h0m1-10h0m4 24h0m7-9h0m5-11h0m3-3h0m0 2h0m3 25h0m0-23h0m1-5h0m1 21h0m0 4h0m3-7h0m1-3h0m5 0h0m0-9h0m2 1h0m0 1h0m7 14h0m0-6h0m3-14h0m1 13h0m2 11h0m1-19h0m2-5h0m1 24h0m1-17h0m1-5h0m0 1h0m1-1h0m0 6h0m1 5h0m0-9h0m3 10h0m1 3h0m1-4h0m2-6h0m0 6h0m0 13h0m0-8h0m1-15h0m1 3h0m1 12h0m0-13h0m0 19h0m0-23h0m2 22h0m0-13h0m1-10h0m2 21h0m3-19h0m0 11h0m1 0h0m0 3h0m2-8h0m0 14h0m0-15h0m2-7h0m2 6h0m7 0h0m0-9h0m1 3h0m1 0h0m5 16h0m2-3h0m0-10h0m1 9h0m1-11h0m1 4h0m5-4h0m1 11h0m4-4h0m2 2h0m3 2h0m1-3h0m0-8h0m3-3h0m1 10h0m2-3h0m0 2h0m2-10h0m1 6h0m1 3h0m1 11h0m2-9h0m0-8h0m0 10h0m1 11h0m1-15h0m3-6h0m1 12h0m0-1h0m2 14h0m1-7h0m2-19h0m2 10h0m0-12h0m4 13h0m24-7h0m2-3h0m5 9h0m-32 24h0m-5 3h0m-4-2h0m-1 4h0m-3 1h0m0 14h0m-3-19h0m-1-3h0m0 7h0m-11 9h0m-1-10h0m-2-6h0m-6 3h0m-4 12h0m-2-7h0m-2-10h0m-2 20h0m-4-1h0m-3-8h0m-2 12h0m-3-25h0m-2 12h0m-5-1h0m-2 13h0m0-17h0m-3-7h0m-1 11h0m-1-1h0m-2 4h0m0 4h0m-2 4h0m-1-4h0m0-7h0m-3 15h0m-4-17h0m-2 7h0m-2 7h0m0 4h0m0-7h0m-2-14h0m-2 1h0m-6 11h0m-2-1h0m-7-3h0m-11 15h0m-3-15h0m-5 2h0m-1-12h0m-3-4h0m-3 26h0m-3-6h0m-1-12h0m-3-6h0m-1 18h0m-1-4h0m-1 5h0m-2 7h0m0-24h0m-1 8h0m-2 11h0m-10 5h0m-13-25h0m-3-1h0m-6 27h0m-11-20h0m27 22h0m7-1h0m4 0h0m5 3h0m9 1h0m6 22h0m7-1h0m4-25h0m3 19h0m6-10h0m8-8h0m5 10h0m20-9h0m5 0h0m1 26h0m1-20h0m1 4h0m9 2h0m1-9h0m2-3h0m1-1h0m1 0h0m0 24h0m6-23h0m0 26h0m1-23h0m14 24h0m11 0h0m-15 4h0m-5 20h0m-15-7h0m-2-14h0m-3 17h0m-17-14h0m-3 4h0m-1-7h0m-7 18h0m-8-6h0m-1-9h0m-10 21h0m-2-10h0m-3 2h0m-3-2h0m-1 3h0m-7-2h0m-1-3h0m0-6h0m-6 17h0m-2 1h0m-7-5h0m-7-8h0m-1-6h0m-2-3h0m65 27h0m19 2h0m19 3h0m3 2h0" stroke="#D3D3D3" stroke-width="12" stroke-linecap="round" fill="none"/><path transform="scale(.1)" d="M3877 1878h0m24 4h0m4-5h0m102 7h0m24 22h0m-9-10h0m-89 10h0m-14 3h0m-19 25h0m58-11h0m20 14h0m23 6h0m6 13h0m-27 9h0m-11 0h0m-8-12h0m-8 20h0m-18 2h0m-8-15h0m-2 15h0m-5-1h0m-3-20h0m-7 9h0m36 28h0m7 4h0m34-11h0" stroke="#C6C3DA" stroke-width="12" stroke-linecap="round" fill="none"/><path transform="scale(.1)" d="M3941 1642h0m3-2h0m24 33h0m-96 32h0m213 3h0m47 18h0m-45 8h0m-5-18h0m-16 21h0m-29-2h0m-50-4h0m28 22h0m43-11h0m19 23h0m2-13h0m43 5h0m-60 17h0m-75 13h0m-92 6h0m110 14h0m75-7h0m10 25h0m10-18h0m29 13h0m-46 24h0m-58-6h0m-9 14h0m-169 19h0m44 16h0m7-15h0m3 6h0m25 1h0m1 5h0m46 0h0m57 30h0m-19-12h0m-25 13h0m-12-18h0m-1-4h0m-1 13h0m0 9h0m-43-2h0m-2-8h0m-1 10h0m-13-14h0m-25 2h0m-2 27h0m1-4h0m14 6h0m9 13h0m15-5h0m35 5h0m1-11h0m5 0h0m6-13h0m5 24h0m1-22h0m2 26h0m8-7h0m12-3h0m5-4h0m2-14h0m16 21h0m-30 11h0m-8 20h0m-13-3h0m-15 7h0m-7 1h0m-4-10h0m-2-5h0m-6-13h0m0 20h0m-16-11h0m-2 11h0m-10-10h0m-4-9h0m-2 6h0m-2-3h0m-3 8h0m-8-12h0m56 32h0m14 2h0m23-2h0" stroke="#B9B3E0" stroke-width="12" stroke-linecap="round" fill="none"/><path transform="scale(.1)" d="M3924 1640h0m122 25h0m-99-10h0m-24 14h0m-2 24h0m115 14h0m-107 32h0m11 20h0m7-17h0m1 24h0m2-18h0m67 1h0m6 9h0m35-14h0m22 13h0m28 30h0m-17-14h0m-160 21h0m-127-14h0m-4 0h0m9 26h0m51 16h0m3-9h0m67 4h0m29 5h0m11-12h0m68 11h0m61 0h0m-28 18h0m-5 1h0m-7 0h0m-130 12h0m-20-11h0m75 48h0m16-15h0m2 12h0m26 3h0m8-29h0m26 11h0m-1 26h0m-41 18h0m-10-15h0m-1-6h0m-5 2h0m-46 4h0m-11 12h0m-13-8h0m-63 12h0m8 4h0m8 26h0m2-16h0m5 14h0m2-10h0m10 4h0m6 1h0m6-10h0m18-6h0m3 16h0m15-6h0m8 13h0m17 3h0m2-14h0m5-10h0m12 1h0m9 15h0m4-11h0m6-6h0m1 30h0m-9 15h0m-13-19h0m-8 21h0m-4-9h0m-1-8h0m-2-4h0m0 8h0m-21 14h0m-2-9h0m-1-9h0m-3 5h0m-9 4h0m-17-7h0m-6 9h0m-2-13h0m-3 4h0m-9 7h0m40 30h0m26-5h0m6-8h0m2 11h0m1-5h0m17-3h0" stroke="#A49CDC" stroke-width="12" stroke-linecap="round" fill="none"/><path transform="scale(.1)" d="M3931 1645h0m3-8h0m29 9h0m-44 54h0m43 0h0m18-7h0m82 16h0m-230 43h0m187-7h0m-72 42h0m-28-16h0m156 57h0m11-17h0m28-11h0m5 22h0m10-17h0m-15 26h0m-90 25h0m-101-7h0m-14 38h0m60-5h0m83 7h0m20-25h0m2-1h0m-43 44h0m-43-13h0m-3 5h0m-11 13h0m-25-18h0m-12 14h0m-22-6h0m-10 13h0m-1-20h0m-19 8h0m-35-12h0m28 44h0m0 1h0m2 3h0m6-9h0m37 4h0m7 14h0m0-12h0m19-12h0m1 6h0m35 0h0m5 4h0m30 21h0m-14 5h0m-4-1h0m-23 13h0m-9 7h0m-6-5h0m-1-2h0m-7 4h0m-1-6h0m-15 0h0m-1 7h0m-8-19h0m-8 18h0m-9-22h0m-13 2h0m-1 7h0m64 32h0m6-13h0" stroke="#8F84D8" stroke-width="12" stroke-linecap="round" fill="none"/><path transform="scale(.1)" d="M4017 1912h0m-103-17h0m-4 1h0m-12-6h0m-16 55h0m5-9h0m3-2h0m8-4h0m0 1h0m5 6h0m4-7h0m51 18h0m10-21h0m4 2h0m14 10h0m22 7h0m16 4h0m-32 21h0m-22-4h0m-6-17h0m-30 13h0m-35-10h0m39 31h0" stroke="#776CD2" stroke-width="12" stroke-linecap="round" fill="none"/><path transform="scale(.1)" d="M3987 1910h0m-68-15h0m-16 39h0m5-1h0m1 2h0m21 9h0m41 2h0m28-14h0m9 1h0m23-5h0m-55 39h0m-15-17h0m-13 13h0m-32 7h0m-6-5h0m48 22h0" stroke="#5F55CC" stroke-width="12" stroke-linecap="round" fill="none"/><path transform="scale(.1)" d="M3891 1949h0m133-21h0m-37 44h0m-4-10h0m-15-3h0m-29 19h0" stroke="#4A42C5" stroke-width="12" stroke-linecap="round" fill="none"/><path transform="scale(.1)" d="M3964 1955h0m-20 23h0" stroke="#3430BE" stroke-width="12" stroke-linecap="round" fill="none"/><text x="397.6" y="158.1" font-size="5.4" fill="#000" stroke="#000" stroke-width="0.08" text-anchor="middle" font-weight="bold">Sox4</text><text x="396.8" y="204.0" font-size="2.6" fill="#333" stroke="#333" stroke-width="0.08" text-anchor="middle">tSNE_1</text><text x="374.5" y="181.0" font-size="2.6" fill="#333" stroke="#333" stroke-width="0.08" text-anchor="middle" transform="rotate(-90 374.5 181.0)">tSNE_2</text><rect x="416.70" y="173.60" width="3.30" height="1.00" fill="#1E1EA0" stroke="none" stroke-width="0.5"/><rect x="416.70" y="174.55" width="3.30" height="1.00" fill="#2A28A5" stroke="none" stroke-width="0.5"/><rect x="416.70" y="175.50" width="3.30" height="1.00" fill="#3733AA" stroke="none" stroke-width="0.5"/><rect x="416.70" y="176.45" width="3.30" height="1.00" fill="#433DAF" stroke="none" stroke-width="0.5"/><rect x="416.70" y="177.40" width="3.30" height="1.00" fill="#4F48B4" stroke="none" stroke-width="0.5"/><rect x="416.70" y="178.35" width="3.30" height="1.00" fill="#5B52B9" stroke="none" stroke-width="0.5"/><rect x="416.70" y="179.30" width="3.30" height="1.00" fill="#685CBE" stroke="none" stroke-width="0.5"/><rect x="416.70" y="180.25" width="3.30" height="1.00" fill="#7467C3" stroke="none" stroke-width="0.5"/><rect x="416.70" y="181.20" width="3.30" height="1.00" fill="#8073C9" stroke="none" stroke-width="0.5"/><rect x="416.70" y="182.15" width="3.30" height="1.00" fill="#8D81CE" stroke="none" stroke-width="0.5"/><rect x="416.70" y="183.10" width="3.30" height="1.00" fill="#9A8FD3" stroke="none" stroke-width="0.5"/><rect x="416.70" y="184.05" width="3.30" height="1.00" fill="#A79DD9" stroke="none" stroke-width="0.5"/><rect x="416.70" y="185.00" width="3.30" height="1.00" fill="#B4AADE" stroke="none" stroke-width="0.5"/><rect x="416.70" y="185.95" width="3.30" height="1.00" fill="#C0B8E3" stroke="none" stroke-width="0.5"/><rect x="416.70" y="186.90" width="3.30" height="1.00" fill="#CDC6E9" stroke="none" stroke-width="0.5"/><rect x="416.70" y="187.85" width="3.30" height="1.00" fill="#DAD4EE" stroke="none" stroke-width="0.5"/><text x="423.0" y="181.2" font-size="2.3" fill="#666" stroke="#666" stroke-width="0.04" text-anchor="middle" transform="rotate(-90 423.0 181.2)">0 1 2 3 4 5</text><text x="1.3" y="252.9" font-size="7.0" fill="#000" stroke="#000" stroke-width="0.08" font-weight="bold">F</text><rect x="13.40" y="258.40" width="52.00" height="51.60" fill="#FFFFFF" stroke="none" stroke-width="0.5"/><line x1="16.30" y1="258.40" x2="16.30" y2="310.00" stroke="#DCDCDC" stroke-width="0.45"/><line x1="20.70" y1="258.40" x2="20.70" y2="310.00" stroke="#EDEDED" stroke-width="0.3"/><line x1="25.10" y1="258.40" x2="25.10" y2="310.00" stroke="#DCDCDC" stroke-width="0.45"/><line x1="29.50" y1="258.40" x2="29.50" y2="310.00" stroke="#EDEDED" stroke-width="0.3"/><line x1="33.90" y1="258.40" x2="33.90" y2="310.00" stroke="#DCDCDC" stroke-width="0.45"/><line x1="38.30" y1="258.40" x2="38.30" y2="310.00" stroke="#EDEDED" stroke-width="0.3"/><line x1="42.70" y1="258.40" x2="42.70" y2="310.00" stroke="#DCDCDC" stroke-width="0.45"/><line x1="47.10" y1="258.40" x2="47.10" y2="310.00" stroke="#EDEDED" stroke-width="0.3"/><line x1="51.50" y1="258.40" x2="51.50" y2="310.00" stroke="#DCDCDC" stroke-width="0.45"/><line x1="55.90" y1="258.40" x2="55.90" y2="310.00" stroke="#EDEDED" stroke-width="0.3"/><line x1="60.30" y1="258.40" x2="60.30" y2="310.00" stroke="#DCDCDC" stroke-width="0.45"/><line x1="64.70" y1="258.40" x2="64.70" y2="310.00" stroke="#EDEDED" stroke-width="0.3"/><line x1="13.40" y1="308.30" x2="65.40" y2="308.30" stroke="#DCDCDC" stroke-width="0.45"/><line x1="13.40" y1="301.95" x2="65.40" y2="301.95" stroke="#EDEDED" stroke-width="0.3"/><line x1="13.40" y1="295.60" x2="65.40" y2="295.60" stroke="#DCDCDC" stroke-width="0.45"/><line x1="13.40" y1="289.25" x2="65.40" y2="289.25" stroke="#EDEDED" stroke-width="0.3"/><line x1="13.40" y1="282.90" x2="65.40" y2="282.90" stroke="#DCDCDC" stroke-width="0.45"/><line x1="13.40" y1="276.55" x2="65.40" y2="276.55" stroke="#EDEDED" stroke-width="0.3"/><line x1="13.40" y1="270.20" x2="65.40" y2="270.20" stroke="#DCDCDC" stroke-width="0.45"/><line x1="13.40" y1="263.85" x2="65.40" y2="263.85" stroke="#EDEDED" stroke-width="0.3"/><path transform="scale(.1)" d="M579 2637h0m-45-7h0m-34 4h0m-28-24h0m-4 9h0m-1 0h0m-15-9h0m-1 5h0m-24 2h0m-17-7h0m-1 8h0m-4-2h0m-10 21h0m-1-4h0m-34-11h0m-6-1h0m-4 6h0m-3-3h0m-10 3h0m-4 1h0m-70 34h0m13-15h0m10 18h0m15-22h0m7-1h0m5 3h0m17-1h0m4 5h0m11 10h0m5-19h0m3 26h0m3-8h0m20-11h0m3 0h0m11-7h0m4 4h0m3 2h0m2 2h0m1 10h0m9-2h0m6 13h0m24-29h0m14 15h0m41 14h0m2-2h0m0-15h0m39-5h0m1-1h0m4 13h0m5 0h0m10-13h0m6 9h0m15 8h0m4-11h0m1-4h0m2 15h0m8-4h0m9 7h0m5-8h0m19 38h0m-19-26h0m-17 10h0m-2 18h0m-7-28h0m-5 20h0m-7-15h0m-18 16h0m-1-16h0m-5 12h0m-9 9h0m-7-11h0m-3-14h0m-6 1h0m-2 24h0m-5-20h0m-1 13h0m-18-12h0m-1-4h0m-16-1h0m-14 1h0m-17 7h0m-6 9h0m-28-4h0m-8-7h0m-12 8h0m-22-16h0m-7 0h0m-4 11h0m-11 15h0m-2-4h0m-5-3h0m-12 5h0m-19 1h0m-30-8h0m-8-14h0m-36 15h0m-9-10h0m-2 5h0m0 4h0m-7 1h0m0 27h0m2 14h0m5-26h0m22 26h0m21-6h0m10-15h0m12 16h0m18-19h0m12-2h0m8 4h0m4 4h0m4-2h0m7 12h0m14-17h0m12 6h0m10-3h0m13-7h0m6 13h0m0-5h0m34 14h0m41-8h0m4-3h0m11-5h0m17 0h0m14 17h0m1-16h0m1 3h0m14 0h0m0 0h0m0-10h0m6 8h0m7-6h0m35 16h0m4 2h0m3-1h0m20-10h0m12 6h0m16 15h0m-5 27h0m-12-23h0m-5 9h0m-2 3h0m-2-1h0m-8-14h0m-2 9h0m-1-9h0m-5 26h0m-19 1h0m-48-22h0m-1 18h0m-19-19h0m-3 10h0m-19 2h0m-1 4h0m-2-6h0m-1-2h0m-8 7h0m-3 4h0m-5 3h0m-28-26h0m-3 6h0m-17-4h0m-6-2h0m-9 9h0m-2-6h0m-2 9h0m-36 10h0m-20 2h0m-12-8h0m-45-15h0m0 24h0m-11-24h0m-11 1h0m-34 2h0m-26-5h0m-4 1h0m14 35h0m25 13h0m97-5h0m8 13h0m34-6h0m4-13h0m0 8h0m1 11h0m26-11h0m19-14h0m6 16h0m0 9h0m6-11h0m16-6h0m17 8h0m3 11h0m1-4h0m1-14h0m19 11h0m4-8h0m14-4h0m9 6h0m1 6h0m30-11h0m2-7h0m42 21h0m13-7h0m1 9h0m3-27h0m20 2h0m-19 49h0m-63-8h0m-26-5h0m-26 14h0m-10-14h0m-41 20h0m-22-2h0m-25-15h0m-7 17h0m-16-25h0m-30 5h0m-1 14h0m-15 0h0m65 31h0m12-20h0m47 25h0m97-6h0m75-14h0m-9 30h0m-70 8h0m-44-10h0m-28 0h0m-89 16h0m-5-18h0m-48 6h0m113 42h0m3-21h0m39 4h0" stroke="#120A2A" stroke-width="15" stroke-linecap="round" fill="none"/><path transform="scale(.1)" d="M529 2629h0m-41 2h0m-36-4h0m-2-17h0m-14 15h0m-7-2h0m-10 5h0m-21-10h0m-10 4h0m-12-12h0m-13 4h0m-60 28h0m37 17h0m10 9h0m19-11h0m3 1h0m9 6h0m7-15h0m22 19h0m1-28h0m8 29h0m0-13h0m53 7h0m28 4h0m26-22h0m4 1h0m8 17h0m21-15h0m19 20h0m24-1h0m-28 6h0m-4 14h0m-33-10h0m-18 12h0m-8-12h0m-31 22h0m-100 0h0m-23-4h0m-42-17h0m-34 19h0m-4-5h0m-17-19h0m-3 4h0m-6 18h0m-6-16h0m-1 20h0m-6-4h0m-33 21h0m63-6h0m12-3h0m7 5h0m19-3h0m56 8h0m1-8h0m82 19h0m37-20h0m9 0h0m3 8h0m3-7h0m12-7h0m3 4h0m34 14h0m3-16h0m9-3h0m16 17h0m2-16h0m23 14h0m19-5h0m0 9h0m6-10h0m5-10h0m8 28h0m1 12h0m-29 2h0m-88 3h0m0 8h0m-45-3h0m-9-15h0m-15 20h0m-22-17h0m-1 4h0m-25 3h0m-36 1h0m-33-2h0m-55-14h0m-47 10h0m-5 28h0m111 1h0m13 9h0m100 2h0m28-7h0m4-12h0m18 13h0m43-9h0m59 7h0m21-4h0m-16 38h0m-83 4h0m-9 0h0m-148-3h0m103 24h0m9-4h0m1 21h0m36-18h0m12 13h0m-44 13h0m-10 5h0m-33-5h0m-26 6h0m29 26h0m-10 31h0" stroke="#1D0E3C" stroke-width="15" stroke-linecap="round" fill="none"/><path transform="scale(.1)" d="M397 2607h0m75 27h0m-14-12h0m-48-2h0m-6 11h0m-42-14h0m-16-2h0m-7 6h0m-11 17h0m-51 13h0m10-5h0m17 6h0m7 7h0m36-1h0m2 3h0m0-13h0m0 21h0m87-26h0m14 12h0m48-14h0m53 10h0m15-1h0m17 1h0m1 17h0m12 4h0m-13 26h0m-6-16h0m-92-8h0m-10-1h0m-58 6h0m-32 6h0m-36-9h0m-7 18h0m-50-23h0m3 57h0m8-3h0m0 4h0m14-18h0m4-5h0m0 5h0m12-6h0m9 14h0m20-11h0m36 5h0m25 3h0m22 7h0m11-1h0m118-11h0m6 12h0m19-5h0m1 10h0m7-17h0m1 9h0m9 7h0m-2 31h0m-11-24h0m-19 25h0m-38-1h0m-3-27h0m-2 17h0m-16-14h0m-25 10h0m-19 11h0m-49 3h0m-4-11h0m-44-12h0m-8 18h0m-16-2h0m-56 7h0m-66-28h0m-24 1h0m-39 44h0m158 4h0m15 0h0m61-15h0m7 21h0m9-16h0m9-3h0m25-2h0m18 23h0m26-6h0m22 5h0m28-6h0m4-20h0m17 18h0m60 6h0m5 23h0m-3 9h0m-47-25h0m-10 24h0m-12-20h0m-48 22h0m-21-27h0m-26 8h0m-11 14h0m-2-3h0m-14-11h0m-9 15h0m-86-10h0m-102 13h0m-17-26h0m74 55h0m48-24h0m24 7h0m97 5h0m17-12h0m15 16h0m47 20h0m-9-4h0m-14 9h0m-1-12h0m-10 9h0m-23-1h0m-134 4h0m-16-5h0m-20-7h0m76 46h0m119 12h0m-77 3h0m-17 9h0m-115 52h0" stroke="#28114D" stroke-width="15" stroke-linecap="round" fill="none"/><path transform="scale(.1)" d="M389 2630h0m-11-6h0m-86 45h0m63-2h0m12-3h0m21-4h0m3-4h0m105 3h0m34 1h0m13-18h0m18 2h0m30 25h0m7 28h0m-1-20h0m-25 9h0m-10-9h0m-14 9h0m-30-5h0m-20 6h0m-37-1h0m-30 5h0m-40-8h0m-21-6h0m-33 16h0m-3-22h0m-27 7h0m-16 19h0m-76-6h0m49 32h0m60-8h0m8-10h0m3-3h0m27 18h0m26-13h0m21 7h0m36 11h0m8-16h0m18 16h0m26-10h0m19-10h0m1-1h0m34 5h0m2 5h0m12 12h0m48-5h0m13-8h0m12 39h0m-1 6h0m-32-1h0m-8-3h0m-79-24h0m-7 26h0m-2-9h0m-69-14h0m-25 16h0m-25-18h0m-48 20h0m-36-3h0m-61 7h0m-23-9h0m-40 21h0m29 14h0m43-19h0m2 22h0m61-6h0m30-7h0m20-6h0m4 14h0m23 5h0m8-3h0m20-6h0m4-1h0m6 6h0m2-4h0m5 4h0m21-8h0m3 17h0m19-12h0m9-9h0m22-8h0m29 3h0m50 2h0m31 5h0m9-8h0m-62 41h0m-73-10h0m-30 7h0m-72 18h0m-18-5h0m-29 1h0m-6-2h0m-11-21h0m-9 16h0m-2-7h0m-10-2h0m-34 3h0m-96 29h0m120-6h0m7 12h0m9-3h0m26 13h0m12-24h0m49 6h0m0 18h0m40-7h0m5-5h0m52 14h0m1-1h0m9-22h0m1 6h0m32-1h0m62 1h0m11 30h0m-46 7h0m-39-10h0m-16 5h0m-21 8h0m-1-18h0m-26 15h0m-26-14h0m-11 19h0m-27-23h0m-32 11h0m-56-8h0m49 32h0m66 12h0m0-10h0m82-1h0m17 17h0m-22 22h0m-80-4h0m-128 67h0" stroke="#3C155D" stroke-width="15" stroke-linecap="round" fill="none"/><path transform="scale(.1)" d="M477 2629h0m-102 27h0m62-3h0m4-1h0m3-10h0m71 21h0m27-19h0m0 7h0m68 25h0m-26 21h0m-10 0h0m-13-7h0m-60-8h0m-89 2h0m-96 44h0m26-27h0m96 27h0m41 1h0m55 0h0m8-11h0m21-8h0m48 0h0m32 47h0m-30-10h0m-263-4h0m-146 4h0m-12-2h0m-2 12h0m97 4h0m14 23h0m27 5h0m10-20h0m44-8h0m48 11h0m12 1h0m9 15h0m18-6h0m19 0h0m10 3h0m48-22h0m59 33h0m-36 21h0m-9-23h0m-15 22h0m-32-1h0m-24-19h0m-6 20h0m-15-9h0m-6-2h0m-6-14h0m-8 8h0m-65 7h0m-29 13h0m-2-29h0m-41 2h0m-2 20h0m0 2h0m-18-9h0m-35-2h0m-7-1h0m-8 6h0m-28-8h0m-5 17h0m78 3h0m22 8h0m9 5h0m4 4h0m1-10h0m2 12h0m80-4h0m71-9h0m8 10h0m33-16h0m2 16h0m2-2h0m19 10h0m0-18h0m67 8h0m18-9h0m-52 44h0m-18-8h0m-11-1h0m-4 16h0m-30 0h0m-33 3h0m-4-8h0m-3 7h0m-10-1h0m-10-7h0m-18-15h0m-34 15h0m-61 5h0m-3 1h0m-3 22h0m68-16h0m6 11h0m74-10h0m8-1h0m19 21h0m14-8h0m15-9h0m59 6h0m-64 18h0m-27 15h0m-42 9h0m-113-24h0m66 42h0m10-3h0m118-2h0" stroke="#52186D" stroke-width="15" stroke-linecap="round" fill="none"/><path transform="scale(.1)" d="M497 2631h0m-5-13h0m-53 17h0m-141 33h0m55 1h0m52-28h0m103 20h0m31 7h0m32-21h0m31 4h0m-189 30h0m-96 41h0m2-4h0m97-5h0m154-11h0m27 17h0m-121 31h0m-13 1h0m-27-14h0m-81 9h0m-29 7h0m-24-11h0m-18-10h0m-56 10h0m-39 20h0m5 11h0m21 14h0m19-2h0m2-8h0m63-10h0m96 12h0m47-9h0m44 16h0m78-17h0m26 20h0m-10 29h0m-33-5h0m-44 0h0m-1-11h0m-12-4h0m-31-4h0m-2 8h0m-23-4h0m-37-3h0m-76 14h0m-23-5h0m-67 10h0m-48-13h0m64 31h0m70-5h0m23 21h0m29-27h0m45 18h0m12 1h0m30 9h0m6-11h0m34 11h0m14-27h0m90 0h0m-34 57h0m-40-20h0m-14 2h0m-8 5h0m-22-3h0m-21 4h0m-15 7h0m-12-22h0m-27 18h0m-6 2h0m-7-20h0m-11 12h0m-36-7h0m0 2h0m-61-7h0m-44 21h0m-33 26h0m158-5h0m20 13h0m14-26h0m8 22h0m16-19h0m7 9h0m30-1h0m70 12h0m5-14h0m16 19h0m29-27h0m4 43h0m-79-8h0m-13-5h0m-68 6h0m-9 9h0m-10-3h0m-101-1h0m44 43h0m3-13h0m51-8h0m85-2h0m16 53h0m-119-16h0m-24-5h0m-63 46h0" stroke="#6F1E6B" stroke-width="15" stroke-linecap="round" fill="none"/><path transform="scale(.1)" d="M348 2609h0m165 26h0m-173 59h0m-8-19h0m125 84h0m-20-17h0m-4-1h0m-54-4h0m-80 11h0m-32 11h0m-16-12h0m-63 41h0m101-21h0m53 14h0m17 7h0m278 8h0m-81 9h0m-47 6h0m-101 6h0m-83 0h0m-6-8h0m-12-18h0m-30 26h0m-23-15h0m-7 3h0m-32 11h0m-39 7h0m60 10h0m27-9h0m22 19h0m5-7h0m21-11h0m6 16h0m82-17h0m44 23h0m7-14h0m54-3h0m34 2h0m37 2h0m41 26h0m-74-5h0m-23 19h0m-21-23h0m-9 21h0m-13 1h0m-18-21h0m-32 17h0m0-19h0m-5 3h0m-30 7h0m-33-10h0m-28 13h0m-2 12h0m-2-11h0m-16 2h0m-23-16h0m-53 7h0m-35 4h0m25 25h0m101 4h0m28 3h0m31-12h0m8 3h0m9 6h0m32 4h0m3 12h0m24-2h0m16-7h0m38 4h0m8-7h0m29 0h0m14-11h0m14 20h0m24-7h0m0 14h0m-78 2h0m-17 6h0m-1 0h0m-38 3h0m-28 9h0m-14-11h0m-2 4h0m-22 9h0m-75 28h0m6-3h0m47-15h0m18 13h0m66-5h0m-107 43h0m-16 6h0m-8-8h0m-7-5h0m-9 8h0m-2-8h0m-26-14h0m26 29h0m144 7h0m-80 44h0m-77-18h0m110 26h0" stroke="#8C2467" stroke-width="15" stroke-linecap="round" fill="none"/><path transform="scale(.1)" d="M598 2703h0m-406 67h0m44-10h0m4 25h0m266-19h0m5 23h0m29-24h0m72 11h0m9 10h0m6 25h0m-265-20h0m-83 14h0m-77 13h0m53 19h0m148 3h0m18-7h0m71 6h0m80-4h0m-45 38h0m-23-8h0m-83-6h0m-21 10h0m0-8h0m-39 17h0m-27-23h0m-5 18h0m-30-12h0m-23 6h0m-42-4h0m61 19h0m7-1h0m0 10h0m30 17h0m3 0h0m9-14h0m55 11h0m12 2h0m14-20h0m29-6h0m26 8h0m110 20h0m-96 6h0m-26 3h0m-31 4h0m-17 16h0m-16-26h0m-30 5h0m-2 0h0m-37 17h0m-8-1h0m-13 30h0m8-1h0m98 1h0m6 1h0m22-18h0m27 20h0m65-16h0m-43 28h0m-49-3h0m-15 12h0m-4 0h0m-4 3h0m-12-18h0m-45 2h0m-9 3h0m74 23h0m6 21h0m51-12h0m-57 22h0m-79 36h0" stroke="#AE3558" stroke-width="15" stroke-linecap="round" fill="none"/><path transform="scale(.1)" d="M203 2746h0m334 52h0m-46-3h0m-84 21h0m-223 27h0m90 6h0m31-28h0m55 1h0m189 37h0m-48 14h0m-26 6h0m-31-8h0m-166-21h0m-23 10h0m-60 31h0m106-1h0m91 1h0m2 10h0m1-7h0m9 7h0m2 8h0m6-17h0m23-4h0m18 20h0m70-2h0m56 28h0m-57 0h0m-19-2h0m-1-19h0m-4 15h0m-13-13h0m-18 4h0m-21 3h0m-34 11h0m-22-11h0m-14-8h0m-1 20h0m-33-23h0m-12 6h0m-9 8h0m-33 4h0m-27 31h0m20-11h0m61 3h0m30-8h0m14-4h0m4 12h0m11 3h0m46 7h0m14 5h0m33-9h0m5-2h0m-88 29h0m-71 11h0m-29-19h0m-1-6h0m16 33h0m37 4h0m2-2h0m0 11h0m117 6h0m-68 13h0m-2 19h0m-6 0h0m-11-19h0m-54 2h0m-7-7h0" stroke="#CB4A44" stroke-width="15" stroke-linecap="round" fill="none"/><path transform="scale(.1)" d="M294 2805h0m-73-7h0m43 42h0m24-4h0m65 13h0m16 0h0m-150 17h0m88 34h0m11-13h0m10 11h0m57-13h0m0 16h0m23-8h0m22 16h0m148-4h0m-42 26h0m-103 6h0m-2-10h0m-13-4h0m-18-4h0m-36 7h0m-41-10h0m-8 9h0m-19 12h0m48 15h0m80 7h0m13-3h0m25-5h0m41-1h0m11 21h0m-27-1h0m-3 29h0m-8-17h0m-28 8h0m-44-2h0m-16-15h0m-15 12h0m-12 8h0m-23-16h0m-7-3h0m-3 11h0m-24 10h0m9 14h0m19 1h0m4-3h0m15 12h0m57 5h0m68-23h0m-23 52h0m-7-14h0m-48 18h0m-10-8h0m-6 9h0m-5-16h0m-43-1h0m41 27h0m53-7h0m8 16h0m-22 15h0" stroke="#E2642E" stroke-width="15" stroke-linecap="round" fill="none"/><path transform="scale(.1)" d="M266 2846h0m282 11h0m-7 1h0m-217 19h0m-7-4h0m-95-20h0m-23 15h0m170 36h0m114-14h0m49 48h0m-100-17h0m-47-5h0m-15 21h0m-58-1h0m-12-16h0m-11 8h0m119 22h0m16 11h0m19 6h0m39-17h0m27 10h0m-97 19h0m-16 3h0m-76 36h0m11 2h0m38-10h0m62-8h0m16 22h0m26 14h0m-5-5h0m-22-2h0m-21 20h0m-65 8h0m-26-9h0m-5-11h0m-3 9h0m-2-3h0m8 21h0m37 3h0m11 8h0m20 1h0m40-16h0m1-1h0m9 24h0m0-7h0m19-15h0" stroke="#EE8422" stroke-width="15" stroke-linecap="round" fill="none"/><path transform="scale(.1)" d="M234 2870h0m10 24h0m285 60h0m-28 35h0m-67-7h0m-40-7h0m-9 24h0m-7-26h0m-83 15h0m13 35h0m24-21h0m21-2h0m2 2h0m10 4h0m24 5h0m16 5h0m5-7h0m18 10h0m4-5h0m4-5h0m39-2h0m-4 40h0m-53-14h0m-10 16h0m-3-2h0m-12-3h0m-24-1h0m-10-7h0m-4 11h0m-45-10h0m48 25h0m6 20h0m14-21h0m11 2h0m5 11h0m14 7h0m29-5h0m19 7h0m-46 13h0" stroke="#F4A129" stroke-width="15" stroke-linecap="round" fill="none"/><path transform="scale(.1)" d="M268 2783h0m1 118h0m43 1h0m163 8h0m-125 34h0m5 18h0m47-21h0m12 10h0m35-5h0m32 12h0m17 18h0m-21-5h0m-27 20h0m-7-18h0m-13 2h0m-16 8h0m-2 8h0m-3 3h0m-4-9h0m-1-6h0m-44 3h0m-25 12h0m-28-7h0m11 40h0m24-2h0m78 1h0m22 31h0m-3-18h0m-1 1h0m-7 14h0m-14-18h0m-1 4h0m-3-2h0m-11 18h0m-1-1h0m-28-11h0m-4 12h0m-1-14h0m-9 14h0m-4-22h0m-16 8h0m-5-3h0m-23-3h0m41 43h0m11 5h0m16-8h0m2 0h0m4 8h0m8-5h0m5 2h0m7-9h0m4-2h0m21-5h0m8-3h0m13 20h0m0-14h0m3-4h0m3 22h0m7-10h0m3 5h0" stroke="#F7BE3A" stroke-width="15" stroke-linecap="round" fill="none"/><rect x="13.40" y="258.40" width="52.00" height="51.60" fill="none" stroke="#555" stroke-width="0.5"/><line x1="12.60" y1="270.20" x2="13.40" y2="270.20" stroke="#555" stroke-width="0.3"/><text x="12.3" y="271.2" font-size="2.8" fill="#555" stroke="#555" stroke-width="0.08" text-anchor="end">20</text><line x1="12.60" y1="282.90" x2="13.40" y2="282.90" stroke="#555" stroke-width="0.3"/><text x="12.3" y="283.9" font-size="2.8" fill="#555" stroke="#555" stroke-width="0.08" text-anchor="end">0</text><line x1="12.60" y1="295.60" x2="13.40" y2="295.60" stroke="#555" stroke-width="0.3"/><text x="12.3" y="296.6" font-size="2.8" fill="#555" stroke="#555" stroke-width="0.08" text-anchor="end">−20</text><line x1="12.60" y1="308.30" x2="13.40" y2="308.30" stroke="#555" stroke-width="0.3"/><text x="12.3" y="309.3" font-size="2.8" fill="#555" stroke="#555" stroke-width="0.08" text-anchor="end">−40</text><line x1="16.30" y1="310.00" x2="16.30" y2="310.80" stroke="#555" stroke-width="0.3"/><text x="16.3" y="313.2" font-size="2.8" fill="#555" stroke="#555" stroke-width="0.08" text-anchor="middle">−30</text><line x1="25.10" y1="310.00" x2="25.10" y2="310.80" stroke="#555" stroke-width="0.3"/><text x="25.1" y="313.2" font-size="2.8" fill="#555" stroke="#555" stroke-width="0.08" text-anchor="middle">−20</text><line x1="33.90" y1="310.00" x2="33.90" y2="310.80" stroke="#555" stroke-width="0.3"/><text x="33.9" y="313.2" font-size="2.8" fill="#555" stroke="#555" stroke-width="0.08" text-anchor="middle">−10</text><line x1="42.70" y1="310.00" x2="42.70" y2="310.80" stroke="#555" stroke-width="0.3"/><text x="42.7" y="313.2" font-size="2.8" fill="#555" stroke="#555" stroke-width="0.08" text-anchor="middle">0</text><line x1="51.50" y1="310.00" x2="51.50" y2="310.80" stroke="#555" stroke-width="0.3"/><text x="51.5" y="313.2" font-size="2.8" fill="#555" stroke="#555" stroke-width="0.08" text-anchor="middle">10</text><line x1="60.30" y1="310.00" x2="60.30" y2="310.80" stroke="#555" stroke-width="0.3"/><text x="60.3" y="313.2" font-size="2.8" fill="#555" stroke="#555" stroke-width="0.08" text-anchor="middle">20</text><text x="40.9" y="316.2" font-size="2.6" fill="#333" stroke="#333" stroke-width="0.08" text-anchor="middle">tSNE_1</text><text x="7.4" y="283.9" font-size="2.6" fill="#333" stroke="#333" stroke-width="0.08" text-anchor="middle" transform="rotate(-90 7.4 283.9)">tSNE_2</text><text x="39.4" y="255.5" font-size="4.5" fill="#1a1a1a" stroke="#1a1a1a" stroke-width="0.12" text-anchor="middle">APOPTOSIS</text><rect x="68.30" y="280.10" width="2.10" height="0.97" fill="#F7BE3A" stroke="none" stroke-width="0.5"/><rect x="68.30" y="281.02" width="2.10" height="0.97" fill="#F39824" stroke="none" stroke-width="0.5"/><rect x="68.30" y="281.94" width="2.10" height="0.97" fill="#E66E2A" stroke="none" stroke-width="0.5"/><rect x="68.30" y="282.86" width="2.10" height="0.97" fill="#CB4A44" stroke="none" stroke-width="0.5"/><rect x="68.30" y="283.78" width="2.10" height="0.97" fill="#A32F5D" stroke="none" stroke-width="0.5"/><rect x="68.30" y="284.70" width="2.10" height="0.97" fill="#792069" stroke="none" stroke-width="0.5"/><rect x="68.30" y="285.62" width="2.10" height="0.97" fill="#52186D" stroke="none" stroke-width="0.5"/><rect x="68.30" y="286.54" width="2.10" height="0.97" fill="#351458" stroke="none" stroke-width="0.5"/><rect x="68.30" y="287.46" width="2.10" height="0.97" fill="#210F41" stroke="none" stroke-width="0.5"/><rect x="68.30" y="288.38" width="2.10" height="0.97" fill="#120A2A" stroke="none" stroke-width="0.5"/><text x="68.3" y="279.0" font-size="1.9" fill="#333" stroke="#333" stroke-width="0.04">AUC</text><text x="70.9" y="281.4" font-size="1.8" fill="#555" stroke="#555" stroke-width="0.04">0.1</text><text x="70.9" y="283.8" font-size="1.8" fill="#555" stroke="#555" stroke-width="0.04">0.2</text><text x="70.9" y="286.2" font-size="1.8" fill="#555" stroke="#555" stroke-width="0.04">0.3</text><text x="70.9" y="288.6" font-size="1.8" fill="#555" stroke="#555" stroke-width="0.04">0.4</text><text x="47.3" y="302.7" font-size="2.65" fill="#1a1a1a" stroke="#1a1a1a" stroke-width="0.08" text-anchor="middle">High Sqstm1&High Sox4</text><text x="46.1" y="285.0" font-size="2.65" fill="#1a1a1a" stroke="#1a1a1a" stroke-width="0.08" text-anchor="middle">High Sqstm1&Low Sox4</text><text x="43.7" y="271.0" font-size="2.65" fill="#1a1a1a" stroke="#1a1a1a" stroke-width="0.08" text-anchor="middle">High Amy2a/b</text><rect x="83.10" y="258.40" width="52.00" height="51.60" fill="#FFFFFF" stroke="none" stroke-width="0.5"/><line x1="86.00" y1="258.40" x2="86.00" y2="310.00" stroke="#DCDCDC" stroke-width="0.45"/><line x1="90.40" y1="258.40" x2="90.40" y2="310.00" stroke="#EDEDED" stroke-width="0.3"/><line x1="94.80" y1="258.40" x2="94.80" y2="310.00" stroke="#DCDCDC" stroke-width="0.45"/><line x1="99.20" y1="258.40" x2="99.20" y2="310.00" stroke="#EDEDED" stroke-width="0.3"/><line x1="103.60" y1="258.40" x2="103.60" y2="310.00" stroke="#DCDCDC" stroke-width="0.45"/><line x1="108.00" y1="258.40" x2="108.00" y2="310.00" stroke="#EDEDED" stroke-width="0.3"/><line x1="112.40" y1="258.40" x2="112.40" y2="310.00" stroke="#DCDCDC" stroke-width="0.45"/><line x1="116.80" y1="258.40" x2="116.80" y2="310.00" stroke="#EDEDED" stroke-width="0.3"/><line x1="121.20" y1="258.40" x2="121.20" y2="310.00" stroke="#DCDCDC" stroke-width="0.45"/><line x1="125.60" y1="258.40" x2="125.60" y2="310.00" stroke="#EDEDED" stroke-width="0.3"/><line x1="130.00" y1="258.40" x2="130.00" y2="310.00" stroke="#DCDCDC" stroke-width="0.45"/><line x1="134.40" y1="258.40" x2="134.40" y2="310.00" stroke="#EDEDED" stroke-width="0.3"/><line x1="83.10" y1="308.30" x2="135.10" y2="308.30" stroke="#DCDCDC" stroke-width="0.45"/><line x1="83.10" y1="301.95" x2="135.10" y2="301.95" stroke="#EDEDED" stroke-width="0.3"/><line x1="83.10" y1="295.60" x2="135.10" y2="295.60" stroke="#DCDCDC" stroke-width="0.45"/><line x1="83.10" y1="289.25" x2="135.10" y2="289.25" stroke="#EDEDED" stroke-width="0.3"/><line x1="83.10" y1="282.90" x2="135.10" y2="282.90" stroke="#DCDCDC" stroke-width="0.45"/><line x1="83.10" y1="276.55" x2="135.10" y2="276.55" stroke="#EDEDED" stroke-width="0.3"/><line x1="83.10" y1="270.20" x2="135.10" y2="270.20" stroke="#DCDCDC" stroke-width="0.45"/><line x1="83.10" y1="263.85" x2="135.10" y2="263.85" stroke="#EDEDED" stroke-width="0.3"/><path transform="scale(.1)" d="M1045 2609h0m63-3h0m59 2h0m108 30h0m-82-7h0m-19-6h0m-11-6h0m-7 0h0m-5-2h0m-38 11h0m-11 0h0m0-12h0m-13 23h0m-3-17h0m-11-11h0m-25 10h0m-2 7h0m-4-5h0m-4-6h0m-43 27h0m5 8h0m28-5h0m1 22h0m8-10h0m9 9h0m18-7h0m3 0h0m18-11h0m5 0h0m5 5h0m3-14h0m5 26h0m5-26h0m9 17h0m14-13h0m14 8h0m22 11h0m24 5h0m0-8h0m3 5h0m38-21h0m1 15h0m0 8h0m3-28h0m19 9h0m4 7h0m6-9h0m8 19h0m19 1h0m6-15h0m18 43h0m-37 2h0m-6-23h0m-7 14h0m-1-3h0m-10 5h0m-8-5h0m-6 4h0m-6-2h0m-24 2h0m-18-4h0m-5-6h0m-2-6h0m-8-3h0m-6 3h0m-16 13h0m0-12h0m-47 9h0m-2 2h0m-13-6h0m-11 5h0m-27-14h0m-4 27h0m0-17h0m-4-10h0m-3 4h0m-5 21h0m-2-4h0m-3 3h0m-2-2h0m-20-14h0m-12 1h0m-47-7h0m-11 7h0m-9 17h0m-18-11h0m-6 7h0m6 12h0m61 4h0m24-1h0m12 21h0m1-18h0m13-2h0m1-2h0m2 0h0m6 13h0m131 8h0m1-10h0m8-17h0m1 7h0m1-4h0m7 8h0m3 6h0m9-12h0m18 1h0m15-3h0m10 1h0m21 21h0m10-24h0m5 19h0m2 0h0m15 9h0m1-24h0m8 5h0m1-1h0m0 9h0m21-18h0m6 28h0m0 23h0m-19 8h0m-2-11h0m0-3h0m-1 0h0m-11-12h0m-54 23h0m-5-21h0m-21 10h0m-38 5h0m-9-1h0m-38-9h0m-37-5h0m-16 0h0m-4 4h0m-11 8h0m-8 4h0m-6-9h0m-6-2h0m-47-8h0m-16 3h0m-59 3h0m107 36h0m7-5h0m2 18h0m39 2h0m35-3h0m7-15h0m3-4h0m7-3h0m1 25h0m3-9h0m36 7h0m3 1h0m24-15h0m4-7h0m22 18h0m19-22h0m18 7h0m36 17h0m10-13h0m28-12h0m-23 49h0m-8-5h0m-17-15h0m-22 28h0m-14-15h0m-27 4h0m-11 10h0m-28-22h0m-18 11h0m-11 4h0m-81 2h0m-27 5h0m111 21h0m139-17h0m-47 42h0m-10-11h0m-33 9h0m-53-8h0m-4-1h0" stroke="#120A2A" stroke-width="15" stroke-linecap="round" fill="none"/><path transform="scale(.1)" d="M1095 2606h0m137 22h0m-35 7h0m-6-19h0m-9 19h0m-46-2h0m-13-11h0m-30 14h0m-9-6h0m-22-19h0m-3 14h0m-26 1h0m-77 38h0m50-22h0m21 4h0m16 13h0m0-2h0m3-17h0m1 22h0m33 1h0m4-5h0m13-13h0m37 6h0m76 13h0m20-2h0m7-16h0m6 11h0m57 13h0m-28 10h0m0-9h0m-25 4h0m-13 3h0m-9 3h0m-51-10h0m-31 9h0m-67 19h0m-10-21h0m-114-1h0m-30 2h0m-10 10h0m-13 28h0m18-3h0m43 9h0m1 1h0m12-15h0m44 9h0m5-12h0m38 13h0m1-10h0m12 1h0m69 16h0m31-14h0m22 1h0m36-3h0m1 4h0m20-10h0m8 3h0m34 14h0m13-14h0m7 18h0m1-9h0m1-5h0m19 14h0m-4 33h0m-4 1h0m-29-24h0m-3-2h0m-70 4h0m-4 17h0m-56-21h0m-4 21h0m-15 0h0m-4-24h0m-3 3h0m-6 23h0m-4-13h0m-5-4h0m-1 19h0m-29-19h0m-7-8h0m-126 3h0m-48-1h0m-12 0h0m-2 14h0m145 23h0m36-9h0m25 13h0m87 11h0m30-9h0m30-4h0m77 12h0m-75 10h0m-10 24h0m-43-18h0m-13-4h0m-37-4h0m-50 10h0m-7-6h0m-36-5h0m65 49h0m35 8h0m18 0h0m33-20h0m8 4h0m21-7h0m63 10h0m-219 19h0" stroke="#1D0E3C" stroke-width="15" stroke-linecap="round" fill="none"/><path transform="scale(.1)" d="M1230 2629h0m-63-9h0m-29 18h0m-12-21h0m-66-1h0m-24 4h0m-10 18h0m-39 9h0m20 10h0m42-1h0m1 11h0m24-23h0m1 14h0m14 0h0m50-7h0m9 5h0m46-16h0m9 23h0m25-17h0m24-4h0m25 26h0m0-17h0m-48 42h0m-10-23h0m-10 18h0m-81 2h0m-38-8h0m-1 4h0m-49 11h0m-6-11h0m-5-8h0m-4 14h0m-36 4h0m-11-9h0m-50 2h0m72 34h0m3-17h0m12 4h0m18 0h0m4-9h0m19 22h0m11-13h0m18-10h0m28 13h0m8 5h0m8 2h0m12 2h0m70-20h0m2 21h0m25-6h0m7 1h0m4-15h0m20 14h0m12 3h0m14-3h0m16 7h0m10-12h0m4 1h0m-84 38h0m-20-17h0m-7-2h0m-9 2h0m-7 8h0m-62-11h0m-3 13h0m-4 4h0m-18-1h0m-36 4h0m-36 4h0m-42-9h0m-2-15h0m-16 3h0m-8-2h0m-35-2h0m-23 35h0m125 5h0m10 8h0m3 11h0m11-21h0m16 1h0m40 6h0m14 3h0m15 2h0m5-10h0m23 3h0m12-4h0m1 11h0m12-3h0m19 6h0m52-23h0m31 0h0m21 10h0m16 38h0m-4-11h0m-57 18h0m0 4h0m-42-22h0m-51 2h0m-1 1h0m-4 18h0m-20-28h0m-3 12h0m-3-7h0m-2 8h0m-8-3h0m-10 13h0m-107-23h0m-18 9h0m44 48h0m56-26h0m36 11h0m27-1h0m7-3h0m22 3h0m33 1h0m95-4h0m-107 29h0m-29 12h0m-88 4h0m-7-6h0m-52-5h0m-20 11h0m-2-23h0m105 41h0m47-9h0m62-2h0m-14 32h0m-19 7h0m-78 1h0m-25-7h0" stroke="#28114D" stroke-width="15" stroke-linecap="round" fill="none"/><path transform="scale(.1)" d="M1167 2635h0m-20-24h0m-14 13h0m-23-4h0m-14-4h0m-8 16h0m-55-5h0m-59 19h0m3 4h0m6 15h0m12 1h0m17-23h0m32 25h0m19-3h0m50 3h0m28-28h0m50 12h0m32-7h0m12 14h0m12-7h0m13-1h0m0-11h0m21 22h0m19 5h0m-6 12h0m-1-6h0m-9 5h0m0-8h0m0 28h0m-3 0h0m-9-6h0m-14-15h0m-45-3h0m-4-1h0m-2 4h0m-7 2h0m-9-9h0m-75 11h0m-109 16h0m-32-3h0m-9-22h0m-15 22h0m17 15h0m16 17h0m28-6h0m8-6h0m30-10h0m44 10h0m0-4h0m2 4h0m53-3h0m60-7h0m6 8h0m34 1h0m1-7h0m39 53h0m-6-2h0m-25 1h0m-51-14h0m-32 9h0m-20 6h0m-23-25h0m-35 6h0m-74 14h0m-27-14h0m-16-8h0m-63-1h0m122 51h0m33-4h0m6-2h0m16 4h0m0 2h0m61-17h0m7 16h0m15-7h0m6-14h0m27 1h0m43 2h0m20 18h0m28-11h0m11-10h0m3 27h0m14-23h0m-5 47h0m-117 4h0m0-5h0m-12 3h0m-52-16h0m-11-2h0m-37 20h0m-19-21h0m-9 11h0m-58-13h0m-56 7h0m32 22h0m30 6h0m8 11h0m30-17h0m44 2h0m3 24h0m9-8h0m34 1h0m6-20h0m21 13h0m8 3h0m18 10h0m13-22h0m28 20h0m86-19h0m-8 36h0m-66 6h0m-2-9h0m-17 4h0m-42 13h0m-1-23h0m-57 1h0m-3-1h0m-4-2h0m-6 7h0m-2-3h0m-54 21h0m36 8h0m107 19h0m62-22h0m14 2h0m-114 36h0m-95-1h0m-33-4h0" stroke="#3C155D" stroke-width="15" stroke-linecap="round" fill="none"/><path transform="scale(.1)" d="M1211 2637h0m-61-12h0m-46-7h0m-28 7h0m-27 23h0m17 21h0m9-24h0m15 1h0m15 9h0m172-4h0m1-2h0m7 19h0m5-13h0m15 0h0m1 18h0m-13 26h0m-24 0h0m-152-27h0m-129-2h0m-12 28h0m-57-12h0m20 15h0m79 6h0m16-5h0m24 7h0m27-1h0m70 12h0m73 9h0m42-26h0m17 18h0m29-2h0m25 40h0m-26-22h0m-7 4h0m-14 13h0m-92-9h0m-23 3h0m0 0h0m-6 3h0m-6 1h0m-6 7h0m-26-17h0m-35 1h0m-39 10h0m-27-8h0m-30 13h0m-3-10h0m-19 9h0m-41-27h0m-14 10h0m-6 9h0m-26-18h0m102 37h0m36 9h0m14 4h0m53-1h0m8-16h0m19 10h0m3 5h0m6-4h0m3-6h0m3 0h0m26 7h0m29 8h0m55-4h0m36-15h0m21 13h0m0 10h0m-46 11h0m-9 7h0m-28-9h0m-16-7h0m-104 24h0m-26-7h0m-17 12h0m-4-27h0m-10 11h0m-19 10h0m-6-21h0m-2 23h0m-2-5h0m-1-3h0m-2-10h0m-62 6h0m62 23h0m3 11h0m80 3h0m19-11h0m19 19h0m9-13h0m24-6h0m33 9h0m21 3h0m2 8h0m42-13h0m-2 36h0m-23-16h0m-35 7h0m-13-13h0m-17 11h0m-32 8h0m-9-10h0m0 14h0m-49-1h0m-62 28h0m68-17h0m5 13h0m0-5h0m10 17h0m20-10h0m13-8h0m4 10h0m36-10h0m28 14h0m23-15h0m55 4h0m-4 31h0m-80 1h0m-80-14h0m-29 44h0" stroke="#52186D" stroke-width="15" stroke-linecap="round" fill="none"/><path transform="scale(.1)" d="M1149 2611h0m-159 57h0m60 0h0m185-20h0m-19 48h0m-1-16h0m-80 9h0m-26-4h0m-127 29h0m32-12h0m91 12h0m27 15h0m45-1h0m18-20h0m12-7h0m5 1h0m26 8h0m35 0h0m63 31h0m-29 3h0m-10-2h0m-88 14h0m-30-3h0m-139-4h0m-12-1h0m-87 4h0m-6 6h0m-6-17h0m-40 26h0m35 1h0m41-8h0m164 14h0m43 11h0m11 0h0m15-11h0m39-8h0m2-3h0m1 0h0m62 31h0m-17-3h0m-37 25h0m-50-3h0m-5-23h0m-32 10h0m-36 16h0m-79-20h0m-10 14h0m-21-4h0m-8 6h0m-17-7h0m-18 13h0m-39 17h0m28 3h0m23 1h0m14-12h0m2-6h0m5 4h0m34 22h0m60-22h0m1 10h0m1 13h0m2-28h0m148 20h0m66 15h0m-51 16h0m-25-8h0m-3-7h0m-23 19h0m-15-8h0m-3 6h0m-14-16h0m-19 13h0m-37 5h0m-6-4h0m-29-20h0m-12 11h0m-52 2h0m-12 10h0m-86-16h0m-32 2h0m134 49h0m57-19h0m0-5h0m34-1h0m5 4h0m3 3h0m78-7h0m37 10h0m32 11h0m-77 10h0m-72 13h0m-26 13h0m38 29h0m-57 3h0m12 102h0" stroke="#6F1E6B" stroke-width="15" stroke-linecap="round" fill="none"/><path transform="scale(.1)" d="M1239 2649h0m23 24h0m-226 49h0m73 7h0m184-16h0m-176 22h0m-233 27h0m72 24h0m8-6h0m35 3h0m17-2h0m55-2h0m110 0h0m142-12h0m9 48h0m-68-11h0m-46 11h0m-25-23h0m-23 9h0m-12 7h0m-63 10h0m-51-5h0m-38 1h0m-1-21h0m-11 13h0m-52-4h0m-34 0h0m-28-2h0m64 31h0m124 18h0m28-3h0m94-24h0m18-2h0m66 17h0m39 22h0m-76-4h0m-6 4h0m-7 14h0m-25-8h0m-23 13h0m-3-18h0m-4 11h0m-9-2h0m-17 5h0m-6-19h0m-23 10h0m-17 7h0m-8-12h0m-8 19h0m-49-26h0m-3 22h0m-22-10h0m-12-7h0m-102 10h0m-4 24h0m102-9h0m5 8h0m8 12h0m17-12h0m7 18h0m12-18h0m11 0h0m35 18h0m18-13h0m4 3h0m39 8h0m2-25h0m8 9h0m16 6h0m48 8h0m11-16h0m31-7h0m35 12h0m-71 44h0m-29-25h0m-61 16h0m-14-9h0m-1 0h0m-21 4h0m-70 9h0m-18-7h0m30 27h0m9 10h0m23-22h0m7-1h0m102 7h0m-40 42h0m-78-13h0m-35 16h0m-5-9h0m-3 1h0m-34 1h0m30 33h0m4 29h0" stroke="#8C2467" stroke-width="15" stroke-linecap="round" fill="none"/><path transform="scale(.1)" d="M1218 2751h0m-40-9h0m-278 5h0m-14 8h0m22 26h0m30 4h0m15-23h0m32 7h0m164 17h0m8-13h0m54-3h0m6 40h0m-161 9h0m-12-5h0m-52-8h0m-19-5h0m-11 44h0m18 1h0m33-5h0m24 8h0m16-25h0m2 24h0m20-20h0m116 21h0m24-19h0m1 6h0m21-4h0m-23 27h0m-9 14h0m0-18h0m-29-1h0m-79 3h0m-38 5h0m-13-3h0m-4-2h0m-6 17h0m-10 2h0m-54-26h0m-42 20h0m113 38h0m25-5h0m25-7h0m8-3h0m5 15h0m5-16h0m9-4h0m8 12h0m48-9h0m15-6h0m24 13h0m7-4h0m57 9h0m-31 7h0m-15 19h0m-10-19h0m-5 25h0m-27-18h0m-51-6h0m-7 10h0m-19 2h0m-16-2h0m-27-5h0m-45-1h0m-24 11h0m7 38h0m62-23h0m38 9h0m93 0h0m36-1h0m-138 39h0m-17-5h0m-97-12h0m45 32h0m100-2h0m4 8h0m-7 21h0m-13 3h0m-14 25h0m-26 0h0m-52-19h0m54 36h0m7 10h0" stroke="#AE3558" stroke-width="15" stroke-linecap="round" fill="none"/><path transform="scale(.1)" d="M1000 2645h0m-112 100h0m-3 42h0m44 1h0m7-8h0m11 19h0m-8 6h0m-10 6h0m-11-13h0m-6 18h0m-7 2h0m-27 25h0m126 3h0m1-12h0m10-3h0m175 7h0m6 9h0m106-15h0m-110 29h0m-35 16h0m-86-17h0m-52 18h0m-34-27h0m-70 16h0m-11 34h0m178 0h0m11-2h0m3 8h0m4-5h0m54-20h0m15 26h0m51-2h0m12-5h0m-37 24h0m-4-14h0m-25 6h0m-1 6h0m-6 11h0m-16-9h0m-23-4h0m-39-4h0m-21 7h0m-35 12h0m-44 12h0m38 15h0m29-9h0m71-6h0m5 16h0m20-17h0m16 21h0m3-15h0m10 14h0m7-18h0m4 19h0m7-7h0m47-11h0m-43 27h0m-22 5h0m-138-4h0m138 61h0m-75 19h0m-39-3h0m11 11h0m38 26h0" stroke="#CB4A44" stroke-width="15" stroke-linecap="round" fill="none"/><path transform="scale(.1)" d="M947 2748h0m-69 16h0m14 12h0m37 12h0m5-13h0m-35 43h0m-28 3h0m131 5h0m175 47h0m-12 4h0m-144-13h0m-25 15h0m-12-29h0m-65 38h0m76-1h0m17 12h0m48-13h0m4 7h0m19-10h0m53 25h0m22-2h0m24-24h0m119 28h0m-25 24h0m-81-4h0m-64-8h0m-3 15h0m-8-17h0m-11 13h0m-91-7h0m-8 12h0m-26-9h0m53 23h0m10-8h0m63 6h0m6 12h0m7-3h0m23-10h0m47 8h0m17 17h0m-9 16h0m-56-15h0m-16 8h0m-19-10h0m-17 7h0m-24 5h0m-11-5h0m-2-1h0m-1 17h0m-17 0h0m-12-25h0m-18 0h0m-9 26h0m-6-8h0m64 22h0m6 8h0m44 6h0m21-4h0m8-1h0m-25 37h0m-103-19h0m39 29h0m60 14h0m30-19h0m10 15h0m-39 20h0" stroke="#E2642E" stroke-width="15" stroke-linecap="round" fill="none"/><path transform="scale(.1)" d="M913 2787h0m64 18h0m-31 9h0m-67 14h0m110 6h0m23 1h0m231 23h0m-72 20h0m-77-7h0m-57-12h0m-23-6h0m-41-2h0m-24 8h0m78 39h0m174 33h0m-69-10h0m-19 6h0m-42-11h0m-3 22h0m-23 27h0m43-15h0m10 5h0m4-8h0m2 4h0m12-9h0m5 18h0m18 6h0m6-5h0m28 6h0m4-8h0m28 2h0m20-9h0m-30 25h0m-22 22h0m-42-14h0m-27-8h0m-1 10h0m-28-14h0m-17 0h0m-42 13h0m-6-15h0m59 38h0m61-9h0m52 2h0m-16 45h0m-57 8h0m-9 0h0m-46-8h0m-15-8h0m-5 4h0m-21-13h0m-8 4h0m45 45h0m29-2h0m26-5h0m21-7h0m6 11h0m3-15h0m17 22h0m0-16h0m9 11h0" stroke="#EE8422" stroke-width="15" stroke-linecap="round" fill="none"/><path transform="scale(.1)" d="M984 2760h0m-13 104h0m-39-4h0m38 43h0m45-17h0m211 19h0m62 7h0m-84 5h0m-130 16h0m-54-19h0m-36 17h0m-26 29h0m163 30h0m-11 3h0m-27 6h0m-28-7h0m-48-12h0m-3 8h0m-6 33h0m9 1h0m8-20h0m19 5h0m14 12h0m2-19h0m4 3h0m33 9h0m14 2h0m43 14h0m24-22h0m-4 27h0m-20 7h0m-7 1h0m-9 14h0m-5-6h0m-1 10h0m-9-25h0m-30 16h0m-4 9h0m-4-7h0m-1-11h0m-7 0h0m-18-6h0m-21 7h0m-7 4h0m-21-13h0m57 28h0m40 18h0m43-19h0m6 26h0m21-23h0" stroke="#F4A129" stroke-width="15" stroke-linecap="round" fill="none"/><path transform="scale(.1)" d="M872 2776h0m80 58h0m8-7h0m-20 48h0m-22-21h0m20 40h0m244 19h0m-80 17h0m-18-8h0m-87-1h0m-2 13h0m32 26h0m5-5h0m104 1h0m22-5h0m44 46h0m-55-6h0m-21-17h0m-1 13h0m-14-5h0m-2 5h0m-2 7h0m-1-15h0m-16-6h0m-51 23h0m-8-5h0m-13 4h0m-8 15h0m14-7h0m3 5h0m1 12h0m1 9h0m11-4h0m23-19h0m0 1h0m41 2h0m13 16h0m13-11h0m13 11h0m14-19h0m21 16h0m9-16h0m-38 47h0m-14-12h0m-23 0h0m-3-4h0m-2 4h0m-2 10h0m-2 5h0m-1-9h0m-10-8h0m-1 4h0m-23 3h0m-3-3h0m-3 12h0m-4-17h0m-27 12h0m-2-11h0m3 31h0m21-10h0m8 24h0m0-2h0m3-10h0m10 4h0m10-14h0m4 11h0m2 10h0m13-8h0m29 3h0m2-18h0m14 11h0m3 17h0m1-7h0m13-2h0" stroke="#F7BE3A" stroke-width="15" stroke-linecap="round" fill="none"/><rect x="83.10" y="258.40" width="52.00" height="51.60" fill="none" stroke="#555" stroke-width="0.5"/><line x1="82.30" y1="270.20" x2="83.10" y2="270.20" stroke="#555" stroke-width="0.3"/><text x="82.0" y="271.2" font-size="2.8" fill="#555" stroke="#555" stroke-width="0.08" text-anchor="end">20</text><line x1="82.30" y1="282.90" x2="83.10" y2="282.90" stroke="#555" stroke-width="0.3"/><text x="82.0" y="283.9" font-size="2.8" fill="#555" stroke="#555" stroke-width="0.08" text-anchor="end">0</text><line x1="82.30" y1="295.60" x2="83.10" y2="295.60" stroke="#555" stroke-width="0.3"/><text x="82.0" y="296.6" font-size="2.8" fill="#555" stroke="#555" stroke-width="0.08" text-anchor="end">−20</text><line x1="82.30" y1="308.30" x2="83.10" y2="308.30" stroke="#555" stroke-width="0.3"/><text x="82.0" y="309.3" font-size="2.8" fill="#555" stroke="#555" stroke-width="0.08" text-anchor="end">−40</text><line x1="86.00" y1="310.00" x2="86.00" y2="310.80" stroke="#555" stroke-width="0.3"/><text x="86.0" y="313.2" font-size="2.8" fill="#555" stroke="#555" stroke-width="0.08" text-anchor="middle">−30</text><line x1="94.80" y1="310.00" x2="94.80" y2="310.80" stroke="#555" stroke-width="0.3"/><text x="94.8" y="313.2" font-size="2.8" fill="#555" stroke="#555" stroke-width="0.08" text-anchor="middle">−20</text><line x1="103.60" y1="310.00" x2="103.60" y2="310.80" stroke="#555" stroke-width="0.3"/><text x="103.6" y="313.2" font-size="2.8" fill="#555" stroke="#555" stroke-width="0.08" text-anchor="middle">−10</text><line x1="112.40" y1="310.00" x2="112.40" y2="310.80" stroke="#555" stroke-width="0.3"/><text x="112.4" y="313.2" font-size="2.8" fill="#555" stroke="#555" stroke-width="0.08" text-anchor="middle">0</text><line x1="121.20" y1="310.00" x2="121.20" y2="310.80" stroke="#555" stroke-width="0.3"/><text x="121.2" y="313.2" font-size="2.8" fill="#555" stroke="#555" stroke-width="0.08" text-anchor="middle">10</text><line x1="130.00" y1="310.00" x2="130.00" y2="310.80" stroke="#555" stroke-width="0.3"/><text x="130.0" y="313.2" font-size="2.8" fill="#555" stroke="#555" stroke-width="0.08" text-anchor="middle">20</text><text x="110.6" y="316.2" font-size="2.6" fill="#333" stroke="#333" stroke-width="0.08" text-anchor="middle">tSNE_1</text><text x="77.1" y="283.9" font-size="2.6" fill="#333" stroke="#333" stroke-width="0.08" text-anchor="middle" transform="rotate(-90 77.1 283.9)">tSNE_2</text><text x="109.1" y="255.5" font-size="4.5" fill="#1a1a1a" stroke="#1a1a1a" stroke-width="0.12" text-anchor="middle">OXIDATIVE_PHOSPHORYLATION</text><rect x="138.00" y="280.10" width="2.10" height="0.97" fill="#F7BE3A" stroke="none" stroke-width="0.5"/><rect x="138.00" y="281.02" width="2.10" height="0.97" fill="#F39824" stroke="none" stroke-width="0.5"/><rect x="138.00" y="281.94" width="2.10" height="0.97" fill="#E66E2A" stroke="none" stroke-width="0.5"/><rect x="138.00" y="282.86" width="2.10" height="0.97" fill="#CB4A44" stroke="none" stroke-width="0.5"/><rect x="138.00" y="283.78" width="2.10" height="0.97" fill="#A32F5D" stroke="none" stroke-width="0.5"/><rect x="138.00" y="284.70" width="2.10" height="0.97" fill="#792069" stroke="none" stroke-width="0.5"/><rect x="138.00" y="285.62" width="2.10" height="0.97" fill="#52186D" stroke="none" stroke-width="0.5"/><rect x="138.00" y="286.54" width="2.10" height="0.97" fill="#351458" stroke="none" stroke-width="0.5"/><rect x="138.00" y="287.46" width="2.10" height="0.97" fill="#210F41" stroke="none" stroke-width="0.5"/><rect x="138.00" y="288.38" width="2.10" height="0.97" fill="#120A2A" stroke="none" stroke-width="0.5"/><text x="138.0" y="279.0" font-size="1.9" fill="#333" stroke="#333" stroke-width="0.04">AUC</text><text x="140.6" y="281.4" font-size="1.8" fill="#555" stroke="#555" stroke-width="0.04">0.1</text><text x="140.6" y="283.8" font-size="1.8" fill="#555" stroke="#555" stroke-width="0.04">0.2</text><text x="140.6" y="286.2" font-size="1.8" fill="#555" stroke="#555" stroke-width="0.04">0.3</text><text x="140.6" y="288.6" font-size="1.8" fill="#555" stroke="#555" stroke-width="0.04">0.4</text><text x="117.0" y="302.7" font-size="2.65" fill="#1a1a1a" stroke="#1a1a1a" stroke-width="0.08" text-anchor="middle">High Sqstm1&High Sox4</text><text x="115.8" y="285.0" font-size="2.65" fill="#1a1a1a" stroke="#1a1a1a" stroke-width="0.08" text-anchor="middle">High Sqstm1&Low Sox4</text><text x="113.4" y="271.0" font-size="2.65" fill="#1a1a1a" stroke="#1a1a1a" stroke-width="0.08" text-anchor="middle">High Amy2a/b</text><rect x="152.80" y="258.40" width="52.00" height="51.60" fill="#FFFFFF" stroke="none" stroke-width="0.5"/><line x1="155.70" y1="258.40" x2="155.70" y2="310.00" stroke="#DCDCDC" stroke-width="0.45"/><line x1="160.10" y1="258.40" x2="160.10" y2="310.00" stroke="#EDEDED" stroke-width="0.3"/><line x1="164.50" y1="258.40" x2="164.50" y2="310.00" stroke="#DCDCDC" stroke-width="0.45"/><line x1="168.90" y1="258.40" x2="168.90" y2="310.00" stroke="#EDEDED" stroke-width="0.3"/><line x1="173.30" y1="258.40" x2="173.30" y2="310.00" stroke="#DCDCDC" stroke-width="0.45"/><line x1="177.70" y1="258.40" x2="177.70" y2="310.00" stroke="#EDEDED" stroke-width="0.3"/><line x1="182.10" y1="258.40" x2="182.10" y2="310.00" stroke="#DCDCDC" stroke-width="0.45"/><line x1="186.50" y1="258.40" x2="186.50" y2="310.00" stroke="#EDEDED" stroke-width="0.3"/><line x1="190.90" y1="258.40" x2="190.90" y2="310.00" stroke="#DCDCDC" stroke-width="0.45"/><line x1="195.30" y1="258.40" x2="195.30" y2="310.00" stroke="#EDEDED" stroke-width="0.3"/><line x1="199.70" y1="258.40" x2="199.70" y2="310.00" stroke="#DCDCDC" stroke-width="0.45"/><line x1="204.10" y1="258.40" x2="204.10" y2="310.00" stroke="#EDEDED" stroke-width="0.3"/><line x1="152.80" y1="308.30" x2="204.80" y2="308.30" stroke="#DCDCDC" stroke-width="0.45"/><line x1="152.80" y1="301.95" x2="204.80" y2="301.95" stroke="#EDEDED" stroke-width="0.3"/><line x1="152.80" y1="295.60" x2="204.80" y2="295.60" stroke="#DCDCDC" stroke-width="0.45"/><line x1="152.80" y1="289.25" x2="204.80" y2="289.25" stroke="#EDEDED" stroke-width="0.3"/><line x1="152.80" y1="282.90" x2="204.80" y2="282.90" stroke="#DCDCDC" stroke-width="0.45"/><line x1="152.80" y1="276.55" x2="204.80" y2="276.55" stroke="#EDEDED" stroke-width="0.3"/><line x1="152.80" y1="270.20" x2="204.80" y2="270.20" stroke="#DCDCDC" stroke-width="0.45"/><line x1="152.80" y1="263.85" x2="204.80" y2="263.85" stroke="#EDEDED" stroke-width="0.3"/><path transform="scale(.1)" d="M1970 2638h0m-60-1h0m-15-1h0m-6-4h0m-1-16h0m-42-4h0m-12 25h0m-41-20h0m-7 14h0m-4-9h0m-1 7h0m-12-19h0m-10 7h0m-13 9h0m-8-11h0m-6 12h0m-29 12h0m-35 10h0m12 16h0m1-18h0m13-2h0m15 0h0m33 24h0m1-28h0m1 7h0m4 9h0m0 11h0m14-3h0m2-6h0m11-12h0m1 17h0m6-5h0m2-9h0m0 5h0m10 1h0m4-14h0m6 13h0m1 13h0m10 1h0m17-17h0m12 3h0m22 9h0m53 5h0m1-23h0m5-2h0m1 16h0m4 0h0m2 9h0m0-20h0m2 13h0m3-21h0m1 18h0m17-19h0m11 8h0m8 4h0m2 9h0m1-10h0m17 1h0m2 16h0m22 28h0m-12-20h0m-51 16h0m-12-2h0m-32 4h0m-7-19h0m-13-5h0m-2 17h0m-4-6h0m0-7h0m-30 10h0m-1-8h0m-15 5h0m-31 0h0m-3 5h0m-9-6h0m-34-10h0m-6 0h0m-20 21h0m-14 3h0m-23-16h0m-26 21h0m-12-23h0m-10 3h0m-9-3h0m-13 17h0m-1-4h0m-7-10h0m-4 7h0m-8 1h0m8 15h0m40 22h0m5-14h0m15 19h0m2-17h0m16 14h0m13-5h0m4-18h0m9 5h0m4 0h0m6-6h0m3-1h0m15 2h0m9 5h0m73 20h0m15-19h0m5 13h0m16 3h0m1-8h0m0-4h0m10-7h0m1-3h0m14 7h0m3-6h0m8-1h0m3 0h0m3 2h0m4 2h0m11-4h0m2 10h0m15-11h0m0 18h0m6-13h0m9 1h0m11 4h0m1 5h0m7 2h0m3 2h0m4-2h0m9 1h0m11-10h0m13 2h0m0 9h0m13 31h0m-16-16h0m-5 23h0m-2-12h0m-12-17h0m-7 28h0m-32-1h0m-18-24h0m-12-2h0m-5 2h0m-18 12h0m-4 1h0m-17 12h0m-7-15h0m-2 10h0m-9-17h0m-33-4h0m0 3h0m-5 5h0m-13-7h0m-8-1h0m-8 9h0m-1-1h0m-20 0h0m-14 8h0m-4 7h0m-28-11h0m-31-12h0m-20 3h0m-11-3h0m-35 0h0m-21 0h0m16 56h0m86-9h0m19-11h0m4 0h0m8 12h0m1-3h0m32-11h0m11 17h0m6-3h0m17 5h0m9-24h0m3 6h0m10 14h0m2-9h0m15 0h0m1-7h0m5 7h0m14 15h0m1-2h0m49 0h0m18-22h0m0-3h0m48 3h0m11 7h0m11 6h0m9-7h0m9-7h0m3-2h0m-54 57h0m-64-10h0m-15 5h0m-2 2h0m-18 4h0m-18-20h0m-3 4h0m-16 0h0m-36 13h0m-4 2h0m-44-27h0m-33 1h0m-17 7h0m43 25h0m46-1h0m99 27h0m11-29h0m45 23h0m20-8h0m30-4h0m24-2h0m-96 31h0m-1 4h0m-122 32h0" stroke="#120A2A" stroke-width="15" stroke-linecap="round" fill="none"/><path transform="scale(.1)" d="M1743 2608h0m136 27h0m-12-2h0m-2-22h0m-11 11h0m-55 7h0m-43-7h0m-23-1h0m-77 42h0m16-12h0m32 9h0m30-2h0m10 3h0m26-14h0m17-1h0m4 1h0m23 11h0m16-14h0m7-2h0m10 14h0m43 3h0m48-10h0m11-6h0m7 11h0m16-3h0m2 18h0m12-13h0m14 12h0m-17 3h0m-5 27h0m-3-1h0m-5-7h0m-1-16h0m-26 1h0m-19 19h0m-4-12h0m-11-2h0m-5-4h0m-1 11h0m-117-3h0m-44-7h0m-3 17h0m-52-24h0m-39 24h0m-36-2h0m-15 27h0m15-4h0m46 6h0m15-11h0m63 10h0m17-12h0m37 5h0m3-1h0m97 0h0m102 3h0m3 5h0m6-4h0m10 0h0m19 11h0m-34 5h0m-53 25h0m-40-23h0m-28 18h0m-7-5h0m-12 6h0m-24-21h0m-1 7h0m-4 10h0m-21-3h0m-15-6h0m-35 8h0m-13-6h0m-83-8h0m-63-1h0m97 34h0m0 17h0m34-12h0m40 10h0m10 7h0m10-9h0m28-6h0m12 4h0m1-2h0m13 12h0m16-28h0m16 17h0m27-13h0m4-4h0m88 24h0m11-8h0m1 9h0m3-25h0m15 0h0m-22 46h0m-18-16h0m-34 14h0m-27-8h0m-8 21h0m-7 0h0m-9-16h0m-14-2h0m0-6h0m-19 10h0m-9 7h0m-100-18h0m-13 6h0m-29-1h0m-10-5h0m-7 25h0m-86-3h0m89 19h0m9-8h0m162 9h0m67 20h0m-61-4h0m-19 16h0m-48-5h0m-83 16h0m-100-5h0m262 11h0m13 41h0" stroke="#1D0E3C" stroke-width="15" stroke-linecap="round" fill="none"/><path transform="scale(.1)" d="M1927 2628h0m-2 2h0m-101-12h0m-2 7h0m-10 2h0m-6-4h0m-3-3h0m-3-3h0m-17 19h0m-61 2h0m-25 4h0m26 5h0m3 0h0m19 21h0m18-10h0m27-10h0m14-7h0m3 28h0m29-18h0m94-4h0m51 22h0m19-11h0m-8 15h0m-9 6h0m-3 18h0m-9-16h0m-1-10h0m-26 15h0m-8 2h0m-60-15h0m-6-2h0m-1 1h0m-87 11h0m-45 14h0m-4-11h0m-119 1h0m25 13h0m35 9h0m26 1h0m12 18h0m1-9h0m3-4h0m9-11h0m3 4h0m7 15h0m27-10h0m7-6h0m15-6h0m27 14h0m16 5h0m10 5h0m96-16h0m2 9h0m14-16h0m9 23h0m9-21h0m1-4h0m21 0h0m22 27h0m3-15h0m7 4h0m3-16h0m10 40h0m-4 17h0m-24-11h0m-9-10h0m-5-5h0m-13 26h0m-57-22h0m-9-2h0m-7 23h0m-74-13h0m-10-6h0m-37-7h0m-6 4h0m-27 11h0m-17 3h0m-112-11h0m12 48h0m46-24h0m96-1h0m25 16h0m17-2h0m7 14h0m13-18h0m10-9h0m23 12h0m7 12h0m3-5h0m24-11h0m66 10h0m42 7h0m-28 4h0m-41 12h0m-7 15h0m-6-21h0m-40-6h0m-10 8h0m-14 3h0m-68 0h0m-12-5h0m-142 4h0m66 33h0m58-9h0m21 21h0m0 4h0m4-2h0m9-24h0m14 24h0m32 2h0m56-20h0m110 29h0m-163-7h0m-37 8h0m-75-5h0m-19 46h0m8 6h0m49-24h0m8 9h0m184 14h0m27-10h0m-189 30h0m-87 59h0" stroke="#28114D" stroke-width="15" stroke-linecap="round" fill="none"/><path transform="scale(.1)" d="M1791 2608h0m57 0h0m-13 26h0m-6-12h0m-58 4h0m-28-2h0m-12 1h0m-33 25h0m49 18h0m141-15h0m6-12h0m17 21h0m32-12h0m9-1h0m17 14h0m22 4h0m0 11h0m-25 8h0m-7-13h0m-30 3h0m-16 14h0m-3-17h0m-106 12h0m-70 8h0m-60-5h0m-4 6h0m-16-21h0m48 32h0m10 7h0m2-7h0m16 5h0m27 12h0m14-22h0m11 7h0m9 0h0m14 7h0m80-6h0m27 3h0m31-9h0m59 6h0m5 14h0m31 35h0m-33-12h0m-6 14h0m-64-9h0m-19 3h0m-23-10h0m-14 8h0m-1-5h0m-2 2h0m-4 1h0m-42-6h0m-3 14h0m-34-23h0m-20 19h0m-74 5h0m-20-26h0m-37 16h0m-68 17h0m46 0h0m10 13h0m30 5h0m88 6h0m58-24h0m28 11h0m11 3h0m21-3h0m24 9h0m4-14h0m25 2h0m15-8h0m15 14h0m0-7h0m11-3h0m72 44h0m-57 0h0m-30 2h0m-61-15h0m-26-10h0m-7 4h0m-10 4h0m-11 1h0m-38 19h0m-2-3h0m-13-10h0m-13-1h0m-35 6h0m-12 5h0m-11-1h0m-2-2h0m-22 36h0m2-27h0m12 4h0m69 21h0m52-16h0m17 15h0m69-8h0m1-12h0m30 5h0m77 29h0m-90 0h0m-9 14h0m-12-20h0m-3 13h0m-15 8h0m-65-5h0m-5-16h0m-17 6h0m-71 5h0m-2 11h0m-40-24h0m63 42h0m51 3h0m32-8h0m21-7h0m7 12h0m23-6h0m27 14h0m20-13h0m4 42h0m-165-15h0m-39 3h0m56 23h0m59 5h0m93 5h0" stroke="#3C155D" stroke-width="15" stroke-linecap="round" fill="none"/><path transform="scale(.1)" d="M1871 2626h0m-26-10h0m-85-5h0m9 45h0m169-10h0m22 2h0m9 50h0m-12-23h0m-63 5h0m-62 10h0m-6 0h0m-11-8h0m-51-5h0m-13 2h0m-18 16h0m-5-25h0m-16 7h0m-7 19h0m-21 1h0m29 15h0m102 7h0m73-1h0m19-14h0m40 11h0m25 9h0m22-21h0m11 7h0m25 19h0m-24 19h0m-13 5h0m-2-12h0m-73 10h0m-76 4h0m-151-25h0m-11 26h0m-41-26h0m-20 16h0m-25-15h0m-9 26h0m25 29h0m120-8h0m7 10h0m6-17h0m18-4h0m8 13h0m5-5h0m48-4h0m7-7h0m47 10h0m19 4h0m0-6h0m42-9h0m94 34h0m-21 17h0m-10-21h0m-36 21h0m-2-13h0m-113-10h0m-27 24h0m-46-24h0m-29 25h0m-1-14h0m-5 10h0m-19-22h0m-7 17h0m-2-1h0m-24 1h0m-92 10h0m-30 6h0m7 4h0m2 14h0m54-5h0m72 8h0m15-7h0m34 12h0m9-27h0m36 25h0m4-7h0m44-8h0m42 7h0m24-19h0m3 16h0m15 13h0m66-25h0m3 9h0m12 26h0m-44 11h0m-4 9h0m-13-21h0m-40 6h0m-19-13h0m-3 2h0m-8 10h0m-10 7h0m-5 8h0m-4-9h0m-7-18h0m-12 21h0m-6-16h0m-9 17h0m0-22h0m-22 19h0m-16-8h0m-7-1h0m-2-5h0m-59 8h0m-26 16h0m28 10h0m70 3h0m35 0h0m15 10h0m7 3h0m128-23h0m-80 45h0m-76-11h0m-16-6h0m-75 47h0m127-10h0m32 13h0m-83 23h0" stroke="#52186D" stroke-width="15" stroke-linecap="round" fill="none"/><path transform="scale(.1)" d="M1862 2621h0m-2-5h0m-56-6h0m-15 24h0m-43-12h0m-52 46h0m46-11h0m3 0h0m1 9h0m146 1h0m4-2h0m71 21h0m-181-2h0m-34 14h0m-26-23h0m204 33h0m76 33h0m-270 11h0m-9-7h0m-5 8h0m-24-5h0m-5-1h0m-50 5h0m-10 6h0m-6-15h0m-1-4h0m-12-7h0m-28 36h0m4 8h0m16 5h0m49 3h0m83-1h0m125-1h0m23-16h0m6 18h0m17 4h0m13-4h0m99-19h0m-166 47h0m-4-11h0m-94 18h0m-20-10h0m-64-9h0m0 7h0m-25 10h0m-10-9h0m15 29h0m3-11h0m34 8h0m28-6h0m20 15h0m71-4h0m14 0h0m17 0h0m17 1h0m20-2h0m21 6h0m17-15h0m21-4h0m1 20h0m84-18h0m-55 41h0m-14-3h0m-14-7h0m-3 20h0m-40-25h0m-1 6h0m-12-2h0m-8 17h0m-4-15h0m-14 18h0m-11-8h0m-5 4h0m-41-7h0m-4 5h0m-6-3h0m-46-7h0m-20-10h0m-29 8h0m-57 16h0m78 12h0m48 6h0m19 8h0m9-2h0m4-16h0m27 5h0m23-6h0m14 25h0m59-3h0m60 0h0m-30 7h0m-85 7h0m-26 10h0m-17-9h0m-22 0h0m-16 3h0m-11-7h0m-32-4h0m152 46h0m-185 21h0m162 68h0" stroke="#6F1E6B" stroke-width="15" stroke-linecap="round" fill="none"/><path transform="scale(.1)" d="M1845 2625h0m55 37h0m-28 36h0m-185-27h0m-4 52h0m72-6h0m82 6h0m5 6h0m69-8h0m4 23h0m-41-14h0m-11 23h0m-201 5h0m-65-13h0m-29 32h0m12 10h0m3-27h0m42 27h0m25-25h0m30 7h0m269-3h0m80 19h0m-7 24h0m-62-14h0m-7-5h0m-31 19h0m-18 5h0m-36-24h0m-24 28h0m-70-5h0m-84-6h0m-112-6h0m130 30h0m3 12h0m25 5h0m12-27h0m50 3h0m45 10h0m29-8h0m5-2h0m8-3h0m11 9h0m18 2h0m55 4h0m-26 24h0m0 5h0m-5-4h0m-2-8h0m-42 18h0m-7-2h0m-16 8h0m-1 1h0m-45-24h0m-60 7h0m-8 1h0m-17-3h0m-8-1h0m-5-3h0m-14 20h0m-2-24h0m-40 16h0m-44-7h0m66 28h0m7 14h0m35-8h0m6 15h0m25-4h0m18-20h0m11-3h0m1 24h0m1-7h0m0-3h0m9 4h0m1 8h0m10-23h0m9 3h0m7 19h0m39-11h0m10-14h0m34 12h0m6 13h0m9-16h0m65 18h0m-71 29h0m-5-27h0m-19 4h0m-3 17h0m-21-16h0m-12 6h0m-26-12h0m-12 12h0m-1 14h0m-27-5h0m-31-17h0m-74 6h0m11 42h0m39-17h0m0 11h0m68 6h0m60 2h0m32-6h0m17-7h0m-115 33h0m-51-9h0m0 5h0m-23 0h0m-12 6h0m-9 2h0m-29-17h0m176 35h0" stroke="#8C2467" stroke-width="15" stroke-linecap="round" fill="none"/><path transform="scale(.1)" d="M1971 2759h0m-278-19h0m-109 4h0m26 24h0m22 9h0m195 4h0m2 32h0m-86-1h0m-27-4h0m-8-17h0m-20 14h0m-37-6h0m-26 13h0m-18-13h0m-3 19h0m37 14h0m19 7h0m21-1h0m24-15h0m15 15h0m29 9h0m48-15h0m133 0h0m13 25h0m-44 7h0m-27-10h0m-94 25h0m-21-1h0m-24-5h0m-27-9h0m-93 2h0m-20-5h0m-1 5h0m-5 23h0m48 3h0m148 17h0m42-11h0m47-14h0m4 4h0m31-2h0m-12 27h0m-2 15h0m-3-13h0m-1-2h0m-23-2h0m-5 10h0m-35 9h0m-2-20h0m-45 5h0m-52 16h0m-14-6h0m-7 11h0m-29 14h0m65 18h0m33-26h0m9 10h0m24-4h0m7 2h0m18 9h0m105-10h0m-44 26h0m-50-1h0m-47 14h0m-17 8h0m-26-18h0m0 12h0m-45 39h0m14-21h0m7-2h0m24 4h0m8-3h0m22 5h0m32 13h0m-96 13h0m-14 0h0m158 23h0" stroke="#AE3558" stroke-width="15" stroke-linecap="round" fill="none"/><path transform="scale(.1)" d="M2033 2807h0m-364 10h0m-17-11h0m9 40h0m7 3h0m10-4h0m24-16h0m163 4h0m47 27h0m-10 12h0m-64-13h0m-51 14h0m-70 5h0m-90-22h0m-11-2h0m1 32h0m71-3h0m70 5h0m156 9h0m15 4h0m14-7h0m16-11h0m16 50h0m-59 0h0m-62 3h0m-24-15h0m-8 0h0m-64 5h0m-67 11h0m48 14h0m59-10h0m5 11h0m3 1h0m7-13h0m6 25h0m21-19h0m3 13h0m33-11h0m22 6h0m-117 26h0m0-6h0m-17 11h0m-36 8h0m-4-18h0m-20-2h0m-13 17h0m25 29h0m47-10h0m70 9h0m-21 15h0m-91 13h0m32 16h0m43 14h0m47 10h0" stroke="#CB4A44" stroke-width="15" stroke-linecap="round" fill="none"/><path transform="scale(.1)" d="M1892 2791h0m-226 58h0m258-6h0m-21 19h0m-256-4h0m-46 40h0m93-7h0m31 9h0m71-9h0m9 1h0m21 4h0m12-9h0m81 18h0m1 4h0m64 15h0m-83-5h0m-72 3h0m-4-2h0m-4 3h0m-23-10h0m-64 40h0m59-1h0m3 3h0m113 19h0m-10 23h0m-18-27h0m-43 2h0m-12 10h0m-21-1h0m-4-1h0m-14 3h0m-52 14h0m-29-23h0m-4 11h0m24 33h0m72-2h0m70-11h0m-37 36h0m-4-9h0m-19 8h0m-2-5h0m-8 19h0m-9-13h0m-16 9h0m-9-7h0m-2 1h0m-6 12h0m-60-22h0m85 27h0m21 23h0" stroke="#E2642E" stroke-width="15" stroke-linecap="round" fill="none"/><path transform="scale(.1)" d="M1595 2745h0m46 60h0m-26-9h0m304 75h0m-212 29h0m192 1h0m87 10h0m-144 14h0m-30 2h0m-12-3h0m-28 7h0m-10 7h0m-38-5h0m-25-9h0m-17 4h0m136 30h0m18 7h0m38-7h0m23 31h0m-26-7h0m-2 17h0m-28-11h0m-35-16h0m-19 4h0m-12 1h0m-11-2h0m-37 17h0m10 34h0m8-7h0m1-18h0m3 1h0m11 14h0m64 3h0m53-16h0m-42 55h0m-38 0h0m-7-19h0m-30 15h0m-12-19h0m-17 13h0m-27-12h0m70 41h0m2-17h0m26 12h0m7-11h0m12 5h0m13-5h0m10 7h0" stroke="#EE8422" stroke-width="15" stroke-linecap="round" fill="none"/><path transform="scale(.1)" d="M1721 2872h0m267 21h0m-274 23h0m-4 7h0m-27 6h0m36 35h0m29-3h0m108 6h0m3-17h0m22-7h0m7 35h0m-44 13h0m-15-4h0m-3-13h0m-6 14h0m-22 1h0m-45 5h0m-65-6h0m40 15h0m75 20h0m27-23h0m55 7h0m-24 25h0m-14 21h0m-25-3h0m-16 4h0m-3-6h0m-2 7h0m-21-7h0m-56-5h0m-7 4h0m8 20h0m20-1h0m2 12h0m47 2h0m26-20h0m11 2h0m17 24h0m2 0h0m-43 12h0m-1-6h0" stroke="#F4A129" stroke-width="15" stroke-linecap="round" fill="none"/><path transform="scale(.1)" d="M1667 2900h0m58 8h0m177 9h0m-95 16h0m-152 29h0m69-2h0m45-18h0m30 4h0m19 17h0m54 7h0m-54 20h0m-11 2h0m-4 1h0m-70 6h0m-18-6h0m-18 5h0m-3 22h0m8 2h0m6-13h0m3-8h0m7 1h0m9 26h0m34-22h0m41 2h0m25 6h0m0-12h0m6 8h0m6 14h0m38-1h0m-10 16h0m-28-9h0m0 11h0m-8-2h0m-4 17h0m-16-23h0m-4 8h0m-12 7h0m-24 9h0m-1-17h0m-4 5h0m-15 14h0m0-9h0m0-12h0m-18 1h0m-2 5h0m-7-3h0m32 43h0m3-2h0m5-12h0m3-3h0m5 8h0m2 2h0m5 8h0m7-4h0m2-6h0m4-15h0m8 13h0m27 2h0m4 5h0m0-20h0m12 16h0m4 7h0m4-17h0m6 13h0m5 2h0" stroke="#F7BE3A" stroke-width="15" stroke-linecap="round" fill="none"/><rect x="152.80" y="258.40" width="52.00" height="51.60" fill="none" stroke="#555" stroke-width="0.5"/><line x1="152.00" y1="270.20" x2="152.80" y2="270.20" stroke="#555" stroke-width="0.3"/><text x="151.7" y="271.2" font-size="2.8" fill="#555" stroke="#555" stroke-width="0.08" text-anchor="end">20</text><line x1="152.00" y1="282.90" x2="152.80" y2="282.90" stroke="#555" stroke-width="0.3"/><text x="151.7" y="283.9" font-size="2.8" fill="#555" stroke="#555" stroke-width="0.08" text-anchor="end">0</text><line x1="152.00" y1="295.60" x2="152.80" y2="295.60" stroke="#555" stroke-width="0.3"/><text x="151.7" y="296.6" font-size="2.8" fill="#555" stroke="#555" stroke-width="0.08" text-anchor="end">−20</text><line x1="152.00" y1="308.30" x2="152.80" y2="308.30" stroke="#555" stroke-width="0.3"/><text x="151.7" y="309.3" font-size="2.8" fill="#555" stroke="#555" stroke-width="0.08" text-anchor="end">−40</text><line x1="155.70" y1="310.00" x2="155.70" y2="310.80" stroke="#555" stroke-width="0.3"/><text x="155.7" y="313.2" font-size="2.8" fill="#555" stroke="#555" stroke-width="0.08" text-anchor="middle">−30</text><line x1="164.50" y1="310.00" x2="164.50" y2="310.80" stroke="#555" stroke-width="0.3"/><text x="164.5" y="313.2" font-size="2.8" fill="#555" stroke="#555" stroke-width="0.08" text-anchor="middle">−20</text><line x1="173.30" y1="310.00" x2="173.30" y2="310.80" stroke="#555" stroke-width="0.3"/><text x="173.3" y="313.2" font-size="2.8" fill="#555" stroke="#555" stroke-width="0.08" text-anchor="middle">−10</text><line x1="182.10" y1="310.00" x2="182.10" y2="310.80" stroke="#555" stroke-width="0.3"/><text x="182.1" y="313.2" font-size="2.8" fill="#555" stroke="#555" stroke-width="0.08" text-anchor="middle">0</text><line x1="190.90" y1="310.00" x2="190.90" y2="310.80" stroke="#555" stroke-width="0.3"/><text x="190.9" y="313.2" font-size="2.8" fill="#555" stroke="#555" stroke-width="0.08" text-anchor="middle">10</text><line x1="199.70" y1="310.00" x2="199.70" y2="310.80" stroke="#555" stroke-width="0.3"/><text x="199.7" y="313.2" font-size="2.8" fill="#555" stroke="#555" stroke-width="0.08" text-anchor="middle">20</text><text x="180.3" y="316.2" font-size="2.6" fill="#333" stroke="#333" stroke-width="0.08" text-anchor="middle">tSNE_1</text><text x="146.8" y="283.9" font-size="2.6" fill="#333" stroke="#333" stroke-width="0.08" text-anchor="middle" transform="rotate(-90 146.8 283.9)">tSNE_2</text><text x="178.8" y="255.5" font-size="4.5" fill="#1a1a1a" stroke="#1a1a1a" stroke-width="0.12" text-anchor="middle">P53_PATHWAY</text><rect x="207.70" y="280.10" width="2.10" height="0.97" fill="#F7BE3A" stroke="none" stroke-width="0.5"/><rect x="207.70" y="281.02" width="2.10" height="0.97" fill="#F39824" stroke="none" stroke-width="0.5"/><rect x="207.70" y="281.94" width="2.10" height="0.97" fill="#E66E2A" stroke="none" stroke-width="0.5"/><rect x="207.70" y="282.86" width="2.10" height="0.97" fill="#CB4A44" stroke="none" stroke-width="0.5"/><rect x="207.70" y="283.78" width="2.10" height="0.97" fill="#A32F5D" stroke="none" stroke-width="0.5"/><rect x="207.70" y="284.70" width="2.10" height="0.97" fill="#792069" stroke="none" stroke-width="0.5"/><rect x="207.70" y="285.62" width="2.10" height="0.97" fill="#52186D" stroke="none" stroke-width="0.5"/><rect x="207.70" y="286.54" width="2.10" height="0.97" fill="#351458" stroke="none" stroke-width="0.5"/><rect x="207.70" y="287.46" width="2.10" height="0.97" fill="#210F41" stroke="none" stroke-width="0.5"/><rect x="207.70" y="288.38" width="2.10" height="0.97" fill="#120A2A" stroke="none" stroke-width="0.5"/><text x="207.7" y="279.0" font-size="1.9" fill="#333" stroke="#333" stroke-width="0.04">AUC</text><text x="210.3" y="281.4" font-size="1.8" fill="#555" stroke="#555" stroke-width="0.04">0.1</text><text x="210.3" y="283.8" font-size="1.8" fill="#555" stroke="#555" stroke-width="0.04">0.2</text><text x="210.3" y="286.2" font-size="1.8" fill="#555" stroke="#555" stroke-width="0.04">0.3</text><text x="210.3" y="288.6" font-size="1.8" fill="#555" stroke="#555" stroke-width="0.04">0.4</text><text x="186.7" y="302.7" font-size="2.65" fill="#1a1a1a" stroke="#1a1a1a" stroke-width="0.08" text-anchor="middle">High Sqstm1&High Sox4</text><text x="185.5" y="285.0" font-size="2.65" fill="#1a1a1a" stroke="#1a1a1a" stroke-width="0.08" text-anchor="middle">High Sqstm1&Low Sox4</text><text x="183.1" y="271.0" font-size="2.65" fill="#1a1a1a" stroke="#1a1a1a" stroke-width="0.08" text-anchor="middle">High Amy2a/b</text><rect x="222.50" y="258.40" width="52.00" height="51.60" fill="#FFFFFF" stroke="none" stroke-width="0.5"/><line x1="225.40" y1="258.40" x2="225.40" y2="310.00" stroke="#DCDCDC" stroke-width="0.45"/><line x1="229.80" y1="258.40" x2="229.80" y2="310.00" stroke="#EDEDED" stroke-width="0.3"/><line x1="234.20" y1="258.40" x2="234.20" y2="310.00" stroke="#DCDCDC" stroke-width="0.45"/><line x1="238.60" y1="258.40" x2="238.60" y2="310.00" stroke="#EDEDED" stroke-width="0.3"/><line x1="243.00" y1="258.40" x2="243.00" y2="310.00" stroke="#DCDCDC" stroke-width="0.45"/><line x1="247.40" y1="258.40" x2="247.40" y2="310.00" stroke="#EDEDED" stroke-width="0.3"/><line x1="251.80" y1="258.40" x2="251.80" y2="310.00" stroke="#DCDCDC" stroke-width="0.45"/><line x1="256.20" y1="258.40" x2="256.20" y2="310.00" stroke="#EDEDED" stroke-width="0.3"/><line x1="260.60" y1="258.40" x2="260.60" y2="310.00" stroke="#DCDCDC" stroke-width="0.45"/><line x1="265.00" y1="258.40" x2="265.00" y2="310.00" stroke="#EDEDED" stroke-width="0.3"/><line x1="269.40" y1="258.40" x2="269.40" y2="310.00" stroke="#DCDCDC" stroke-width="0.45"/><line x1="273.80" y1="258.40" x2="273.80" y2="310.00" stroke="#EDEDED" stroke-width="0.3"/><line x1="222.50" y1="308.30" x2="274.50" y2="308.30" stroke="#DCDCDC" stroke-width="0.45"/><line x1="222.50" y1="301.95" x2="274.50" y2="301.95" stroke="#EDEDED" stroke-width="0.3"/><line x1="222.50" y1="295.60" x2="274.50" y2="295.60" stroke="#DCDCDC" stroke-width="0.45"/><line x1="222.50" y1="289.25" x2="274.50" y2="289.25" stroke="#EDEDED" stroke-width="0.3"/><line x1="222.50" y1="282.90" x2="274.50" y2="282.90" stroke="#DCDCDC" stroke-width="0.45"/><line x1="222.50" y1="276.55" x2="274.50" y2="276.55" stroke="#EDEDED" stroke-width="0.3"/><line x1="222.50" y1="270.20" x2="274.50" y2="270.20" stroke="#DCDCDC" stroke-width="0.45"/><line x1="222.50" y1="263.85" x2="274.50" y2="263.85" stroke="#EDEDED" stroke-width="0.3"/><path transform="scale(.1)" d="M2490 2607h0m11 1h0m62 1h0m58 19h0m-29 7h0m-5-2h0m-3-14h0m-37-8h0m-3 5h0m-4 11h0m-8 12h0m-3-4h0m-10-16h0m-15 19h0m-2-17h0m-9 18h0m-4-21h0m-3 18h0m-3 1h0m-15-27h0m-1 17h0m-13-10h0m-15 6h0m-2-12h0m-69 40h0m12-5h0m14-2h0m2 6h0m43-9h0m1 21h0m2-14h0m1 20h0m0-2h0m2-9h0m9 11h0m4-3h0m2-7h0m3 2h0m6-16h0m1 0h0m2 20h0m6-4h0m6-4h0m6 0h0m8-1h0m47 3h0m43 2h0m1 6h0m0-15h0m7 11h0m21-18h0m10 23h0m4-7h0m5-8h0m15-3h0m3 5h0m9-5h0m6 15h0m1-14h0m3 1h0m4 17h0m3 1h0m16-1h0m17 29h0m-25-19h0m-2 20h0m-7 1h0m-10-29h0m-3 12h0m-10-7h0m-4 16h0m-13-15h0m-7 11h0m-7-11h0m-3 19h0m-13-3h0m0-19h0m-2 21h0m-6-5h0m-20-15h0m-9 25h0m-6-27h0m-46 17h0m-18-3h0m-1 1h0m-11-7h0m-13 4h0m-18-14h0m-11 27h0m-13-1h0m-3-3h0m-3-8h0m-23-7h0m-8 2h0m-28 8h0m-4 4h0m-9-17h0m-20 3h0m-3 21h0m-5-6h0m-16-6h0m-17 32h0m20-16h0m53 7h0m4-10h0m3 11h0m21-6h0m11-2h0m2 8h0m4 3h0m14-12h0m25 7h0m14 1h0m10-1h0m8 7h0m42 13h0m8-8h0m12-1h0m18 5h0m8-16h0m7-1h0m7 2h0m0 2h0m15-12h0m2 3h0m6 8h0m1-7h0m12 24h0m1-15h0m10 3h0m10-10h0m4-3h0m20 9h0m3 9h0m3-3h0m15-5h0m10-6h0m2 1h0m2 14h0m4 6h0m8-18h0m6-10h0m6 57h0m-18-21h0m-4 11h0m-4-5h0m-10-12h0m-9 28h0m-5 0h0m-28 1h0m-15-28h0m-2 18h0m-15-14h0m-19 1h0m-3 9h0m-3-2h0m-20 8h0m-4-1h0m-41-9h0m-2-7h0m-5 3h0m-12-5h0m-14 9h0m0-3h0m-20-4h0m-3 17h0m-17-3h0m-7-3h0m-8-2h0m-10 3h0m-33-16h0m-34 3h0m-54-2h0m-3 1h0m-10 0h0m-7-2h0m-6 25h0m37 11h0m71 0h0m42 18h0m7-16h0m24 11h0m36-3h0m1-11h0m12 19h0m11-20h0m3 10h0m17 12h0m1-16h0m0 7h0m5-15h0m14 26h0m6-4h0m2-11h0m1-2h0m7 9h0m13-7h0m1 8h0m10-18h0m31-1h0m2 1h0m46 25h0m22-12h0m25-16h0m-23 51h0m-25-18h0m-22 24h0m-3-20h0m-14 17h0m-33-6h0m-16-9h0m-14 0h0m-17 7h0m-17-4h0m-60-5h0m-74 10h0m-43 0h0m-20-6h0m96 47h0m3-25h0m84 23h0m41-9h0m36-1h0m-117 24h0m-111-9h0" stroke="#120A2A" stroke-width="15" stroke-linecap="round" fill="none"/><path transform="scale(.1)" d="M2569 2626h0m-25-14h0m-16 12h0m-28-7h0m-5 13h0m-16-6h0m-2 6h0m-35-2h0m-7-10h0m-12 30h0m7 10h0m15 11h0m41-23h0m4 1h0m42 2h0m2-6h0m5 11h0m47 12h0m4-26h0m53 6h0m14 4h0m11 21h0m-6 14h0m-46-4h0m-7-2h0m-58 5h0m-14-3h0m-26 2h0m-42 15h0m-10-22h0m-18-6h0m-1 5h0m-10 22h0m-4-25h0m-1 4h0m-7 16h0m-19 2h0m-15 4h0m-2-28h0m-39 26h0m-28-10h0m-8 6h0m48 31h0m5-13h0m32 17h0m20-21h0m9 5h0m4-4h0m6 14h0m19-1h0m2-12h0m7 3h0m28-2h0m2 4h0m78-1h0m10-7h0m30 14h0m36-16h0m1 10h0m31-13h0m3 18h0m26-9h0m5 4h0m7 1h0m13 25h0m-24 6h0m-66 14h0m-38-3h0m-28-11h0m-40-14h0m-10 17h0m-22-18h0m-12 9h0m-7-7h0m-50 21h0m-1-2h0m-54 5h0m-3-23h0m-18 1h0m-28-2h0m-7 8h0m0-4h0m137 30h0m27 17h0m43-2h0m6-9h0m13-11h0m20 27h0m24-14h0m4-8h0m9 5h0m13 13h0m89-9h0m-8 31h0m-46-14h0m-33 6h0m-8 20h0m-8 0h0m-51-6h0m-10 5h0m-7-16h0m-7 12h0m-29 3h0m-28-24h0m-1 23h0m-8-10h0m-23 10h0m-6-4h0m-39 7h0m-9-15h0m-89 13h0m165 31h0m29-24h0m4 11h0m11 6h0m63-14h0m23 23h0m116 11h0m-132-2h0m-7 21h0m-49-6h0m-2 12h0m8 3h0m26 5h0m63 13h0m-23 22h0m-164-18h0" stroke="#1D0E3C" stroke-width="15" stroke-linecap="round" fill="none"/><path transform="scale(.1)" d="M2668 2638h0m-65 1h0m-25-6h0m-15 2h0m-3-15h0m-1-1h0m-51 10h0m-26 0h0m-31-6h0m-25 5h0m-38 41h0m18-24h0m32 12h0m88-15h0m2 8h0m57 19h0m86-1h0m16 3h0m-32 3h0m-54 2h0m-20 2h0m-6-5h0m-23 2h0m-46 8h0m-22 2h0m-49 9h0m-101 34h0m21-4h0m55 5h0m0-20h0m34-4h0m8 13h0m31-16h0m90 26h0m11-13h0m7-11h0m46-3h0m15 9h0m36 9h0m4 1h0m14 37h0m-13-23h0m-1 2h0m-76-1h0m0 16h0m-8-21h0m-7 16h0m-26 2h0m-2-5h0m-1 11h0m-7-7h0m-24 6h0m-16 4h0m-5-14h0m-99 4h0m-31-2h0m-90 36h0m125-6h0m16 4h0m10 10h0m25 0h0m38-17h0m8 1h0m9 1h0m73 14h0m25-24h0m16 15h0m11-7h0m51-11h0m7 8h0m-54 33h0m-69 9h0m-18 8h0m-16-28h0m0 9h0m-85 6h0m-34-9h0m-19-7h0m-7 16h0m-138 34h0m82 5h0m44-12h0m7-1h0m45-10h0m40 4h0m4 17h0m41-3h0m3-8h0m60 3h0m7-6h0m61 6h0m-27 24h0m-6 2h0m-51-9h0m-74 2h0m-71 3h0m-16-3h0m-5 17h0m25 23h0m29-12h0m69 17h0m63-14h0m8 10h0m2 11h0m13 24h0m-42-13h0" stroke="#28114D" stroke-width="15" stroke-linecap="round" fill="none"/><path transform="scale(.1)" d="M2498 2617h0m-42-5h0m-90 37h0m71 8h0m2 11h0m30-12h0m10-7h0m12-5h0m19 14h0m55 4h0m41 2h0m15-17h0m1 13h0m10-15h0m1-5h0m9 10h0m12-9h0m19 10h0m2 11h0m7-6h0m6 12h0m3-15h0m9 20h0m-28 25h0m-59-26h0m-11 5h0m-10 4h0m-4 3h0m-19-11h0m-40 19h0m-24-22h0m-77 25h0m-78-23h0m-32 7h0m-12 9h0m4 26h0m78 14h0m10-20h0m15 14h0m89-8h0m3 0h0m100-11h0m1-1h0m16 7h0m1-8h0m10 8h0m7 10h0m14 7h0m22-4h0m12 6h0m0-22h0m9 12h0m33 7h0m4 31h0m-31-10h0m-12-7h0m-78 4h0m-55-9h0m-28-4h0m-57 8h0m-15 8h0m-5 9h0m-58-9h0m-18-13h0m-54 7h0m-42 29h0m26-4h0m16 23h0m71-28h0m14 18h0m24-11h0m53 13h0m29-4h0m3-10h0m5 14h0m4 0h0m33 0h0m5-3h0m7 1h0m5 6h0m7-18h0m4 17h0m1 1h0m27-10h0m1 8h0m27-11h0m4-5h0m18-5h0m23 24h0m17 3h0m11-21h0m7-5h0m1 21h0m-29 11h0m-50 12h0m-28 2h0m-17 4h0m-10-22h0m-7 5h0m-32 13h0m-2-13h0m-29 22h0m-21-3h0m-5-13h0m-7 16h0m0 0h0m-46-16h0m-2 12h0m-29-16h0m-8 2h0m-65 6h0m-65 23h0m119-3h0m11 0h0m31 18h0m149-3h0m46-9h0m3-5h0m1 19h0m88-15h0m-79 37h0m-4-13h0m-6 0h0m-7 5h0m-1-9h0m-5 8h0m-8 17h0m-27-21h0m-12-4h0m0 6h0m-1 20h0m-2 3h0m-22-28h0m-10 21h0m-26-13h0m-60-9h0m-12 9h0m-1-2h0m-14 18h0m-14-21h0m125 37h0m52-9h0m42 9h0m15 5h0m28 6h0m-49 35h0m-123-26h0m-26 7h0m-58-3h0" stroke="#3C155D" stroke-width="15" stroke-linecap="round" fill="none"/><path transform="scale(.1)" d="M2624 2630h0m-77-11h0m-29 3h0m-73 1h0m-16-3h0m-5 6h0m-2 13h0m-43 27h0m257-9h0m61-1h0m-4 14h0m-13 9h0m-15 12h0m-23-5h0m-4 6h0m-155-8h0m-101-13h0m-35 6h0m-25 10h0m58 38h0m36-17h0m12 2h0m108 18h0m9-20h0m17 8h0m101-12h0m0 15h0m47 0h0m16 10h0m-35 24h0m-77-1h0m-52 2h0m-24-23h0m-10 14h0m0-5h0m-36-3h0m-117-4h0m-46 25h0m-36-13h0m-23 22h0m119 15h0m38-4h0m4-8h0m4 18h0m37-12h0m1-10h0m20 14h0m24-18h0m8 24h0m10-17h0m99-4h0m47 0h0m13-5h0m0 9h0m-56 48h0m-30 1h0m-14-6h0m-13-14h0m-29 7h0m-3-13h0m-105-2h0m-26 0h0m-2 26h0m-6-10h0m-10 5h0m-2-19h0m-10 13h0m-20 11h0m-24-17h0m-10 6h0m-28 9h0m70 28h0m2-22h0m4 16h0m25-9h0m39-7h0m56 2h0m59 10h0m31 14h0m20-14h0m80-9h0m25 2h0m-7 31h0m-51 15h0m0 7h0m-44-8h0m-14 4h0m-4-19h0m-8 6h0m-13 4h0m-8-4h0m-18 18h0m-1-26h0m0-3h0m-20 6h0m-6-2h0m-31 12h0m-10-5h0m-5 0h0m-47 0h0m-19 27h0m8 2h0m3 10h0m13 7h0m47-15h0m11-11h0m8 22h0m22-12h0m5 15h0m18-24h0m30 6h0m28 14h0m21 0h0m32-19h0m36 12h0m-76 16h0m-23 3h0m-11-1h0m-25 8h0m-39-3h0m-60 19h0m-42-3h0m-6-10h0m-14 0h0m-6-4h0m92 31h0" stroke="#52186D" stroke-width="15" stroke-linecap="round" fill="none"/><path transform="scale(.1)" d="M2393 2643h0m30 5h0m203-2h0m1 18h0m2-17h0m35 52h0m-216-21h0m-76 29h0m36 14h0m16-14h0m8 14h0m231-16h0m-88 54h0m-7-7h0m-12 1h0m-51-5h0m-115-8h0m-49 9h0m-61-4h0m0 19h0m45 14h0m32 5h0m21-21h0m97 0h0m77 12h0m177 42h0m-10-5h0m-75-9h0m-56-10h0m-138 0h0m-7 23h0m-44 0h0m-13-10h0m-62-15h0m-49 10h0m79 26h0m43-1h0m2 17h0m7-9h0m9 6h0m75 3h0m4 6h0m60-8h0m28-18h0m21-1h0m28 11h0m65 0h0m-59 21h0m-5 4h0m-52 15h0m-23-1h0m-18-5h0m-31-2h0m-9 8h0m-17 0h0m-7-17h0m-54 22h0m-1-16h0m-3 3h0m-40-14h0m-51 10h0m-17 7h0m6 19h0m72-3h0m68 3h0m31 14h0m8-7h0m12 1h0m38 13h0m24-23h0m116 8h0m-5 34h0m-162-5h0m-39 2h0m-44-9h0m-7 19h0m37 11h0m-45 39h0m-16-9h0m178 34h0" stroke="#6F1E6B" stroke-width="15" stroke-linecap="round" fill="none"/><path transform="scale(.1)" d="M2397 2639h0m-46 25h0m51-4h0m260 29h0m-160-19h0m-68 30h0m277 12h0m13 47h0m-20-15h0m-148 14h0m-140-4h0m-100-6h0m-30 26h0m20 12h0m44 1h0m8-26h0m311 19h0m3 39h0m-90-18h0m-18-1h0m-38-3h0m-158 3h0m-28 14h0m-60-24h0m-13 33h0m166 26h0m24-29h0m27 28h0m32-8h0m0 7h0m57-20h0m21 6h0m7-7h0m18 17h0m28 1h0m46-9h0m-63 43h0m-7-16h0m-16 1h0m-7 0h0m-5 1h0m-2 9h0m-1-6h0m-7 4h0m-25 4h0m-6-8h0m-65 3h0m-3 0h0m-21-9h0m-140 11h0m-2-14h0m-32 4h0m70 41h0m63 5h0m8-15h0m27 1h0m17-11h0m16 12h0m9-3h0m0 15h0m16-18h0m1 20h0m8-14h0m26 12h0m66-3h0m56-21h0m20 26h0m-81 26h0m-15-19h0m-77 11h0m-4-5h0m0 0h0m-19 4h0m-4-5h0m-94 16h0m201 24h0m-80 14h0m9 46h0m1 20h0m-37 13h0m-4 22h0" stroke="#8C2467" stroke-width="15" stroke-linecap="round" fill="none"/><path transform="scale(.1)" d="M2513 2716h0m10 3h0m-226 28h0m32 38h0m0-5h0m16-17h0m34 3h0m61 15h0m288 17h0m-57 18h0m-41-17h0m-94-2h0m-109 16h0m-25-20h0m-53 13h0m-28 6h0m-22 5h0m28 16h0m9-3h0m21 7h0m22 1h0m28 4h0m4-7h0m1-8h0m82 22h0m20-19h0m53 2h0m98 2h0m-22 22h0m-53-4h0m-27 16h0m-41-13h0m-8 16h0m-59-7h0m0 12h0m-35-26h0m-18 15h0m-11 14h0m-24-13h0m-79 2h0m-3 24h0m118 8h0m58 3h0m17-2h0m2 6h0m0-24h0m13 22h0m28-16h0m48 8h0m4-6h0m23 9h0m28-12h0m21 21h0m27-5h0m-54 6h0m-18 9h0m-61 3h0m-11 3h0m-4 10h0m-30-22h0m-29-1h0m0 6h0m0 14h0m-44-16h0m4 43h0m54-18h0m20 10h0m17-3h0m2 9h0m1 7h0m14 1h0m7-17h0m27 16h0m-31 7h0m-30 23h0m-28 2h0m-49-18h0m-46-6h0m77 36h0m114 15h0m-75 27h0" stroke="#AE3558" stroke-width="15" stroke-linecap="round" fill="none"/><path transform="scale(.1)" d="M2510 2671h0m-174 83h0m-70 23h0m202 0h0m265 33h0m-431-10h0m43 35h0m123-9h0m71 8h0m64-4h0m107 31h0m-102 0h0m-74-5h0m-104 20h0m-42-17h0m-19-8h0m51 48h0m74 2h0m27-1h0m20-15h0m59 41h0m-2-11h0m-24-3h0m-10-1h0m-4 8h0m0 5h0m-7 10h0m-89-17h0m-57 9h0m-26 0h0m-29 34h0m78-5h0m7-2h0m55 1h0m13-5h0m36 10h0m40-14h0m6 14h0m16 12h0m-29 28h0m-93-24h0m-26 2h0m-10 22h0m-43-27h0m-1 5h0m-16 10h0m177 20h0m-32 52h0m-66-14h0m-44-6h0m106 37h0m15-6h0m1 8h0" stroke="#CB4A44" stroke-width="15" stroke-linecap="round" fill="none"/><path transform="scale(.1)" d="M2709 2786h0m-344 63h0m279 13h0m-111 10h0m-124 4h0m-63-16h0m-32-8h0m77 39h0m5 9h0m91-4h0m6-12h0m42 25h0m78-15h0m67 16h0m-87 21h0m-1-6h0m-65-5h0m-1 1h0m-111 41h0m5-3h0m19-16h0m51 9h0m7-7h0m20 18h0m54-7h0m5 12h0m57-17h0m-42 24h0m-6 3h0m-17 5h0m-41 5h0m-32-8h0m-1 10h0m-12-16h0m-29 9h0m-3 12h0m-31-10h0m5 23h0m6 0h0m10 9h0m99 9h0m-2 12h0m-9 3h0m-5-11h0m-8 29h0m-31-18h0m-56 2h0m-9 2h0m37 38h0m14-7h0m74 6h0" stroke="#E2642E" stroke-width="15" stroke-linecap="round" fill="none"/><path transform="scale(.1)" d="M2729 2755h0m-420 42h0m106 78h0m-114 26h0m31-10h0m340 41h0m-151-11h0m-13 1h0m-1 5h0m-11 5h0m-42-7h0m-79 25h0m72 13h0m46-21h0m18 20h0m43-12h0m28 8h0m-44 30h0m-12-9h0m-8 10h0m-18-10h0m-16 0h0m-8 2h0m-5-6h0m-12-1h0m-8 4h0m-16 19h0m-14-23h0m-12 18h0m-20-3h0m17 39h0m7-11h0m34-16h0m9 6h0m25 3h0m32 17h0m7-7h0m4-6h0m4-4h0m26-2h0m10 27h0m-20 21h0m-14 3h0m-21-26h0m-3 5h0m-4 0h0m-9 11h0m-1 9h0m-24 0h0m-6-15h0m-18-11h0m-12 7h0m13 36h0m25 1h0m29-6h0m28 8h0m13 7h0" stroke="#EE8422" stroke-width="15" stroke-linecap="round" fill="none"/><path transform="scale(.1)" d="M2662 2871h0m-330 1h0m60 17h0m120 49h0m-132-6h0m22 31h0m43-7h0m24-14h0m58 18h0m10-14h0m38 2h0m20 6h0m40-6h0m-42 48h0m-40-26h0m-52 25h0m-1-10h0m-5 3h0m-43 1h0m-27 2h0m-17-5h0m-14 13h0m16 2h0m6 0h0m17 22h0m25-15h0m41 17h0m1-13h0m23-10h0m37 31h0m-23-2h0m-3 27h0m-16-8h0m-7-15h0m-9 20h0m-5-1h0m-20-6h0m-9-7h0m-10 1h0m-9-6h0m-1 12h0m-47-13h0m63 34h0m11 12h0m3-20h0m6 19h0m1-6h0m16 6h0m21-12h0m26-3h0m-44 32h0" stroke="#F4A129" stroke-width="15" stroke-linecap="round" fill="none"/><path transform="scale(.1)" d="M2493 2896h0m84-12h0m-46 46h0m-27 5h0m-117 1h0m52 31h0m65-14h0m53-3h0m12 18h0m48-16h0m-25 37h0m-26 9h0m-24-25h0m-1 17h0m-17 9h0m-10-8h0m-10-9h0m-2-10h0m-41 13h0m-29 11h0m-7-5h0m-27-3h0m-8 30h0m10 2h0m4-9h0m18 8h0m3-17h0m1 27h0m25-18h0m8 8h0m35-5h0m66 33h0m-37 7h0m-19-18h0m-13 17h0m-7-16h0m-14 15h0m-12 3h0m-7 4h0m-1-4h0m-22-6h0m-4-6h0m-3-3h0m-7 6h0m-11-10h0m-8-4h0m29 36h0m20-3h0m2-4h0m7 22h0m8-12h0m12 5h0m0-16h0m18 20h0m5-7h0m9-13h0m25 1h0m16 24h0m0 3h0m10-7h0m2-3h0m4-15h0m-59 27h0" stroke="#F7BE3A" stroke-width="15" stroke-linecap="round" fill="none"/><rect x="222.50" y="258.40" width="52.00" height="51.60" fill="none" stroke="#555" stroke-width="0.5"/><line x1="221.70" y1="270.20" x2="222.50" y2="270.20" stroke="#555" stroke-width="0.3"/><text x="221.4" y="271.2" font-size="2.8" fill="#555" stroke="#555" stroke-width="0.08" text-anchor="end">20</text><line x1="221.70" y1="282.90" x2="222.50" y2="282.90" stroke="#555" stroke-width="0.3"/><text x="221.4" y="283.9" font-size="2.8" fill="#555" stroke="#555" stroke-width="0.08" text-anchor="end">0</text><line x1="221.70" y1="295.60" x2="222.50" y2="295.60" stroke="#555" stroke-width="0.3"/><text x="221.4" y="296.6" font-size="2.8" fill="#555" stroke="#555" stroke-width="0.08" text-anchor="end">−20</text><line x1="221.70" y1="308.30" x2="222.50" y2="308.30" stroke="#555" stroke-width="0.3"/><text x="221.4" y="309.3" font-size="2.8" fill="#555" stroke="#555" stroke-width="0.08" text-anchor="end">−40</text><line x1="225.40" y1="310.00" x2="225.40" y2="310.80" stroke="#555" stroke-width="0.3"/><text x="225.4" y="313.2" font-size="2.8" fill="#555" stroke="#555" stroke-width="0.08" text-anchor="middle">−30</text><line x1="234.20" y1="310.00" x2="234.20" y2="310.80" stroke="#555" stroke-width="0.3"/><text x="234.2" y="313.2" font-size="2.8" fill="#555" stroke="#555" stroke-width="0.08" text-anchor="middle">−20</text><line x1="243.00" y1="310.00" x2="243.00" y2="310.80" stroke="#555" stroke-width="0.3"/><text x="243.0" y="313.2" font-size="2.8" fill="#555" stroke="#555" stroke-width="0.08" text-anchor="middle">−10</text><line x1="251.80" y1="310.00" x2="251.80" y2="310.80" stroke="#555" stroke-width="0.3"/><text x="251.8" y="313.2" font-size="2.8" fill="#555" stroke="#555" stroke-width="0.08" text-anchor="middle">0</text><line x1="260.60" y1="310.00" x2="260.60" y2="310.80" stroke="#555" stroke-width="0.3"/><text x="260.6" y="313.2" font-size="2.8" fill="#555" stroke="#555" stroke-width="0.08" text-anchor="middle">10</text><line x1="269.40" y1="310.00" x2="269.40" y2="310.80" stroke="#555" stroke-width="0.3"/><text x="269.4" y="313.2" font-size="2.8" fill="#555" stroke="#555" stroke-width="0.08" text-anchor="middle">20</text><text x="250.0" y="316.2" font-size="2.6" fill="#333" stroke="#333" stroke-width="0.08" text-anchor="middle">tSNE_1</text><text x="216.5" y="283.9" font-size="2.6" fill="#333" stroke="#333" stroke-width="0.08" text-anchor="middle" transform="rotate(-90 216.5 283.9)">tSNE_2</text><text x="248.5" y="255.5" font-size="4.5" fill="#1a1a1a" stroke="#1a1a1a" stroke-width="0.12" text-anchor="middle">PI3K_AKT_MTOR_SIGNALING</text><rect x="277.40" y="280.10" width="2.10" height="0.97" fill="#F7BE3A" stroke="none" stroke-width="0.5"/><rect x="277.40" y="281.02" width="2.10" height="0.97" fill="#F39824" stroke="none" stroke-width="0.5"/><rect x="277.40" y="281.94" width="2.10" height="0.97" fill="#E66E2A" stroke="none" stroke-width="0.5"/><rect x="277.40" y="282.86" width="2.10" height="0.97" fill="#CB4A44" stroke="none" stroke-width="0.5"/><rect x="277.40" y="283.78" width="2.10" height="0.97" fill="#A32F5D" stroke="none" stroke-width="0.5"/><rect x="277.40" y="284.70" width="2.10" height="0.97" fill="#792069" stroke="none" stroke-width="0.5"/><rect x="277.40" y="285.62" width="2.10" height="0.97" fill="#52186D" stroke="none" stroke-width="0.5"/><rect x="277.40" y="286.54" width="2.10" height="0.97" fill="#351458" stroke="none" stroke-width="0.5"/><rect x="277.40" y="287.46" width="2.10" height="0.97" fill="#210F41" stroke="none" stroke-width="0.5"/><rect x="277.40" y="288.38" width="2.10" height="0.97" fill="#120A2A" stroke="none" stroke-width="0.5"/><text x="277.4" y="279.0" font-size="1.9" fill="#333" stroke="#333" stroke-width="0.04">AUC</text><text x="280.0" y="281.4" font-size="1.8" fill="#555" stroke="#555" stroke-width="0.04">0.1</text><text x="280.0" y="283.8" font-size="1.8" fill="#555" stroke="#555" stroke-width="0.04">0.2</text><text x="280.0" y="286.2" font-size="1.8" fill="#555" stroke="#555" stroke-width="0.04">0.3</text><text x="280.0" y="288.6" font-size="1.8" fill="#555" stroke="#555" stroke-width="0.04">0.4</text><text x="256.4" y="302.7" font-size="2.65" fill="#1a1a1a" stroke="#1a1a1a" stroke-width="0.08" text-anchor="middle">High Sqstm1&High Sox4</text><text x="255.2" y="285.0" font-size="2.65" fill="#1a1a1a" stroke="#1a1a1a" stroke-width="0.08" text-anchor="middle">High Sqstm1&Low Sox4</text><text x="252.8" y="271.0" font-size="2.65" fill="#1a1a1a" stroke="#1a1a1a" stroke-width="0.08" text-anchor="middle">High Amy2a/b</text><rect x="292.20" y="258.40" width="52.00" height="51.60" fill="#FFFFFF" stroke="none" stroke-width="0.5"/><line x1="295.10" y1="258.40" x2="295.10" y2="310.00" stroke="#DCDCDC" stroke-width="0.45"/><line x1="299.50" y1="258.40" x2="299.50" y2="310.00" stroke="#EDEDED" stroke-width="0.3"/><line x1="303.90" y1="258.40" x2="303.90" y2="310.00" stroke="#DCDCDC" stroke-width="0.45"/><line x1="308.30" y1="258.40" x2="308.30" y2="310.00" stroke="#EDEDED" stroke-width="0.3"/><line x1="312.70" y1="258.40" x2="312.70" y2="310.00" stroke="#DCDCDC" stroke-width="0.45"/><line x1="317.10" y1="258.40" x2="317.10" y2="310.00" stroke="#EDEDED" stroke-width="0.3"/><line x1="321.50" y1="258.40" x2="321.50" y2="310.00" stroke="#DCDCDC" stroke-width="0.45"/><line x1="325.90" y1="258.40" x2="325.90" y2="310.00" stroke="#EDEDED" stroke-width="0.3"/><line x1="330.30" y1="258.40" x2="330.30" y2="310.00" stroke="#DCDCDC" stroke-width="0.45"/><line x1="334.70" y1="258.40" x2="334.70" y2="310.00" stroke="#EDEDED" stroke-width="0.3"/><line x1="339.10" y1="258.40" x2="339.10" y2="310.00" stroke="#DCDCDC" stroke-width="0.45"/><line x1="343.50" y1="258.40" x2="343.50" y2="310.00" stroke="#EDEDED" stroke-width="0.3"/><line x1="292.20" y1="308.30" x2="344.20" y2="308.30" stroke="#DCDCDC" stroke-width="0.45"/><line x1="292.20" y1="301.95" x2="344.20" y2="301.95" stroke="#EDEDED" stroke-width="0.3"/><line x1="292.20" y1="295.60" x2="344.20" y2="295.60" stroke="#DCDCDC" stroke-width="0.45"/><line x1="292.20" y1="289.25" x2="344.20" y2="289.25" stroke="#EDEDED" stroke-width="0.3"/><line x1="292.20" y1="282.90" x2="344.20" y2="282.90" stroke="#DCDCDC" stroke-width="0.45"/><line x1="292.20" y1="276.55" x2="344.20" y2="276.55" stroke="#EDEDED" stroke-width="0.3"/><line x1="292.20" y1="270.20" x2="344.20" y2="270.20" stroke="#DCDCDC" stroke-width="0.45"/><line x1="292.20" y1="263.85" x2="344.20" y2="263.85" stroke="#EDEDED" stroke-width="0.3"/><path transform="scale(.1)" d="M3167 2608h0m74 1h0m16 0h0m64 19h0m-18 8h0m-18-6h0m-5-13h0m-6 16h0m-9-7h0m-25-10h0m-13 23h0m-35-11h0m-2 11h0m-14-10h0m0-6h0m-10 1h0m-14-13h0m-10 11h0m-2 6h0m-3-3h0m-4-10h0m-6 8h0m-3 3h0m-75 38h0m26 1h0m2-17h0m18-8h0m27 7h0m6 12h0m11 1h0m0-9h0m1 16h0m14-3h0m8-3h0m13-5h0m4-1h0m17 2h0m29-4h0m13 1h0m2 1h0m41 12h0m5 0h0m28-23h0m11 1h0m1 15h0m7-1h0m15-11h0m2-6h0m22 19h0m14 4h0m26 30h0m-12-23h0m-26 6h0m-3 18h0m-7-13h0m0 5h0m-2-15h0m-1 25h0m-2-10h0m-6-11h0m-15 7h0m-9 3h0m-18-17h0m-4 23h0m-1-12h0m-1-8h0m-4 15h0m-15-3h0m-6-12h0m-1 7h0m-11 18h0m-3-25h0m-2-1h0m-14 13h0m-17-4h0m-13 8h0m-20-3h0m-2-15h0m-6 7h0m-34 0h0m-10 0h0m-1 19h0m-7-27h0m-6 25h0m-2 0h0m-7-8h0m-6 8h0m-39-25h0m-12 27h0m-3-4h0m-7-20h0m-9 1h0m-2 1h0m-27 13h0m-4-10h0m-8 11h0m25 38h0m19-3h0m5-13h0m20 2h0m28-9h0m0 18h0m4-1h0m10-12h0m3-6h0m2 0h0m0 6h0m4 14h0m16-19h0m8 3h0m13 1h0m3-7h0m20 10h0m13 5h0m9 0h0m21 11h0m3 2h0m38-26h0m15 10h0m1-3h0m10-8h0m4 1h0m7 2h0m0 6h0m12-9h0m1 8h0m10 6h0m3 5h0m8-15h0m20-4h0m0 16h0m9 4h0m16 7h0m2-9h0m6-11h0m4-2h0m17 9h0m11 9h0m5 34h0m-33-13h0m-14-5h0m-47 18h0m-9-10h0m-33-13h0m-10 8h0m-16 6h0m-6-3h0m-38-16h0m-1 8h0m-1 2h0m-7 5h0m-1-7h0m-13 6h0m-14-7h0m-35 10h0m-2 4h0m-61-21h0m-31 1h0m-9 1h0m-24-3h0m-9 8h0m-11-8h0m-3 4h0m-18-2h0m89 34h0m14 1h0m15 10h0m29 10h0m5-6h0m1-3h0m16-11h0m15-6h0m1 27h0m44-21h0m6-1h0m22-6h0m18 28h0m1-13h0m9 2h0m1 7h0m2-24h0m14 14h0m15-3h0m11 5h0m18-11h0m10 13h0m7-18h0m14 1h0m29 11h0m10 13h0m9-17h0m10-5h0m0 20h0m2-21h0m-43 28h0m-3 3h0m-19 11h0m-15 1h0m-5 10h0m-31-1h0m-18-1h0m-42-1h0m-8 5h0m-44-2h0m-12-18h0m-14 10h0m-21-16h0m49 31h0m15 17h0m56-1h0m32-13h0m5 11h0m3-4h0m13 16h0m21-6h0m48-8h0m-107 26h0m-96 10h0m-35-6h0m46 30h0m94 6h0" stroke="#120A2A" stroke-width="15" stroke-linecap="round" fill="none"/><path transform="scale(.1)" d="M3200 2608h0m124 20h0m-65 7h0m-1-13h0m-4-2h0m-7 2h0m-9 3h0m-31 2h0m-9-8h0m-11 0h0m-10 20h0m-113 10h0m26-7h0m4 9h0m44 8h0m17-2h0m9 1h0m2-14h0m12 6h0m5-3h0m5-1h0m19 10h0m15-11h0m7 4h0m90-5h0m5 1h0m7 0h0m26 2h0m8-7h0m1 12h0m22 1h0m7 2h0m-3 15h0m-2 1h0m-6 0h0m-2 5h0m-8 20h0m-1-26h0m-6 0h0m-68 7h0m-90 6h0m-8-2h0m-65-10h0m-13 0h0m-46 0h0m-52 23h0m-33 25h0m13-4h0m7-12h0m40 22h0m18-16h0m6 14h0m11 4h0m20-15h0m24-11h0m19 16h0m6-6h0m19-3h0m4-8h0m7 15h0m74 12h0m6-15h0m23-7h0m16 15h0m26-11h0m6 6h0m15 9h0m0-15h0m9-5h0m24 10h0m2-9h0m9 4h0m0 10h0m10-6h0m4 0h0m0 7h0m15 38h0m0-5h0m-18-18h0m-6 11h0m-80-15h0m-13 13h0m-3-13h0m-13 12h0m-64 1h0m-4-6h0m-1-7h0m-3 8h0m-15-7h0m-14 12h0m-5-2h0m-21 11h0m-14-4h0m-6-3h0m-15 6h0m-14-6h0m-101-8h0m151 40h0m46 0h0m7-6h0m7 11h0m4-6h0m7 10h0m13-14h0m35 10h0m2 1h0m67-13h0m26-6h0m36 1h0m10 30h0m-24 16h0m-4-5h0m-98 12h0m0-7h0m-48-12h0m-6 10h0m-196 16h0m28-6h0m157 12h0m13 5h0m23-10h0m19 16h0m37-16h0m63-5h0m-69 40h0m-102-8h0m-98-2h0" stroke="#1D0E3C" stroke-width="15" stroke-linecap="round" fill="none"/><path transform="scale(.1)" d="M3185 2605h0m100 34h0m-61-15h0m-7-6h0m-32 18h0m-37-12h0m-24 4h0m-57 25h0m32 6h0m39 8h0m49-20h0m13 21h0m131-19h0m1-9h0m32 26h0m6-14h0m-33 39h0m-1-16h0m-11 1h0m-28-1h0m-171 18h0m-20-15h0m-9 20h0m-3-19h0m-6-9h0m-54 6h0m-3 22h0m65 10h0m10 21h0m115-9h0m6 9h0m11-20h0m8 13h0m32-14h0m3 9h0m23-12h0m30-3h0m4 2h0m34-4h0m14 0h0m14 23h0m7 3h0m-8 18h0m-14 9h0m-6 5h0m-80-1h0m-28-2h0m-8-6h0m-10 3h0m-80-18h0m-35 10h0m-9 5h0m-5-4h0m-12 6h0m-26-10h0m-12 15h0m-4-24h0m-73 49h0m17-15h0m12-5h0m97 12h0m15-4h0m21 10h0m24-2h0m37 12h0m22-18h0m51-5h0m38-4h0m1-1h0m32 17h0m21 5h0m15-6h0m5-16h0m-38 56h0m-10-2h0m-2-18h0m-7-6h0m-8 11h0m-39 14h0m-14-3h0m-103 5h0m-43-28h0m-3 24h0m-5-1h0m-19-22h0m-1 25h0m-3-6h0m-17 8h0m-11-12h0m-111-5h0m139 26h0m17 20h0m64-20h0m98 5h0m53 24h0m-11-2h0m-41 10h0m-17-6h0m-34 9h0m-19-12h0m-197 0h0m166 27h0m34 14h0m14 6h0m8-21h0m55 2h0m13 24h0m79-12h0m-82 40h0m-81-5h0" stroke="#28114D" stroke-width="15" stroke-linecap="round" fill="none"/><path transform="scale(.1)" d="M3136 2609h0m104 2h0m-13 23h0m-28-13h0m-82 16h0m-30 9h0m31-1h0m17-4h0m9 17h0m46 0h0m135 3h0m14-8h0m4-10h0m9 12h0m19-5h0m-5 20h0m-16 23h0m-62-11h0m-42-9h0m-20 19h0m-26-9h0m-20 2h0m-31-15h0m-145 16h0m84 38h0m5-16h0m14 0h0m6-1h0m72 9h0m14 13h0m5-15h0m27 10h0m40-15h0m33-6h0m65 20h0m3-4h0m56 19h0m-29 9h0m-1-4h0m-7-8h0m-60-3h0m-19 20h0m-3 0h0m-39-5h0m0-1h0m0-1h0m-5 7h0m-43 5h0m-42-25h0m-12 8h0m-76 8h0m0 8h0m-5-8h0m-13-15h0m-96 22h0m-9 10h0m8 5h0m43 15h0m8 1h0m139-20h0m29 10h0m3-11h0m7 20h0m5-11h0m11-1h0m18 7h0m22 4h0m6-11h0m20 0h0m3 6h0m7-16h0m28 1h0m15 8h0m2-7h0m57 11h0m15 35h0m-22-17h0m-60 23h0m-9-19h0m-8 9h0m-9 12h0m-18-21h0m-10-2h0m-1 3h0m-25-9h0m-2 12h0m-6-10h0m0 11h0m-51 15h0m-26-4h0m-10-9h0m-9 14h0m-43-13h0m-89 8h0m-16-14h0m-32 27h0m64 5h0m81 5h0m76 8h0m46-11h0m34 14h0m60-14h0m91-6h0m-89 25h0m-36 9h0m-1 12h0m-33-6h0m-33-9h0m-2-6h0m-12 22h0m-56-16h0m-38 2h0m11 45h0m41-4h0m15 4h0m12 0h0m1-14h0m39-9h0m70 13h0m15-5h0m26-6h0m-127 36h0m0 1h0m-96 32h0" stroke="#3C155D" stroke-width="15" stroke-linecap="round" fill="none"/><path transform="scale(.1)" d="M3290 2633h0m-73-9h0m-18 15h0m-6-23h0m-41-2h0m19 49h0m114 3h0m18-5h0m17 1h0m59-3h0m36 40h0m-37-27h0m-24 4h0m-40 6h0m-6 7h0m-99-19h0m-30 12h0m-41-7h0m-9 17h0m-89 4h0m-34-6h0m59 18h0m48 6h0m9-3h0m6 9h0m22 1h0m118 7h0m54-19h0m55 12h0m6-1h0m20 39h0m-11 0h0m-4-29h0m-2 2h0m-72 3h0m-56 0h0m-42 24h0m-143-24h0m-38 19h0m-22-6h0m-20 0h0m34 33h0m19 4h0m7-2h0m73-5h0m2-8h0m94 8h0m8-8h0m1 0h0m16-7h0m29 18h0m34 1h0m99 5h0m10-27h0m9 46h0m-3 8h0m-109-16h0m-9 10h0m-29-14h0m-47 4h0m-40 5h0m-5 13h0m-19-25h0m-21 1h0m-6 25h0m-22-27h0m-21 3h0m-15 9h0m-45 13h0m-3-11h0m-4 4h0m-35 10h0m-26 23h0m73-4h0m22 11h0m34-24h0m4 7h0m44 17h0m43-16h0m5 9h0m7-2h0m32 1h0m26-11h0m5 3h0m26 15h0m6-11h0m21 5h0m47-3h0m31-6h0m-36 39h0m-24-17h0m-7 25h0m-22-17h0m-3 3h0m-9-11h0m-9-2h0m-18 4h0m-3 22h0m-8-3h0m-8-24h0m-13 22h0m-50-23h0m-50 6h0m-7 3h0m-3 15h0m-4 4h0m-12 0h0m-11-14h0m-10 14h0m-2-19h0m69 36h0m36-2h0m82-5h0m36 17h0m7 1h0m39-25h0m-74 35h0m-86 14h0m-3-6h0m-100-1h0m145 69h0m13 14h0" stroke="#52186D" stroke-width="15" stroke-linecap="round" fill="none"/><path transform="scale(.1)" d="M3182 2631h0m-77 13h0m26 14h0m13 11h0m24-23h0m62-6h0m29 23h0m25-9h0m12 9h0m29 3h0m27-15h0m5 33h0m-84-11h0m-100 12h0m-16-15h0m-29 25h0m-8-19h0m-53 14h0m82 16h0m109 9h0m86-13h0m61 10h0m19 16h0m-127 19h0m-40 5h0m-2 6h0m-265-27h0m11 35h0m4 19h0m40-24h0m28 2h0m17 22h0m42-2h0m49-1h0m85 6h0m1-15h0m12-6h0m95-7h0m-88 31h0m-17 26h0m-8-17h0m-16-7h0m-22 22h0m0-16h0m-87-2h0m-27 2h0m-10 14h0m0-13h0m-55 4h0m53 42h0m8-12h0m23 11h0m14 4h0m11-28h0m63 28h0m82-18h0m6-2h0m21 2h0m4 14h0m31-10h0m-22 33h0m-10-9h0m-8-2h0m-39-7h0m-3 24h0m0-23h0m-13 23h0m-17-23h0m-34 19h0m-45 9h0m-17-4h0m-15-16h0m-1-1h0m-19 16h0m6 33h0m36-2h0m25-6h0m4-19h0m2 14h0m84-11h0m119 27h0m-53 0h0m-46 4h0m-39 2h0m-24-6h0m-15 8h0m-28 0h0m-26-5h0m-4 22h0m-89 13h0m140-7h0m55 42h0" stroke="#6F1E6B" stroke-width="15" stroke-linecap="round" fill="none"/><path transform="scale(.1)" d="M3285 2661h0m33 32h0m-240 3h0m-68-13h0m96 27h0m210 24h0m-79 21h0m-49-21h0m-197 14h0m-29 26h0m13 15h0m2-25h0m41 23h0m149-11h0m22 2h0m110 11h0m13-5h0m-25 7h0m-8 8h0m-63 17h0m-87-3h0m-63-12h0m-2 13h0m-25-14h0m-32-2h0m47 49h0m15-3h0m9-9h0m33 2h0m32-16h0m2 4h0m21 2h0m24 20h0m38-1h0m35-20h0m16 12h0m2-14h0m132 2h0m-6 34h0m-2-1h0m-46 10h0m-18-8h0m-27 9h0m-48 8h0m-17-1h0m-4-26h0m-13 23h0m-25-20h0m-3 8h0m-15 7h0m-6 1h0m-9-9h0m-57 16h0m-3-14h0m-117 38h0m14-16h0m76 5h0m8 9h0m8 1h0m4-13h0m12 12h0m59-8h0m10 4h0m30 1h0m2-3h0m3-3h0m2 17h0m8-17h0m34-7h0m39 14h0m65-15h0m9 10h0m-93 40h0m-5-21h0m-33 25h0m-77-19h0m-41-4h0m-12 4h0m-8-1h0m-9 47h0m35 5h0m49-12h0m15-7h0m0 2h0m10-2h0m25 0h0m17 3h0m-60 37h0m-37-13h0m-8 3h0m-22 0h0m140 21h0m-58 35h0" stroke="#8C2467" stroke-width="15" stroke-linecap="round" fill="none"/><path transform="scale(.1)" d="M3364 2712h0m-325 35h0m-54 27h0m39 2h0m197 1h0m35 28h0m-21-5h0m-127 4h0m-24 0h0m-80 13h0m-12 2h0m-30 3h0m90 16h0m24-1h0m13-13h0m5 10h0m64 14h0m28-4h0m0-20h0m22 7h0m105 27h0m-25 13h0m-33-3h0m-6-1h0m-42-9h0m-18 2h0m-8 2h0m-6-7h0m-69-1h0m-32-3h0m-52 21h0m-13-21h0m-21 10h0m-2 6h0m130 34h0m25-7h0m52 5h0m18-16h0m4 25h0m3-19h0m21 19h0m28-19h0m13-6h0m40 19h0m1-13h0m46 16h0m2-2h0m9 22h0m-1-13h0m-57 25h0m-6-26h0m-25 4h0m-15-1h0m-18 5h0m-42 4h0m-1-4h0m-47 15h0m-14-9h0m-47 0h0m-20 10h0m-37 24h0m64 3h0m9-4h0m56-8h0m14-10h0m6 11h0m36-5h0m17 2h0m15 20h0m16-7h0m48-13h0m-105 37h0m-126-12h0m3 37h0m13-7h0m77 11h0m65 17h0m-22 9h0m-4 16h0m-61 21h0" stroke="#AE3558" stroke-width="15" stroke-linecap="round" fill="none"/><path transform="scale(.1)" d="M3054 2758h0m-33-18h0m232 39h0m115 35h0m-247-5h0m-21-19h0m-3 21h0m-29-5h0m-44 27h0m50 16h0m20-24h0m10 0h0m1 17h0m231 17h0m-5 3h0m-39 2h0m-96 7h0m-16 0h0m-75 3h0m-62-15h0m-38 6h0m-24 27h0m138 15h0m10-14h0m42-8h0m3 22h0m5-20h0m19 22h0m53-16h0m16 6h0m71-5h0m-13 35h0m-10-18h0m-17 6h0m-3 8h0m-75 3h0m0 8h0m-14-9h0m-32-3h0m-12-7h0m-41 16h0m-43-5h0m59 15h0m1 10h0m38-11h0m16 3h0m22 12h0m64-12h0m36 8h0m-13 18h0m-14 5h0m-11-5h0m-37 3h0m-3 15h0m-60-15h0m-16 11h0m-39 6h0m-38-3h0m-5-18h0m43 33h0m35 2h0m2 4h0m66 0h0m50-9h0m-10 38h0m-44-7h0m-1 25h0m-15-18h0m-76-2h0m-5 11h0m46 29h0m19 3h0m5-4h0m47 2h0" stroke="#CB4A44" stroke-width="15" stroke-linecap="round" fill="none"/><path transform="scale(.1)" d="M2980 2745h0m145 25h0m14 31h0m-94-1h0m262 76h0m-25-7h0m-12-7h0m-155-12h0m-49 17h0m-34 5h0m51 10h0m70 5h0m45 15h0m13-14h0m37 17h0m120 29h0m-206-16h0m-46 18h0m-29-17h0m29 41h0m18-7h0m92 5h0m12 3h0m26 4h0m65-16h0m-98 22h0m-30 13h0m-2-5h0m-1 17h0m-4-12h0m-12-4h0m-4-3h0m-10-2h0m-20 4h0m-18 20h0m-16-15h0m-13-12h0m-4 16h0m-6 9h0m27 10h0m5 21h0m73-16h0m2 14h0m23-24h0m38 43h0m-59 10h0m-16-18h0m-16 12h0m-27 1h0m-26-12h0m59 25h0m8 12h0m60 10h0" stroke="#E2642E" stroke-width="15" stroke-linecap="round" fill="none"/><path transform="scale(.1)" d="M3265 2860h0m-241 2h0m4 32h0m86-6h0m70 9h0m77 12h0m40-6h0m-7 14h0m-4 8h0m-33-1h0m-39-3h0m-3 1h0m-9 1h0m-106 14h0m60 5h0m8 2h0m21 11h0m16 7h0m10 4h0m15 1h0m36-12h0m29 6h0m-74 19h0m-2-6h0m-5 14h0m-14-15h0m-1 21h0m-50-3h0m-2 3h0m-65-6h0m22 14h0m1 26h0m22-21h0m11-6h0m39 10h0m42 11h0m7-1h0m37-13h0m14 0h0m-36 46h0m-27-6h0m-2 11h0m-38-10h0m-10-8h0m-6 0h0m-60-5h0m-1-3h0m46 29h0m8 19h0m15-21h0m93 1h0m-59 31h0" stroke="#EE8422" stroke-width="15" stroke-linecap="round" fill="none"/><path transform="scale(.1)" d="M3062 2847h0m346 10h0m-348 46h0m29-14h0m202 41h0m-69-10h0m-24 16h0m54 31h0m33-9h0m6 38h0m-7-19h0m-72 12h0m-15-3h0m-48-9h0m-35 8h0m-6 8h0m-2-5h0m-10-11h0m3 45h0m112 3h0m22-1h0m-9 17h0m-17-8h0m-6 7h0m-10 16h0m-43-18h0m-56-4h0m49 32h0m21 1h0m20 16h0m41-5h0m4-18h0m1 3h0m10 20h0m2-13h0m4-5h0m-44 33h0" stroke="#F4A129" stroke-width="15" stroke-linecap="round" fill="none"/><path transform="scale(.1)" d="M3235 2925h0m-43-11h0m-81 11h0m-34 1h0m67 35h0m68 2h0m59-16h0m22 3h0m-1 40h0m-70 9h0m-29-20h0m-16 3h0m-5 17h0m-45 0h0m-6-8h0m-2-19h0m-30 48h0m22-2h0m10 2h0m9 4h0m10-7h0m6-15h0m3 7h0m4-2h0m2 11h0m64-4h0m18 14h0m34-5h0m-43 15h0m-26-4h0m-6 17h0m-5 6h0m-1-8h0m-1 9h0m-1-2h0m-4-12h0m-26 0h0m0 0h0m-2 10h0m-6 1h0m-9-22h0m-14 8h0m-8 3h0m-1-4h0m-2 7h0m-4 2h0m10 17h0m21 13h0m5-19h0m2 22h0m8-13h0m7 3h0m6-12h0m3 24h0m16-3h0m6 0h0m1-8h0m5-13h0m16 5h0m3 11h0m3-14h0m18 21h0m3 5h0m9-10h0m2 3h0" stroke="#F7BE3A" stroke-width="15" stroke-linecap="round" fill="none"/><rect x="292.20" y="258.40" width="52.00" height="51.60" fill="none" stroke="#555" stroke-width="0.5"/><line x1="291.40" y1="270.20" x2="292.20" y2="270.20" stroke="#555" stroke-width="0.3"/><text x="291.1" y="271.2" font-size="2.8" fill="#555" stroke="#555" stroke-width="0.08" text-anchor="end">20</text><line x1="291.40" y1="282.90" x2="292.20" y2="282.90" stroke="#555" stroke-width="0.3"/><text x="291.1" y="283.9" font-size="2.8" fill="#555" stroke="#555" stroke-width="0.08" text-anchor="end">0</text><line x1="291.40" y1="295.60" x2="292.20" y2="295.60" stroke="#555" stroke-width="0.3"/><text x="291.1" y="296.6" font-size="2.8" fill="#555" stroke="#555" stroke-width="0.08" text-anchor="end">−20</text><line x1="291.40" y1="308.30" x2="292.20" y2="308.30" stroke="#555" stroke-width="0.3"/><text x="291.1" y="309.3" font-size="2.8" fill="#555" stroke="#555" stroke-width="0.08" text-anchor="end">−40</text><line x1="295.10" y1="310.00" x2="295.10" y2="310.80" stroke="#555" stroke-width="0.3"/><text x="295.1" y="313.2" font-size="2.8" fill="#555" stroke="#555" stroke-width="0.08" text-anchor="middle">−30</text><line x1="303.90" y1="310.00" x2="303.90" y2="310.80" stroke="#555" stroke-width="0.3"/><text x="303.9" y="313.2" font-size="2.8" fill="#555" stroke="#555" stroke-width="0.08" text-anchor="middle">−20</text><line x1="312.70" y1="310.00" x2="312.70" y2="310.80" stroke="#555" stroke-width="0.3"/><text x="312.7" y="313.2" font-size="2.8" fill="#555" stroke="#555" stroke-width="0.08" text-anchor="middle">−10</text><line x1="321.50" y1="310.00" x2="321.50" y2="310.80" stroke="#555" stroke-width="0.3"/><text x="321.5" y="313.2" font-size="2.8" fill="#555" stroke="#555" stroke-width="0.08" text-anchor="middle">0</text><line x1="330.30" y1="310.00" x2="330.30" y2="310.80" stroke="#555" stroke-width="0.3"/><text x="330.3" y="313.2" font-size="2.8" fill="#555" stroke="#555" stroke-width="0.08" text-anchor="middle">10</text><line x1="339.10" y1="310.00" x2="339.10" y2="310.80" stroke="#555" stroke-width="0.3"/><text x="339.1" y="313.2" font-size="2.8" fill="#555" stroke="#555" stroke-width="0.08" text-anchor="middle">20</text><text x="319.7" y="316.2" font-size="2.6" fill="#333" stroke="#333" stroke-width="0.08" text-anchor="middle">tSNE_1</text><text x="286.2" y="283.9" font-size="2.6" fill="#333" stroke="#333" stroke-width="0.08" text-anchor="middle" transform="rotate(-90 286.2 283.9)">tSNE_2</text><text x="318.2" y="255.5" font-size="4.5" fill="#1a1a1a" stroke="#1a1a1a" stroke-width="0.12" text-anchor="middle">TGF_BETA_SIGNALING</text><rect x="347.10" y="280.10" width="2.10" height="0.97" fill="#F7BE3A" stroke="none" stroke-width="0.5"/><rect x="347.10" y="281.02" width="2.10" height="0.97" fill="#F39824" stroke="none" stroke-width="0.5"/><rect x="347.10" y="281.94" width="2.10" height="0.97" fill="#E66E2A" stroke="none" stroke-width="0.5"/><rect x="347.10" y="282.86" width="2.10" height="0.97" fill="#CB4A44" stroke="none" stroke-width="0.5"/><rect x="347.10" y="283.78" width="2.10" height="0.97" fill="#A32F5D" stroke="none" stroke-width="0.5"/><rect x="347.10" y="284.70" width="2.10" height="0.97" fill="#792069" stroke="none" stroke-width="0.5"/><rect x="347.10" y="285.62" width="2.10" height="0.97" fill="#52186D" stroke="none" stroke-width="0.5"/><rect x="347.10" y="286.54" width="2.10" height="0.97" fill="#351458" stroke="none" stroke-width="0.5"/><rect x="347.10" y="287.46" width="2.10" height="0.97" fill="#210F41" stroke="none" stroke-width="0.5"/><rect x="347.10" y="288.38" width="2.10" height="0.97" fill="#120A2A" stroke="none" stroke-width="0.5"/><text x="347.1" y="279.0" font-size="1.9" fill="#333" stroke="#333" stroke-width="0.04">AUC</text><text x="349.7" y="281.4" font-size="1.8" fill="#555" stroke="#555" stroke-width="0.04">0.1</text><text x="349.7" y="283.8" font-size="1.8" fill="#555" stroke="#555" stroke-width="0.04">0.2</text><text x="349.7" y="286.2" font-size="1.8" fill="#555" stroke="#555" stroke-width="0.04">0.3</text><text x="349.7" y="288.6" font-size="1.8" fill="#555" stroke="#555" stroke-width="0.04">0.4</text><text x="326.1" y="302.7" font-size="2.65" fill="#1a1a1a" stroke="#1a1a1a" stroke-width="0.08" text-anchor="middle">High Sqstm1&High Sox4</text><text x="324.9" y="285.0" font-size="2.65" fill="#1a1a1a" stroke="#1a1a1a" stroke-width="0.08" text-anchor="middle">High Sqstm1&Low Sox4</text><text x="322.5" y="271.0" font-size="2.65" fill="#1a1a1a" stroke="#1a1a1a" stroke-width="0.08" text-anchor="middle">High Amy2a/b</text><rect x="361.90" y="258.40" width="52.00" height="51.60" fill="#FFFFFF" stroke="none" stroke-width="0.5"/><line x1="364.80" y1="258.40" x2="364.80" y2="310.00" stroke="#DCDCDC" stroke-width="0.45"/><line x1="369.20" y1="258.40" x2="369.20" y2="310.00" stroke="#EDEDED" stroke-width="0.3"/><line x1="373.60" y1="258.40" x2="373.60" y2="310.00" stroke="#DCDCDC" stroke-width="0.45"/><line x1="378.00" y1="258.40" x2="378.00" y2="310.00" stroke="#EDEDED" stroke-width="0.3"/><line x1="382.40" y1="258.40" x2="382.40" y2="310.00" stroke="#DCDCDC" stroke-width="0.45"/><line x1="386.80" y1="258.40" x2="386.80" y2="310.00" stroke="#EDEDED" stroke-width="0.3"/><line x1="391.20" y1="258.40" x2="391.20" y2="310.00" stroke="#DCDCDC" stroke-width="0.45"/><line x1="395.60" y1="258.40" x2="395.60" y2="310.00" stroke="#EDEDED" stroke-width="0.3"/><line x1="400.00" y1="258.40" x2="400.00" y2="310.00" stroke="#DCDCDC" stroke-width="0.45"/><line x1="404.40" y1="258.40" x2="404.40" y2="310.00" stroke="#EDEDED" stroke-width="0.3"/><line x1="408.80" y1="258.40" x2="408.80" y2="310.00" stroke="#DCDCDC" stroke-width="0.45"/><line x1="413.20" y1="258.40" x2="413.20" y2="310.00" stroke="#EDEDED" stroke-width="0.3"/><line x1="361.90" y1="308.30" x2="413.90" y2="308.30" stroke="#DCDCDC" stroke-width="0.45"/><line x1="361.90" y1="301.95" x2="413.90" y2="301.95" stroke="#EDEDED" stroke-width="0.3"/><line x1="361.90" y1="295.60" x2="413.90" y2="295.60" stroke="#DCDCDC" stroke-width="0.45"/><line x1="361.90" y1="289.25" x2="413.90" y2="289.25" stroke="#EDEDED" stroke-width="0.3"/><line x1="361.90" y1="282.90" x2="413.90" y2="282.90" stroke="#DCDCDC" stroke-width="0.45"/><line x1="361.90" y1="276.55" x2="413.90" y2="276.55" stroke="#EDEDED" stroke-width="0.3"/><line x1="361.90" y1="270.20" x2="413.90" y2="270.20" stroke="#DCDCDC" stroke-width="0.45"/><line x1="361.90" y1="263.85" x2="413.90" y2="263.85" stroke="#EDEDED" stroke-width="0.3"/><path transform="scale(.1)" d="M3896 2609h0m166 29h0m-42-9h0m-21 6h0m-12-2h0m-9-14h0m-6 13h0m-10-7h0m-7-15h0m-2 6h0m0 6h0m-13-11h0m-1 3h0m-5 13h0m-10 9h0m-21-8h0m-12 2h0m-8 4h0m-22-24h0m-12 2h0m-12 12h0m-2 2h0m-3-2h0m-8 0h0m-4 5h0m0 0h0m-62 18h0m15-1h0m11-1h0m1-1h0m42 16h0m5 0h0m1-18h0m6 27h0m13-10h0m6 1h0m25-3h0m11 10h0m0-13h0m10 3h0m18-14h0m0 6h0m7 1h0m9 6h0m21 6h0m22-4h0m1-4h0m2-13h0m27 1h0m10 4h0m1 18h0m7-5h0m1-7h0m2 0h0m8-7h0m2 5h0m6 7h0m0-15h0m1 9h0m19 9h0m10-4h0m8 9h0m1-14h0m6 6h0m-13 16h0m-15-2h0m-3 2h0m-3 17h0m-2-5h0m-9-9h0m-15 15h0m-14 8h0m-9-16h0m-7 13h0m-1-16h0m-1-9h0m-5 18h0m-2-14h0m-14-4h0m-4 2h0m-30 13h0m-15-2h0m-16 7h0m-9-11h0m-5 2h0m-3-12h0m-2 12h0m-2 4h0m-17-3h0m-7 1h0m-5 15h0m-11-21h0m-6-7h0m-16 0h0m-5 26h0m-2-10h0m-1 6h0m-6-16h0m-6 17h0m-9-15h0m-9 18h0m-16-25h0m-1 24h0m-1-23h0m-12 22h0m-1-6h0m-9-14h0m-22 1h0m-9 19h0m-17-7h0m-1-3h0m1 19h0m42 17h0m3 2h0m4-13h0m17 4h0m2 9h0m15-14h0m13 10h0m2 8h0m1-17h0m1 8h0m10-10h0m8 14h0m25-5h0m23-8h0m2-8h0m6 12h0m1-5h0m4 5h0m10 1h0m1 15h0m4-15h0m29 12h0m3 3h0m4-19h0m26 1h0m2 18h0m4-22h0m6 1h0m4 9h0m6-9h0m0 8h0m1-11h0m10-4h0m6 4h0m0 16h0m17-14h0m0 20h0m3-16h0m4 0h0m10 5h0m21-12h0m1 13h0m1-15h0m8 18h0m0-19h0m8 19h0m7-7h0m2 14h0m8-8h0m1-11h0m7 16h0m3 2h0m1-10h0m1 4h0m8-20h0m6 27h0m5 24h0m-3 8h0m-16-24h0m-4 24h0m-3-14h0m-1 0h0m-64 11h0m-5-22h0m-16 21h0m0-22h0m-15 25h0m-3-11h0m-8-6h0m-16 5h0m-3 6h0m-13 2h0m-3 3h0m-2-7h0m-12 3h0m-13-21h0m-1 26h0m-4-26h0m-1 16h0m-19-2h0m-11-7h0m-2-5h0m-2 8h0m-7-12h0m-5 5h0m-5 3h0m-4 13h0m-9-5h0m-18-5h0m-9 14h0m-15-2h0m-21 3h0m-7-16h0m0 7h0m0-16h0m-11 2h0m-23-1h0m-25-2h0m-9 9h0m-1-4h0m-11-4h0m-2 4h0m-14-4h0m-14 58h0m2-25h0m6 9h0m134 14h0m6-8h0m4-11h0m1 2h0m2 17h0m8-8h0m27-4h0m2-9h0m4 21h0m18-10h0m5-2h0m14 3h0m3-6h0m2-3h0m2-8h0m2 16h0m5-2h0m1 2h0m2 5h0m2-5h0m33-1h0m1 11h0m1 0h0m3-15h0m3 0h0m3 13h0m12 0h0m1-14h0m3 13h0m12-16h0m0-7h0m0 27h0m11-15h0m23-10h0m6 10h0m3 7h0m11-9h0m10 7h0m52-12h0m4 20h0m10 20h0m-34-2h0m-27 12h0m-17-21h0m-7 8h0m-38 4h0m-3 11h0m-16-7h0m-4-17h0m-5 0h0m-1 3h0m-30-1h0m0 8h0m-1 5h0m-1-8h0m-2-9h0m-10 7h0m-49 19h0m-1 1h0m-26-16h0m-14 15h0m-4-26h0m-10 21h0m-6 0h0m-9-21h0m-3 23h0m-5-10h0m-8 6h0m-2-21h0m-22 28h0m-66-21h0m-10 4h0m-6 18h0m60 21h0m42-6h0m10-2h0m1 3h0m6-10h0m33-3h0m14 25h0m6-22h0m23 24h0m3-16h0m21 14h0m1-9h0m15 7h0m9-11h0m32 14h0m1-11h0m19-5h0m9-8h0m9 7h0m57 7h0m56-11h0m-9 31h0m-6 1h0m-60 3h0m-10-3h0m-8 19h0m-9-18h0m-23 13h0m-28 0h0m-2 5h0m-2-17h0m-7 16h0m-12-27h0m-17 6h0m-29 14h0m-26-15h0m-35 4h0m-2-3h0m-10 1h0m-20-3h0m-1 19h0m-96-9h0m79 16h0m2 10h0m3 10h0m91 0h0m7-7h0m1 4h0m1-5h0m20-3h0m40 17h0m30-20h0m18 14h0m24-11h0m42 14h0m17-11h0m8 1h0m-24 41h0m-70-18h0m-2 2h0m-9 11h0m-6-17h0m-49 18h0m-11-2h0m-27-13h0m-4 5h0m-29 22h0m91 7h0m25-6h0m-119 31h0m95 102h0" stroke="#120A2A" stroke-width="15" stroke-linecap="round" fill="none"/><path transform="scale(.1)" d="M3884 2606h0m58 15h0m-52-4h0m0 21h0m-12-6h0m-5 7h0m-25-24h0m-58 38h0m5 3h0m5-13h0m34 26h0m17 0h0m73-29h0m11 12h0m48 15h0m9-6h0m28 5h0m7-26h0m39 12h0m10 17h0m-15 2h0m-3 28h0m-3-10h0m-9 4h0m-27-17h0m-31 4h0m-10-2h0m-8-4h0m-6-1h0m-5-1h0m-116 23h0m-1-14h0m-78 17h0m-45-9h0m-17-2h0m-12 30h0m13-3h0m64-6h0m25-3h0m16 9h0m3-8h0m42 5h0m7-4h0m55 12h0m6 10h0m78-27h0m2 3h0m34-4h0m5 3h0m22 8h0m6 7h0m13-19h0m2 4h0m10 4h0m33 50h0m-12 1h0m-17-11h0m-68 3h0m-19-16h0m-2 19h0m-21-7h0m-20-5h0m-46-5h0m-6-2h0m-1 6h0m-66 14h0m-20-6h0m-40 1h0m0-19h0m-21 5h0m-8-4h0m-51 14h0m-45 19h0m31 13h0m4-12h0m14-1h0m75 17h0m16-1h0m23 3h0m40-20h0m47 7h0m17-1h0m11 0h0m34-2h0m33 13h0m22-21h0m31 1h0m35 13h0m8 12h0m6-15h0m-112 40h0m-2 5h0m-21-16h0m-19-2h0m-11 13h0m-52 2h0m-48-19h0m-8 22h0m-42-2h0m-15-9h0m-45-2h0m-19 9h0m17 20h0m54-5h0m3 1h0m36 20h0m11-2h0m119-15h0m7-4h0m14-6h0m18 7h0m3-6h0m90 14h0m14 25h0m-49 7h0m-26-6h0m-15-5h0m-17 4h0m-13 0h0m-9-4h0m-37 11h0m-6 4h0m-25-12h0m-2-9h0m-3 11h0m-25 11h0m-58-9h0m-6 8h0m-48-4h0m16 14h0m4 9h0m22-4h0m43 0h0m28-3h0m22 10h0m24 11h0m10-16h0m5 16h0m25-8h0m107-17h0m-33 31h0m-83 13h0m-105 2h0m-22-14h0m-13 23h0m-12-9h0m43 54h0m-36 40h0m124 11h0m-71 26h0" stroke="#1D0E3C" stroke-width="15" stroke-linecap="round" fill="none"/><path transform="scale(.1)" d="M4015 2631h0m-77-19h0m-25 4h0m-18 6h0m-10-5h0m-11 10h0m-29-4h0m-51 19h0m23 6h0m1 1h0m17 1h0m1 17h0m24-11h0m1-9h0m7 15h0m4-5h0m25-15h0m32 0h0m56 24h0m14-5h0m14-15h0m7 0h0m4 15h0m33-14h0m11 6h0m22 15h0m19 28h0m-36-16h0m-1-10h0m-4 29h0m-17-26h0m-26 18h0m-6 2h0m-37-6h0m-57 6h0m-96 3h0m-3-5h0m-3 4h0m-33-16h0m-61 19h0m33 10h0m25 18h0m14-22h0m21 7h0m120 11h0m85-4h0m3-15h0m7 4h0m47 12h0m18-7h0m10 2h0m-14 43h0m-13-23h0m0 8h0m-3 13h0m-6 2h0m-5 2h0m-28 0h0m-50-24h0m-25 16h0m-4-2h0m-5 1h0m-40-9h0m-16-9h0m-54 17h0m-9-5h0m-20 0h0m-6 3h0m-48-15h0m-78 13h0m13 41h0m16-2h0m9 4h0m14-27h0m45 6h0m65-2h0m29 12h0m40-13h0m18 21h0m6-23h0m3 1h0m21 15h0m20-1h0m96 8h0m14-8h0m0 9h0m18 24h0m-16 0h0m-9-16h0m-25 25h0m-13-4h0m-16-13h0m-12-4h0m-10 0h0m-2 8h0m-23-8h0m-35 8h0m-5-14h0m-29 22h0m-1-15h0m-52-7h0m-23-2h0m-9 6h0m-1 18h0m-26-4h0m-3-5h0m-9-14h0m-32 15h0m-23-4h0m-25-12h0m-16 27h0m50 28h0m19-3h0m3-5h0m39 0h0m71-12h0m1 19h0m6 3h0m10-7h0m31-1h0m13 9h0m49-10h0m12-3h0m9 8h0m4 5h0m69-27h0m-61 33h0m-37 12h0m-11 5h0m-2-19h0m-19 19h0m-30 3h0m-8-19h0m-3 18h0m0-19h0m-7 17h0m-22-3h0m-27-10h0m-27-3h0m-18 21h0m-19-11h0m-22-15h0m42 48h0m2 10h0m2 1h0m8-15h0m41-10h0m6 22h0m19 2h0m23-15h0m19-11h0m6 0h0m20 0h0m5 8h0m22 10h0m29-12h0m0 13h0m34-18h0m3-2h0m21 31h0m-83 13h0m-7 5h0m-63-8h0m-3 0h0m-5-1h0m-2-1h0m-2 1h0m-8 1h0m-13 11h0m-81-18h0m-11 48h0m16-6h0m63-4h0m14-12h0m13 0h0m8 23h0m11-5h0m38 6h0m-43 17h0m-24-4h0m-1 19h0m-23 1h0m-50-4h0m-5-21h0m74 42h0m33-4h0m33 19h0m2 33h0" stroke="#28114D" stroke-width="15" stroke-linecap="round" fill="none"/><path transform="scale(.1)" d="M3834 2609h0m146 23h0m-25 2h0m-41-10h0m-41-1h0m-12 1h0m-45 12h0m-70 28h0m37 4h0m34 1h0m15-10h0m6 8h0m36-17h0m8-2h0m4-2h0m195 31h0m-8 20h0m-37-13h0m-1-8h0m-27-5h0m-13 5h0m-161-1h0m-90-3h0m-32 8h0m-12 10h0m29 39h0m76-20h0m15-4h0m6 14h0m1-19h0m11 4h0m7 6h0m120-10h0m68 20h0m16-12h0m3 17h0m13-2h0m31-14h0m1 35h0m-8-9h0m0 23h0m-5-26h0m-131 1h0m-31 11h0m0-4h0m-202 18h0m-43-13h0m64 42h0m12-6h0m81-1h0m1-10h0m21 12h0m24 2h0m45-12h0m36 11h0m12-3h0m14-7h0m35-7h0m55-2h0m13 8h0m33 43h0m-3-18h0m-44-4h0m-22 9h0m-47 13h0m-25-25h0m-17 29h0m-53-2h0m-47-5h0m-69-12h0m-8 17h0m-11-12h0m-15-2h0m0 12h0m-20-11h0m-12-1h0m117 19h0m4-2h0m28 29h0m8-25h0m10-3h0m65 14h0m6-8h0m18 20h0m55-4h0m48-14h0m21-2h0m-71 31h0m-7-4h0m-28 5h0m-6 6h0m-13 6h0m-2-17h0m-4-2h0m-53 5h0m-40 3h0m-45-10h0m-18 27h0m-10-25h0m-128 8h0m-8 31h0m52 2h0m70 7h0m13-2h0m16 10h0m11-13h0m12-2h0m31 0h0m3-13h0m1 2h0m6 14h0m3 4h0m23-2h0m1-8h0m43-10h0m47 27h0m65 19h0m-64-14h0m-18 1h0m-103 12h0m-16 0h0m-13-8h0m-51 43h0m16-8h0m59 1h0m14-3h0m70-2h0m14 9h0m-85 36h0m-1-10h0m-25-7h0m-75-3h0m-2 47h0m22 1h0m4 7h0m20-27h0m12 4h0m0 12h0m109 20h0m-39 3h0m-3 13h0m-32 3h0m-43-19h0m-5-4h0m54 38h0" stroke="#3C155D" stroke-width="15" stroke-linecap="round" fill="none"/><path transform="scale(.1)" d="M3919 2623h0m-157 30h0m77 3h0m12 10h0m14-21h0m13 10h0m137 5h0m47 5h0m1-17h0m31 25h0m-148 3h0m-41-3h0m-162 6h0m-4 17h0m81 7h0m28 3h0m58 11h0m25 4h0m193 17h0m-123-6h0m-113 11h0m-118 14h0m-17 1h0m-35-16h0m-37-9h0m-5 23h0m43 21h0m3 3h0m50-13h0m47 5h0m77-9h0m24 25h0m26-16h0m7 8h0m56 5h0m22-21h0m92-2h0m-136 51h0m-12-16h0m-26 3h0m-17-4h0m-40 22h0m-24-12h0m-37 7h0m-48-7h0m-55-1h0m-35 11h0m-34 6h0m7 21h0m106 6h0m30-8h0m132-8h0m14 4h0m28 1h0m12 5h0m37 2h0m1-16h0m31 9h0m-1 34h0m-30-15h0m-9 0h0m-5 17h0m-38 1h0m-9-20h0m-21 22h0m-58-4h0m-9-11h0m-7 2h0m-22-2h0m-40 14h0m-23-16h0m25 28h0m56-8h0m23 20h0m32-5h0m50-5h0m2-8h0m26 1h0m5 13h0m9 10h0m22-10h0m-27 36h0m-22-1h0m-7-16h0m-20-5h0m-29 14h0m-20-2h0m0 1h0m-41-9h0m-7 19h0m-2-21h0m-4 3h0m-1 20h0m-68-14h0m-41 40h0m117-17h0m28 0h0m7 7h0m9-3h0m4 12h0m37-11h0m1 20h0m64-18h0m-24 46h0m-61-24h0m-17 15h0m-13-16h0m-10 16h0m-48 5h0m-11 3h0m-37-10h0m-5 11h0m-4 23h0m54-3h0m133-15h0m-42 36h0m-16 21h0m-19-9h0m-51 9h0m-49-26h0m-7 0h0m32 35h0m45 8h0m3-1h0m27 7h0" stroke="#52186D" stroke-width="15" stroke-linecap="round" fill="none"/><path transform="scale(.1)" d="M3896 2616h0m-67 2h0m-57 47h0m108-18h0m209 23h0m-85 20h0m-118-11h0m-40 41h0m113 4h0m10-18h0m36 5h0m2-6h0m74 14h0m13 22h0m-87 3h0m-274 4h0m-73 29h0m16-10h0m230 20h0m30-8h0m104-14h0m2 26h0m-8 25h0m-3 2h0m-95 0h0m-102-17h0m-27-2h0m-67 37h0m59-10h0m28 19h0m80-13h0m114 1h0m11 21h0m-41 2h0m-2 8h0m-22-1h0m-14 4h0m-11-13h0m-96 21h0m-26 0h0m-60-25h0m-19 10h0m-21 3h0m-4-7h0m-35 10h0m14 33h0m13-14h0m164 14h0m38-14h0m2 23h0m22-6h0m73-8h0m2 11h0m56-2h0m-48 36h0m-5-28h0m-27 4h0m-31 3h0m-1 1h0m-26-9h0m-7 9h0m-4 16h0m-97-4h0m-4-15h0m-23 10h0m-19 2h0m116 28h0m21 1h0m23-9h0m30 10h0m9 10h0m17-16h0m4 8h0m36-13h0m-47 28h0m-3 3h0m-19 4h0m-26 9h0m-39-13h0m-16 2h0m-1-6h0m-7 7h0m-8-5h0m-6 8h0m-11-5h0m-9 19h0m-26-12h0m-17-9h0m-20-7h0m28 30h0m73 13h0m92 11h0m6-16h0m-55 24h0m-7 19h0m-10-11h0m-21-4h0m-15 14h0m-8-5h0m-4 1h0m-36-4h0m-3-3h0m-19-1h0m54 44h0m4-11h0m71-11h0m1 1h0m10 8h0m7-3h0m11 16h0" stroke="#6F1E6B" stroke-width="15" stroke-linecap="round" fill="none"/><path transform="scale(.1)" d="M4026 2647h0m34 35h0m-185 1h0m-69 23h0m10-2h0m140 13h0m14 40h0m-12-10h0m-269 0h0m84 16h0m87 15h0m131-11h0m86 20h0m42-24h0m-229 38h0m-10-7h0m-214 4h0m56 38h0m39 13h0m31-6h0m15-6h0m229 30h0m-30 6h0m-127-5h0m-61-16h0m-98 20h0m155 17h0m10 16h0m13 3h0m191 3h0m-68 18h0m-75 7h0m-43-9h0m-97-1h0m-10 11h0m-12 1h0m-13-9h0m49 28h0m15-15h0m98 19h0m1-14h0m90 2h0m-26 24h0m-64 2h0m-15 24h0m0-14h0m-72-10h0m-22 23h0m-2-19h0m-25-5h0m-19 13h0m45 22h0m28-2h0m4 2h0m35 14h0m31 19h0m-18-8h0m-5 25h0m-3-18h0m-7 15h0m0-1h0m-35-13h0m-28-4h0m-3 3h0m14 37h0m33 4h0m69 0h0" stroke="#8C2467" stroke-width="15" stroke-linecap="round" fill="none"/><path transform="scale(.1)" d="M3832 2660h0m276 52h0m15 15h0m-156 20h0m-235 6h0m-67 75h0m81-2h0m33 9h0m17-12h0m93 19h0m135-10h0m-76 37h0m-140-7h0m46 43h0m60-16h0m34 2h0m19 23h0m-138 38h0m6 13h0m2-11h0m5 8h0m29-22h0m23 14h0m67 17h0m-48 16h0m-18-2h0m-52 6h0m-42-3h0m-20 1h0m16 22h0m6 18h0m13-22h0m3-3h0m27 4h0m48 3h0m11 13h0m13-8h0m9 2h0m19-10h0m13-1h0m-4 40h0m-28 11h0m-23-23h0m-7 0h0m-77 13h0m-3-9h0m18 28h0m11-5h0m12 4h0m10-6h0m11 13h0m58 2h0" stroke="#AE3558" stroke-width="15" stroke-linecap="round" fill="none"/><path transform="scale(.1)" d="M3735 2816h0m268 14h0m-294 20h0m45 50h0m145 34h0m-131 16h0m134 14h0m23 3h0m62 24h0m-25 8h0m-48-23h0m-110 18h0m9 7h0m16 21h0m104 2h0m2 29h0m-45-6h0m-10-3h0m-10 3h0m-9-7h0m-17 15h0m-33-7h0m67 31h0m5 0h0m36-2h0m16 7h0m-37 13h0" stroke="#CB4A44" stroke-width="15" stroke-linecap="round" fill="none"/><path transform="scale(.1)" d="M3979 2958h0m-60 39h0m-29-11h0m-73 5h0m99 30h0m-27 37h0m-47-8h0m7 34h0m36-5h0m5-4h0m23-8h0m9-5h0m17 26h0" stroke="#E2642E" stroke-width="15" stroke-linecap="round" fill="none"/><path transform="scale(.1)" d="M3727 2875h0m170 180h0m22 23h0" stroke="#EE8422" stroke-width="15" stroke-linecap="round" fill="none"/><path transform="scale(.1)" d="M3810 3046h0m63 16h0" stroke="#F4A129" stroke-width="15" stroke-linecap="round" fill="none"/><path transform="scale(.1)" d="M3931 2990h0m-118-4h0m38 71h0m12 20h0m73 7h0m-40 8h0" stroke="#F7BE3A" stroke-width="15" stroke-linecap="round" fill="none"/><rect x="361.90" y="258.40" width="52.00" height="51.60" fill="none" stroke="#555" stroke-width="0.5"/><line x1="361.10" y1="270.20" x2="361.90" y2="270.20" stroke="#555" stroke-width="0.3"/><text x="360.8" y="271.2" font-size="2.8" fill="#555" stroke="#555" stroke-width="0.08" text-anchor="end">20</text><line x1="361.10" y1="282.90" x2="361.90" y2="282.90" stroke="#555" stroke-width="0.3"/><text x="360.8" y="283.9" font-size="2.8" fill="#555" stroke="#555" stroke-width="0.08" text-anchor="end">0</text><line x1="361.10" y1="295.60" x2="361.90" y2="295.60" stroke="#555" stroke-width="0.3"/><text x="360.8" y="296.6" font-size="2.8" fill="#555" stroke="#555" stroke-width="0.08" text-anchor="end">−20</text><line x1="361.10" y1="308.30" x2="361.90" y2="308.30" stroke="#555" stroke-width="0.3"/><text x="360.8" y="309.3" font-size="2.8" fill="#555" stroke="#555" stroke-width="0.08" text-anchor="end">−40</text><line x1="364.80" y1="310.00" x2="364.80" y2="310.80" stroke="#555" stroke-width="0.3"/><text x="364.8" y="313.2" font-size="2.8" fill="#555" stroke="#555" stroke-width="0.08" text-anchor="middle">−30</text><line x1="373.60" y1="310.00" x2="373.60" y2="310.80" stroke="#555" stroke-width="0.3"/><text x="373.6" y="313.2" font-size="2.8" fill="#555" stroke="#555" stroke-width="0.08" text-anchor="middle">−20</text><line x1="382.40" y1="310.00" x2="382.40" y2="310.80" stroke="#555" stroke-width="0.3"/><text x="382.4" y="313.2" font-size="2.8" fill="#555" stroke="#555" stroke-width="0.08" text-anchor="middle">−10</text><line x1="391.20" y1="310.00" x2="391.20" y2="310.80" stroke="#555" stroke-width="0.3"/><text x="391.2" y="313.2" font-size="2.8" fill="#555" stroke="#555" stroke-width="0.08" text-anchor="middle">0</text><line x1="400.00" y1="310.00" x2="400.00" y2="310.80" stroke="#555" stroke-width="0.3"/><text x="400.0" y="313.2" font-size="2.8" fill="#555" stroke="#555" stroke-width="0.08" text-anchor="middle">10</text><line x1="408.80" y1="310.00" x2="408.80" y2="310.80" stroke="#555" stroke-width="0.3"/><text x="408.8" y="313.2" font-size="2.8" fill="#555" stroke="#555" stroke-width="0.08" text-anchor="middle">20</text><text x="389.4" y="316.2" font-size="2.6" fill="#333" stroke="#333" stroke-width="0.08" text-anchor="middle">tSNE_1</text><text x="355.9" y="283.9" font-size="2.6" fill="#333" stroke="#333" stroke-width="0.08" text-anchor="middle" transform="rotate(-90 355.9 283.9)">tSNE_2</text><text x="387.9" y="255.5" font-size="4.5" fill="#1a1a1a" stroke="#1a1a1a" stroke-width="0.12" text-anchor="middle">TNFA_SIGNALING</text><rect x="416.80" y="280.10" width="2.10" height="0.97" fill="#F7BE3A" stroke="none" stroke-width="0.5"/><rect x="416.80" y="281.02" width="2.10" height="0.97" fill="#F39824" stroke="none" stroke-width="0.5"/><rect x="416.80" y="281.94" width="2.10" height="0.97" fill="#E66E2A" stroke="none" stroke-width="0.5"/><rect x="416.80" y="282.86" width="2.10" height="0.97" fill="#CB4A44" stroke="none" stroke-width="0.5"/><rect x="416.80" y="283.78" width="2.10" height="0.97" fill="#A32F5D" stroke="none" stroke-width="0.5"/><rect x="416.80" y="284.70" width="2.10" height="0.97" fill="#792069" stroke="none" stroke-width="0.5"/><rect x="416.80" y="285.62" width="2.10" height="0.97" fill="#52186D" stroke="none" stroke-width="0.5"/><rect x="416.80" y="286.54" width="2.10" height="0.97" fill="#351458" stroke="none" stroke-width="0.5"/><rect x="416.80" y="287.46" width="2.10" height="0.97" fill="#210F41" stroke="none" stroke-width="0.5"/><rect x="416.80" y="288.38" width="2.10" height="0.97" fill="#120A2A" stroke="none" stroke-width="0.5"/><text x="416.8" y="279.0" font-size="1.9" fill="#333" stroke="#333" stroke-width="0.04">AUC</text><text x="419.4" y="281.4" font-size="1.8" fill="#555" stroke="#555" stroke-width="0.04">0.1</text><text x="419.4" y="283.8" font-size="1.8" fill="#555" stroke="#555" stroke-width="0.04">0.2</text><text x="419.4" y="286.2" font-size="1.8" fill="#555" stroke="#555" stroke-width="0.04">0.3</text><text x="419.4" y="288.6" font-size="1.8" fill="#555" stroke="#555" stroke-width="0.04">0.4</text><text x="395.8" y="302.7" font-size="2.65" fill="#1a1a1a" stroke="#1a1a1a" stroke-width="0.08" text-anchor="middle">High Sqstm1&High Sox4</text><text x="394.6" y="285.0" font-size="2.65" fill="#1a1a1a" stroke="#1a1a1a" stroke-width="0.08" text-anchor="middle">High Sqstm1&Low Sox4</text><text x="392.2" y="271.0" font-size="2.65" fill="#1a1a1a" stroke="#1a1a1a" stroke-width="0.08" text-anchor="middle">High Amy2a/b</text><text x="1.3" y="332.4" font-size="7.2" fill="#000" stroke="#000" stroke-width="0.12">G</text><line x1="22.80" y1="336.00" x2="22.80" y2="411.30" stroke="#333333" stroke-width="0.6"/><line x1="22.80" y1="411.30" x2="122.50" y2="411.30" stroke="#333333" stroke-width="0.6"/><line x1="21.50" y1="339.60" x2="22.80" y2="339.60" stroke="#333333" stroke-width="0.5"/><text x="21.0" y="341.3" font-size="5.2" fill="#4D4D4D" stroke="#4D4D4D" stroke-width="0.12" text-anchor="end">300</text><line x1="21.50" y1="362.40" x2="22.80" y2="362.40" stroke="#333333" stroke-width="0.5"/><text x="21.0" y="364.1" font-size="5.2" fill="#4D4D4D" stroke="#4D4D4D" stroke-width="0.12" text-anchor="end">200</text><line x1="21.50" y1="385.20" x2="22.80" y2="385.20" stroke="#333333" stroke-width="0.5"/><text x="21.0" y="386.9" font-size="5.2" fill="#4D4D4D" stroke="#4D4D4D" stroke-width="0.12" text-anchor="end">100</text><line x1="21.50" y1="408.00" x2="22.80" y2="408.00" stroke="#333333" stroke-width="0.5"/><text x="21.0" y="409.7" font-size="5.2" fill="#4D4D4D" stroke="#4D4D4D" stroke-width="0.12" text-anchor="end">0</text><line x1="28.10" y1="411.30" x2="28.10" y2="412.60" stroke="#333333" stroke-width="0.5"/><text x="28.1" y="417.6" font-size="5.2" fill="#4D4D4D" stroke="#4D4D4D" stroke-width="0.12" text-anchor="middle">−5.0</text><line x1="46.85" y1="411.30" x2="46.85" y2="412.60" stroke="#333333" stroke-width="0.5"/><text x="46.8" y="417.6" font-size="5.2" fill="#4D4D4D" stroke="#4D4D4D" stroke-width="0.12" text-anchor="middle">−2.5</text><line x1="65.60" y1="411.30" x2="65.60" y2="412.60" stroke="#333333" stroke-width="0.5"/><text x="65.6" y="417.6" font-size="5.2" fill="#4D4D4D" stroke="#4D4D4D" stroke-width="0.12" text-anchor="middle">0.0</text><line x1="84.35" y1="411.30" x2="84.35" y2="412.60" stroke="#333333" stroke-width="0.5"/><text x="84.3" y="417.6" font-size="5.2" fill="#4D4D4D" stroke="#4D4D4D" stroke-width="0.12" text-anchor="middle">2.5</text><line x1="103.10" y1="411.30" x2="103.10" y2="412.60" stroke="#333333" stroke-width="0.5"/><text x="103.1" y="417.6" font-size="5.2" fill="#4D4D4D" stroke="#4D4D4D" stroke-width="0.12" text-anchor="middle">5.0</text><line x1="121.85" y1="411.30" x2="121.85" y2="412.60" stroke="#333333" stroke-width="0.5"/><text x="121.8" y="417.6" font-size="5.2" fill="#4D4D4D" stroke="#4D4D4D" stroke-width="0.12" text-anchor="middle">7.5</text><text x="73.0" y="424.3" font-size="5.3" fill="#000" stroke="#000" stroke-width="0.12" text-anchor="middle">avg_log2FC</text><text x="9.3" y="374.0" font-size="5.3" fill="#000" stroke="#000" stroke-width="0.12" text-anchor="middle" transform="rotate(-90 9.3 374.0)">−log10(Pvalue)</text><line x1="27.00" y1="406.10" x2="121.00" y2="406.10" stroke="#A0A0A0" stroke-width="0.6" stroke-dasharray="3.5 2.2 0.8 2.2"/><path transform="scale(.1)" d="M567 4046h0m22-2h0m20 0h0m5 5h0m16-2h0m1-5h0m2 2h0m3-10h0m1 11h0m3 3h0m3 0h0m1-5h0m8 5h0m2-7h0m2 8h0m3-3h0m7 2h0m7-3h0m27 17h0m-1 0h0m-8 9h0m-9-18h0m-4 12h0m-2-7h0m-1-2h0m-1 8h0m0 5h0m-1-4h0m0-12h0m0 8h0m-1-7h0m0 0h0m-3-4h0m-1 14h0m0-4h0m-1-6h0m0-3h0m-1 21h0m0-14h0m-1 4h0m-1 3h0m0-5h0m0 10h0m-1-15h0m0 8h0m0-8h0m-1 2h0m0 0h0m-1 5h0m0-10h0m0 4h0m0 10h0m0-9h0m0 3h0m-1-3h0m-1 2h0m0-5h0m-1 6h0m0-5h0m-1 8h0m-1 3h0m0 3h0m0-15h0m-1 10h0m0-4h0m0-6h0m0-4h0m0 14h0m0-4h0m-1 7h0m-3-4h0m0-3h0m-1-5h0m0 10h0m0-8h0m-1-4h0m0 1h0m0 10h0m0-6h0m0-1h0m0 5h0m0-5h0m0-1h0m0 15h0m-1-7h0m0-9h0m0 6h0m0-11h0m-1 11h0m-1 0h0m0 6h0m0-14h0m0 4h0m0 2h0m-2 0h0m0-1h0m0 8h0m0-8h0m-1 9h0m0-10h0m0 1h0m0 2h0m-1 4h0m0-5h0m-1-1h0m-1-4h0m0 7h0m0-4h0m0-3h0m0-4h0m-1 9h0m0-2h0m0-5h0m0 5h0m0 2h0m0 0h0m0-4h0m0 6h0m-1-1h0m0-9h0m0 6h0m-1 3h0m0-2h0m0-3h0m0 19h0m0-16h0m0 8h0m0-12h0m0 16h0m-1-8h0m0-9h0m0 13h0m0-10h0m0 1h0m0-4h0m0 15h0m-1 3h0m0-17h0m0 3h0m-1-2h0m0 2h0m0 1h0m0 2h0m0-2h0m0 1h0m0-4h0m-1 3h0m-1 13h0m0-20h0m0 5h0m0 0h0m-1-1h0m-1 8h0m0 1h0m0-2h0m-1 0h0m0 8h0m0-13h0m0-2h0m0 8h0m0-7h0m-1 1h0m0 9h0m0-8h0m0-6h0m0 7h0m-1 1h0m0 7h0m-1-13h0m0-3h0m0 4h0m-1 4h0m0 2h0m0 5h0m-1-8h0m0-7h0m0 2h0m-1 7h0m-1 10h0m0-20h0m0 10h0m-1 3h0m0 11h0m0-14h0m0 14h0m0-24h0m-1 9h0m0 7h0m-1-8h0m-1 10h0m0-3h0m0-4h0m0 3h0m-1-6h0m-1-2h0m0 2h0m0 3h0m-1-3h0m0 2h0m-1-2h0m0-6h0m-1 11h0m0-8h0m-1-5h0m0 17h0m0-15h0m0 8h0m0 3h0m-1-3h0m0 1h0m0-6h0m0 8h0m-1 1h0m0-5h0m-1 5h0m-2-3h0m0 2h0m-1 8h0m0-16h0m0 0h0m-1 4h0m0-4h0m0-3h0m-1 11h0m0-6h0m-1 0h0m-1 8h0m0-12h0m-2-3h0m-1 1h0m0 9h0m-1-4h0m-1 18h0m0-16h0m-1 4h0m0 4h0m-1-10h0m0 2h0m0 6h0m-1-7h0m-1 6h0m0-6h0m-1 3h0m0 4h0m0-4h0m-1 0h0m0 7h0m0-6h0m-2 0h0m-1 2h0m0-2h0m-1-1h0m-1-3h0m-2-5h0m-3 7h0m0 15h0m-1-15h0m-3 12h0m-1-19h0m-7 17h0" stroke="#A9A9A9" stroke-width="13" stroke-linecap="square" fill="none"/><path transform="scale(.1)" d="M396 3351h0m-96-2h0m-30 5h0m89 58h0m-17-10h0m38 46h0m17 54h0m24 8h0m-18 32h0m26 7h0m22 20h0m133 23h0m-153 5h0m44 9h0m11 8h0m86 38h0m-115-4h0m-12 21h0m72 6h0m1-5h0m38 20h0m-97 2h0m-16 33h0m108 10h0m-20 29h0m-37-5h0m-12 38h0m103-1h0m-77 16h0m12 63h0m-8 14h0m-38 37h0m24 3h0m2-29h0m1 22h0m7 2h0m4 2h0m3-13h0m1 2h0m4 14h0m4-21h0m1 13h0m33 4h0m35 21h0m-9 4h0m-26-7h0m-3-1h0m-18 6h0m-5 6h0m-10-22h0m-13 23h0m-2-23h0m-25 13h0m8 26h0m28 5h0m0-16h0m4 12h0m13-2h0m2 17h0m4-20h0m2-4h0m0 20h0m0-17h0m1 9h0m1-9h0m9 5h0m1 12h0m2 4h0m2-11h0m0-2h0m2 2h0m2 5h0m9 7h0m6-6h0m4-11h0m3-6h0m30 17h0m17 32h0m-4-6h0m-11 9h0m-6-27h0m-6 0h0m-4 22h0m-2-21h0m0 20h0m-2 1h0m-5-20h0m-2 0h0m-1 27h0m-1-11h0m-1-8h0m-1-4h0m-4 19h0m0-9h0m-6 5h0m-1-4h0m-7-1h0m-3-11h0m-1 6h0m-3-4h0m0 18h0m-1-4h0m-7 3h0m-1-19h0m-3 23h0m0-22h0m-12 11h0m0-7h0m-7 13h0m-8-17h0m-6 21h0m-1-25h0m-5 3h0m-9 18h0m-3-20h0m-5 12h0m-1 3h0m-5 8h0m-1-21h0m11 51h0m1-17h0m3 1h0m7-6h0m4 3h0m8 1h0m9 7h0m0-1h0m1 0h0m5 3h0m4 2h0m1-6h0m4-5h0m4 11h0m0-8h0m1-7h0m0 0h0m9-2h0m1 14h0m1 10h0m1-21h0m6 17h0m2-6h0m0 5h0m3 3h0m3-16h0m1 11h0m3-4h0m0-15h0m2 12h0m5 0h0m2-9h0m2 21h0m5-16h0m0 10h0m3-18h0m1 5h0m1 13h0m1-12h0m9 22h0m2-26h0m8 22h0m4-21h0m0 16h0m4-15h0m2 11h0m0-5h0m1 9h0m0-3h0m3 1h0m2-8h0m1-8h0m2 12h0m4 3h0m2-1h0m4 1h0m5 5h0m0-20h0m8 18h0m0 5h0" stroke="#7CC84A" stroke-width="13" stroke-linecap="square" fill="none"/><path transform="scale(.1)" d="M1178 3393h0m-283 5h0m-68 74h0m36 37h0m197 7h0m-160 30h0m-56 49h0m69 24h0m-37 50h0m-25 24h0m-75 51h0m27 5h0m48 5h0m-3 6h0m-34-5h0m-5-5h0m-37 10h0m-8 46h0m10-25h0m11 11h0m3 8h0m16-13h0m23 10h0m18 18h0m-3 2h0m-7-1h0m-6 16h0m-34-17h0m-30 6h0m92 41h0m-64 30h0m-2-13h0m-4 6h0m0 8h0m-1-17h0m0 0h0m-6 2h0m0 12h0m0 3h0m0 2h0m-3 4h0m-2-3h0m-1-8h0m0 1h0m-4 6h0m-41 32h0m9-6h0m2 8h0m2-10h0m1 0h0m0-1h0m2-9h0m1 8h0m2-3h0m3 15h0m0-5h0m2 3h0m0-25h0m1 27h0m2-14h0m0 7h0m1-17h0m2 23h0m0-7h0m1 2h0m1-20h0m1 24h0m0-17h0m3 14h0m1-5h0m0 0h0m1-11h0m2 17h0m0 3h0m1-17h0m0 1h0m1 13h0m1 2h0m0-26h0m2 12h0m2 12h0m1-23h0m0 8h0m1 2h0m0-1h0m1-11h0m2 6h0m2 9h0m4-5h0m1-3h0m4 3h0m6-9h0m-26 43h0m-3-6h0m-3-3h0m-3 2h0m0 6h0m-1 0h0m-1 8h0m-2-6h0m0 10h0m-1-13h0m-2-5h0m-2-2h0m-1 4h0m-1-6h0m0 4h0m-1-7h0m-3 18h0m-1-8h0m0-9h0m0 12h0m0 16h0m0-8h0m-1-6h0m-2 1h0m0 12h0m-1-8h0m0-1h0m0 0h0m-2-11h0m0 7h0m0-1h0m-1 15h0m0-17h0m0 6h0m-2-16h0m-1 15h0m-1 7h0m-7 5h0m-4-9h0m0 2h0m-1-5h0m-2 7h0m-3 2h0m-2 2h0m-13 18h0m1 4h0m0 8h0m1-9h0m6 5h0m2 4h0m0-8h0m1 2h0m0-22h0m1 12h0m1 15h0m0-5h0m1-1h0m0 4h0m0 1h0m0-1h0m1 4h0m3-14h0m0 1h0m2 8h0m0-3h0m2-4h0m0-15h0m0 6h0m0-4h0m0 6h0m0 14h0m0-7h0m1-14h0m0 15h0m0 1h0m0-13h0m1-5h0m0 22h0m1-23h0m0 9h0m0 6h0m0-5h0m0 11h0m0-20h0m1 20h0m0-6h0m1 1h0m1-7h0m1-4h0m3-2h0m2 3h0m0 10h0m0-12h0m5-2h0m0 23h0m3-19h0m2-1h0m0 0h0m2-5h0m0 11h0m4-5h0m-28 26h0m0 5h0m-1-5h0m0-2h0m-1 14h0m0 0h0m-3 3h0m-1-15h0m-2 15h0m0-2h0m-2-12h0m-1 11h0m-1 0h0m0 9h0m-2-16h0m-1-3h0m0-3h0m0 7h0m-1 9h0m0 7h0m0-8h0m-1-6h0m0-10h0m0 24h0m-1-11h0m-1-13h0m-2 9h0m-1 5h0m0 14h0m-1-27h0m0 22h0m0-9h0m-1 10h0m0-16h0m0-3h0m0-1h0m-1 23h0m0-11h0m0-2h0m-1 11h0m-1 1h0m0-4h0m-1 0h0m-1-8h0m-1-1h0m-1 13h0m-2 2h0m0-12h0m0 11h0m-1-19h0m0 10h0m0 5h0m-1-17h0m-1 11h0m-2 8h0m0 1h0m0-2h0m-3-2h0m-2-8h0m-2 3h0m-8 12h0m-4-2h0m-1 1h0m-6 19h0m0 5h0m2 0h0m0 2h0m1-9h0m3-4h0m2 12h0m2 6h0m1-19h0m1-3h0m0 4h0m0-6h0m1 2h0m0 10h0m2 11h0m1 0h0m1-14h0m0-2h0m1 10h0m0 4h0m1-8h0m0 2h0m0-19h0m1 7h0m1-1h0m0 12h0m0 1h0m0-2h0m1-2h0m1 6h0m0-14h0m1 2h0m1-3h0m0 7h0m0-14h0m0 6h0m0-5h0m0 23h0m0-15h0m1 12h0m0-18h0m1-3h0m0 28h0m0 1h0m0-14h0m1 6h0m0 1h0m0-6h0m1-7h0m1 3h0m0 1h0m0 1h0m1 7h0m4-12h0m2-9h0m0 11h0m1 10h0m1-19h0m5 5h0m5-1h0m10-2h0m-15 30h0m-20-1h0m-1-2h0m-2 3h0m-6 0h0m-2 0h0m-3 0h0m-2 0h0m0-1h0m0 1h0m0-3h0m-1 3h0m-1 0h0m-5-2h0m-1-2h0m-3 4h0" stroke="#F0282A" stroke-width="13" stroke-linecap="square" fill="none"/><text x="119.6" y="365.2" font-size="5.4" fill="#000" stroke="#000" stroke-width="0.12">Change</text><rect x="121.50" y="367.90" width="1.20" height="1.20" fill="#7CC84A" stroke="none" stroke-width="0.5"/><text x="125.6" y="370.3" font-size="5.3" fill="#1a1a1a" stroke="#1a1a1a" stroke-width="0.12">down</text><rect x="121.50" y="372.70" width="1.20" height="1.20" fill="#B0B0B0" stroke="none" stroke-width="0.5"/><text x="125.6" y="375.1" font-size="5.3" fill="#1a1a1a" stroke="#1a1a1a" stroke-width="0.12">stable</text><rect x="121.50" y="377.50" width="1.20" height="1.20" fill="#F0282A" stroke="none" stroke-width="0.5"/><text x="125.6" y="379.9" font-size="5.3" fill="#1a1a1a" stroke="#1a1a1a" stroke-width="0.12">up</text><text x="163.8" y="332.0" font-size="7.0" fill="#000" stroke="#000" stroke-width="0.08" font-weight="bold">H</text><rect x="284.40" y="333.20" width="41.20" height="93.00" fill="#FFFFFF" stroke="none" stroke-width="0.5"/><line x1="288.18" y1="333.20" x2="288.18" y2="426.20" stroke="#EDEDED" stroke-width="0.3"/><line x1="292.00" y1="333.20" x2="292.00" y2="426.20" stroke="#E2E2E2" stroke-width="0.45"/><line x1="295.82" y1="333.20" x2="295.82" y2="426.20" stroke="#EDEDED" stroke-width="0.3"/><line x1="299.65" y1="333.20" x2="299.65" y2="426.20" stroke="#E2E2E2" stroke-width="0.45"/><line x1="303.48" y1="333.20" x2="303.48" y2="426.20" stroke="#EDEDED" stroke-width="0.3"/><line x1="307.30" y1="333.20" x2="307.30" y2="426.20" stroke="#E2E2E2" stroke-width="0.45"/><line x1="311.12" y1="333.20" x2="311.12" y2="426.20" stroke="#EDEDED" stroke-width="0.3"/><line x1="314.95" y1="333.20" x2="314.95" y2="426.20" stroke="#E2E2E2" stroke-width="0.45"/><line x1="318.78" y1="333.20" x2="318.78" y2="426.20" stroke="#EDEDED" stroke-width="0.3"/><line x1="322.60" y1="333.20" x2="322.60" y2="426.20" stroke="#E2E2E2" stroke-width="0.45"/><line x1="284.40" y1="339.00" x2="325.60" y2="339.00" stroke="#E4E4E4" stroke-width="0.45"/><line x1="284.40" y1="348.40" x2="325.60" y2="348.40" stroke="#E4E4E4" stroke-width="0.45"/><line x1="284.40" y1="357.50" x2="325.60" y2="357.50" stroke="#E4E4E4" stroke-width="0.45"/><line x1="284.40" y1="366.70" x2="325.60" y2="366.70" stroke="#E4E4E4" stroke-width="0.45"/><line x1="284.40" y1="375.80" x2="325.60" y2="375.80" stroke="#E4E4E4" stroke-width="0.45"/><line x1="284.40" y1="385.20" x2="325.60" y2="385.20" stroke="#E4E4E4" stroke-width="0.45"/><line x1="284.40" y1="394.00" x2="325.60" y2="394.00" stroke="#E4E4E4" stroke-width="0.45"/><line x1="284.40" y1="403.30" x2="325.60" y2="403.30" stroke="#E4E4E4" stroke-width="0.45"/><line x1="284.40" y1="412.60" x2="325.60" y2="412.60" stroke="#E4E4E4" stroke-width="0.45"/><line x1="284.40" y1="421.20" x2="325.60" y2="421.20" stroke="#E4E4E4" stroke-width="0.45"/><text x="282.4" y="340.9" font-size="5.35" fill="#1a1a1a" stroke="#1a1a1a" stroke-width="0.12" text-anchor="end">Protein processing in endoplasmic reticulum</text><line x1="283.00" y1="339.00" x2="284.40" y2="339.00" stroke="#333" stroke-width="0.45"/><circle cx="323.70" cy="339.00" r="1.95" fill="#EE0A14"/><text x="282.4" y="350.3" font-size="5.35" fill="#1a1a1a" stroke="#1a1a1a" stroke-width="0.12" text-anchor="end">Oxidative phosphorylation</text><line x1="283.00" y1="348.40" x2="284.40" y2="348.40" stroke="#333" stroke-width="0.45"/><circle cx="319.20" cy="348.40" r="1.90" fill="#EE0A14"/><text x="282.4" y="359.4" font-size="5.35" fill="#1a1a1a" stroke="#1a1a1a" stroke-width="0.12" text-anchor="end">Autophagy − animal</text><line x1="283.00" y1="357.50" x2="284.40" y2="357.50" stroke="#333" stroke-width="0.45"/><circle cx="298.90" cy="357.50" r="1.50" fill="#EE0A14"/><text x="282.4" y="368.6" font-size="5.35" fill="#1a1a1a" stroke="#1a1a1a" stroke-width="0.12" text-anchor="end">Lysosome</text><line x1="283.00" y1="366.70" x2="284.40" y2="366.70" stroke="#333" stroke-width="0.45"/><circle cx="297.40" cy="366.70" r="1.45" fill="#EE0A14"/><text x="282.4" y="377.7" font-size="5.35" fill="#1a1a1a" stroke="#1a1a1a" stroke-width="0.12" text-anchor="end">Apoptosis</text><line x1="283.00" y1="375.80" x2="284.40" y2="375.80" stroke="#333" stroke-width="0.45"/><circle cx="297.30" cy="375.80" r="1.45" fill="#EE0A14"/><text x="282.4" y="387.1" font-size="5.35" fill="#1a1a1a" stroke="#1a1a1a" stroke-width="0.12" text-anchor="end">Mitophagy − animal</text><line x1="283.00" y1="385.20" x2="284.40" y2="385.20" stroke="#333" stroke-width="0.45"/><circle cx="292.80" cy="385.20" r="1.30" fill="#EE0A14"/><text x="282.4" y="395.9" font-size="5.35" fill="#1a1a1a" stroke="#1a1a1a" stroke-width="0.12" text-anchor="end">RNA degradation</text><line x1="283.00" y1="394.00" x2="284.40" y2="394.00" stroke="#333" stroke-width="0.45"/><circle cx="291.40" cy="394.00" r="1.25" fill="#EE0A14"/><text x="282.4" y="405.2" font-size="5.35" fill="#1a1a1a" stroke="#1a1a1a" stroke-width="0.12" text-anchor="end">Nucleotide metabolism</text><line x1="283.00" y1="403.30" x2="284.40" y2="403.30" stroke="#333" stroke-width="0.45"/><circle cx="289.30" cy="403.30" r="1.20" fill="#2C3E9C"/><text x="282.4" y="414.5" font-size="5.35" fill="#1a1a1a" stroke="#1a1a1a" stroke-width="0.12" text-anchor="end">p53 signaling pathway</text><line x1="283.00" y1="412.60" x2="284.40" y2="412.60" stroke="#333" stroke-width="0.45"/><circle cx="288.50" cy="412.60" r="1.15" fill="#C4206A"/><text x="282.4" y="423.1" font-size="5.35" fill="#1a1a1a" stroke="#1a1a1a" stroke-width="0.12" text-anchor="end">Ferroptosis</text><line x1="283.00" y1="421.20" x2="284.40" y2="421.20" stroke="#333" stroke-width="0.45"/><circle cx="286.30" cy="421.20" r="0.85" fill="#EE0A14"/><rect x="284.40" y="333.20" width="41.20" height="93.00" fill="none" stroke="#7F7F7F" stroke-width="0.55"/><line x1="292.00" y1="426.20" x2="292.00" y2="427.40" stroke="#333" stroke-width="0.45"/><text x="292.0" y="432.0" font-size="5.2" fill="#333" stroke="#333" stroke-width="0.12" text-anchor="middle">0.02</text><line x1="307.30" y1="426.20" x2="307.30" y2="427.40" stroke="#333" stroke-width="0.45"/><text x="307.3" y="432.0" font-size="5.2" fill="#333" stroke="#333" stroke-width="0.12" text-anchor="middle">0.04</text><line x1="322.60" y1="426.20" x2="322.60" y2="427.40" stroke="#333" stroke-width="0.45"/><text x="322.6" y="432.0" font-size="5.2" fill="#333" stroke="#333" stroke-width="0.12" text-anchor="middle">0.06</text><text x="306.0" y="438.3" font-size="5.4" fill="#000" stroke="#000" stroke-width="0.12" text-anchor="middle">GeneRatio</text><text x="304.4" y="329.6" font-size="6.0" fill="#000" stroke="#000" stroke-width="0.12" text-anchor="middle">KEGG</text><text x="329.2" y="357.6" font-size="6.1" fill="#000" stroke="#000" stroke-width="0.12">Count</text><circle cx="332.20" cy="363.50" r="1.20" fill="#000"/><text x="335.7" y="365.6" font-size="5.9" fill="#333" stroke="#333" stroke-width="0.12">20</text><circle cx="332.20" cy="368.35" r="1.65" fill="#000"/><text x="335.7" y="370.5" font-size="5.9" fill="#333" stroke="#333" stroke-width="0.12">40</text><circle cx="332.20" cy="373.20" r="2.00" fill="#000"/><text x="335.7" y="375.3" font-size="5.9" fill="#333" stroke="#333" stroke-width="0.12">60</text><circle cx="332.20" cy="378.05" r="2.30" fill="#000"/><text x="335.7" y="380.2" font-size="5.9" fill="#333" stroke="#333" stroke-width="0.12">80</text><text x="329.2" y="389.4" font-size="6.1" fill="#000" stroke="#000" stroke-width="0.12">p.adjust</text><rect x="329.30" y="393.20" width="4.50" height="1.03" fill="#FF0A28" stroke="none" stroke-width="0.5"/><rect x="329.30" y="394.18" width="4.50" height="1.03" fill="#F90B33" stroke="none" stroke-width="0.5"/><rect x="329.30" y="395.16" width="4.50" height="1.03" fill="#F40B3E" stroke="none" stroke-width="0.5"/><rect x="329.30" y="396.14" width="4.50" height="1.03" fill="#EE0C49" stroke="none" stroke-width="0.5"/><rect x="329.30" y="397.12" width="4.50" height="1.03" fill="#E80C54" stroke="none" stroke-width="0.5"/><rect x="329.30" y="398.10" width="4.50" height="1.03" fill="#E20D5F" stroke="none" stroke-width="0.5"/><rect x="329.30" y="399.08" width="4.50" height="1.03" fill="#DD0D69" stroke="none" stroke-width="0.5"/><rect x="329.30" y="400.06" width="4.50" height="1.03" fill="#D70E74" stroke="none" stroke-width="0.5"/><rect x="329.30" y="401.04" width="4.50" height="1.03" fill="#D10E7F" stroke="none" stroke-width="0.5"/><rect x="329.30" y="402.02" width="4.50" height="1.03" fill="#CB0F8A" stroke="none" stroke-width="0.5"/><rect x="329.30" y="403.00" width="4.50" height="1.03" fill="#C60F95" stroke="none" stroke-width="0.5"/><rect x="329.30" y="403.98" width="4.50" height="1.03" fill="#C010A0" stroke="none" stroke-width="0.5"/><rect x="329.30" y="404.96" width="4.50" height="1.03" fill="#B114A2" stroke="none" stroke-width="0.5"/><rect x="329.30" y="405.94" width="4.50" height="1.03" fill="#A218A3" stroke="none" stroke-width="0.5"/><rect x="329.30" y="406.92" width="4.50" height="1.03" fill="#931CA5" stroke="none" stroke-width="0.5"/><rect x="329.30" y="407.90" width="4.50" height="1.03" fill="#8420A6" stroke="none" stroke-width="0.5"/><rect x="329.30" y="408.88" width="4.50" height="1.03" fill="#7524A8" stroke="none" stroke-width="0.5"/><rect x="329.30" y="409.86" width="4.50" height="1.03" fill="#6628AA" stroke="none" stroke-width="0.5"/><rect x="329.30" y="410.84" width="4.50" height="1.03" fill="#572CAB" stroke="none" stroke-width="0.5"/><rect x="329.30" y="411.82" width="4.50" height="1.03" fill="#4830AD" stroke="none" stroke-width="0.5"/><rect x="329.30" y="412.80" width="4.50" height="1.03" fill="#3934AE" stroke="none" stroke-width="0.5"/><rect x="329.30" y="413.78" width="4.50" height="1.03" fill="#2A38B0" stroke="none" stroke-width="0.5"/><text x="335.0" y="398.0" font-size="5.9" fill="#333" stroke="#333" stroke-width="0.12">0.01</text><text x="335.0" y="403.6" font-size="5.9" fill="#333" stroke="#333" stroke-width="0.12">0.02</text><text x="335.0" y="409.1" font-size="5.9" fill="#333" stroke="#333" stroke-width="0.12">0.03</text><text x="335.0" y="414.6" font-size="5.9" fill="#333" stroke="#333" stroke-width="0.12">0.04</text><text x="3.4" y="443.7" font-size="7.0" fill="#000" stroke="#000" stroke-width="0.08" font-weight="bold">I</text><line x1="21.50" y1="452.00" x2="21.50" y2="536.70" stroke="#333333" stroke-width="0.6"/><line x1="21.50" y1="536.70" x2="127.00" y2="536.70" stroke="#333333" stroke-width="0.6"/><line x1="20.20" y1="454.40" x2="21.50" y2="454.40" stroke="#333333" stroke-width="0.5"/><text x="19.6" y="456.1" font-size="5.2" fill="#4D4D4D" stroke="#4D4D4D" stroke-width="0.12" text-anchor="end">2</text><line x1="20.20" y1="480.80" x2="21.50" y2="480.80" stroke="#333333" stroke-width="0.5"/><text x="19.6" y="482.5" font-size="5.2" fill="#4D4D4D" stroke="#4D4D4D" stroke-width="0.12" text-anchor="end">0</text><line x1="20.20" y1="507.20" x2="21.50" y2="507.20" stroke="#333333" stroke-width="0.5"/><text x="19.6" y="508.9" font-size="5.2" fill="#4D4D4D" stroke="#4D4D4D" stroke-width="0.12" text-anchor="end">−2</text><line x1="20.20" y1="533.60" x2="21.50" y2="533.60" stroke="#333333" stroke-width="0.5"/><text x="19.6" y="535.3" font-size="5.2" fill="#4D4D4D" stroke="#4D4D4D" stroke-width="0.12" text-anchor="end">−4</text><line x1="57.80" y1="536.70" x2="57.80" y2="538.00" stroke="#333333" stroke-width="0.5"/><text x="57.8" y="542.2" font-size="5.2" fill="#4D4D4D" stroke="#4D4D4D" stroke-width="0.12" text-anchor="middle">0</text><line x1="94.30" y1="536.70" x2="94.30" y2="538.00" stroke="#333333" stroke-width="0.5"/><text x="94.3" y="542.2" font-size="5.2" fill="#4D4D4D" stroke="#4D4D4D" stroke-width="0.12" text-anchor="middle">5</text><text x="76.0" y="548.3" font-size="5.3" fill="#000" stroke="#000" stroke-width="0.12" text-anchor="middle">Component 1</text><text x="12.3" y="489.5" font-size="5.3" fill="#000" stroke="#000" stroke-width="0.12" text-anchor="middle" transform="rotate(-90 12.3 489.5)">Component 2</text><path transform="scale(.1)" d="M475 4545h0m-88 11h0m-1 13h0m0 10h0m0 0h0m1-1h0m0-3h0m2-14h0m0 24h0m0-3h0m0 7h0m5-10h0m1-12h0m1 6h0m1-5h0m0 19h0m0-5h0m2-12h0m0 2h0m2 10h0m1-3h0m1 5h0m2-20h0m1 1h0m0 1h0m5 18h0m1-10h0m0 5h0m2 0h0m1 7h0m1-6h0m0 3h0m1-17h0m1 1h0m0 10h0m0 4h0m0 5h0m0-12h0m2-2h0m0-3h0m2-7h0m3 20h0m1 0h0m0-7h0m3-3h0m2 10h0m1 3h0m2-8h0m2-11h0m0 23h0m1-13h0m1 4h0m1-8h0m2 13h0m1-11h0m7 14h0m1-16h0m2-2h0m3 13h0m1-13h0m2 18h0m1-19h0m1-4h0m1 16h0m1-12h0m2 9h0m0 1h0m2 5h0m1-2h0m3 6h0m2-12h0m3 3h0m0-13h0m2 14h0m1-8h0m0 9h0m9-2h0m5 4h0m2-6h0m1 0h0m3 8h0m1-3h0m0 4h0m1-2h0m1 2h0m2-6h0m1-11h0m0-9h0m0 16h0m1-14h0m2 21h0m0 6h0m0-4h0m2-8h0m2 4h0m6 6h0m2-8h0m1 2h0m1 0h0m0 8h0m3-6h0m1-13h0m7 15h0m1-6h0m1-2h0m2-2h0m3 6h0m5 2h0m0-7h0m3 8h0m1-21h0m0 19h0m1-1h0m1-1h0m1-14h0m0 7h0m6 2h0m1 8h0m1 2h0m1-19h0m0 13h0m8 4h0m1 5h0m4-2h0m2-5h0m2 8h0m1 0h0m10-3h0m0 3h0m2 0h0m0-8h0m0 8h0m0-10h0m1 8h0m3-5h0m2 7h0m3-7h0m7 6h0m3 0h0m0-14h0m5 7h0m2-6h0m3 16h0m0-1h0m-2 9h0m-2 19h0m0-20h0m-1 9h0m-5-5h0m0-11h0m-2 8h0m-4-1h0m-1 17h0m-3-24h0m0 6h0m-2 3h0m-3-2h0m-2 2h0m-4-7h0m-1 8h0m-1 7h0m-1-2h0m-7-3h0m-7 2h0m-1-3h0m-1 7h0m0 3h0m0-18h0m-1 1h0m-2-2h0m0 14h0m-2 0h0m0-14h0m-3 5h0m-2 0h0m-4 21h0m-2-24h0m-4 12h0m-10-8h0m0-9h0m-1 3h0m-2 4h0m-2-7h0m0 0h0m-1 0h0m-5 9h0m0-8h0m-1 0h0m-1 0h0m-1 8h0m-10-2h0m-3-2h0m0 2h0m0 5h0m-7-12h0m-2 3h0m-2 4h0m-2 0h0m-3-2h0m-1-4h0m-2 10h0m-1-6h0m-1 1h0m0-3h0m-4 17h0m-2-10h0m-4-6h0m-2-2h0m-1 27h0m-2-28h0m-2 7h0m-2 0h0m-16 13h0m-8 2h0m-22-23h0m-4 12h0m-5-8h0m-6 8h0m-12-9h0m-1 0h0m-13-2h0m7 44h0m1 2h0m0 10h0m1-8h0m14 0h0m214-9h0m11 6h0m1 5h0m8-3h0m1-12h0m2-6h0m1 7h0m28 22h0m3-15h0m2 7h0m3 0h0m1 3h0m10-3h0m32 8h0m55 30h0m-10-9h0m-15 7h0m-6-12h0m-10 4h0m-1-2h0m-18-3h0m-1 3h0m-6-4h0m-12-2h0m-2-3h0m-10 0h0m-274-2h0m-11 3h0m-6 2h0m-2 2h0m-6 9h0m-6-1h0m-1 6h0m-6 0h0m-2-9h0m-10 28h0m6 13h0m4-16h0m9 12h0m1-23h0m2 15h0m0-5h0m2 1h0m5-4h0m4-2h0m282 13h0m104-12h0m21-5h0m1 3h0m3 4h0m4 3h0m3-13h0m5 13h0m11 11h0m8 4h0m21-10h0m5 8h0m138 24h0m-7 9h0m-2-2h0m-11-2h0m-8 3h0m-28-1h0m-3-8h0m-7 4h0m-22-2h0m-32-10h0m-3-10h0m0 2h0m-17-3h0m-84 15h0m-401-6h0m-4-8h0m-1 22h0m-1-1h0m0-7h0m0-6h0m-3 17h0m0-13h0m-1-4h0m0-6h0m-7 22h0m-18 6h0m4 25h0m14 1h0m0 0h0m2 0h0m4-9h0m6-16h0m3-2h0m473 0h0m70 20h0m22-19h0m22 3h0m1-1h0m7 8h0m4-4h0m2 0h0m4 4h0m0-6h0m1-2h0m1 9h0m0-1h0m10-10h0m1 6h0m3-7h0m2 17h0m4-12h0m4 19h0m1-2h0m0-3h0m5 1h0m1-2h0m0 0h0m0 2h0m1-17h0m5 25h0m3-6h0m5 4h0m1-5h0m3-13h0m8 14h0m4 0h0m12 4h0m2-6h0m47 9h0m32-1h0m12-7h0m18-7h0m20 14h0m0-4h0m33 27h0m-2 0h0m-5-15h0m-7 10h0m-1 12h0m0-7h0m-6-4h0m0 2h0m-2-8h0m-6 13h0m0-8h0m-2 11h0m-2-8h0m-1-3h0m-5 0h0m-1 3h0m-1 10h0m-4-22h0m0-6h0m0 14h0m-1 0h0m-1 13h0m-1-8h0m-3 9h0m-2-6h0m-2-4h0m-4-7h0m-2 2h0m-14-6h0m-5 11h0m-3-10h0m-1 17h0m-10 2h0m0 0h0m-2-4h0m-5 1h0m-4-6h0m-3-16h0m-5 23h0m0 1h0m-1-12h0m0 4h0m-10 4h0m-1-11h0m-2 1h0m0 1h0m-3 7h0m-1-10h0m-2 10h0m-3-12h0m-2-8h0m-3 3h0m-1 12h0m-1-5h0m-1-3h0m-1 1h0m-1-1h0m-5-7h0m0 13h0m-4-1h0m-1 0h0m-3-3h0m-1-5h0m-5 5h0m-2-8h0m-5 7h0m-5-3h0m-1-3h0m-73 17h0m-606-9h0m0-10h0m-14 1h0m0 2h0m-11 7h0m0 7h0m0 4h0m-1 32h0m0-16h0m6 2h0m2 4h0m3 10h0m8-11h0m743 2h0m27-8h0m3-4h0m4 3h0m6 17h0m0 3h0m2-18h0m0 14h0m1-13h0m4 3h0m1 14h0m0-6h0m1-8h0m1 8h0m0-5h0m2-12h0m2 16h0m1 6h0m1-24h0m2 26h0m0-19h0m0 20h0m1-26h0m1 27h0m1-3h0m0-20h0m0 20h0m1-23h0m0 2h0m0 3h0m0 1h0m1 5h0m1 12h0m0-18h0m2 18h0m0-1h0m0-19h0m1 18h0m0-1h0m1-23h0m0 22h0m2-5h0m0-5h0m0 12h0m1 0h0m0-12h0m0-5h0m0 5h0m0 5h0m1 10h0m0-6h0m0 3h0m0-23h0m1 11h0m0 5h0m0-13h0m0 9h0m0-10h0m0 4h0m1 16h0m1-18h0m0 5h0m1 11h0m1-4h0m0 11h0m0-28h0m1 14h0m0-9h0m0 1h0m2 21h0m0 0h0m1-5h0m0 4h0m0-5h0m2 5h0m1 3h0m0-4h0m0-12h0m1-3h0m0-3h0m1 16h0m0-7h0m2-4h0m0 1h0m1-2h0m1 8h0m1 10h0m1-6h0m0 2h0m0 2h0m1-26h0m1 20h0m1-9h0m1 7h0m1 10h0m1-7h0m2-15h0m0 4h0m0-5h0m1 12h0m1 1h0m0-7h0m1-4h0m0-6h0m2 24h0m5-15h0m1 8h0m0-19h0m3 7h0m0 17h0m0 2h0m3-2h0m1-2h0m0-1h0m6 0h0m4-14h0m10 29h0m-19 12h0m-1-4h0m0-9h0m-3 24h0m-7-9h0m0-15h0m0 11h0m-2 6h0m-1-3h0m0-11h0m-1 9h0m0-5h0m-2 6h0m0-3h0m-1 0h0m-1-9h0m-1 3h0m-3 2h0m-2-11h0m0 21h0m0-21h0m-2 21h0m-1-9h0m0-1h0m-1 8h0m0-4h0m0 2h0m-2-12h0m0 7h0m-1-1h0m0-2h0m0 20h0m-1-10h0m0-8h0m-1-9h0m0-2h0m-1 9h0m0-3h0m0-5h0m-1 22h0m0 2h0m-1-7h0m0 9h0m0-12h0m0-8h0m0 14h0m0-13h0m-1 11h0m0 6h0m0-9h0m0 2h0m-1-10h0m0-4h0m-1 1h0m0 2h0m0 19h0m-1-11h0m-1-12h0m0 21h0m0 3h0m-1-18h0m0 4h0m0 13h0m-1-6h0m0-1h0m0-5h0m0-14h0m-1 1h0m0 16h0m0 0h0m-1 1h0m0-5h0m-1 3h0m0-7h0m-1-1h0m0 0h0m0-2h0m0 10h0m0-10h0m0-1h0m-1 11h0m0-2h0m-1-3h0m0-6h0m-1 15h0m0 6h0m0-1h0m-1-19h0m-1 5h0m0-6h0m0 21h0m0-9h0m0-11h0m0 10h0m0-12h0m-1 3h0m0 16h0m0-22h0m0 6h0m-1 8h0m0 1h0m0-9h0m0-5h0m-1 5h0m0 7h0m-1-7h0m0 22h0m-1-21h0m0 12h0m0-19h0m-1 26h0m0-18h0m0 10h0m-2 2h0m0-11h0m-1-2h0m0 1h0m0 13h0m-2-10h0m-1 8h0m0-16h0m-1-4h0m0 21h0m-1 1h0m-3-1h0m-2-17h0m-1 2h0m0 17h0m-4-14h0m0 5h0m-3 4h0m-2 9h0m0-18h0m-1 18h0m-2-11h0m-4 7h0m-11 1h0m-10-7h0m-99 3h0m-666-1h0m0 3h0m-2-11h0m-1-4h0m-5 12h0m-3 9h0m-1-2h0m-3-16h0m-2 7h0m-10 39h0m3-19h0m2 19h0m5-5h0m2 0h0m0-20h0m0 18h0m1-2h0m2-11h0m0 23h0m1-21h0m0 18h0m2-23h0m1 3h0m9-2h0m0-2h0m715 3h0m67 3h0m9-2h0m4-6h0m3 11h0m0-6h0m2 2h0m4-3h0m1 0h0m1 11h0m0-3h0m2 2h0m0-14h0m1 2h0m0 20h0m2-3h0m0 7h0m1 0h0m2-9h0m3 1h0m1-11h0m1 11h0m1-14h0m1 19h0m0-22h0m2 2h0m1 7h0m1-8h0m3 22h0m0 0h0m2-2h0m1-22h0m0 2h0m0 5h0m1-6h0m2 15h0m0-16h0m0 7h0m1 7h0m0-13h0m2 9h0m1-9h0m0 2h0m0 2h0m1 13h0m0-8h0m1-7h0m3 4h0m0-2h0m3 3h0m1-7h0m2 2h0m1 11h0m2-11h0m0 19h0m3-17h0m5 14h0m1-1h0m2-9h0m6-8h0m6 19h0m14 5h0m-9 10h0m-20 17h0m-2-19h0m-7 1h0m-11 5h0m-4-5h0m-2 8h0m-2-11h0m-3 18h0m-1 3h0m-4 2h0m-9-6h0m-7 4h0m-4-18h0m-2 4h0m0-6h0m-17 15h0m-804 3h0m-1 6h0m0-23h0m0 2h0m-4 17h0m-4-21h0m-1 0h0m-2 15h0m-1 13h0m-1-16h0m1 28h0m2-2h0m2 16h0m5-16h0m1 18h0m805 0h0m24-3h0m3-12h0m9 14h0m0-19h0m0-7h0m7 6h0m5 7h0m3-8h0m2 22h0m5-25h0m6 8h0m1 26h0m-8 21h0m-15-4h0m-1 6h0m-4-23h0m-3 4h0m-3-6h0m-2 14h0m-2-13h0m-6 11h0m-827-11h0m-4 18h0m-2 1h0m-1 0h0m-3-20h0m0 11h0m-2-14h0m-4 17h0m-1 10h0m-1-24h0m0 2h0m-2 14h0m-2-20h0m-3 55h0m9-19h0m2 8h0m0-7h0m4 5h0m4 15h0m824-22h0m5 2h0m20-4h0m7 1h0m7 15h0m6-13h0m-874 24h0m-10 21h0m-4-2h0m-6-10h0m-3 16h0m-11-13h0m12 45h0m3-20h0m8 21h0m3-27h0m-5 29h0m-7 7h0m0 15h0m-1-15h0m19 149h0m21 17h0m7 23h0m-10-6h0m-4 17h0m-21-19h0m19 28h0m29 31h0m-49-2h0" stroke="#F8766D" stroke-width="10" stroke-linecap="square" fill="none"/><path transform="scale(.1)" d="M491 4557h0m-124-8h0m-6 35h0m2 3h0m0 1h0m1-6h0m2-1h0m0-9h0m1 12h0m1-24h0m0 23h0m2-14h0m1-6h0m3 22h0m2 4h0m0-17h0m0-6h0m1-3h0m0 23h0m1-17h0m1 13h0m2-3h0m4 10h0m1-9h0m4 8h0m0-5h0m2-8h0m3-15h0m2 8h0m46 6h0m48 7h0m-1 17h0m-10-5h0m-37 1h0m-20 9h0m-35-4h0m-2-3h0m-2-2h0m-2 14h0m0-8h0m-3 2h0m0-8h0m-2 1h0m0-3h0m-2 2h0m-1 1h0m0 8h0m-1-11h0m-1 4h0m0 3h0m-1 14h0m-1-16h0m-1 5h0m0-1h0m-1 1h0m-1 0h0m0 1h0m0-8h0m-1-5h0m-1 23h0m0-16h0m-2 3h0m0 8h0m-2-1h0m0-9h0m-1 1h0m-2 6h0m-3-10h0m-3 13h0m29 38h0m4-1h0m11-9h0m3 5h0m4-6h0m0 14h0m0-17h0m1 13h0m0 0h0m0-12h0m3 12h0m1-3h0m0-7h0m1 5h0m3-12h0m8 16h0m-6 6h0m-3 6h0m0 20h0m0-18h0m-2-8h0m-1 7h0m-1-5h0m0 20h0m0-4h0m-2-7h0m0 5h0m-1-12h0m-1-3h0m-1 21h0m-1 5h0m0-13h0m0 14h0m-1-18h0m-1-8h0m0 23h0m0-5h0m-1-15h0m0 7h0m-1 9h0m0-8h0m-2-2h0m0 18h0m0-6h0m0 6h0m0-20h0m0 17h0m-1-12h0m-2 9h0m-1 2h0m-1-19h0m0 5h0m-1-1h0m-1 3h0m0 13h0m0-1h0m-2-18h0m0 22h0m-1-14h0m-1-7h0m-1 20h0m-4-1h0m-16 28h0m2 3h0m1 0h0m0-11h0m4 0h0m3 12h0m0-9h0m1-7h0m1 10h0m1-21h0m0 22h0m0-24h0m1 26h0m0-17h0m1-5h0m0 2h0m0 12h0m1-6h0m1 9h0m1-20h0m1 4h0m0 12h0m1 11h0m1-5h0m0-8h0m0-6h0m4 0h0m0 4h0m0-3h0m0-7h0m0 8h0m1-11h0m0 4h0m2 19h0m5-16h0m1 4h0m1-11h0m2 10h0m5-9h0m1 6h0m2-5h0m-22 33h0m-1 24h0m0-17h0m-3-3h0m-1-8h0m-2 12h0m-2-7h0m-1 15h0m-3-13h0m-1-7h0m0 8h0m0 16h0m-1-3h0m0 4h0m0-22h0m0 13h0m-1 0h0m0 6h0m0-3h0m-1 6h0m-1-9h0m-1-7h0m0 2h0m0 10h0m0-15h0m-2 2h0m-1 13h0m-1 4h0m0-10h0m0-1h0m0-4h0m-2 1h0m0 14h0m-1 3h0m-1-13h0m-2 12h0m-3-25h0m-5 26h0m-4 28h0m2-15h0m1-4h0m0 21h0m3-7h0m1 3h0m0-2h0m0-14h0m0-3h0m2 17h0m1-8h0m1 8h0m1 2h0m3-18h0m1 15h0m1-4h0m1 10h0m2-14h0m1 14h0m2-12h0m0-7h0m1 4h0m2 6h0m3-14h0m0 4h0m1-4h0m4 5h0m-10 45h0m-6-8h0m-3-7h0m-2 9h0m0 5h0m-2-12h0m-2 2h0m-2-12h0m0 21h0m0 1h0m0-19h0m0 24h0m-1-6h0m0-20h0m0-3h0m0 24h0m0-19h0m-1 18h0m0-21h0m-1 3h0m0 8h0m-1 6h0m-3-16h0m0 18h0m0-13h0m-2 1h0m-1 14h0m-3-13h0m-8 41h0m8-12h0m1 11h0m1-4h0m0-13h0m0 26h0m1-6h0m0-3h0m1-12h0m0 2h0m1 13h0m1-23h0m0 23h0m1-10h0m0 11h0m0-10h0m0 6h0m1-2h0m0-9h0m2 9h0m0-16h0m0 17h0m1 3h0m2 1h0m0 5h0m0-3h0m0-19h0m0-4h0m1 2h0m8 9h0m-13 32h0m0-14h0m-2 6h0m-1-6h0m-1 3h0m-1 12h0m0 3h0m0-3h0m-1 12h0m0-8h0m-1 2h0m0-8h0m-1-12h0m0 8h0m0-7h0m0 7h0m-1-7h0m-1 6h0m0 17h0m-1 2h0m0-8h0m-1 3h0m0 1h0m0-3h0m-1-13h0m-2 15h0m-1 6h0m0-15h0m0-2h0m0-5h0m-1 6h0m0 16h0m-2-14h0m-2 11h0m-1-9h0m-2 3h0m-1 8h0m-6 5h0m1 12h0m1 0h0m1-9h0m2 0h0m0 15h0m0-18h0m2 23h0m1-10h0m0 11h0m0-19h0m0 1h0m2-9h0m1 7h0m0 5h0m0 10h0m1-7h0m3-3h0m0-12h0m0 13h0m1 10h0m1 4h0m1-12h0m1 4h0m1-18h0m1 1h0m-4 50h0m-2 1h0m-1-13h0m0 17h0m0-21h0m-1 8h0m-2 3h0m-1 1h0m-1-17h0m-4 25h0m0-21h0m-1 10h0m0-9h0m0 21h0m0-14h0m0 4h0m-1 4h0m0 1h0m-2 7h0m0-1h0m0-24h0m-2 9h0m-1 16h0m-1-21h0m-1 14h0m-1-18h0m0 2h0m-2 23h0m-5-3h0m-2 22h0m5-3h0m2-9h0m0 15h0m0 3h0m1-8h0m0-3h0m0-5h0m2-2h0m1 8h0m1 1h0m0-5h0m0-2h0m1 13h0m0 1h0m1 7h0m2-7h0m1-22h0m2 4h0m0 1h0m6-5h0m-1 46h0m-7-6h0m-1-10h0m-1 12h0m-2 7h0m-1-18h0m0 8h0m-4 4h0m-1-12h0m-2 13h0m-2 1h0m0-6h0m0 7h0m0 3h0m-1 4h0m-1-10h0m-1-3h0m-5-6h0m-2 24h0m-4-1h0m-9 29h0m9-17h0m2-7h0m0 4h0m3 9h0m0-12h0m2 22h0m2-9h0m2 5h0m2 4h0m0-13h0m0 11h0m1-8h0m2 8h0m0-10h0m3-9h0m6 15h0m1 23h0m-8-8h0m-1 15h0m-5-14h0m-2 0h0m-2 0h0m-1 13h0m-1-6h0m-3 17h0m-2-2h0m-1-25h0m-2 21h0m0 3h0m0-13h0m-2 13h0m-15 33h0m3-2h0m7-7h0m2-7h0m0 10h0m2-5h0m1-18h0m2 15h0m1-13h0m1 15h0m1-4h0m1 2h0m0 10h0m1-14h0m0 9h0m2-3h0m1-8h0m1-6h0m0 4h0m0 13h0m1 4h0m1-2h0m3-3h0m-5 23h0m-7 3h0m0-14h0m-2 19h0m-1-14h0m-1-3h0m0 20h0m-3-6h0m-1 2h0m0-12h0m-3 2h0m-6 42h0m7-1h0m3 8h0m14-14h0m-7 21h0m-10 20h0m-1-24h0m-1 3h0m-2 14h0m-2 1h0m0 9h0m-2 1h0m-2-8h0m-3 7h0m-6-18h0m3 29h0m0 13h0m6 0h0m2-20h0m2 1h0m2 12h0m8 13h0m0 44h0m16 44h0m-6-19h0m-5 50h0m28-16h0m-11 19h0" stroke="#22B022" stroke-width="10" stroke-linecap="square" fill="none"/><path transform="scale(.1)" d="M393 4646h0m3 3h0m6 5h0m-3 2h0m-3 3h0m-5 6h0m0 7h0m-4 1h0m-15 2h0m4 27h0m10 0h0m2 1h0m0 4h0m0-21h0m-15 40h0m-2-6h0m-6-4h0m-1 5h0m-12 48h0m2-9h0m0-3h0m13 7h0m1-11h0m1 1h0m820 4h0m-11 37h0m-15-7h0m-4 0h0m-11 4h0m-801-16h0m0 3h0m-16 27h0m17 7h0m790-6h0m19 19h0m15 3h0m14-13h0m4 13h0m2-6h0m26-14h0m-6 44h0m-11-1h0m-3-5h0m-18 7h0m-6-10h0m-4 11h0m0-18h0m-1-2h0m-8 1h0m-16-6h0m-800 28h0m0-24h0m-6-2h0m-9 9h0m-11 33h0m5-1h0m3 11h0m6-16h0m3 6h0m8-7h0m865 18h0m3 13h0m-63-8h0m-823 11h0m0 14h0m-3-20h0m-2 19h0m-16-1h0m-3 4h0m14 3h0m3 10h0m9-3h0m3-6h0m801 29h0m-810 16h0m-8-6h0m0 14h0m-5-2h0m-1 6h0m0-3h0m-17 25h0m5-3h0m9-13h0m874 7h0m12 3h0m-887 37h0m-3-15h0m-2-3h0m-6 8h0m-4 25h0m3 5h0m6 19h0m-1 15h0m-1-12h0m-2 12h0m-2-5h0m-3 1h0m-1 14h0m-2-17h0m0 10h0m-3-8h0m0-2h0m-2 14h0m-2-8h0m-4 9h0m0 21h0m2 5h0m1-17h0m1 7h0m3 8h0m0-9h0m1 1h0m1-1h0m0 12h0m0 3h0m2 4h0m0-26h0m1 21h0m0-12h0m1-3h0m0 3h0m1 17h0m3-8h0m0-19h0m1 11h0m0 26h0m-7 20h0m-4-21h0m0 0h0m0 1h0m-1 2h0m-1-3h0m-1 17h0m-1-8h0m-1 5h0m-2-8h0m0 1h0m0-12h0m0 18h0m-2-4h0m-1 14h0m-1-20h0m0-9h0m-1 15h0m-1 13h0m-1-2h0m0-9h0m-6 35h0m4 6h0m1 1h0m1-2h0m3-26h0m0-1h0m0 1h0m1 3h0m3 17h0m0-19h0m1 21h0m1-11h0m1 5h0m0 11h0m3-11h0m0-2h0m3-9h0m0 5h0m2 11h0m0-17h0m1 8h0m1 6h0m-3 13h0m-8-2h0m-3 8h0m76 39h0m-19 36h0m-43-23h0m-12 59h0m29-22h0m30 25h0m-30 13h0" stroke="#619CFF" stroke-width="10" stroke-linecap="square" fill="none"/><path d="M40.9 465.1 Q44 460.8 50.5 461.2 Q55 461.6 60 463.4 L115.6 481.6" stroke="#000" stroke-width="1.6" fill="none"/><circle cx="41.80" cy="464.50" r="2.20" fill="#000"/><text x="41.8" y="465.6" font-size="2.8" fill="#bbb" stroke="#bbb" stroke-width="0.08" text-anchor="middle">1</text><text x="122.7" y="457.8" font-size="5.6" fill="#000" stroke="#000" stroke-width="0.12">Celltype</text><rect x="130.20" y="462.20" width="1.20" height="1.20" fill="#F8766D" stroke="none" stroke-width="0.5"/><text x="135.8" y="464.8" font-size="5.35" fill="#1a1a1a" stroke="#1a1a1a" stroke-width="0.12">High Amy2a/b</text><rect x="130.20" y="468.10" width="1.20" height="1.20" fill="#22B022" stroke="none" stroke-width="0.5"/><text x="135.8" y="470.7" font-size="5.35" fill="#1a1a1a" stroke="#1a1a1a" stroke-width="0.12">High Sqstm1&Low Sox4</text><rect x="130.20" y="474.00" width="1.20" height="1.20" fill="#619CFF" stroke="none" stroke-width="0.5"/><text x="135.8" y="476.6" font-size="5.35" fill="#1a1a1a" stroke="#1a1a1a" stroke-width="0.12">High Sqstm1&High Sox4</text><text x="202.6" y="443.7" font-size="7.0" fill="#000" stroke="#000" stroke-width="0.08" font-weight="bold">J</text><line x1="218.60" y1="452.50" x2="218.60" y2="537.20" stroke="#333333" stroke-width="0.6"/><line x1="218.60" y1="537.20" x2="324.10" y2="537.20" stroke="#333333" stroke-width="0.6"/><line x1="217.30" y1="454.90" x2="218.60" y2="454.90" stroke="#333333" stroke-width="0.5"/><text x="216.7" y="456.6" font-size="5.2" fill="#4D4D4D" stroke="#4D4D4D" stroke-width="0.12" text-anchor="end">2</text><line x1="217.30" y1="481.30" x2="218.60" y2="481.30" stroke="#333333" stroke-width="0.5"/><text x="216.7" y="483.0" font-size="5.2" fill="#4D4D4D" stroke="#4D4D4D" stroke-width="0.12" text-anchor="end">0</text><line x1="217.30" y1="507.70" x2="218.60" y2="507.70" stroke="#333333" stroke-width="0.5"/><text x="216.7" y="509.4" font-size="5.2" fill="#4D4D4D" stroke="#4D4D4D" stroke-width="0.12" text-anchor="end">−2</text><line x1="217.30" y1="534.10" x2="218.60" y2="534.10" stroke="#333333" stroke-width="0.5"/><text x="216.7" y="535.8" font-size="5.2" fill="#4D4D4D" stroke="#4D4D4D" stroke-width="0.12" text-anchor="end">−4</text><line x1="254.90" y1="537.20" x2="254.90" y2="538.50" stroke="#333333" stroke-width="0.5"/><text x="254.9" y="542.7" font-size="5.2" fill="#4D4D4D" stroke="#4D4D4D" stroke-width="0.12" text-anchor="middle">0</text><line x1="291.40" y1="537.20" x2="291.40" y2="538.50" stroke="#333333" stroke-width="0.5"/><text x="291.4" y="542.7" font-size="5.2" fill="#4D4D4D" stroke="#4D4D4D" stroke-width="0.12" text-anchor="middle">5</text><text x="273.1" y="548.8" font-size="5.3" fill="#000" stroke="#000" stroke-width="0.12" text-anchor="middle">Component 1</text><text x="209.4" y="490.0" font-size="5.3" fill="#000" stroke="#000" stroke-width="0.12" text-anchor="middle" transform="rotate(-90 209.4 490.0)">Component 2</text><path transform="scale(.1)" d="M3193 4795h0m-72-11h0m-25 25h0m10 14h0m5 6h0m16-6h0m4-23h0m0 10h0m2 7h0m0 7h0m1-11h0m1 10h0m1 3h0m1-4h0m0-5h0m4-14h0m0 23h0m0-17h0m3 4h0m0 3h0m1 1h0m1 2h0m1-12h0m6 5h0m1 17h0m2-9h0m1 3h0m0-22h0m1 16h0m4 4h0m1-13h0m13 19h0m6 24h0m-2-20h0m-4 28h0m-1-23h0m0-6h0m-2 19h0m-1-9h0m-2 18h0m-2-12h0m0-9h0m-1 20h0m0 1h0m-2-14h0m-1 4h0m-1 2h0m0-8h0m0 2h0m-1 7h0m-3-2h0m-1-11h0m0 2h0m-1-9h0m-1 5h0m0-3h0m-1 0h0m-2 13h0m0-2h0m-1-9h0m0 2h0m-2 22h0m-1-24h0m0-3h0m-1 13h0m0-14h0m0 19h0m0 8h0m-2-1h0m-1-4h0m0-14h0m0 8h0m0-13h0m-1 22h0m0-20h0m-1 8h0m-1 8h0m0-4h0m-1-8h0m0 10h0m0 0h0m-1-2h0m-1 0h0m0 3h0m0-19h0m0 11h0m-1-3h0m-1 7h0m0 9h0m0-11h0m0-1h0m-2-13h0m0 14h0m0 14h0m-2-2h0m0-9h0m-5-2h0m0-2h0m-1-7h0m0 2h0m-1-1h0m-3 4h0m-1-10h0m0 16h0m-6-9h0m-2-2h0m-3 6h0m-6 10h0m-2 2h0m-7 10h0m7 0h0m2-3h0m1 7h0m0 8h0m9-13h0m9 8h0m2-3h0m3 0h0m0-9h0m6 20h0m1 1h0m0-16h0m3 10h0m1-8h0m0 13h0m1-13h0m1 3h0m1 15h0m0-8h0m2-17h0m1 4h0m4 17h0m0 7h0m0-25h0m0 9h0m1 17h0m1-24h0m0 8h0m1 10h0m1-12h0m0 10h0m1-4h0m0 0h0m0-13h0m1 23h0m2-6h0m3-19h0m1 22h0m1-8h0m2-3h0m1 7h0m4-5h0m1 0h0m1 12h0m4-10h0m22-9h0m-11 41h0m-21-14h0m-9 7h0m-6-12h0m-9 21h0m-3-19h0m-2-2h0m-7 17h0m-10-15h0m-1 22h0m-5-7h0m-4 3h0m13 22h0m10 0h0m0 6h0m4 9h0m0-20h0m8 21h0m5-5h0m5-8h0m-3 43h0m-24-7h0m-18 6h0m21 6h0m0 11h0m1-4h0m3 1h0m10 0h0m5-5h0m1-3h0m-25 27h0" stroke="#132B43" stroke-width="10" stroke-linecap="square" fill="none"/><path transform="scale(.1)" d="M2959 4763h0m240 31h0m-13-6h0m-20 11h0m-6 0h0m-2-1h0m-9-10h0m-3-18h0m-28 1h0m-15 27h0m-44 0h0m0-13h0m-27 0h0m-6 10h0m-1-2h0m-6-15h0m-5 1h0m-8 10h0m-3-15h0m-4 10h0m-4-7h0m66 29h0m22-4h0m6 12h0m1-5h0m6 0h0m2 19h0m10-15h0m0 15h0m3-4h0m4-8h0m0-3h0m0 5h0m3 9h0m7-18h0m1 19h0m0-20h0m3-1h0m1 21h0m1 0h0m0-12h0m1-1h0m0 12h0m0-3h0m0 3h0m1-3h0m1-19h0m1 10h0m5 7h0m1-13h0m0 14h0m1-22h0m6 17h0m1 7h0m3-12h0m1 12h0m2-14h0m1 1h0m0 7h0m0-5h0m1 2h0m1 6h0m1 3h0m1-2h0m1-23h0m2 12h0m0 13h0m1-8h0m5-1h0m4 12h0m8-8h0m7-1h0m18 32h0m-9-14h0m-2 3h0m-11 15h0m-1-25h0m-4 17h0m-1-1h0m-1 2h0m-1-11h0m-6 11h0m0-13h0m-3-5h0m-1 29h0m0-5h0m0-18h0m-1-6h0m0 16h0m-1 12h0m0-23h0m-1-4h0m0 21h0m0-11h0m0 11h0m-1 6h0m-3-17h0m-1-9h0m-1 26h0m-1-16h0m-1-2h0m0 0h0m-1 3h0m-1-2h0m0-3h0m-1 10h0m-1-9h0m-1-9h0m0 16h0m-1 5h0m0-8h0m0 16h0m-2-29h0m-1 7h0m0 4h0m-1 1h0m0-5h0m-1 2h0m0 11h0m0 1h0m-1-12h0m0-2h0m-1 18h0m0-7h0m-1-11h0m0 22h0m0-5h0m-1-5h0m0-14h0m0 1h0m0 22h0m0-3h0m0-21h0m0-1h0m-1 26h0m-2-19h0m0 18h0m0-5h0m-1 4h0m0-24h0m-2-3h0m-1 14h0m-1 13h0m0-2h0m-1 3h0m-1-18h0m0-9h0m-1 26h0m0-27h0m-5 22h0m0 2h0m-3-12h0m-1-2h0m0-3h0m-1 1h0m-2 17h0m-2-8h0m-3 3h0m-7-19h0m-7 3h0m-70 45h0m67-14h0m4-4h0m5 19h0m2-16h0m0 24h0m3-23h0m8 6h0m0 5h0m4-13h0m2 6h0m1-2h0m1 22h0m2-12h0m1-1h0m1-6h0m0-5h0m1 7h0m1 14h0m3-26h0m1 24h0m2-21h0m2 3h0m0-6h0m1 4h0m1 3h0m0 9h0m3-2h0m0 8h0m0-20h0m2 15h0m0-11h0m3 5h0m0-2h0m0-1h0m1 6h0m0 10h0m0-9h0m0 9h0m1-24h0m0 6h0m0 1h0m2 3h0m1 9h0m1-6h0m0 9h0m2-22h0m1 18h0m1-4h0m1-14h0m0 25h0m1-1h0m1-12h0m1 1h0m1 0h0m0 3h0m3 0h0m7-14h0m1 5h0m2-3h0m0-3h0m0 16h0m1-14h0m-1 27h0m-6 18h0m-2-12h0m-5 12h0m-7 6h0m-7-12h0m0 4h0m-12 7h0m-9-6h0m-2-16h0m-2 7h0m-4-7h0m-13 14h0m0 26h0m16-8h0m10-3h0m7 4h0m48-1h0m-39 37h0m-1-3h0m-17-7h0m-14 11h0m-4-7h0m-3 11h0m8 25h0m5 6h0m11 7h0m29 0h0m-51 9h0" stroke="#1B3C5A" stroke-width="10" stroke-linecap="square" fill="none"/><path transform="scale(.1)" d="M2624 4641h0m146 61h0m36-4h0m81 33h0m-3 0h0m-39-19h0m-7 2h0m-39 3h0m19 37h0m83-4h0m1-2h0m33 14h0m3-1h0m12 6h0m5-2h0m1-5h0m1-2h0m0 6h0m1-21h0m1 16h0m0 10h0m1-1h0m2-10h0m1-2h0m1 13h0m8-3h0m6 1h0m14 2h0m13-1h0m77 31h0m-10-10h0m-24-2h0m-1 9h0m-4-2h0m-2-10h0m-1-5h0m-1 16h0m-5-4h0m-1-2h0m-1-10h0m-9 2h0m-1 7h0m-1 4h0m-2-2h0m0-5h0m-2-12h0m-4 10h0m-3-1h0m-1 8h0m-1-16h0m-1 9h0m-6-3h0m0 2h0m-4 0h0m-9-4h0m-2-4h0m-5-1h0m-3 0h0m-5 2h0m-2 0h0m-8-4h0m-75 3h0m50 30h0m120-2h0m6 1h0m4 26h0m2-20h0m14-2h0m14 7h0m21 58h0" stroke="#244C70" stroke-width="10" stroke-linecap="square" fill="none"/><path transform="scale(.1)" d="M2390 4573h0m94 16h0m20-1h0m51 0h0m21-2h0m11 16h0m-1-3h0m0 19h0m-7-20h0m-1 15h0m-1-1h0m-10-6h0m-1 5h0m-7 3h0m0-19h0m-7 11h0m-6-9h0m-3 21h0m0-9h0m-5 10h0m-4-11h0m-14-16h0m-7 13h0m-6 9h0m-7-21h0m-21 25h0m-2-20h0m-8 14h0m-13-10h0m-3-8h0m-16-1h0m74 41h0m53-6h0m3-5h0m1 3h0m0-4h0m7 15h0m3-15h0m5 11h0m4 13h0m17-13h0m3 12h0m6-8h0m33 3h0m94 38h0m-24-4h0m-8-2h0m-25-9h0m-8 11h0m-3-12h0m-1 11h0m-27-23h0m-17 6h0m92 35h0m15 1h0m6 2h0m4 6h0m5-3h0m26-3h0m13 3h0m5 4h0m6-1h0m177 39h0m-100-8h0m-54-14h0m-74 22h0m-100-25h0m316 55h0m6-3h0m47 17h0m-32-13h0m-24 3h0m17 91h0" stroke="#2C5D86" stroke-width="10" stroke-linecap="square" fill="none"/><path transform="scale(.1)" d="M2346 4551h0m-25 25h0m4-15h0m1 23h0m6-3h0m3-1h0m4-9h0m1 11h0m2 4h0m2-9h0m2 5h0m1-8h0m6 15h0m1-17h0m1 15h0m1-9h0m9 0h0m0 1h0m0 5h0m1-4h0m1-6h0m6-8h0m3 9h0m2 9h0m2 5h0m4-7h0m2-2h0m0-2h0m5 1h0m4 1h0m2 2h0m0-6h0m1 4h0m5 9h0m4 0h0m2-20h0m2 18h0m1-8h0m18-10h0m6 11h0m4 2h0m3-6h0m8 4h0m7 4h0m2-3h0m10 8h0m5-4h0m2 0h0m23-2h0m32-2h0m14-2h0m8 6h0m31 27h0m-8-9h0m-2 2h0m-3 9h0m-1 0h0m-8 4h0m-1-7h0m-1-7h0m0 11h0m-1 2h0m-1-5h0m-1 0h0m-1 0h0m0-8h0m-6-7h0m0 17h0m-3-6h0m-5-8h0m-3 5h0m0-1h0m-2 5h0m-1-13h0m-2 9h0m-1 12h0m-1-24h0m-2 17h0m-4-9h0m-3 6h0m-2 5h0m0-17h0m0 16h0m0-6h0m-2 9h0m-1-22h0m-1 19h0m0-14h0m-2 3h0m-1 2h0m-5 3h0m-1 6h0m-1-9h0m-1 6h0m0-12h0m-1 19h0m0-14h0m-1 3h0m0 1h0m-1-8h0m-1 16h0m0-21h0m0 19h0m-2-7h0m-1 2h0m-2 9h0m-1 3h0m-4-14h0m-1 7h0m-1-21h0m0 16h0m0-9h0m-3 12h0m-3-1h0m0 0h0m-3-3h0m-1 13h0m-5-12h0m-6-4h0m0 3h0m-2 13h0m-2-7h0m0-13h0m0-1h0m-1 9h0m-11-5h0m-1-5h0m-2-3h0m-1 15h0m-3-10h0m-2 2h0m-2-4h0m-3 4h0m-1-3h0m-3-1h0m-3 13h0m-2-9h0m0 4h0m-1-7h0m0 1h0m-2 15h0m-2-14h0m-8-7h0m-1-1h0m-1 3h0m-5-3h0m0 9h0m0-6h0m-1 8h0m-4 9h0m-2-19h0m0 1h0m-1 23h0m-2-13h0m0-1h0m-3-10h0m0 3h0m-1 3h0m0-5h0m-1 3h0m0 9h0m-13-1h0m-3-2h0m-7-4h0m0 3h0m-9-4h0m-2 14h0m-3-16h0m-2 11h0m-1 9h0m0 0h0m-1-16h0m-1 3h0m-1 1h0m-3 14h0m-3-1h0m0-15h0m-1 1h0m0-7h0m0-3h0m-1 19h0m0-3h0m-2 3h0m0-14h0m-1 5h0m-1-1h0m0 3h0m-2 2h0m0-4h0m-1-9h0m-1 5h0m0 0h0m-1 20h0m-1-1h0m-2-27h0m-2 22h0m-2-16h0m-1-3h0m0 7h0m-2 10h0m-1-12h0m-1 6h0m-4-9h0m-7 32h0m10 5h0m8-5h0m1-7h0m4 2h0m3 6h0m1 4h0m6 4h0m2-11h0m13-5h0m9 27h0m6-2h0m1 4h0m22-25h0m21-2h0m24 7h0m42 5h0m16 0h0m45-6h0m24-7h0m1 0h0m13 12h0m13 6h0m72 36h0m-2-13h0m-9-5h0m-7-3h0m-15-2h0m-14 0h0m0 1h0m-238 23h0m0-18h0m-3-5h0m-1 5h0m0 14h0m-1-13h0m-5 10h0m0 0h0m-2-13h0m-2 3h0m-1 6h0m-1-10h0m0-4h0m0 3h0m0 12h0m-1 0h0m-1-2h0m0 4h0m0 0h0m-1 4h0m-3-12h0m-3 5h0m0-14h0m-1 28h0m-5-7h0m-10 29h0m0-12h0m2 4h0m2 14h0m3-17h0m0 19h0m1-5h0m2-17h0m3 4h0m2 10h0m0-7h0m1-11h0m1 24h0m2-9h0m0-12h0m1 6h0m1 3h0m1-9h0m0-1h0m1 20h0m1-17h0m3-6h0m10 2h0m-26 44h0m-2-11h0m-1-1h0m-3 2h0m-2 6h0m-1-6h0m-2-6h0m-1 24h0m0 1h0m-8-11h0m-1-6h0m-2 17h0m-1 6h0m4 5h0m3 9h0m3 10h0m0-13h0m10-14h0m3 0h0m-13 41h0m-11-1h0m-8-10h0m-5 3h0m-2 18h0m0 46h0" stroke="#346E9D" stroke-width="10" stroke-linecap="square" fill="none"/><path transform="scale(.1)" d="M2353 4579h0m11 9h0m1-3h0m18-1h0m20 3h0m6-1h0m6 1h0m15-7h0m36 0h0m105 32h0m-91-20h0m-5 24h0m-18-23h0m-24 14h0m-6-10h0m-9-5h0m-1-1h0m-3 11h0m-3-4h0m-10 4h0m-2-8h0m-12 8h0m-2-7h0m-11 12h0m-1-5h0m0 9h0m-5-10h0m-14-3h0m11 23h0m13 27h0m96-14h0m90-12h0m-182 44h0m-5-11h0m-1-4h0m-1 12h0m0 5h0m-1-2h0m-1-5h0m0-3h0m-2-8h0m0 3h0m-3 4h0m-2 12h0m0 4h0m0 3h0m-1-1h0m0-4h0m-1-11h0m-1 6h0m-2-11h0m-1 5h0m-1 16h0m0-4h0m-2 7h0m-3-18h0m-19 45h0m0 1h0m1 0h0m5-5h0m1-15h0m0 8h0m1 9h0m3-10h0m2-11h0m1 12h0m0 12h0m0-2h0m0 1h0m1-25h0m5 7h0m0 1h0m0 8h0m0-7h0m1-1h0m0 10h0m1-9h0m0 17h0m1-20h0m0-2h0m1 14h0m0-2h0m1-5h0m1 16h0m1-17h0m0 15h0m0 2h0m2-16h0m1 7h0m0-19h0m1 4h0m1-3h0m4 6h0m9 0h0m-10 25h0m-3 6h0m-6-8h0m-4 13h0m-1-7h0m-1 3h0m0 12h0m0 4h0m0-16h0m0-1h0m-1-4h0m0 1h0m-1 0h0m-2 1h0m0 7h0m-1 1h0m-1-8h0m-1 13h0m0 0h0m0 7h0m0-5h0m-1 4h0m0 3h0m0 0h0m-1-7h0m-1-15h0m-1 10h0m0-2h0m0-8h0m0 0h0m-1-6h0m-1 21h0m0-4h0m-1-15h0m0 0h0m-1 26h0m-1-21h0m0 19h0m0-3h0m-1 4h0m-1-9h0m0 6h0m-1-6h0m-1-3h0m-1 1h0m0-2h0m-1 8h0m0 3h0m-2-13h0m-1 14h0m-4-5h0m-1-3h0m0 3h0m-1 3h0m-3 0h0m-11 28h0m9 6h0m1-3h0m1-11h0m1 10h0m1 1h0m1 3h0m0-22h0m0 22h0m1-14h0m1-10h0m1 8h0m0 8h0m1 7h0m0-9h0m0-6h0m1 15h0m0-1h0m0-9h0m1-10h0m0 13h0m1 7h0m0-16h0m1 10h0m1-4h0m0 11h0m1-7h0m0-18h0m1 14h0m0-14h0m1 6h0m3-1h0m1 10h0m0-11h0m0 14h0m1-18h0m4 23h0m0-14h0m1 14h0m0-3h0m1-23h0m0 4h0m1 4h0m0 10h0m-9 36h0m-1 1h0m-1 2h0m-1-18h0m-3 6h0m0 7h0m-1-10h0m0-5h0m0 6h0m-2 3h0m-1 9h0m0-25h0m0 18h0m-1 9h0m-1-12h0m0 4h0m0 7h0m0-14h0m-1-11h0m0 2h0m0 8h0m0 7h0m-2-4h0m-1-11h0m0 20h0m-1-3h0m0-2h0m0-6h0m-1 8h0m0-16h0m-1 17h0m-1-2h0m-1 5h0m0-11h0m-1 16h0m0-17h0m-1-12h0m0 26h0m0-18h0m-1 18h0m-1-8h0m-12 41h0m0-22h0m1 13h0m1 5h0m1-10h0m1 4h0m1 9h0m0-8h0m2-18h0m0 7h0m2 14h0m0-9h0m0 9h0m3-5h0m1 4h0m1 4h0m0-24h0m0 14h0m0 6h0m1-4h0m1-10h0m1 10h0m0 1h0m0-15h0m2 23h0m0-24h0m1-2h0m1 5h0m1 11h0m0-6h0m1-7h0m1 3h0m3-5h0m0 15h0m3-9h0m-12 24h0m0 19h0m-8 8h0m-1-26h0m-1 12h0m-1 9h0m-1-11h0m-1 14h0m0-26h0m-1 1h0m0 0h0m-1 22h0m0-13h0m0-4h0m-1-2h0m0 3h0m-3 1h0m-1 2h0m0 16h0m-1-9h0m0 5h0m-1-14h0m-2 11h0m0-14h0m-2 18h0m-2-19h0m-3 20h0m3 34h0m2-11h0m3 4h0m4-3h0m0-19h0m1 16h0m1-13h0m1 3h0m1 21h0m1-4h0m1-16h0m3 11h0m5 9h0m10-24h0m-14 32h0m-13 2h0m-2 9h0m-3-12h0m-1-4h0m0 0h0m-5 18h0m-2 8h0m-2-6h0m-1-11h0m-14 25h0m8 21h0m13-2h0m0-4h0m0 25h0m-4-14h0m0 2h0m-19 0h0m15 43h0m-17 19h0" stroke="#3D7FB4" stroke-width="10" stroke-linecap="square" fill="none"/><path transform="scale(.1)" d="M2327 4744h0m5 16h0m18-4h0m-30 31h0m-15 22h0m5 5h0m2 14h0m0-9h0m5 6h0m2-1h0m1-3h0m0-10h0m0 11h0m0-8h0m6-1h0m0 43h0m-5-23h0m0-3h0m-2 6h0m-1 6h0m-2-6h0m-8 0h0m0-3h0m-3 26h0m-2-1h0m-5-11h0m-1-9h0m-3 20h0m-5-3h0m-4 29h0m3-7h0m2 9h0m5-6h0m2-8h0m1 12h0m1-14h0m2-3h0m0-3h0m0 0h0m1 14h0m0-3h0m1 14h0m1-5h0m1-4h0m4-9h0m3-3h0m4-5h0m-7 42h0m-1 8h0m-2-8h0m-1 7h0m-2-21h0m0 26h0m-1-1h0m-2-9h0m0-9h0m-2 5h0m0-5h0m-1-8h0m0 27h0m-1-6h0m0-2h0m0 2h0m-1 3h0m-1-11h0m0-6h0m-1 11h0m-1-8h0m0 12h0m0-10h0m0 13h0m-3-7h0m0-3h0m-1 2h0m-2 9h0m-1-7h0m0 6h0m-1-8h0m-1 12h0m-1-7h0m0 4h0m0 0h0m-3-7h0m-1 7h0m0-4h0m-7 11h0m4 18h0m1 2h0m1 1h0m3-3h0m0-15h0m2 16h0m1-2h0m0 0h0m1-1h0m0 7h0m0-20h0m1 22h0m1-17h0m1 13h0m0-10h0m0 4h0m1 10h0m0-14h0m1-10h0m1 20h0m1-20h0m0 0h0m2 7h0m0 11h0m3-15h0m4 5h0m-1 19h0m-5 27h0m-1-25h0m-1 5h0m-3 3h0m-1-1h0m-1 8h0m-3-14h0m-1 18h0m0 7h0m0-7h0m0 6h0m-1-14h0m-3 9h0m0 5h0m-1-19h0m-1 4h0m-2 13h0m0-3h0m-3 4h0m0-23h0m0 9h0m-3-6h0m-4 17h0m-5-15h0m-4 46h0m4-6h0m4-3h0m2 4h0m0-12h0m1 17h0m1-9h0m1 2h0m0 5h0m6 0h0m1 4h0m0-1h0m2-3h0m1-23h0m1 0h0m0 10h0m1 2h0m1-1h0m1 6h0m0 3h0m-2 11h0m-2 5h0m-3 10h0m-1 11h0m0-20h0m-1 15h0m0-20h0m0 17h0m0-19h0m-1 10h0m-1 8h0m0 1h0m-1-14h0m-1-5h0m-1 12h0m0 3h0m0 4h0m-2-10h0m-1-8h0m-1 25h0m0-6h0m-1-9h0m0 15h0m-1-22h0m-1 3h0m0 16h0m0 3h0m-1-4h0m-1-9h0m0-1h0m-1 2h0m-2 10h0m-1 8h0m1 22h0m1-5h0m0 5h0m1-5h0m0 6h0m0-2h0m1-15h0m2 0h0m0 2h0m6 8h0m1-7h0m0 5h0m2 8h0m1 1h0m-7 14h0m0-7h0m0 4h0m-2-6h0m-4 5h0m-1 15h0m0-3h0m-1-6h0m0 13h0m-2-21h0m-3 6h0m-3 2h0m-1 6h0m-2 1h0m3 34h0m4-13h0m0 19h0m5-8h0m0-14h0m1-2h0m0 15h0m5 6h0m5-22h0m-18 50h0m-1-14h0m-3-6h0m0 28h0m10 7h0m-17 23h0" stroke="#4590CA" stroke-width="10" stroke-linecap="square" fill="none"/><path transform="scale(.1)" d="M2281 4962h0m-9 2h0m-19 40h0m26-23h0m-4 29h0m0 7h0m-2 8h0m-3 7h0m-2-20h0m-1 16h0m0 4h0m-2-8h0m-1 8h0m-7-21h0m-7 46h0m9-10h0m2 22h0m0-17h0m4-5h0m0 1h0m5 10h0m1 1h0m8-10h0m-12 49h0m-2-21h0m-1-3h0m0 12h0m-1 2h0m-1 11h0m0 0h0m0 0h0m-1-12h0m-1 12h0m-1-18h0m0-7h0m-1 15h0m0-11h0m-1 4h0m-1 11h0m-1 0h0m-4-7h0m-5-5h0m0 34h0m2-11h0m1 5h0m0-6h0m1 26h0m0-1h0m0-8h0m0-9h0m0 12h0m2-11h0m2 12h0m0 2h0m1 0h0m2-4h0m1-12h0m5 11h0m5-16h0m0 15h0m0-16h0m-11 46h0m-4-8h0m0-9h0m-2 15h0m0-2h0m-1-7h0m-1 5h0m-1 7h0m0-1h0m-1 1h0m-2-2h0m-1 1h0m0-4h0m-1-11h0m0 24h0m-1-28h0m-4 23h0m-1 29h0m1-8h0m0 3h0m3 8h0m0-24h0m2 3h0m0 13h0m2-4h0m0 7h0m0-18h0m3 12h0m0-15h0m0 18h0m1 11h0m0-27h0m2 15h0m1-5h0m0-11h0m2 11h0m0-12h0m1 5h0m2 12h0m-6 19h0m-5-6h0m-1 15h0m-1-15h0m-2 11h0m-1-3h0m-1 1h0m-8 0h0m-2 9h0m25 33h0m2 2h0m19 4h0m38 25h0m-25-4h0m-5-16h0m-8 14h0m0 0h0m-1-14h0m-1 6h0m-10 21h0m6 5h0m9 25h0m4-2h0m3-25h0m0 22h0m2-17h0m17 31h0m-5 5h0m-20 7h0m-19-15h0m-9-3h0" stroke="#4EA0E0" stroke-width="10" stroke-linecap="square" fill="none"/><path transform="scale(.1)" d="M2252 5152h0m-14 18h0m8-9h0" stroke="#56B1F7" stroke-width="10" stroke-linecap="square" fill="none"/><path transform="translate(196.8 1.4)" d="M40.9 465.1 Q44 460.8 50.5 461.2 Q55 461.6 60 463.4 L115.6 481.6" stroke="#000" stroke-width="1.6" fill="none"/><circle cx="238.60" cy="466.20" r="2.20" fill="#000"/><text x="238.6" y="467.3" font-size="2.8" fill="#bbb" stroke="#bbb" stroke-width="0.08" text-anchor="middle">1</text><text x="321.1" y="458.4" font-size="5.15" fill="#000" stroke="#000" stroke-width="0.12">Pseudotime</text><rect x="322.00" y="462.20" width="1.05" height="6.50" fill="#132B43" stroke="none" stroke-width="0.5"/><rect x="323.00" y="462.20" width="1.05" height="6.50" fill="#16314B" stroke="none" stroke-width="0.5"/><rect x="324.00" y="462.20" width="1.05" height="6.50" fill="#193753" stroke="none" stroke-width="0.5"/><rect x="325.00" y="462.20" width="1.05" height="6.50" fill="#1C3C5A" stroke="none" stroke-width="0.5"/><rect x="326.00" y="462.20" width="1.05" height="6.50" fill="#1F4262" stroke="none" stroke-width="0.5"/><rect x="327.00" y="462.20" width="1.05" height="6.50" fill="#22486A" stroke="none" stroke-width="0.5"/><rect x="328.00" y="462.20" width="1.05" height="6.50" fill="#244E72" stroke="none" stroke-width="0.5"/><rect x="329.00" y="462.20" width="1.05" height="6.50" fill="#27547A" stroke="none" stroke-width="0.5"/><rect x="330.00" y="462.20" width="1.05" height="6.50" fill="#2A5A82" stroke="none" stroke-width="0.5"/><rect x="331.00" y="462.20" width="1.05" height="6.50" fill="#2D5F89" stroke="none" stroke-width="0.5"/><rect x="332.00" y="462.20" width="1.05" height="6.50" fill="#306591" stroke="none" stroke-width="0.5"/><rect x="333.00" y="462.20" width="1.05" height="6.50" fill="#336B99" stroke="none" stroke-width="0.5"/><rect x="334.00" y="462.20" width="1.05" height="6.50" fill="#3671A1" stroke="none" stroke-width="0.5"/><rect x="335.00" y="462.20" width="1.05" height="6.50" fill="#3977A9" stroke="none" stroke-width="0.5"/><rect x="336.00" y="462.20" width="1.05" height="6.50" fill="#3C7DB1" stroke="none" stroke-width="0.5"/><rect x="337.00" y="462.20" width="1.05" height="6.50" fill="#3F82B8" stroke="none" stroke-width="0.5"/><rect x="338.00" y="462.20" width="1.05" height="6.50" fill="#4288C0" stroke="none" stroke-width="0.5"/><rect x="339.00" y="462.20" width="1.05" height="6.50" fill="#458EC8" stroke="none" stroke-width="0.5"/><rect x="340.00" y="462.20" width="1.05" height="6.50" fill="#4794D0" stroke="none" stroke-width="0.5"/><rect x="341.00" y="462.20" width="1.05" height="6.50" fill="#4A9AD8" stroke="none" stroke-width="0.5"/><rect x="342.00" y="462.20" width="1.05" height="6.50" fill="#4DA0E0" stroke="none" stroke-width="0.5"/><rect x="343.00" y="462.20" width="1.05" height="6.50" fill="#50A5E7" stroke="none" stroke-width="0.5"/><rect x="344.00" y="462.20" width="1.05" height="6.50" fill="#53ABEF" stroke="none" stroke-width="0.5"/><rect x="345.00" y="462.20" width="1.05" height="6.50" fill="#56B1F7" stroke="none" stroke-width="0.5"/><text x="321.8" y="473.8" font-size="4.0" fill="#333" stroke="#333" stroke-width="0.12" text-anchor="middle">0</text><text x="327.7" y="473.8" font-size="4.0" fill="#333" stroke="#333" stroke-width="0.12" text-anchor="middle">4</text><text x="333.5" y="473.8" font-size="4.0" fill="#333" stroke="#333" stroke-width="0.12" text-anchor="middle">8</text><text x="339.4" y="473.8" font-size="4.0" fill="#333" stroke="#333" stroke-width="0.12" text-anchor="middle">12</text><text x="345.2" y="473.8" font-size="4.0" fill="#333" stroke="#333" stroke-width="0.12" text-anchor="middle">16</text>
</svg></body></html>
